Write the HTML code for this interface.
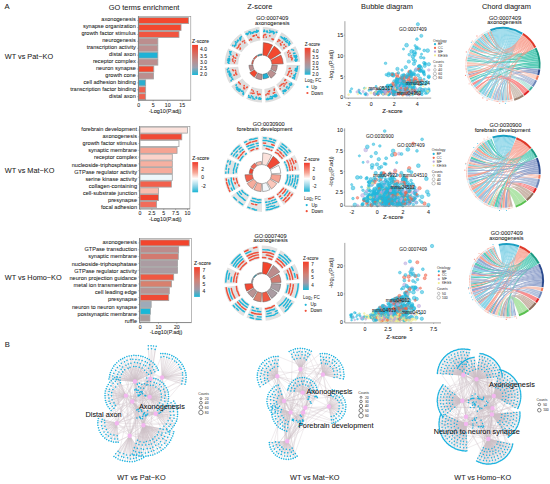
<!DOCTYPE html><html><head><meta charset="utf-8"><style>html,body{margin:0;padding:0;background:#fff;}svg{display:block;}</style></head><body>
<svg width="550" height="484" viewBox="0 0 550 484" font-family='"Liberation Sans", sans-serif'>
<rect width="550" height="484" fill="#fff"/>
<text x="4.6" y="9.1" font-size="7.6" text-anchor="start" fill="#1a1a1a" stroke="#1a1a1a" stroke-width="0.06" >A</text>
<text x="4.8" y="346.6" font-size="7.6" text-anchor="start" fill="#1a1a1a" stroke="#1a1a1a" stroke-width="0.06" >B</text>
<text x="144" y="9.6" font-size="7.4" text-anchor="middle" fill="#222" stroke="#222" stroke-width="0.06" >GO terms enrichment</text>
<text x="259.8" y="9.4" font-size="7.4" text-anchor="middle" fill="#222" stroke="#222" stroke-width="0.06" >Z-score</text>
<text x="387" y="9.4" font-size="7.4" text-anchor="middle" fill="#222" stroke="#222" stroke-width="0.06" >Bubble diagram</text>
<text x="506.4" y="9.4" font-size="7.4" text-anchor="middle" fill="#222" stroke="#222" stroke-width="0.06" >Chord diagram</text>
<text x="4.8" y="59.1" font-size="7.3" text-anchor="start" fill="#222" stroke="#222" stroke-width="0.06" >WT vs Pat−KO</text>
<text x="4.8" y="172.6" font-size="7.3" text-anchor="start" fill="#222" stroke="#222" stroke-width="0.06" >WT vs Mat−KO</text>
<text x="4.8" y="279.5" font-size="7.3" text-anchor="start" fill="#222" stroke="#222" stroke-width="0.06" >WT vs Homo−KO</text>
<text x="141.4" y="479.5" font-size="7.3" text-anchor="middle" fill="#222" stroke="#222" stroke-width="0.06" >WT vs Pat−KO</text>
<text x="314.8" y="479.5" font-size="7.3" text-anchor="middle" fill="#222" stroke="#222" stroke-width="0.06" >WT vs Mat−KO</text>
<text x="482.7" y="479.5" font-size="7.3" text-anchor="middle" fill="#222" stroke="#222" stroke-width="0.06" >WT vs Homo−KO</text>
<rect x="138.4" y="16.4" width="52.4" height="83.8" fill="none" stroke="#8c8c8c" stroke-width="0.6"/>
<rect x="138.7" y="17.6" width="49.88" height="6" fill="#f2482f" stroke="#a2a2a2" stroke-width="0.8"/>
<text x="135.8" y="20.55" font-size="5.6" text-anchor="end" fill="#222" stroke="#222" stroke-width="0.06" >axonogenesis</text>
<line x1="137.2" y1="20.6" x2="138.4" y2="20.6" stroke="#555" stroke-width="0.4"/>
<rect x="138.7" y="24.52" width="42.34" height="6" fill="#f2482f" stroke="#a2a2a2" stroke-width="0.8"/>
<text x="135.8" y="27.61" font-size="5.6" text-anchor="end" fill="#222" stroke="#222" stroke-width="0.06" >synapse organization</text>
<line x1="137.2" y1="27.52" x2="138.4" y2="27.52" stroke="#555" stroke-width="0.4"/>
<rect x="138.7" y="31.44" width="40.31" height="6" fill="#f15540" stroke="#a2a2a2" stroke-width="0.8"/>
<text x="135.8" y="34.67" font-size="5.6" text-anchor="end" fill="#222" stroke="#222" stroke-width="0.06" >growth factor stimulus</text>
<line x1="137.2" y1="34.44" x2="138.4" y2="34.44" stroke="#555" stroke-width="0.4"/>
<rect x="138.7" y="38.36" width="19.14" height="6" fill="#bc8e8e" stroke="#a2a2a2" stroke-width="0.8"/>
<text x="135.8" y="41.73" font-size="5.6" text-anchor="end" fill="#222" stroke="#222" stroke-width="0.06" >neurogenesis</text>
<line x1="137.2" y1="41.36" x2="138.4" y2="41.36" stroke="#555" stroke-width="0.4"/>
<rect x="138.7" y="45.28" width="19.14" height="6" fill="#bc9090" stroke="#a2a2a2" stroke-width="0.8"/>
<text x="135.8" y="48.79" font-size="5.6" text-anchor="end" fill="#222" stroke="#222" stroke-width="0.06" >transcription activity</text>
<line x1="137.2" y1="48.28" x2="138.4" y2="48.28" stroke="#555" stroke-width="0.4"/>
<rect x="138.7" y="52.2" width="19.14" height="6" fill="#1eb2d6" stroke="#a2a2a2" stroke-width="0.8"/>
<text x="135.8" y="55.85" font-size="5.6" text-anchor="end" fill="#222" stroke="#222" stroke-width="0.06" >distal axon</text>
<line x1="137.2" y1="55.2" x2="138.4" y2="55.2" stroke="#555" stroke-width="0.4"/>
<rect x="138.7" y="59.12" width="19.14" height="6" fill="#bc8e8e" stroke="#a2a2a2" stroke-width="0.8"/>
<text x="135.8" y="62.91" font-size="5.6" text-anchor="end" fill="#222" stroke="#222" stroke-width="0.06" >receptor complex</text>
<line x1="137.2" y1="62.12" x2="138.4" y2="62.12" stroke="#555" stroke-width="0.4"/>
<rect x="138.7" y="66.04" width="15.08" height="6" fill="#f2482f" stroke="#a2a2a2" stroke-width="0.8"/>
<text x="135.8" y="69.97" font-size="5.6" text-anchor="end" fill="#222" stroke="#222" stroke-width="0.06" >neuron synapse</text>
<line x1="137.2" y1="69.04" x2="138.4" y2="69.04" stroke="#555" stroke-width="0.4"/>
<rect x="138.7" y="72.96" width="14.79" height="6" fill="#bc8e8e" stroke="#a2a2a2" stroke-width="0.8"/>
<text x="135.8" y="77.03" font-size="5.6" text-anchor="end" fill="#222" stroke="#222" stroke-width="0.06" >growth cone</text>
<line x1="137.2" y1="75.96" x2="138.4" y2="75.96" stroke="#555" stroke-width="0.4"/>
<rect x="138.7" y="79.88" width="6.96" height="6" fill="#2aaed0" stroke="#a2a2a2" stroke-width="0.8"/>
<text x="135.8" y="84.09" font-size="5.6" text-anchor="end" fill="#222" stroke="#222" stroke-width="0.06" >cell adhesion binding</text>
<line x1="137.2" y1="82.88" x2="138.4" y2="82.88" stroke="#555" stroke-width="0.4"/>
<rect x="138.7" y="86.8" width="6.96" height="6" fill="#ee6250" stroke="#a2a2a2" stroke-width="0.8"/>
<text x="135.8" y="91.15" font-size="5.6" text-anchor="end" fill="#222" stroke="#222" stroke-width="0.06" >transcription factor binding</text>
<line x1="137.2" y1="89.8" x2="138.4" y2="89.8" stroke="#555" stroke-width="0.4"/>
<rect x="138.7" y="93.72" width="6.96" height="6" fill="#ee6250" stroke="#a2a2a2" stroke-width="0.8"/>
<text x="135.8" y="98.21" font-size="5.6" text-anchor="end" fill="#222" stroke="#222" stroke-width="0.06" >distal axon</text>
<line x1="137.2" y1="96.72" x2="138.4" y2="96.72" stroke="#555" stroke-width="0.4"/>
<line x1="138.4" y1="16.4" x2="138.4" y2="100.2" stroke="#6a6a6a" stroke-width="0.6"/>
<line x1="138.4" y1="100.2" x2="190.8" y2="100.2" stroke="#6a6a6a" stroke-width="0.6"/>
<line x1="138.7" y1="100.2" x2="138.7" y2="101.4" stroke="#555" stroke-width="0.4"/>
<text x="138.7" y="106.5" font-size="5.2" text-anchor="middle" fill="#222" stroke="#222" stroke-width="0.06" >0</text>
<line x1="153.2" y1="100.2" x2="153.2" y2="101.4" stroke="#555" stroke-width="0.4"/>
<text x="153.2" y="106.5" font-size="5.2" text-anchor="middle" fill="#222" stroke="#222" stroke-width="0.06" >5</text>
<line x1="167.7" y1="100.2" x2="167.7" y2="101.4" stroke="#555" stroke-width="0.4"/>
<text x="167.7" y="106.5" font-size="5.2" text-anchor="middle" fill="#222" stroke="#222" stroke-width="0.06" >10</text>
<line x1="182.2" y1="100.2" x2="182.2" y2="101.4" stroke="#555" stroke-width="0.4"/>
<text x="182.2" y="106.5" font-size="5.2" text-anchor="middle" fill="#222" stroke="#222" stroke-width="0.06" >15</text>
<text x="165.1" y="112.5" font-size="5.5" text-anchor="middle" fill="#222" stroke="#222" stroke-width="0.06" >-Log10(P.adj)</text>
<defs><linearGradient id="g1" x1="0" y1="0" x2="0" y2="1"><stop offset="0" stop-color="#f5402a"/><stop offset="0.5" stop-color="#c08a88"/><stop offset="0.75" stop-color="#9aa2b0"/><stop offset="1" stop-color="#1ab8d8"/></linearGradient></defs>
<rect x="192.1" y="44.9" width="5.9" height="30.1" fill="url(#g1)"/>
<text x="192.1" y="42.7" font-size="5.0" text-anchor="start" fill="#222" stroke="#222" stroke-width="0.06" >Z-score</text>
<text x="200" y="51.3" font-size="5.0" text-anchor="start" fill="#222" stroke="#222" stroke-width="0.06" >4.0</text>
<text x="200" y="57.6" font-size="5.0" text-anchor="start" fill="#222" stroke="#222" stroke-width="0.06" >3.5</text>
<text x="200" y="63.8" font-size="5.0" text-anchor="start" fill="#222" stroke="#222" stroke-width="0.06" >3.0</text>
<text x="200" y="70" font-size="5.0" text-anchor="start" fill="#222" stroke="#222" stroke-width="0.06" >2.5</text>
<text x="200" y="76.1" font-size="5.0" text-anchor="start" fill="#222" stroke="#222" stroke-width="0.06" >2.0</text>
<rect x="139.5" y="126.3" width="50.4" height="82.6" fill="none" stroke="#8c8c8c" stroke-width="0.6"/>
<rect x="140" y="127.1" width="47.5" height="6" fill="#fbe2dc" stroke="#a2a2a2" stroke-width="0.8"/>
<text x="137" y="130.95" font-size="5.6" text-anchor="end" fill="#222" stroke="#222" stroke-width="0.06" >forebrain development</text>
<line x1="138.3" y1="130.1" x2="139.5" y2="130.1" stroke="#555" stroke-width="0.4"/>
<rect x="140" y="133.85" width="41.8" height="6" fill="#f04a35" stroke="#a2a2a2" stroke-width="0.8"/>
<text x="137" y="138.07" font-size="5.6" text-anchor="end" fill="#222" stroke="#222" stroke-width="0.06" >axonogenesis</text>
<line x1="138.3" y1="136.85" x2="139.5" y2="136.85" stroke="#555" stroke-width="0.4"/>
<rect x="140" y="140.6" width="38.95" height="6" fill="#ffffff" stroke="#a2a2a2" stroke-width="0.8"/>
<text x="137" y="145.19" font-size="5.6" text-anchor="end" fill="#222" stroke="#222" stroke-width="0.06" >growth factor stimulus</text>
<line x1="138.3" y1="143.6" x2="139.5" y2="143.6" stroke="#555" stroke-width="0.4"/>
<rect x="140" y="147.35" width="37.05" height="6" fill="#f5a493" stroke="#a2a2a2" stroke-width="0.8"/>
<text x="137" y="152.31" font-size="5.6" text-anchor="end" fill="#222" stroke="#222" stroke-width="0.06" >synaptic membrane</text>
<line x1="138.3" y1="150.35" x2="139.5" y2="150.35" stroke="#555" stroke-width="0.4"/>
<rect x="140" y="154.1" width="32.3" height="6" fill="#fbd3ca" stroke="#a2a2a2" stroke-width="0.8"/>
<text x="137" y="159.43" font-size="5.6" text-anchor="end" fill="#222" stroke="#222" stroke-width="0.06" >receptor complex</text>
<line x1="138.3" y1="157.1" x2="139.5" y2="157.1" stroke="#555" stroke-width="0.4"/>
<rect x="140" y="160.85" width="32.3" height="6" fill="#f6b0a1" stroke="#a2a2a2" stroke-width="0.8"/>
<text x="137" y="166.55" font-size="5.6" text-anchor="end" fill="#222" stroke="#222" stroke-width="0.06" >nucleoside-triphosphatase</text>
<line x1="138.3" y1="163.85" x2="139.5" y2="163.85" stroke="#555" stroke-width="0.4"/>
<rect x="140" y="167.6" width="32.3" height="6" fill="#f6ac9c" stroke="#a2a2a2" stroke-width="0.8"/>
<text x="137" y="173.67" font-size="5.6" text-anchor="end" fill="#222" stroke="#222" stroke-width="0.06" >GTPase regulator activity</text>
<line x1="138.3" y1="170.6" x2="139.5" y2="170.6" stroke="#555" stroke-width="0.4"/>
<rect x="140" y="174.35" width="32.3" height="6" fill="#eef8fb" stroke="#a2a2a2" stroke-width="0.8"/>
<text x="137" y="180.79" font-size="5.6" text-anchor="end" fill="#222" stroke="#222" stroke-width="0.06" >serine kinase activity</text>
<line x1="138.3" y1="177.35" x2="139.5" y2="177.35" stroke="#555" stroke-width="0.4"/>
<rect x="140" y="181.1" width="31.35" height="6" fill="#f2604c" stroke="#a2a2a2" stroke-width="0.8"/>
<text x="137" y="187.91" font-size="5.6" text-anchor="end" fill="#222" stroke="#222" stroke-width="0.06" >collagen-containing</text>
<line x1="138.3" y1="184.1" x2="139.5" y2="184.1" stroke="#555" stroke-width="0.4"/>
<rect x="140" y="187.85" width="18.52" height="6" fill="#f8bcae" stroke="#a2a2a2" stroke-width="0.8"/>
<text x="137" y="195.03" font-size="5.6" text-anchor="end" fill="#222" stroke="#222" stroke-width="0.06" >cell-substrate junction</text>
<line x1="138.3" y1="190.85" x2="139.5" y2="190.85" stroke="#555" stroke-width="0.4"/>
<rect x="140" y="194.6" width="18.52" height="6" fill="#f0442f" stroke="#a2a2a2" stroke-width="0.8"/>
<text x="137" y="202.15" font-size="5.6" text-anchor="end" fill="#222" stroke="#222" stroke-width="0.06" >presynapse</text>
<line x1="138.3" y1="197.6" x2="139.5" y2="197.6" stroke="#555" stroke-width="0.4"/>
<rect x="140" y="201.35" width="16.62" height="6" fill="#f26c5a" stroke="#a2a2a2" stroke-width="0.8"/>
<text x="137" y="209.27" font-size="5.6" text-anchor="end" fill="#222" stroke="#222" stroke-width="0.06" >focal adhesion</text>
<line x1="138.3" y1="204.35" x2="139.5" y2="204.35" stroke="#555" stroke-width="0.4"/>
<line x1="139.5" y1="126.3" x2="139.5" y2="208.9" stroke="#6a6a6a" stroke-width="0.6"/>
<line x1="139.5" y1="208.9" x2="189.9" y2="208.9" stroke="#6a6a6a" stroke-width="0.6"/>
<line x1="140" y1="208.9" x2="140" y2="210.1" stroke="#555" stroke-width="0.4"/>
<text x="140" y="214.8" font-size="5.2" text-anchor="middle" fill="#222" stroke="#222" stroke-width="0.06" >0</text>
<line x1="151.88" y1="208.9" x2="151.88" y2="210.1" stroke="#555" stroke-width="0.4"/>
<text x="151.88" y="214.8" font-size="5.2" text-anchor="middle" fill="#222" stroke="#222" stroke-width="0.06" >2.5</text>
<line x1="163.75" y1="208.9" x2="163.75" y2="210.1" stroke="#555" stroke-width="0.4"/>
<text x="163.75" y="214.8" font-size="5.2" text-anchor="middle" fill="#222" stroke="#222" stroke-width="0.06" >5</text>
<line x1="175.62" y1="208.9" x2="175.62" y2="210.1" stroke="#555" stroke-width="0.4"/>
<text x="175.62" y="214.8" font-size="5.2" text-anchor="middle" fill="#222" stroke="#222" stroke-width="0.06" >7.5</text>
<line x1="187.5" y1="208.9" x2="187.5" y2="210.1" stroke="#555" stroke-width="0.4"/>
<text x="187.5" y="214.8" font-size="5.2" text-anchor="middle" fill="#222" stroke="#222" stroke-width="0.06" >10</text>
<text x="165.2" y="221" font-size="5.5" text-anchor="middle" fill="#222" stroke="#222" stroke-width="0.06" >-Log10(P.adj)</text>
<defs><linearGradient id="g2" x1="0" y1="0" x2="0" y2="1"><stop offset="0" stop-color="#f03a2a"/><stop offset="0.35" stop-color="#f7a898"/><stop offset="0.55" stop-color="#ffffff"/><stop offset="0.8" stop-color="#8fd3e6"/><stop offset="1" stop-color="#1ab5d5"/></linearGradient></defs>
<rect x="192.3" y="162.1" width="5.8" height="30.2" fill="url(#g2)"/>
<text x="192.3" y="159.9" font-size="5.0" text-anchor="start" fill="#222" stroke="#222" stroke-width="0.06" >Z-score</text>
<text x="201.3" y="170.8" font-size="5.0" text-anchor="start" fill="#222" stroke="#222" stroke-width="0.06" >2</text>
<text x="201.3" y="179.2" font-size="5.0" text-anchor="start" fill="#222" stroke="#222" stroke-width="0.06" >0</text>
<text x="201.3" y="187.6" font-size="5.0" text-anchor="start" fill="#222" stroke="#222" stroke-width="0.06" >-2</text>
<rect x="139.5" y="238.4" width="52.1" height="84.2" fill="none" stroke="#8c8c8c" stroke-width="0.6"/>
<rect x="140.2" y="239.9" width="49.04" height="6" fill="#f2452d" stroke="#a2a2a2" stroke-width="0.8"/>
<text x="137" y="244.15" font-size="5.6" text-anchor="end" fill="#222" stroke="#222" stroke-width="0.06" >axonogenesis</text>
<line x1="138.3" y1="242.9" x2="139.5" y2="242.9" stroke="#555" stroke-width="0.4"/>
<rect x="140.2" y="246.74" width="38.43" height="6" fill="#bc8c8c" stroke="#a2a2a2" stroke-width="0.8"/>
<text x="137" y="251.3" font-size="5.6" text-anchor="end" fill="#222" stroke="#222" stroke-width="0.06" >GTPase transduction</text>
<line x1="138.3" y1="249.74" x2="139.5" y2="249.74" stroke="#555" stroke-width="0.4"/>
<rect x="140.2" y="253.58" width="38.06" height="6" fill="#d27a70" stroke="#a2a2a2" stroke-width="0.8"/>
<text x="137" y="258.45" font-size="5.6" text-anchor="end" fill="#222" stroke="#222" stroke-width="0.06" >synaptic membrane</text>
<line x1="138.3" y1="256.58" x2="139.5" y2="256.58" stroke="#555" stroke-width="0.4"/>
<rect x="140.2" y="260.42" width="37.33" height="6" fill="#ab9ca2" stroke="#a2a2a2" stroke-width="0.8"/>
<text x="137" y="265.6" font-size="5.6" text-anchor="end" fill="#222" stroke="#222" stroke-width="0.06" >nucleoside-triphosphatase</text>
<line x1="138.3" y1="263.42" x2="139.5" y2="263.42" stroke="#555" stroke-width="0.4"/>
<rect x="140.2" y="267.26" width="37.33" height="6" fill="#ab9ca2" stroke="#a2a2a2" stroke-width="0.8"/>
<text x="137" y="272.75" font-size="5.6" text-anchor="end" fill="#222" stroke="#222" stroke-width="0.06" >GTPase regulator activity</text>
<line x1="138.3" y1="270.26" x2="139.5" y2="270.26" stroke="#555" stroke-width="0.4"/>
<rect x="140.2" y="274.1" width="33.49" height="6" fill="#f05842" stroke="#a2a2a2" stroke-width="0.8"/>
<text x="137" y="279.9" font-size="5.6" text-anchor="end" fill="#222" stroke="#222" stroke-width="0.06" >neuron projection guidance</text>
<line x1="138.3" y1="277.1" x2="139.5" y2="277.1" stroke="#555" stroke-width="0.4"/>
<rect x="140.2" y="280.94" width="31.29" height="6" fill="#d8806e" stroke="#a2a2a2" stroke-width="0.8"/>
<text x="137" y="287.05" font-size="5.6" text-anchor="end" fill="#222" stroke="#222" stroke-width="0.06" >metal ion transmembrane</text>
<line x1="138.3" y1="283.94" x2="139.5" y2="283.94" stroke="#555" stroke-width="0.4"/>
<rect x="140.2" y="287.78" width="29.1" height="6" fill="#b89494" stroke="#a2a2a2" stroke-width="0.8"/>
<text x="137" y="294.2" font-size="5.6" text-anchor="end" fill="#222" stroke="#222" stroke-width="0.06" >cell leading edge</text>
<line x1="138.3" y1="290.78" x2="139.5" y2="290.78" stroke="#555" stroke-width="0.4"/>
<rect x="140.2" y="294.62" width="28.55" height="6" fill="#f04a35" stroke="#a2a2a2" stroke-width="0.8"/>
<text x="137" y="301.35" font-size="5.6" text-anchor="end" fill="#222" stroke="#222" stroke-width="0.06" >presynapse</text>
<line x1="138.3" y1="297.62" x2="139.5" y2="297.62" stroke="#555" stroke-width="0.4"/>
<rect x="140.2" y="301.46" width="10.98" height="6" fill="#9eaab8" stroke="#a2a2a2" stroke-width="0.8"/>
<text x="137" y="308.5" font-size="5.6" text-anchor="end" fill="#222" stroke="#222" stroke-width="0.06" >neuron to neuron synapse</text>
<line x1="138.3" y1="304.46" x2="139.5" y2="304.46" stroke="#555" stroke-width="0.4"/>
<rect x="140.2" y="308.3" width="10.25" height="6" fill="#1ab8d8" stroke="#a2a2a2" stroke-width="0.8"/>
<text x="137" y="315.65" font-size="5.6" text-anchor="end" fill="#222" stroke="#222" stroke-width="0.06" >postsynaptic membrane</text>
<line x1="138.3" y1="311.3" x2="139.5" y2="311.3" stroke="#555" stroke-width="0.4"/>
<rect x="140.2" y="315.14" width="9.7" height="6" fill="#ab9c9c" stroke="#a2a2a2" stroke-width="0.8"/>
<text x="137" y="322.8" font-size="5.6" text-anchor="end" fill="#222" stroke="#222" stroke-width="0.06" >ruffle</text>
<line x1="138.3" y1="318.14" x2="139.5" y2="318.14" stroke="#555" stroke-width="0.4"/>
<line x1="139.5" y1="238.4" x2="139.5" y2="322.6" stroke="#6a6a6a" stroke-width="0.6"/>
<line x1="139.5" y1="322.6" x2="191.6" y2="322.6" stroke="#6a6a6a" stroke-width="0.6"/>
<line x1="140.2" y1="322.6" x2="140.2" y2="323.8" stroke="#555" stroke-width="0.4"/>
<text x="140.2" y="328.6" font-size="5.2" text-anchor="middle" fill="#222" stroke="#222" stroke-width="0.06" >0</text>
<line x1="158.5" y1="322.6" x2="158.5" y2="323.8" stroke="#555" stroke-width="0.4"/>
<text x="158.5" y="328.6" font-size="5.2" text-anchor="middle" fill="#222" stroke="#222" stroke-width="0.06" >10</text>
<line x1="176.8" y1="322.6" x2="176.8" y2="323.8" stroke="#555" stroke-width="0.4"/>
<text x="176.8" y="328.6" font-size="5.2" text-anchor="middle" fill="#222" stroke="#222" stroke-width="0.06" >20</text>
<text x="166.05" y="334.3" font-size="5.5" text-anchor="middle" fill="#222" stroke="#222" stroke-width="0.06" >-Log10(P.adj)</text>
<defs><linearGradient id="g3" x1="0" y1="0" x2="0" y2="1"><stop offset="0" stop-color="#f5402a"/><stop offset="0.45" stop-color="#d08278"/><stop offset="0.75" stop-color="#a09aa8"/><stop offset="1" stop-color="#1ab8d8"/></linearGradient></defs>
<rect x="194.1" y="267.1" width="5.8" height="29.8" fill="url(#g3)"/>
<text x="194.1" y="264.9" font-size="5.0" text-anchor="start" fill="#222" stroke="#222" stroke-width="0.06" >Z-score</text>
<text x="202.5" y="272.1" font-size="5.0" text-anchor="start" fill="#222" stroke="#222" stroke-width="0.06" >7</text>
<text x="202.5" y="279.1" font-size="5.0" text-anchor="start" fill="#222" stroke="#222" stroke-width="0.06" >6</text>
<text x="202.5" y="286.1" font-size="5.0" text-anchor="start" fill="#222" stroke="#222" stroke-width="0.06" >5</text>
<text x="202.5" y="293.1" font-size="5.0" text-anchor="start" fill="#222" stroke="#222" stroke-width="0.06" >4</text>
<path d="M262.8,26.9 A37.8,37.8 0 0 1 278.61,30.55 L272.82,42.75 A24.3,24.3 0 0 0 262.65,40.4 Z" fill="#dedede"/>
<path d="M281.64,32.16 A37.8,37.8 0 0 1 293.51,43.24 L282.4,50.9 A24.3,24.3 0 0 0 274.77,43.78 Z" fill="#dedede"/>
<path d="M295.33,46.14 A37.8,37.8 0 0 1 300.08,61.67 L286.62,62.75 A24.3,24.3 0 0 0 283.57,52.77 Z" fill="#dedede"/>
<path d="M300.2,65.1 A37.8,37.8 0 0 1 296.55,80.91 L284.35,75.12 A24.3,24.3 0 0 0 286.7,64.95 Z" fill="#dedede"/>
<path d="M294.94,83.94 A37.8,37.8 0 0 1 283.86,95.81 L276.2,84.7 A24.3,24.3 0 0 0 283.32,77.07 Z" fill="#dedede"/>
<path d="M280.96,97.63 A37.8,37.8 0 0 1 265.43,102.38 L264.35,88.92 A24.3,24.3 0 0 0 274.33,85.87 Z" fill="#dedede"/>
<path d="M262,102.5 A37.8,37.8 0 0 1 246.19,98.85 L251.98,86.65 A24.3,24.3 0 0 0 262.15,89 Z" fill="#dedede"/>
<path d="M243.16,97.24 A37.8,37.8 0 0 1 231.29,86.16 L242.4,78.5 A24.3,24.3 0 0 0 250.03,85.62 Z" fill="#dedede"/>
<path d="M229.47,83.26 A37.8,37.8 0 0 1 224.72,67.73 L238.18,66.65 A24.3,24.3 0 0 0 241.23,76.63 Z" fill="#dedede"/>
<path d="M224.6,64.3 A37.8,37.8 0 0 1 228.25,48.49 L240.45,54.28 A24.3,24.3 0 0 0 238.1,64.45 Z" fill="#dedede"/>
<path d="M229.86,45.46 A37.8,37.8 0 0 1 240.94,33.59 L248.6,44.7 A24.3,24.3 0 0 0 241.48,52.33 Z" fill="#dedede"/>
<path d="M243.84,31.77 A37.8,37.8 0 0 1 259.37,27.02 L260.45,40.48 A24.3,24.3 0 0 0 250.47,43.53 Z" fill="#dedede"/>
<path d="M270.79 31.78h0M269.87 30.3h0M271.18 31.73h0M270.03 32.31h0M273.83 32.21h0M267.41 32.04h0M273.56 33.61h0M264.22 30.14h0M276.29 32.19h0M271.63 31.46h0M263.81 31.52h0M264.43 30.59h0M266.67 31.68h0M269.36 32.57h0M274.27 32.9h0M271.85 31.88h0M272.11 32.01h0M267.23 31.06h0M276.69 32.32h0M272.94 31.34h0M266.56 31.34h0M264.52 31.22h0M285.26 39.19h0M287.17 42.44h0M286.29 41.73h0M284.24 39.82h0M282.93 38.41h0M289.31 41.81h0M288.65 43.74h0M284.14 39.42h0M287.63 40.41h0M289.03 45.11h0M282.81 38.32h0M284.43 37.75h0M281.03 36.77h0M285.68 41.26h0M286.13 41.15h0M284.99 39.6h0M286.31 38.74h0M289.05 43.11h0M281.7 37.6h0M289.31 42.06h0M282.17 37.72h0M289.98 43.61h0M293.68 53.4h0M293.47 50.19h0M295.77 59.73h0M296.76 56.4h0M295.79 55.65h0M291.91 49.57h0M294.92 60.1h0M296.77 60.53h0M294.28 56.73h0M295.71 57.63h0M295.84 61.12h0M294.12 55.61h0M296.75 59.7h0M296.29 57.15h0M296.93 59.88h0M295.26 57.14h0M297.12 59.26h0M295.7 58.43h0M296.18 55.39h0M294.84 53.17h0M295.6 56.03h0M294.43 56.74h0M295.96 69.16h0M294.85 76.27h0M296.94 68.61h0M295.52 68.7h0M297.36 68.79h0M295.07 70.31h0M297.48 66.53h0M292.64 77.83h0M297.23 67.48h0M293.89 77.6h0M296.78 71.03h0M295.1 74.54h0M294.88 76.81h0M296.39 70.13h0M297 69.66h0M295.3 74.69h0M295.44 70.42h0M295.81 73.27h0M296.24 71.24h0M293.9 75.47h0M294.05 75.65h0M294.37 78.63h0M285.2 91.37h0M288.51 88.39h0M290.1 85.25h0M284.72 91.24h0M285.58 90.21h0M283.06 90.88h0M283.47 93.08h0M284.68 90.64h0M283.14 91.18h0M289.35 87.07h0M287.05 86.67h0M284.93 90.47h0M291.06 83.11h0M291.51 83.96h0M290.66 85.14h0M284.37 90.22h0M289.45 83.88h0M285.3 90.02h0M286.2 90.34h0M288.25 88.67h0M291.65 84.41h0M286.58 87.71h0M268.78 99.31h0M275.37 95.97h0M274.33 96.62h0M266.99 99.54h0M272.37 98.45h0M273.04 96.03h0M274.84 95.13h0M266.38 99.1h0M276.05 94.63h0M274.54 95.2h0M275.71 96.73h0M272.37 97.31h0M267.96 98.56h0M269.71 98.34h0M267.66 98.92h0M270.41 96.57h0M271.14 98.54h0M267.79 98.47h0M275.84 96.14h0M271.63 96.76h0M276.87 95.83h0M271.04 98.8h0M248.77 95.51h0M250.67 97.64h0M260.84 98.72h0M253.12 98.22h0M254.74 99.01h0M259.73 97.89h0M259.19 97.79h0M252.72 96.81h0M259.39 98.88h0M260.11 99.19h0M256.31 97.19h0M256.61 98.11h0M256.47 97.52h0M260.6 99.1h0M256.05 97.41h0M256.44 97.9h0M253.12 98.65h0M251.44 95.88h0M260.08 98.26h0M249.75 97.32h0M248.9 97.17h0M258.66 98.78h0M236.89 89.25h0M236.39 87.55h0M243.36 94.48h0M236.75 87.63h0M240.51 90.01h0M242.88 91.22h0M243.39 92.62h0M236.1 85.37h0M238.98 89.66h0M237.66 89.9h0M236.94 89.28h0M243 93.72h0M236.61 87.4h0M236.33 84.79h0M240.01 89.23h0M239.77 89.05h0M243.48 93.42h0M239.14 91.2h0M238.18 88.81h0M241.47 91.18h0M238.29 89.38h0M237.59 87.26h0M230.8 73.99h0M230.94 75.07h0M229.55 75.35h0M230.09 73.48h0M229.13 71.13h0M228.42 68.36h0M227.88 71.97h0M232.22 79.04h0M227.9 71.28h0M230.07 76.51h0M229.75 72.22h0M229.3 73.57h0M228.64 71.55h0M231.63 77.43h0M227.39 69.58h0M231.15 80.65h0M231.84 77.04h0M229.55 73.08h0M230.63 73.87h0M232.75 79.17h0M229.16 74.17h0M229.99 76.35h0M229.63 60.82h0M227.96 62.36h0M230.44 54.37h0M228.16 59.72h0M229.72 59h0M228.25 58.62h0M230.84 54.71h0M230.64 51.79h0M229.73 51.49h0M230.43 53.31h0M229.22 59.43h0M231.13 51.76h0M227.58 60.11h0M229.18 58.8h0M229.24 58.42h0M228.8 60.96h0M230.09 53.28h0M230.33 52.81h0M228.32 61.15h0M230 52.07h0M228.9 63.19h0M229.27 56.46h0M240.68 38.71h0M240.53 37.97h0M240.1 37.86h0M241.26 36.67h0M237.41 40.97h0M239.94 38.32h0M236.92 42.34h0M240.31 39.94h0M235.41 41.83h0M235.7 44.9h0M235.85 43.61h0M232.91 45.26h0M234.74 45.62h0M239.78 38.67h0M234.65 46.36h0M238.29 40.73h0M232.87 45.6h0M235.68 45.2h0M235.83 44.51h0M237.92 40.16h0M235.44 45.02h0M235.23 45.06h0M250.56 33.67h0M257.19 31.63h0M254.13 31.57h0M249.09 31.92h0M248.16 33.62h0M246.13 33.93h0M256.66 30.24h0M247.03 33.33h0M255.27 31.96h0M252.5 33.17h0M258.21 30.94h0M256.91 30.82h0M256.17 31.69h0M257.73 31.14h0M256.73 32.15h0M253.18 32.66h0M248.25 33.6h0M249.81 32.08h0M247.54 34.56h0M252.18 32.7h0M250.51 32.14h0M247.46 33.51h0" stroke="#1fb6d8" stroke-width="1.7" stroke-linecap="round" />
<path d="M272.05 38.97h0M263.67 35.35h0M272.75 39.48h0M273.38 39.42h0M269.83 35.84h0M266.28 37.04h0M263.56 37.35h0M264.86 34.59h0M263.54 36.87h0M265.55 34.61h0M280.49 43.56h0M282.21 42.14h0M281 44.94h0M284.2 44.7h0M285.83 46.28h0M279.8 40.69h0M280.76 44.7h0M283.97 47.91h0M277.84 41.46h0M278.83 39.8h0M292.09 58.38h0M292.07 57.98h0M291.81 59.71h0M288.86 56.77h0M291.05 55.71h0M287.82 52.61h0M288.63 50.96h0M290.92 57.29h0M288.55 54.96h0M289.99 53.19h0M288.89 72.21h0M291.52 73.61h0M290.14 68.44h0M289.51 71.34h0M289.35 68.51h0M290.02 76.28h0M288.32 73.81h0M287.45 75.04h0M291.21 70.82h0M288.98 71.57h0M284.07 85.88h0M279.98 86.02h0M284.99 83.94h0M284.77 80.47h0M286.51 82.53h0M281.82 84.32h0M285.57 79.78h0M280.15 88.83h0M281.16 84.93h0M283.26 83.55h0M273.3 93.06h0M274.59 92.52h0M274.25 90.14h0M274.3 89.11h0M267.39 93.69h0M268.9 93.94h0M268.56 91.48h0M269.64 90.83h0M265.99 94.88h0M269.17 91.71h0M258.33 94.69h0M253.29 91.06h0M257.64 93.77h0M252.67 93.31h0M259.25 94.08h0M260.18 94.28h0M251.09 93.01h0M251.88 89.87h0M253.97 93.18h0M257.32 91.87h0M240.28 83.97h0M244.18 85.65h0M243.93 87.53h0M238.75 82.1h0M239.29 82.86h0M244.01 88.61h0M247.17 87.06h0M238.85 82.43h0M246.65 87.52h0M244.63 88.68h0M234.56 75.12h0M232.63 69.75h0M235.83 73.41h0M235.43 70.24h0M233.93 74.98h0M233.33 70.54h0M236.52 74.04h0M236.65 74.5h0M235.88 72.06h0M233.29 70.36h0M233.16 56.15h0M233.9 57.58h0M235.27 60.86h0M234.39 62.77h0M236.9 55.47h0M233.02 61.14h0M232.71 59.09h0M232.53 59.78h0M235.61 58.11h0M236.59 54.25h0M244.16 40.81h0M240.1 44.15h0M238.96 45.34h0M240.35 48.13h0M240.08 49.05h0M242.58 41.56h0M237.14 48.07h0M244.79 42.84h0M238.72 46.54h0M237.96 47.25h0M256.33 35.21h0M249.51 40.08h0M253.31 35.95h0M253.18 36.18h0M257.78 37.06h0M250.72 39.16h0M256.31 34.89h0M254.18 35.63h0M251.49 39.67h0M258.92 37.53h0" stroke="#f0503a" stroke-width="1.7" stroke-linecap="round" />
<path d="M263.33,42.62 A22.1,22.1 0 0 1 272.64,45.11 L266.8,56.28 A9.5,9.5 0 0 0 262.8,55.21 Z" fill="#f2482f" stroke="#555" stroke-width="0.45"/>
<path d="M274.19,46.12 A22,22 0 0 1 280.98,52.91 L270.42,59.61 A9.5,9.5 0 0 0 267.49,56.68 Z" fill="#f2482f" stroke="#555" stroke-width="0.45"/>
<path d="M280.92,55.02 A20.9,20.9 0 0 1 283.28,63.82 L271.89,64.3 A9.5,9.5 0 0 0 270.82,60.3 Z" fill="#f15540" stroke="#555" stroke-width="0.45"/>
<path d="M277.39,65.33 A15,15 0 0 1 275.69,71.65 L270.82,69.1 A9.5,9.5 0 0 0 271.89,65.1 Z" fill="#bc8e8e" stroke="#555" stroke-width="0.45"/>
<path d="M275.91,73.27 A16,16 0 0 1 270.97,78.21 L267.49,72.72 A9.5,9.5 0 0 0 270.42,69.79 Z" fill="#bc9090" stroke="#555" stroke-width="0.45"/>
<path d="M269.03,77.37 A14.3,14.3 0 0 1 263,78.99 L262.8,74.19 A9.5,9.5 0 0 0 266.8,73.12 Z" fill="#1eb2d6" stroke="#555" stroke-width="0.45"/>
<path d="M261.77,79.69 A15,15 0 0 1 255.45,77.99 L258,73.12 A9.5,9.5 0 0 0 262,74.19 Z" fill="#bc8e8e" stroke="#555" stroke-width="0.45"/>
<path d="M254.36,77.36 A15,15 0 0 1 249.74,72.74 L254.38,69.79 A9.5,9.5 0 0 0 257.31,72.72 Z" fill="#f2482f" stroke="#555" stroke-width="0.45"/>
<path d="M250.44,70.95 A13.5,13.5 0 0 1 248.91,65.27 L252.91,65.1 A9.5,9.5 0 0 0 253.98,69.1 Z" fill="#bc8e8e" stroke="#555" stroke-width="0.45"/>
<path d="M251.61,64.25 A10.8,10.8 0 0 1 252.83,59.7 L253.98,60.3 A9.5,9.5 0 0 0 252.91,64.3 Z" fill="#ee6250" stroke="#555" stroke-width="0.45"/>
<path d="M253.28,58.91 A10.8,10.8 0 0 1 256.61,55.58 L257.31,56.68 A9.5,9.5 0 0 0 254.38,59.61 Z" fill="#ee6250" stroke="#555" stroke-width="0.45"/>
<path d="M257.4,55.13 A10.8,10.8 0 0 1 261.95,53.91 L262,55.21 A9.5,9.5 0 0 0 258,56.28 Z" fill="#2a9fb8" stroke="#555" stroke-width="0.45"/>
<text x="272.3" y="19.8" font-size="5.6" text-anchor="middle" fill="#222" stroke="#222" stroke-width="0.06" >GO:0007409</text>
<text x="272.3" y="24.95" font-size="5.6" text-anchor="middle" fill="#222" stroke="#222" stroke-width="0.06" >axonogenesis</text>
<rect x="304.7" y="47.8" width="5.8" height="26.9" fill="url(#g1)"/>
<text x="304.7" y="45.8" font-size="4.55" text-anchor="start" fill="#222" stroke="#222" stroke-width="0.036" >Z-score</text>
<text x="312.2" y="53.4" font-size="4.55" text-anchor="start" fill="#222" stroke="#222" stroke-width="0.036" >4.0</text>
<text x="312.2" y="59" font-size="4.55" text-anchor="start" fill="#222" stroke="#222" stroke-width="0.036" >3.5</text>
<text x="312.2" y="64.5" font-size="4.55" text-anchor="start" fill="#222" stroke="#222" stroke-width="0.036" >3.0</text>
<text x="312.2" y="69.9" font-size="4.55" text-anchor="start" fill="#222" stroke="#222" stroke-width="0.036" >2.5</text>
<text x="312.2" y="75.6" font-size="4.55" text-anchor="start" fill="#222" stroke="#222" stroke-width="0.036" >2.0</text>
<text x="304.7" y="82.4" font-size="4.55" fill="#222">Log<tspan font-size="3.2" dy="1">2</tspan><tspan dy="-1"> FC</tspan></text>
<circle cx="307.4" cy="86.9" r="1.1" fill="#1fb6d8"/>
<text x="311.3" y="88.5" font-size="4.55" text-anchor="start" fill="#222" stroke="#222" stroke-width="0.036" >Up</text>
<circle cx="307.4" cy="93" r="1.1" fill="#f0503a"/>
<text x="311.3" y="94.6" font-size="4.55" text-anchor="start" fill="#222" stroke="#222" stroke-width="0.036" >Down</text>
<path d="M261.77,136.3 A37.8,37.8 0 0 1 277.64,139.73 L272.02,152.01 A24.3,24.3 0 0 0 261.82,149.8 Z" fill="#e4e4e4"/>
<path d="M280.69,141.3 A37.8,37.8 0 0 1 292.71,152.2 L281.71,160.02 A24.3,24.3 0 0 0 273.98,153.01 Z" fill="#e4e4e4"/>
<path d="M294.57,155.09 A37.8,37.8 0 0 1 299.53,170.54 L286.09,171.81 A24.3,24.3 0 0 0 282.9,161.88 Z" fill="#e4e4e4"/>
<path d="M299.7,173.97 A37.8,37.8 0 0 1 296.27,189.84 L283.99,184.22 A24.3,24.3 0 0 0 286.2,174.02 Z" fill="#e4e4e4"/>
<path d="M294.7,192.89 A37.8,37.8 0 0 1 283.8,204.91 L275.98,193.91 A24.3,24.3 0 0 0 282.99,186.18 Z" fill="#e4e4e4"/>
<path d="M280.91,206.77 A37.8,37.8 0 0 1 265.46,211.73 L264.19,198.29 A24.3,24.3 0 0 0 274.12,195.1 Z" fill="#e4e4e4"/>
<path d="M262.03,211.9 A37.8,37.8 0 0 1 246.16,208.47 L251.78,196.19 A24.3,24.3 0 0 0 261.98,198.4 Z" fill="#e4e4e4"/>
<path d="M243.11,206.9 A37.8,37.8 0 0 1 231.09,196 L242.09,188.18 A24.3,24.3 0 0 0 249.82,195.19 Z" fill="#e4e4e4"/>
<path d="M229.23,193.11 A37.8,37.8 0 0 1 224.27,177.66 L237.71,176.39 A24.3,24.3 0 0 0 240.9,186.32 Z" fill="#e4e4e4"/>
<path d="M224.1,174.23 A37.8,37.8 0 0 1 227.53,158.36 L239.81,163.98 A24.3,24.3 0 0 0 237.6,174.18 Z" fill="#e4e4e4"/>
<path d="M229.1,155.31 A37.8,37.8 0 0 1 240,143.29 L247.82,154.29 A24.3,24.3 0 0 0 240.81,162.02 Z" fill="#e4e4e4"/>
<path d="M242.89,141.43 A37.8,37.8 0 0 1 258.34,136.47 L259.61,149.91 A24.3,24.3 0 0 0 249.68,153.1 Z" fill="#e4e4e4"/>
<path d="M263.9 145.51A28.66 28.66 0 0 1 265.15 145.63M266.56 146.02A28.46 28.46 0 0 1 267.9 146.28M268.85 146.44A28.52 28.52 0 0 1 270.52 146.91M271.59 147.09A28.69 28.69 0 0 1 273.13 147.7M263.13 140.42A33.71 33.71 0 0 1 264.42 140.49M265.27 140.41A33.86 33.86 0 0 1 266.77 140.59M267.98 140.99A33.66 33.66 0 0 1 269.47 141.3M270.36 141.45A33.72 33.72 0 0 1 272.02 141.93M272.72 142.3A33.59 33.59 0 0 1 274.28 142.88M263.76 137.85A36.3 36.3 0 0 1 266.07 138.04M269.63 138.75A36.18 36.18 0 0 1 271.75 139.28M273.55 139.97A36.06 36.06 0 0 1 275.51 140.71M278.96 147.92A31.24 31.24 0 0 1 280.51 149M280.96 149.38A31.22 31.22 0 0 1 282.25 150.43M283.77 151.7A31.3 31.3 0 0 1 284.71 152.67M285.37 153.67A31.12 31.12 0 0 1 286.74 155.36M280.82 146.1A33.79 33.79 0 0 1 282.64 147.42M283.2 147.92A33.75 33.75 0 0 1 285.23 149.71M286.1 150.75A33.63 33.63 0 0 1 287.87 152.73M282.06 143.95A36.27 36.27 0 0 1 283.93 145.29M284.88 146.05A36.26 36.26 0 0 1 286.6 147.55M288.86 149.97A36.18 36.18 0 0 1 290.22 151.58M284.65 162A25.77 25.77 0 0 1 285.07 162.82M285.92 164.42A25.9 25.9 0 0 1 286.37 165.63M286.88 166.99A25.97 25.97 0 0 1 287.14 168M287.5 169.75A25.97 25.97 0 0 1 287.65 170.77M287.64 174.97A25.76 25.76 0 0 1 287.57 176.19M287.77 176.86A26.01 26.01 0 0 1 287.6 178.12M287.45 179.05A26.03 26.03 0 0 1 287.16 180.38M286.85 180.86A25.85 25.85 0 0 1 286.54 181.91M286.1 182.39A25.58 25.58 0 0 1 285.64 183.64M290.37 176.06A28.53 28.53 0 0 1 290.2 177.76M290.14 179.07A28.67 28.67 0 0 1 289.59 181.56M289.26 182.62A28.65 28.65 0 0 1 288.45 184.87M292.77 175.17A30.89 30.89 0 0 1 292.69 176.57M292.78 178.78A31.23 31.23 0 0 1 292.43 180.69M292.41 181.16A31.31 31.31 0 0 1 292.04 182.57M291.4 183.5A30.96 30.96 0 0 1 290.84 185.1M295.8 175.83A33.94 33.94 0 0 1 295.69 177.3M295.37 178.21A33.72 33.72 0 0 1 295.18 179.5M295.06 180.44A33.76 33.76 0 0 1 294.78 181.75M294.42 183.4A33.82 33.82 0 0 1 293.94 184.92M293.89 185.07A33.82 33.82 0 0 1 293.37 186.47M298 175.42A36.13 36.13 0 0 1 297.89 177.24M297.72 179.18A36.18 36.18 0 0 1 297.43 180.94M297.13 182.05A36.11 36.11 0 0 1 296.67 183.84M295.8 186.5A36.1 36.1 0 0 1 295.14 188.17M287.84 190.92A30.92 30.92 0 0 1 287.13 191.98M286.91 192.35A30.96 30.96 0 0 1 286.09 193.42M285.31 194.42A31 31 0 0 1 284.39 195.44M282.19 197.69A31.11 31.11 0 0 1 280.97 198.68M275.44 199.36A28.66 28.66 0 0 1 274.3 199.94M272.89 200.34A28.45 28.45 0 0 1 271.44 200.9M269.76 201.6A28.6 28.6 0 0 1 268.69 201.88M267.05 202.02A28.39 28.39 0 0 1 265.62 202.25M276.56 201.59A31.16 31.16 0 0 1 274.96 202.39M274.09 202.6A31 31 0 0 1 272.44 203.26M270.86 203.63A30.85 30.85 0 0 1 268.89 204.15M268.46 204.67A31.27 31.27 0 0 1 266.48 205.03M274.58 205.59A33.95 33.95 0 0 1 272.53 206.34M271.79 206.08A33.47 33.47 0 0 1 270 206.58M268.69 207.18A33.77 33.77 0 0 1 266.81 207.51M278.69 206.27A36.28 36.28 0 0 1 276.99 207.1M276.65 206.99A36.05 36.05 0 0 1 274.77 207.78M273.89 208.17A36.12 36.12 0 0 1 272.18 208.72M271.59 209.07A36.29 36.29 0 0 1 269.49 209.59M268.17 209.56A36.01 36.01 0 0 1 266.24 209.85M260.85 199.89A25.81 25.81 0 0 1 259.08 199.75M258.62 199.92A26.03 26.03 0 0 1 257.29 199.72M255.9 199.01A25.62 25.62 0 0 1 254.44 198.61M253.67 198.6A25.84 25.84 0 0 1 252.57 198.2M260.76 202.56A28.48 28.48 0 0 1 259.17 202.45M258.88 202.66A28.71 28.71 0 0 1 257.53 202.48M256.28 202.24A28.7 28.7 0 0 1 254.79 201.9M254.4 201.66A28.57 28.57 0 0 1 253.08 201.27M252.19 201.12A28.71 28.71 0 0 1 251.03 200.67M256.54 210.06A36.36 36.36 0 0 1 254.42 209.68M254.2 209.3A36.03 36.03 0 0 1 252.06 208.76M249.92 208A35.96 35.96 0 0 1 247.82 207.18M247.76 195.48A25.63 25.63 0 0 1 246.97 194.94M245.72 194.16A25.77 25.77 0 0 1 244.69 193.28M243.52 192.5A26.01 26.01 0 0 1 242.72 191.67M242.49 191.24A25.9 25.9 0 0 1 241.87 190.51M241.49 194.25A28.68 28.68 0 0 1 240.5 193.19M239.94 192.38A28.58 28.58 0 0 1 239.24 191.52M245.16 200.28A31.07 31.07 0 0 1 243.41 199.08M243.28 198.7A30.85 30.85 0 0 1 241.66 197.38M240.4 196.75A31.23 31.23 0 0 1 239.2 195.55M238.47 194.49A31.06 31.06 0 0 1 237.17 192.89M242.68 204.54A36 36 0 0 1 241.3 203.63M240.26 202.89A36.02 36.02 0 0 1 238.99 201.9M236.49 200.1A36.36 36.36 0 0 1 235.05 198.61M234.83 198.5A36.44 36.44 0 0 1 233.79 197.29M234.44 189.11A31.3 31.3 0 0 1 233.54 187.35M233.36 186.64A31.17 31.17 0 0 1 232.69 184.98M232.55 184.46A31.12 31.12 0 0 1 231.98 182.69M231.63 182.14A31.32 31.32 0 0 1 231.24 180.5M231.4 179.48A30.97 30.97 0 0 1 231.19 178.08M232.32 190.25A33.7 33.7 0 0 1 231.25 188.11M229.68 184.79A33.94 33.94 0 0 1 229.06 182.67M228.94 182.07A33.91 33.91 0 0 1 228.49 179.89M236.2 172.31A25.77 25.77 0 0 1 236.29 171.29M236.17 170.57A25.97 25.97 0 0 1 236.45 168.91M236.94 168.2A25.65 25.65 0 0 1 237.19 167.2M237.67 165.17A25.83 25.83 0 0 1 238.11 164.05M233.42 173.27A28.49 28.49 0 0 1 233.48 172M233.5 170.44A28.63 28.63 0 0 1 233.68 169.26M233.82 169.03A28.54 28.54 0 0 1 234.02 168M234.57 166.71A28.31 28.31 0 0 1 234.9 165.59M234.99 164.47A28.58 28.58 0 0 1 235.42 163.33M228.36 173.06A33.55 33.55 0 0 1 228.45 171.48M228.63 170.03A33.51 33.51 0 0 1 228.82 168.74M229.75 164.39A33.59 33.59 0 0 1 230.06 163.41M230.15 162.33A33.87 33.87 0 0 1 230.52 161.35M225.82 173.27A36.09 36.09 0 0 1 225.87 171.98M226.03 169.29A36.2 36.2 0 0 1 226.25 167.84M226.51 166.27A36.25 36.25 0 0 1 226.79 165.11M227.65 161.97A36.33 36.33 0 0 1 228.15 160.64M239.96 160.54A25.79 25.79 0 0 1 240.57 159.61M241.15 158.66A25.86 25.86 0 0 1 242.03 157.54M242.06 157.41A25.93 25.93 0 0 1 243.1 156.24M245.54 154.2A25.76 25.76 0 0 1 246.33 153.58M235.87 156.79A31.26 31.26 0 0 1 236.4 156.01M236.71 155.76A31.16 31.16 0 0 1 237.5 154.72M240 151.92A31.16 31.16 0 0 1 240.96 151.02M242.17 150.14A31.04 31.04 0 0 1 243.05 149.44M233.42 155.89A33.81 33.81 0 0 1 234.84 153.83M235.99 152.59A33.68 33.68 0 0 1 237.46 150.93M239.14 149.17A33.76 33.76 0 0 1 241.11 147.5M231.44 154.33A36.31 36.31 0 0 1 232.26 153.12M233.63 151.25A36.35 36.35 0 0 1 234.92 149.73M235.64 148.97A36.34 36.34 0 0 1 237.16 147.48M237.74 147.27A36.1 36.1 0 0 1 239.16 146.06M248.55 148.9A28.52 28.52 0 0 1 250.17 148.1M251.34 147.67A28.46 28.46 0 0 1 252.49 147.24M253.55 146.99A28.36 28.36 0 0 1 254.8 146.64M257 145.84A28.69 28.69 0 0 1 258.36 145.63M247 146.65A31.23 31.23 0 0 1 248.85 145.72M250.15 145.56A30.87 30.87 0 0 1 251.61 145M252.47 144.68A30.89 30.89 0 0 1 253.81 144.28M256.24 143.44A31.18 31.18 0 0 1 258.05 143.16M244.72 142.43A36.03 36.03 0 0 1 246.67 141.45M249.78 139.79A36.39 36.39 0 0 1 251.57 139.21M252.87 139.24A36.02 36.02 0 0 1 254.55 138.84M255.36 138.42A36.27 36.27 0 0 1 257.21 138.13" fill="none" stroke="#1fb6d8" stroke-width="1.45" stroke-linecap="round"/>
<path d="M266.12 148.55A25.9 25.9 0 0 1 267.1 148.73M268.14 149.25A25.62 25.62 0 0 1 269.26 149.56M270.95 150.17A25.58 25.58 0 0 1 271.8 150.52M263.45 143.1A31.04 31.04 0 0 1 265.6 143.28M271.69 144.5A31.18 31.18 0 0 1 274.1 145.41M275.48 152.39A25.61 25.61 0 0 1 276.43 153.02M277.62 153.38A26.01 26.01 0 0 1 278.56 154.12M279.35 155.35A25.61 25.61 0 0 1 280.24 156.22M281.33 157.24A25.73 25.73 0 0 1 282.07 158.13M277.25 149.88A28.68 28.68 0 0 1 278.18 150.49M279.84 151.81A28.62 28.62 0 0 1 280.92 152.72M280.89 153.17A28.26 28.26 0 0 1 281.68 153.91M282.99 155.15A28.35 28.35 0 0 1 283.81 156.11M286.99 160.51A28.54 28.54 0 0 1 287.42 161.33M288 162.31A28.64 28.64 0 0 1 288.53 163.57M288.73 164.51A28.49 28.49 0 0 1 289.13 165.72M289.47 167.01A28.46 28.46 0 0 1 289.69 167.95M289.86 169.19A28.39 28.39 0 0 1 290.04 170.31M289.9 160.22A31.25 31.25 0 0 1 290.34 161.16M290.81 162.85A31.02 31.02 0 0 1 291.26 164.09M292.09 165.99A31.26 31.26 0 0 1 292.41 167.32M292.31 168.62A30.9 30.9 0 0 1 292.55 170.16M291.69 158.56A33.61 33.61 0 0 1 292.73 160.73M293.16 161.43A33.73 33.73 0 0 1 293.98 163.68M295.03 167.14A33.85 33.85 0 0 1 295.35 168.89M295.34 160.63A36.05 36.05 0 0 1 295.96 162.29M283.47 188.28A25.81 25.81 0 0 1 282.98 189M282.34 189.51A25.6 25.6 0 0 1 281.91 190.06M281.35 190.72A25.58 25.58 0 0 1 280.7 191.45M279.97 192.25A25.61 25.61 0 0 1 279.45 192.75M278.15 194.02A25.71 25.71 0 0 1 277.59 194.46M285.8 189.39A28.37 28.37 0 0 1 285.07 190.46M284.87 191.11A28.58 28.58 0 0 1 284.06 192.15M283.45 192.6A28.4 28.4 0 0 1 282.59 193.56M280.6 195.91A28.73 28.73 0 0 1 279.55 196.77M289.84 192.6A33.5 33.5 0 0 1 288.89 193.95M288.31 194.99A33.67 33.67 0 0 1 287.36 196.13M286.09 197.62A33.73 33.73 0 0 1 284.66 199M284.38 199.53A33.95 33.95 0 0 1 283.22 200.51M292.22 194.2A36.37 36.37 0 0 1 291.02 195.9M289.47 197.82A36.37 36.37 0 0 1 288.05 199.38M287.19 200.21A36.35 36.35 0 0 1 285.34 201.88M273.57 197.12A25.81 25.81 0 0 1 272.34 197.71M271.17 198.26A25.88 25.88 0 0 1 269.96 198.69M269.62 198.52A25.61 25.61 0 0 1 268.62 198.81M256.82 204.75A31.07 31.07 0 0 1 255.18 204.43M253.23 204.18A31.3 31.3 0 0 1 251.56 203.65M239.21 186.03A25.64 25.64 0 0 1 238.65 184.9M237.49 183.1A26.01 26.01 0 0 1 237.21 182.29M237.21 181.79A25.86 25.86 0 0 1 236.86 180.59M236.55 179.5A25.92 25.92 0 0 1 236.36 178.54M235.35 183.76A28.26 28.26 0 0 1 234.92 182.49M233.81 179.88A28.68 28.68 0 0 1 233.53 178.29M229.83 191.37A36.42 36.42 0 0 1 229.22 190.17M228.76 188.79A36.25 36.25 0 0 1 228.12 187.26M227.82 186.06A36.12 36.12 0 0 1 227.41 184.81M226.95 183.77A36.26 36.26 0 0 1 226.62 182.48M226.46 180.49A36.01 36.01 0 0 1 226.23 179.01M238.2 158.43A28.41 28.41 0 0 1 239.32 156.85M240.41 155.63A28.34 28.34 0 0 1 241.86 154.06M242.57 152.89A28.7 28.7 0 0 1 244.19 151.52M250.91 150.8A25.76 25.76 0 0 1 252.29 150.19M252.6 149.85A25.97 25.97 0 0 1 253.82 149.42M256.43 148.83A25.86 25.86 0 0 1 257.7 148.59M246.47 144.41A33.46 33.46 0 0 1 248.49 143.44M249.25 142.83A33.73 33.73 0 0 1 250.67 142.29M252.27 141.9A33.61 33.61 0 0 1 254.08 141.41M255.24 140.99A33.78 33.78 0 0 1 256.76 140.72" fill="none" stroke="#f0503a" stroke-width="1.45" stroke-linecap="round"/>
<path d="M262.79,152.92 A21.2,21.2 0 0 1 271.72,155.31 L266.3,165.68 A9.5,9.5 0 0 0 262.3,164.61 Z" fill="#fbe2dc" stroke="#555" stroke-width="0.45"/>
<path d="M273.21,156.28 A21.1,21.1 0 0 1 279.72,162.79 L269.92,169.01 A9.5,9.5 0 0 0 266.99,166.08 Z" fill="#f04a35" stroke="#555" stroke-width="0.45"/>
<path d="M278.65,165.34 A18.9,18.9 0 0 1 280.78,173.31 L271.39,173.7 A9.5,9.5 0 0 0 270.32,169.7 Z" fill="#ffffff" stroke="#555" stroke-width="0.45"/>
<path d="M280.78,174.89 A18.9,18.9 0 0 1 278.65,182.86 L270.32,178.5 A9.5,9.5 0 0 0 271.39,174.5 Z" fill="#f5a493" stroke="#555" stroke-width="0.45"/>
<path d="M276.84,183.58 A17.7,17.7 0 0 1 271.38,189.04 L266.99,182.12 A9.5,9.5 0 0 0 269.92,179.19 Z" fill="#fbc8bc" stroke="#555" stroke-width="0.45"/>
<path d="M270.01,189.61 A17.5,17.5 0 0 1 262.63,191.58 L262.3,183.59 A9.5,9.5 0 0 0 266.3,182.52 Z" fill="#f2f7fa" stroke="#555" stroke-width="0.45"/>
<path d="M261.17,191.58 A17.5,17.5 0 0 1 253.79,189.61 L257.5,182.52 A9.5,9.5 0 0 0 261.5,183.59 Z" fill="#f6b0a1" stroke="#555" stroke-width="0.45"/>
<path d="M252.52,188.88 A17.5,17.5 0 0 1 247.12,183.48 L253.88,179.19 A9.5,9.5 0 0 0 256.81,182.12 Z" fill="#f6ac9c" stroke="#555" stroke-width="0.45"/>
<path d="M246.83,181.98 A17,17 0 0 1 244.91,174.81 L252.41,174.5 A9.5,9.5 0 0 0 253.48,178.5 Z" fill="#f2604c" stroke="#555" stroke-width="0.45"/>
<path d="M249.11,173.56 A12.8,12.8 0 0 1 250.56,168.17 L253.48,169.7 A9.5,9.5 0 0 0 252.41,173.7 Z" fill="#f0442f" stroke="#555" stroke-width="0.45"/>
<path d="M250.84,167.08 A13.1,13.1 0 0 1 254.88,163.04 L256.81,166.08 A9.5,9.5 0 0 0 253.88,169.01 Z" fill="#f26c5a" stroke="#555" stroke-width="0.45"/>
<path d="M256.02,162.85 A12.7,12.7 0 0 1 261.37,161.41 L261.5,164.61 A9.5,9.5 0 0 0 257.5,165.68 Z" fill="#f8bcae" stroke="#555" stroke-width="0.45"/>
<text x="268.7" y="126" font-size="5.6" text-anchor="middle" fill="#222" stroke="#222" stroke-width="0.06" >GO:0030900</text>
<text x="264.6" y="130.95" font-size="5.6" text-anchor="middle" fill="#222" stroke="#222" stroke-width="0.06" >forebrain development</text>
<rect x="304" y="162.8" width="5.8" height="28.9" fill="url(#g2)"/>
<text x="304" y="160.8" font-size="4.55" text-anchor="start" fill="#222" stroke="#222" stroke-width="0.036" >Z-score</text>
<text x="312.6" y="171.1" font-size="4.55" text-anchor="start" fill="#222" stroke="#222" stroke-width="0.036" >2</text>
<text x="312.6" y="179.6" font-size="4.55" text-anchor="start" fill="#222" stroke="#222" stroke-width="0.036" >0</text>
<text x="312.6" y="187.6" font-size="4.55" text-anchor="start" fill="#222" stroke="#222" stroke-width="0.036" >-2</text>
<text x="304" y="199.8" font-size="4.55" fill="#222">Log<tspan font-size="3.2" dy="1">2</tspan><tspan dy="-1"> FC</tspan></text>
<circle cx="306.7" cy="205.1" r="1.1" fill="#1fb6d8"/>
<text x="311.4" y="206.7" font-size="4.55" text-anchor="start" fill="#222" stroke="#222" stroke-width="0.036" >Up</text>
<circle cx="306.7" cy="211.2" r="1.1" fill="#f0503a"/>
<text x="311.4" y="212.8" font-size="4.55" text-anchor="start" fill="#222" stroke="#222" stroke-width="0.036" >Down</text>
<path d="M261.74,245.4 A37.8,37.8 0 0 1 277.62,248.78 L272.04,261.07 A24.3,24.3 0 0 0 261.83,258.9 Z" fill="#e2e2e2"/>
<path d="M280.67,250.33 A37.8,37.8 0 0 1 292.74,261.2 L281.76,269.05 A24.3,24.3 0 0 0 274,262.07 Z" fill="#e2e2e2"/>
<path d="M294.6,264.07 A37.8,37.8 0 0 1 299.62,279.51 L286.18,280.83 A24.3,24.3 0 0 0 282.96,270.9 Z" fill="#e2e2e2"/>
<path d="M299.8,282.94 A37.8,37.8 0 0 1 296.42,298.82 L284.13,293.24 A24.3,24.3 0 0 0 286.3,283.03 Z" fill="#e2e2e2"/>
<path d="M294.87,301.87 A37.8,37.8 0 0 1 284,313.94 L276.15,302.96 A24.3,24.3 0 0 0 283.13,295.2 Z" fill="#e2e2e2"/>
<path d="M281.13,315.8 A37.8,37.8 0 0 1 265.69,320.82 L264.37,307.38 A24.3,24.3 0 0 0 274.3,304.16 Z" fill="#e2e2e2"/>
<path d="M262.26,321 A37.8,37.8 0 0 1 246.38,317.62 L251.96,305.33 A24.3,24.3 0 0 0 262.17,307.5 Z" fill="#e2e2e2"/>
<path d="M243.33,316.07 A37.8,37.8 0 0 1 231.26,305.2 L242.24,297.35 A24.3,24.3 0 0 0 250,304.33 Z" fill="#e2e2e2"/>
<path d="M229.4,302.33 A37.8,37.8 0 0 1 224.38,286.89 L237.82,285.57 A24.3,24.3 0 0 0 241.04,295.5 Z" fill="#e2e2e2"/>
<path d="M224.2,283.46 A37.8,37.8 0 0 1 227.58,267.58 L239.87,273.16 A24.3,24.3 0 0 0 237.7,283.37 Z" fill="#e2e2e2"/>
<path d="M229.13,264.53 A37.8,37.8 0 0 1 240,252.46 L247.85,263.44 A24.3,24.3 0 0 0 240.87,271.2 Z" fill="#e2e2e2"/>
<path d="M242.87,250.6 A37.8,37.8 0 0 1 258.31,245.58 L259.63,259.02 A24.3,24.3 0 0 0 249.7,262.24 Z" fill="#e2e2e2"/>
<path d="M262.89 249.64A33.57 33.57 0 0 1 266.1 249.88M267.01 249.8A33.78 33.78 0 0 1 269.97 250.38M271.99 250.79A33.92 33.92 0 0 1 274.88 251.82M278.73 257.23A30.89 30.89 0 0 1 280.69 258.6M282.04 259.75A30.85 30.85 0 0 1 283.89 261.46M285.05 262.3A31.11 31.11 0 0 1 286.79 264.41M279.34 254.51A33.52 33.52 0 0 1 282.67 256.81M282.9 256.81A33.66 33.66 0 0 1 286.08 259.67M286.11 259.7A33.66 33.66 0 0 1 288.83 262.86M284.56 254.71A36.34 36.34 0 0 1 287.32 257.14M288.26 258.4A36.12 36.12 0 0 1 290.5 261.01M286.19 274.07A25.85 25.85 0 0 1 286.79 275.85M287.02 276.91A25.8 25.8 0 0 1 287.45 278.97M291.53 266.94A33.71 33.71 0 0 1 293.24 270.54M294.37 273.6A33.76 33.76 0 0 1 295.24 277.3M287.94 285.28A26.03 26.03 0 0 1 287.46 288.6M287.36 288.8A25.97 25.97 0 0 1 286.32 292.3M298.24 284.02A36.25 36.25 0 0 1 297.48 290.67M297.41 290.74A36.21 36.21 0 0 1 295.35 297.29M286.42 298.06A28.58 28.58 0 0 1 284.99 300.19M284.93 300.31A28.61 28.61 0 0 1 283.65 301.9M282.82 302.75A28.56 28.56 0 0 1 281.55 304.01M281.2 304.18A28.44 28.44 0 0 1 279.16 305.88M288.45 299.45A31.04 31.04 0 0 1 287.32 301.15M286.77 302.07A31.14 31.14 0 0 1 285.7 303.4M285.17 304.26A31.31 31.31 0 0 1 283.43 306.04M290.57 300.74A33.52 33.52 0 0 1 289.48 302.4M288.42 303.88A33.55 33.55 0 0 1 286.95 305.63M287.09 306.05A33.94 33.94 0 0 1 285.49 307.7M291.82 303.42A36.03 36.03 0 0 1 288.79 307.3M288.28 308.45A36.44 36.44 0 0 1 285.18 311.32M274.68 308.98A28.73 28.73 0 0 1 272.8 309.82M272.32 309.66A28.4 28.4 0 0 1 269.59 310.57M268.97 310.94A28.6 28.6 0 0 1 266.61 311.43M277.12 310.6A31.29 31.29 0 0 1 275.35 311.5M271.22 312.87A31.07 31.07 0 0 1 268.84 313.51M268.76 313.57A31.11 31.11 0 0 1 267.06 313.9M277.69 312.8A33.5 33.5 0 0 1 275.51 313.86M274.92 314.56A33.92 33.92 0 0 1 272.83 315.35M271.72 315.46A33.7 33.7 0 0 1 269.53 316.04M268.89 316.13A33.64 33.64 0 0 1 266.42 316.55M258.17 308.84A25.93 25.93 0 0 1 256.65 308.57M253.47 307.56A25.81 25.81 0 0 1 252.09 307.03M260.72 311.67A28.5 28.5 0 0 1 257.01 311.26M255.32 311.03A28.62 28.62 0 0 1 252.16 310.08M261.07 316.95A33.76 33.76 0 0 1 257.37 316.65M252.89 315.75A33.81 33.81 0 0 1 249.01 314.41M260.87 319.37A36.19 36.19 0 0 1 256.13 318.91M253.53 318.55A36.35 36.35 0 0 1 250.14 317.56M248.16 304.85A25.7 25.7 0 0 1 246.46 303.66M245.96 303.41A25.8 25.8 0 0 1 243.4 301.07M243.42 300.82A25.61 25.61 0 0 1 241.85 299M247.12 307.33A28.35 28.35 0 0 1 244.76 305.71M243.67 304.91A28.41 28.41 0 0 1 241.84 303.22M241 302.75A28.69 28.69 0 0 1 239.25 300.68M244.42 311.82A33.59 33.59 0 0 1 241.91 310.12M240.93 309.18A33.45 33.45 0 0 1 238.27 306.78M237.7 306.36A33.57 33.57 0 0 1 235.59 303.92M238.23 310.22A35.99 35.99 0 0 1 236.51 308.61M234.91 307.42A36.34 36.34 0 0 1 233.32 305.51M232.26 299.03A33.69 33.69 0 0 1 230.35 294.74M230.03 293.54A33.6 33.6 0 0 1 228.82 288.45M231.02 281.82A31.01 31.01 0 0 1 231.56 277.28M228.4 279.14A33.84 33.84 0 0 1 228.78 276.72M228.92 275.77A33.9 33.9 0 0 1 229.56 273.36M225.81 282.07A36.21 36.21 0 0 1 226.46 276.27M226.51 275.12A36.4 36.4 0 0 1 227.76 270.83M235.23 267.01A31.28 31.28 0 0 1 237.76 263.42M237.7 263.9A31.03 31.03 0 0 1 240.55 260.77M240.56 260.72A31.06 31.06 0 0 1 242.75 258.82M233.38 265.88A33.45 33.45 0 0 1 235.89 262.29M236.21 261.54A33.68 33.68 0 0 1 238.45 259.13M239.12 258.73A33.5 33.5 0 0 1 241.54 256.67M231.82 263.26A36.17 36.17 0 0 1 234.85 259.3M235.39 258.84A36.08 36.08 0 0 1 240.06 254.56M245.88 253.58A33.73 33.73 0 0 1 250.85 251.37" fill="none" stroke="#1fb6d8" stroke-width="1.45" stroke-linecap="round"/>
<path d="M262.54 257.56A25.64 25.64 0 0 1 265.71 257.83M268.91 258.54A25.61 25.61 0 0 1 271.75 259.52M266.16 255.03A28.48 28.48 0 0 1 269.82 255.82M270.57 256.1A28.43 28.43 0 0 1 272.94 256.96M262.82 252.19A31.02 31.02 0 0 1 265.42 252.37M265.64 252.34A31.07 31.07 0 0 1 268.21 252.75M268.51 252.67A31.21 31.21 0 0 1 271.48 253.46M271.44 253.64A31.03 31.03 0 0 1 273.48 254.37M275.83 261.19A25.99 25.99 0 0 1 277.42 262.28M277.84 262.92A25.74 25.74 0 0 1 279.14 264M279.89 264.54A25.85 25.85 0 0 1 281.03 265.7M281.35 266.07A25.84 25.84 0 0 1 282.43 267.38M277.14 258.82A28.7 28.7 0 0 1 279.58 260.51M280.32 261.17A28.65 28.65 0 0 1 282.15 262.83M282.67 263.47A28.57 28.57 0 0 1 284.74 265.91M287.34 270.35A28.41 28.41 0 0 1 287.97 271.67M287.96 272.05A28.25 28.25 0 0 1 288.64 273.78M289.12 274.47A28.49 28.49 0 0 1 289.71 276.57M289.85 277.84A28.36 28.36 0 0 1 290.11 279.49M289.53 268.61A31.16 31.16 0 0 1 290.82 271.34M290.75 271.82A30.92 30.92 0 0 1 291.91 275.37M292.07 275.67A31 31 0 0 1 292.74 279.22M296.97 274.55A36.03 36.03 0 0 1 297.69 278.28M290.43 283.89A28.44 28.44 0 0 1 290.22 286.73M289.85 288.03A28.27 28.27 0 0 1 289.36 290.3M289.45 291.02A28.54 28.54 0 0 1 288.72 293.23M293.27 284.61A31.31 31.31 0 0 1 293.14 286.43M292.96 287.39A31.24 31.24 0 0 1 292.67 289.15M292.38 290.19A31.18 31.18 0 0 1 291.84 292.24M291.38 292.97A30.96 30.96 0 0 1 290.59 295.09M274.35 305.6A25.58 25.58 0 0 1 272.2 306.65M272.13 307.08A25.94 25.94 0 0 1 270.2 307.81M269.88 307.73A25.76 25.76 0 0 1 267.71 308.32M267.24 308.49A25.83 25.83 0 0 1 265.46 308.79M261.21 314.24A31.05 31.05 0 0 1 257.78 313.96M257.32 314.14A31.29 31.29 0 0 1 254.08 313.47M253.59 313.15A31.11 31.11 0 0 1 251.4 312.45M245.78 309.69A31.06 31.06 0 0 1 241.45 306.48M240.35 305.19A30.85 30.85 0 0 1 237.64 302.13M239.3 295.69A25.91 25.91 0 0 1 238.25 293.54M238.26 293.1A25.72 25.72 0 0 1 237.58 291.27M237.27 291.19A25.99 25.99 0 0 1 236.63 288.82M236.78 288.81A25.84 25.84 0 0 1 236.36 286.39M234.93 298.1A30.9 30.9 0 0 1 233.29 294.63M233.09 294.59A31.08 31.08 0 0 1 232.13 291.77M231.85 290.85A31.11 31.11 0 0 1 231.33 288.44M230.46 300.61A36.03 36.03 0 0 1 227.54 293.71M227.68 294.31A36.07 36.07 0 0 1 226.2 287.66M236.32 282.35A25.69 25.69 0 0 1 236.45 280.55M236.52 279.06A25.81 25.81 0 0 1 236.99 276.81M237.48 274.77A25.93 25.93 0 0 1 238.06 273.24M233.63 281.65A28.41 28.41 0 0 1 233.86 279.29M233.97 278.84A28.36 28.36 0 0 1 234.53 276.13M234.84 275.32A28.28 28.28 0 0 1 235.63 272.97M240.14 269.58A25.75 25.75 0 0 1 242.72 266.13M243.03 266.03A25.59 25.59 0 0 1 246.49 262.85M238.22 267.07A28.73 28.73 0 0 1 240.45 264.19M241.1 263.56A28.68 28.68 0 0 1 243.76 261.07M249.81 260.54A25.73 25.73 0 0 1 253.71 258.84M254.21 258.41A25.99 25.99 0 0 1 258.62 257.43M248.76 258.22A28.27 28.27 0 0 1 251.32 257.03M251.52 256.67A28.52 28.52 0 0 1 255.02 255.55M254.93 255.53A28.56 28.56 0 0 1 258.47 254.86M247.12 256.17A30.85 30.85 0 0 1 252.6 253.81M253.75 253.32A31 31 0 0 1 258.07 252.45M244.7 251.62A36.01 36.01 0 0 1 248.13 249.97M253.44 247.93A36.29 36.29 0 0 1 256.86 247.27" fill="none" stroke="#f0503a" stroke-width="1.45" stroke-linecap="round"/>
<path d="M262.89,262.02 A21.2,21.2 0 0 1 271.82,264.41 L266.4,274.78 A9.5,9.5 0 0 0 262.4,273.71 Z" fill="#f2452d" stroke="#555" stroke-width="0.45"/>
<path d="M273.31,265.38 A21.1,21.1 0 0 1 279.82,271.89 L270.02,278.11 A9.5,9.5 0 0 0 267.09,275.18 Z" fill="#bc8c8c" stroke="#555" stroke-width="0.45"/>
<path d="M278.93,274.35 A19.1,19.1 0 0 1 281.08,282.4 L271.49,282.8 A9.5,9.5 0 0 0 270.42,278.8 Z" fill="#d27a70" stroke="#555" stroke-width="0.45"/>
<path d="M280.68,283.98 A18.7,18.7 0 0 1 278.57,291.86 L270.42,287.6 A9.5,9.5 0 0 0 271.49,283.6 Z" fill="#ab9ca2" stroke="#555" stroke-width="0.45"/>
<path d="M277.28,292.9 A18.1,18.1 0 0 1 271.7,298.48 L267.09,291.22 A9.5,9.5 0 0 0 270.02,288.29 Z" fill="#ab9ca2" stroke="#555" stroke-width="0.45"/>
<path d="M270.71,299.86 A18.8,18.8 0 0 1 262.79,301.98 L262.4,292.69 A9.5,9.5 0 0 0 266.4,291.62 Z" fill="#f05842" stroke="#555" stroke-width="0.45"/>
<path d="M261.22,301.78 A18.6,18.6 0 0 1 253.38,299.68 L257.6,291.62 A9.5,9.5 0 0 0 261.6,292.69 Z" fill="#d8806e" stroke="#555" stroke-width="0.45"/>
<path d="M252.84,297.64 A17.1,17.1 0 0 1 247.56,292.36 L253.98,288.29 A9.5,9.5 0 0 0 256.91,291.22 Z" fill="#b89494" stroke="#555" stroke-width="0.45"/>
<path d="M246.76,291.17 A17.2,17.2 0 0 1 244.82,283.92 L252.51,283.6 A9.5,9.5 0 0 0 253.58,287.6 Z" fill="#f04a35" stroke="#555" stroke-width="0.45"/>
<path d="M251.41,282.76 A10.6,10.6 0 0 1 252.61,278.29 L253.58,278.8 A9.5,9.5 0 0 0 252.51,282.8 Z" fill="#9eaab8" stroke="#555" stroke-width="0.45"/>
<path d="M253.05,277.52 A10.6,10.6 0 0 1 256.32,274.25 L256.91,275.18 A9.5,9.5 0 0 0 253.98,278.11 Z" fill="#3a9ab0" stroke="#555" stroke-width="0.45"/>
<path d="M257.09,273.81 A10.6,10.6 0 0 1 261.56,272.61 L261.6,273.71 A9.5,9.5 0 0 0 257.6,274.78 Z" fill="#ab9c9c" stroke="#555" stroke-width="0.45"/>
<text x="270.5" y="237.6" font-size="5.6" text-anchor="middle" fill="#222" stroke="#222" stroke-width="0.06" >GO:0007409</text>
<text x="270.5" y="242.35" font-size="5.6" text-anchor="middle" fill="#222" stroke="#222" stroke-width="0.06" >axonogenesis</text>
<rect x="303" y="261.7" width="5.8" height="28.3" fill="url(#g3)"/>
<text x="303" y="259.7" font-size="4.55" text-anchor="start" fill="#222" stroke="#222" stroke-width="0.036" >Z-score</text>
<text x="311.2" y="265.8" font-size="4.55" text-anchor="start" fill="#222" stroke="#222" stroke-width="0.036" >7</text>
<text x="311.2" y="272.5" font-size="4.55" text-anchor="start" fill="#222" stroke="#222" stroke-width="0.036" >6</text>
<text x="311.2" y="279.4" font-size="4.55" text-anchor="start" fill="#222" stroke="#222" stroke-width="0.036" >5</text>
<text x="311.2" y="286.6" font-size="4.55" text-anchor="start" fill="#222" stroke="#222" stroke-width="0.036" >4</text>
<text x="303" y="299.1" font-size="4.55" fill="#222">Log<tspan font-size="3.2" dy="1">2</tspan><tspan dy="-1"> FC</tspan></text>
<circle cx="305.7" cy="304.8" r="1.1" fill="#1fb6d8"/>
<text x="310.4" y="306.4" font-size="4.55" text-anchor="start" fill="#222" stroke="#222" stroke-width="0.036" >Up</text>
<circle cx="305.7" cy="310.8" r="1.1" fill="#f0503a"/>
<text x="310.4" y="312.4" font-size="4.55" text-anchor="start" fill="#222" stroke="#222" stroke-width="0.036" >Down</text>
<g fill-opacity="0.55" stroke-width="0.45" stroke-opacity="0.95"><circle cx="420.07" cy="89.15" r="1.9" fill="#22b8dc" stroke="#22b8dc"/><circle cx="420.85" cy="68.15" r="1.9" fill="#22b8dc" stroke="#22b8dc"/><circle cx="420.11" cy="70.61" r="1.9" fill="#22b8dc" stroke="#22b8dc"/><circle cx="399.66" cy="81.99" r="1.9" fill="#22b8dc" stroke="#22b8dc"/><circle cx="391.82" cy="91.52" r="1.9" fill="#22b8dc" stroke="#22b8dc"/><circle cx="419.57" cy="66.54" r="1.9" fill="#22b8dc" stroke="#22b8dc"/><circle cx="392.31" cy="90.57" r="1.9" fill="#22b8dc" stroke="#22b8dc"/><circle cx="410.43" cy="75.81" r="1.9" fill="#f26148" stroke="#f26148"/><circle cx="412.89" cy="56.38" r="1.9" fill="#22b8dc" stroke="#22b8dc"/><circle cx="414.21" cy="52.1" r="1.9" fill="#22b8dc" stroke="#22b8dc"/><circle cx="415.59" cy="83.01" r="1.9" fill="#22b8dc" stroke="#22b8dc"/><circle cx="397.5" cy="77.39" r="1.9" fill="#f26148" stroke="#f26148"/><circle cx="415.41" cy="78.45" r="1.9" fill="#f26148" stroke="#f26148"/><circle cx="422.89" cy="90.34" r="1.9" fill="#22b8dc" stroke="#22b8dc"/><circle cx="401.62" cy="87.66" r="1.9" fill="#22b8dc" stroke="#22b8dc"/><circle cx="378.25" cy="93.1" r="1.9" fill="#22b8dc" stroke="#22b8dc"/><circle cx="397.77" cy="92.7" r="1.9" fill="#22b8dc" stroke="#22b8dc"/><circle cx="396.12" cy="81.97" r="1.9" fill="#f26148" stroke="#f26148"/><circle cx="399.79" cy="87.9" r="1.9" fill="#22b8dc" stroke="#22b8dc"/><circle cx="411.7" cy="51.45" r="1.9" fill="#22b8dc" stroke="#22b8dc"/><circle cx="400.47" cy="79.2" r="1.9" fill="#22b8dc" stroke="#22b8dc"/><circle cx="391.68" cy="74.42" r="1.9" fill="#22b8dc" stroke="#22b8dc"/><circle cx="407.81" cy="86.46" r="1.9" fill="#22b8dc" stroke="#22b8dc"/><circle cx="391.34" cy="86.32" r="1.9" fill="#22b8dc" stroke="#22b8dc"/><circle cx="399.96" cy="79.97" r="1.9" fill="#22b8dc" stroke="#22b8dc"/><circle cx="403.77" cy="82.64" r="1.9" fill="#22b8dc" stroke="#22b8dc"/><circle cx="403.82" cy="90.23" r="1.9" fill="#22b8dc" stroke="#22b8dc"/><circle cx="387.98" cy="85.92" r="1.9" fill="#22b8dc" stroke="#22b8dc"/><circle cx="419.99" cy="83.63" r="1.9" fill="#22b8dc" stroke="#22b8dc"/><circle cx="389.21" cy="93.18" r="1.9" fill="#22b8dc" stroke="#22b8dc"/><circle cx="401.76" cy="79.56" r="1.9" fill="#22b8dc" stroke="#22b8dc"/><circle cx="392.87" cy="74.73" r="1.9" fill="#22b8dc" stroke="#22b8dc"/><circle cx="418.86" cy="69.57" r="1.9" fill="#22b8dc" stroke="#22b8dc"/><circle cx="411.98" cy="73.62" r="1.9" fill="#22b8dc" stroke="#22b8dc"/><circle cx="397" cy="74.54" r="1.9" fill="#f26148" stroke="#f26148"/><circle cx="394.57" cy="81.41" r="1.9" fill="#22b8dc" stroke="#22b8dc"/><circle cx="400.19" cy="81.1" r="1.9" fill="#22b8dc" stroke="#22b8dc"/><circle cx="425.22" cy="89.79" r="1.9" fill="#22b8dc" stroke="#22b8dc"/><circle cx="411.04" cy="75.19" r="1.9" fill="#22b8dc" stroke="#22b8dc"/><circle cx="409.86" cy="72.77" r="1.9" fill="#22b8dc" stroke="#22b8dc"/><circle cx="427.65" cy="50.55" r="1.9" fill="#22b8dc" stroke="#22b8dc"/><circle cx="415.1" cy="81.87" r="1.9" fill="#22b8dc" stroke="#22b8dc"/><circle cx="418.21" cy="93.01" r="1.9" fill="#22b8dc" stroke="#22b8dc"/><circle cx="404.66" cy="84.69" r="1.9" fill="#22b8dc" stroke="#22b8dc"/><circle cx="417.24" cy="81.17" r="1.9" fill="#f26148" stroke="#f26148"/><circle cx="406.56" cy="45.18" r="1.9" fill="#22b8dc" stroke="#22b8dc"/><circle cx="399.72" cy="80.66" r="1.9" fill="#22b8dc" stroke="#22b8dc"/><circle cx="423.35" cy="71.45" r="1.7" fill="#22b8dc" stroke="#22b8dc"/><circle cx="405.74" cy="85.57" r="1.7" fill="#22b8dc" stroke="#22b8dc"/><circle cx="405.75" cy="67.21" r="1.7" fill="#22b8dc" stroke="#22b8dc"/><circle cx="406.71" cy="92.05" r="1.7" fill="#f26148" stroke="#f26148"/><circle cx="405.38" cy="89.4" r="1.7" fill="#22b8dc" stroke="#22b8dc"/><circle cx="382.04" cy="90.81" r="1.7" fill="#22b8dc" stroke="#22b8dc"/><circle cx="390.95" cy="85.3" r="1.7" fill="#22b8dc" stroke="#22b8dc"/><circle cx="420.82" cy="84.39" r="1.7" fill="#22b8dc" stroke="#22b8dc"/><circle cx="425.45" cy="83.75" r="1.7" fill="#22b8dc" stroke="#22b8dc"/><circle cx="390.18" cy="91.39" r="1.7" fill="#b7a6dc" stroke="#b7a6dc"/><circle cx="403.76" cy="75.09" r="1.7" fill="#22b8dc" stroke="#22b8dc"/><circle cx="416.19" cy="90.19" r="1.7" fill="#22b8dc" stroke="#22b8dc"/><circle cx="411.21" cy="78.55" r="1.7" fill="#22b8dc" stroke="#22b8dc"/><circle cx="402.11" cy="75.86" r="1.7" fill="#22b8dc" stroke="#22b8dc"/><circle cx="393.33" cy="75.6" r="1.7" fill="#22b8dc" stroke="#22b8dc"/><circle cx="398.46" cy="87.64" r="1.7" fill="#22b8dc" stroke="#22b8dc"/><circle cx="428.8" cy="64.23" r="1.7" fill="#22b8dc" stroke="#22b8dc"/><circle cx="388.42" cy="75.19" r="1.7" fill="#22b8dc" stroke="#22b8dc"/><circle cx="397.43" cy="68.9" r="1.7" fill="#22b8dc" stroke="#22b8dc"/><circle cx="383.47" cy="93.56" r="1.7" fill="#22b8dc" stroke="#22b8dc"/><circle cx="424.75" cy="65.85" r="1.7" fill="#22b8dc" stroke="#22b8dc"/><circle cx="412.34" cy="83.69" r="1.7" fill="#22b8dc" stroke="#22b8dc"/><circle cx="416.52" cy="48.42" r="1.7" fill="#22b8dc" stroke="#22b8dc"/><circle cx="387.41" cy="86.34" r="1.7" fill="#22b8dc" stroke="#22b8dc"/><circle cx="420.03" cy="78.55" r="1.7" fill="#22b8dc" stroke="#22b8dc"/><circle cx="398.16" cy="91.95" r="1.7" fill="#22b8dc" stroke="#22b8dc"/><circle cx="396.71" cy="81.6" r="1.7" fill="#22b8dc" stroke="#22b8dc"/><circle cx="401.89" cy="78" r="1.7" fill="#f26148" stroke="#f26148"/><circle cx="409.12" cy="92.94" r="1.7" fill="#22b8dc" stroke="#22b8dc"/><circle cx="421.44" cy="92.21" r="1.7" fill="#22b8dc" stroke="#22b8dc"/><circle cx="382.51" cy="91.64" r="1.7" fill="#22b8dc" stroke="#22b8dc"/><circle cx="407.3" cy="85.51" r="1.7" fill="#22b8dc" stroke="#22b8dc"/><circle cx="393.75" cy="92.65" r="1.7" fill="#22b8dc" stroke="#22b8dc"/><circle cx="402.3" cy="82.42" r="1.7" fill="#22b8dc" stroke="#22b8dc"/><circle cx="407.63" cy="77.61" r="1.7" fill="#f26148" stroke="#f26148"/><circle cx="426.75" cy="82.14" r="1.7" fill="#22b8dc" stroke="#22b8dc"/><circle cx="394.81" cy="89.52" r="1.7" fill="#f26148" stroke="#f26148"/><circle cx="375.2" cy="93.31" r="1.7" fill="#22b8dc" stroke="#22b8dc"/><circle cx="428.8" cy="76.53" r="1.7" fill="#22b8dc" stroke="#22b8dc"/><circle cx="401.07" cy="85.72" r="1.7" fill="#22b8dc" stroke="#22b8dc"/><circle cx="395.57" cy="88.93" r="1.7" fill="#22b8dc" stroke="#22b8dc"/><circle cx="413.53" cy="73.09" r="1.7" fill="#22b8dc" stroke="#22b8dc"/><circle cx="395.73" cy="86.31" r="1.7" fill="#b7a6dc" stroke="#b7a6dc"/><circle cx="419.64" cy="66.23" r="1.7" fill="#22b8dc" stroke="#22b8dc"/><circle cx="410.73" cy="81.38" r="1.7" fill="#22b8dc" stroke="#22b8dc"/><circle cx="399.23" cy="92.33" r="1.7" fill="#22b8dc" stroke="#22b8dc"/><circle cx="397.1" cy="79.65" r="1.7" fill="#22b8dc" stroke="#22b8dc"/><circle cx="402.94" cy="82.22" r="1.7" fill="#22b8dc" stroke="#22b8dc"/><circle cx="374.75" cy="93.62" r="1.7" fill="#f26148" stroke="#f26148"/><circle cx="395.29" cy="89.94" r="1.7" fill="#22b8dc" stroke="#22b8dc"/><circle cx="401.26" cy="91.03" r="1.7" fill="#22b8dc" stroke="#22b8dc"/><circle cx="401.26" cy="85.2" r="1.7" fill="#22b8dc" stroke="#22b8dc"/><circle cx="413.95" cy="63.7" r="1.7" fill="#22b8dc" stroke="#22b8dc"/><circle cx="395.49" cy="90.43" r="1.7" fill="#22b8dc" stroke="#22b8dc"/><circle cx="408.81" cy="61.62" r="1.7" fill="#22b8dc" stroke="#22b8dc"/><circle cx="403.76" cy="79.58" r="1.7" fill="#22b8dc" stroke="#22b8dc"/><circle cx="414.53" cy="54.74" r="1.7" fill="#22b8dc" stroke="#22b8dc"/><circle cx="417.88" cy="24.2" r="1.6" fill="#22b8dc" stroke="#22b8dc"/><circle cx="421.32" cy="35.85" r="1.6" fill="#22b8dc" stroke="#22b8dc"/><circle cx="406.92" cy="77.43" r="1.5" fill="#22b8dc" stroke="#22b8dc"/><circle cx="406.91" cy="81.47" r="1.5" fill="#f26148" stroke="#f26148"/><circle cx="409.31" cy="71.8" r="1.5" fill="#f26148" stroke="#f26148"/><circle cx="427.03" cy="92.79" r="1.5" fill="#22b8dc" stroke="#22b8dc"/><circle cx="415.67" cy="70.02" r="1.5" fill="#22b8dc" stroke="#22b8dc"/><circle cx="407.05" cy="90.77" r="1.5" fill="#b7a6dc" stroke="#b7a6dc"/><circle cx="420.89" cy="57.36" r="1.5" fill="#22b8dc" stroke="#22b8dc"/><circle cx="421.01" cy="70.74" r="1.5" fill="#22b8dc" stroke="#22b8dc"/><circle cx="424.03" cy="62.84" r="1.5" fill="#22b8dc" stroke="#22b8dc"/><circle cx="407.83" cy="83.57" r="1.5" fill="#22b8dc" stroke="#22b8dc"/><circle cx="410.02" cy="91.97" r="1.5" fill="#22b8dc" stroke="#22b8dc"/><circle cx="411.83" cy="81" r="1.5" fill="#22b8dc" stroke="#22b8dc"/><circle cx="415.17" cy="61.02" r="1.5" fill="#22b8dc" stroke="#22b8dc"/><circle cx="410.38" cy="82.24" r="1.5" fill="#22b8dc" stroke="#22b8dc"/><circle cx="393.42" cy="92.83" r="1.5" fill="#b7a6dc" stroke="#b7a6dc"/><circle cx="400.69" cy="80.24" r="1.5" fill="#22b8dc" stroke="#22b8dc"/><circle cx="397.21" cy="83.14" r="1.5" fill="#22b8dc" stroke="#22b8dc"/><circle cx="413.36" cy="86.99" r="1.5" fill="#22b8dc" stroke="#22b8dc"/><circle cx="413.39" cy="59.55" r="1.5" fill="#22b8dc" stroke="#22b8dc"/><circle cx="402.71" cy="85.31" r="1.5" fill="#22b8dc" stroke="#22b8dc"/><circle cx="407.33" cy="77.1" r="1.5" fill="#b7a6dc" stroke="#b7a6dc"/><circle cx="408.6" cy="75.7" r="1.5" fill="#f26148" stroke="#f26148"/><circle cx="416.31" cy="68.97" r="1.5" fill="#b7a6dc" stroke="#b7a6dc"/><circle cx="414.01" cy="82.78" r="1.5" fill="#22b8dc" stroke="#22b8dc"/><circle cx="408.32" cy="93.54" r="1.5" fill="#22b8dc" stroke="#22b8dc"/><circle cx="399.4" cy="89.1" r="1.5" fill="#22b8dc" stroke="#22b8dc"/><circle cx="416.96" cy="47.5" r="1.5" fill="#22b8dc" stroke="#22b8dc"/><circle cx="389.26" cy="92.35" r="1.5" fill="#b7a6dc" stroke="#b7a6dc"/><circle cx="379.62" cy="90.77" r="1.5" fill="#22b8dc" stroke="#22b8dc"/><circle cx="395.63" cy="91.22" r="1.5" fill="#f26148" stroke="#f26148"/><circle cx="395.37" cy="93.35" r="1.5" fill="#22b8dc" stroke="#22b8dc"/><circle cx="404.27" cy="83.62" r="1.5" fill="#22b8dc" stroke="#22b8dc"/><circle cx="384.6" cy="90.92" r="1.5" fill="#22b8dc" stroke="#22b8dc"/><circle cx="423.95" cy="73.46" r="1.5" fill="#22b8dc" stroke="#22b8dc"/><circle cx="408.23" cy="85.02" r="1.5" fill="#22b8dc" stroke="#22b8dc"/><circle cx="419.12" cy="92.31" r="1.5" fill="#22b8dc" stroke="#22b8dc"/><circle cx="403.31" cy="85.76" r="1.5" fill="#22b8dc" stroke="#22b8dc"/><circle cx="410.72" cy="91.45" r="1.5" fill="#22b8dc" stroke="#22b8dc"/><circle cx="383.31" cy="90.49" r="1.5" fill="#22b8dc" stroke="#22b8dc"/><circle cx="411.45" cy="74.68" r="1.5" fill="#22b8dc" stroke="#22b8dc"/><circle cx="405.14" cy="75.92" r="1.5" fill="#f26148" stroke="#f26148"/><circle cx="428.8" cy="90.83" r="1.5" fill="#22b8dc" stroke="#22b8dc"/><circle cx="414.26" cy="86.91" r="1.5" fill="#22b8dc" stroke="#22b8dc"/><circle cx="406.99" cy="76.51" r="1.5" fill="#22b8dc" stroke="#22b8dc"/><circle cx="411.8" cy="85.13" r="1.5" fill="#22b8dc" stroke="#22b8dc"/><circle cx="407.88" cy="74.17" r="1.5" fill="#22b8dc" stroke="#22b8dc"/><circle cx="404.27" cy="81.48" r="1.5" fill="#f26148" stroke="#f26148"/><circle cx="418.14" cy="75.22" r="1.5" fill="#22b8dc" stroke="#22b8dc"/><circle cx="407.61" cy="89.44" r="1.4" fill="#b7a6dc" stroke="#b7a6dc"/><circle cx="410.36" cy="91.1" r="1.4" fill="#f26148" stroke="#f26148"/><circle cx="395.52" cy="94.29" r="1.4" fill="#22b8dc" stroke="#22b8dc"/><circle cx="390.87" cy="89.85" r="1.4" fill="#f26148" stroke="#f26148"/><circle cx="419.48" cy="94.33" r="1.4" fill="#b7a6dc" stroke="#b7a6dc"/><circle cx="395.15" cy="90.53" r="1.4" fill="#22b8dc" stroke="#22b8dc"/><circle cx="404.47" cy="92.77" r="1.4" fill="#f26148" stroke="#f26148"/><circle cx="406.56" cy="90.22" r="1.4" fill="#22b8dc" stroke="#22b8dc"/><circle cx="393.8" cy="94.68" r="1.4" fill="#22b8dc" stroke="#22b8dc"/><circle cx="409.47" cy="90.28" r="1.4" fill="#f2ec90" stroke="#f2ec90"/><circle cx="375.92" cy="92.08" r="1.4" fill="#b7a6dc" stroke="#b7a6dc"/><circle cx="403.04" cy="94.88" r="1.4" fill="#f2ec90" stroke="#f2ec90"/><circle cx="416.96" cy="39.18" r="1.4" fill="#22b8dc" stroke="#22b8dc"/><circle cx="406.31" cy="90.93" r="1.4" fill="#f26148" stroke="#f26148"/><circle cx="414.9" cy="91.89" r="1.4" fill="#f26148" stroke="#f26148"/><circle cx="382.63" cy="91.6" r="1.4" fill="#b7a6dc" stroke="#b7a6dc"/><circle cx="402.27" cy="94" r="1.4" fill="#b7a6dc" stroke="#b7a6dc"/><circle cx="381.49" cy="91.45" r="1.4" fill="#b7a6dc" stroke="#b7a6dc"/><circle cx="388.81" cy="94.09" r="1.4" fill="#22b8dc" stroke="#22b8dc"/><circle cx="395.26" cy="94.19" r="1.4" fill="#22b8dc" stroke="#22b8dc"/><circle cx="407.25" cy="87.78" r="1.4" fill="#22b8dc" stroke="#22b8dc"/><circle cx="404.36" cy="93.53" r="1.4" fill="#f26148" stroke="#f26148"/><circle cx="389.21" cy="93.79" r="1.4" fill="#b7a6dc" stroke="#b7a6dc"/><circle cx="383.03" cy="88.01" r="1.4" fill="#22b8dc" stroke="#22b8dc"/><circle cx="409.77" cy="94.39" r="1.4" fill="#f26148" stroke="#f26148"/><circle cx="424.2" cy="50.41" r="1.4" fill="#22b8dc" stroke="#22b8dc"/><circle cx="396.02" cy="88.2" r="1.4" fill="#f2ec90" stroke="#f2ec90"/><circle cx="404.75" cy="92.82" r="1.4" fill="#f26148" stroke="#f26148"/><circle cx="406.95" cy="94.85" r="1.4" fill="#b7a6dc" stroke="#b7a6dc"/><circle cx="414.55" cy="91.18" r="1.4" fill="#22b8dc" stroke="#22b8dc"/><circle cx="382.41" cy="93.39" r="1.4" fill="#22b8dc" stroke="#22b8dc"/><circle cx="409.25" cy="54.57" r="1.4" fill="#22b8dc" stroke="#22b8dc"/><circle cx="367.1" cy="94.6" r="1.4" fill="#b7a6dc" stroke="#b7a6dc"/><circle cx="398.4" cy="88.92" r="1.4" fill="#22b8dc" stroke="#22b8dc"/><circle cx="388.57" cy="91.51" r="1.4" fill="#22b8dc" stroke="#22b8dc"/><circle cx="393.09" cy="93.29" r="1.4" fill="#b7a6dc" stroke="#b7a6dc"/><circle cx="387.47" cy="90.16" r="1.4" fill="#b7a6dc" stroke="#b7a6dc"/><circle cx="398.58" cy="85.65" r="1.4" fill="#22b8dc" stroke="#22b8dc"/><circle cx="412.56" cy="94.34" r="1.4" fill="#22b8dc" stroke="#22b8dc"/><circle cx="409.73" cy="80.76" r="1.4" fill="#f26148" stroke="#f26148"/><circle cx="395.05" cy="89.44" r="1.4" fill="#22b8dc" stroke="#22b8dc"/><circle cx="387.01" cy="93.14" r="1.4" fill="#f26148" stroke="#f26148"/><circle cx="397.96" cy="92.41" r="1.4" fill="#22b8dc" stroke="#22b8dc"/><circle cx="411.76" cy="86.7" r="1.4" fill="#22b8dc" stroke="#22b8dc"/><circle cx="389.81" cy="91.93" r="1.4" fill="#22b8dc" stroke="#22b8dc"/><circle cx="406.5" cy="93.7" r="1.4" fill="#f26148" stroke="#f26148"/><circle cx="407" cy="93.89" r="1.4" fill="#22b8dc" stroke="#22b8dc"/><circle cx="428.8" cy="77.34" r="1.3" fill="#22b8dc" stroke="#22b8dc"/><circle cx="413.49" cy="80.88" r="1.3" fill="#22b8dc" stroke="#22b8dc"/><circle cx="423.44" cy="72.25" r="1.3" fill="#22b8dc" stroke="#22b8dc"/><circle cx="376.76" cy="93.66" r="1.3" fill="#22b8dc" stroke="#22b8dc"/><circle cx="392.75" cy="92.8" r="1.3" fill="#f26148" stroke="#f26148"/><circle cx="387.27" cy="89.6" r="1.3" fill="#f26148" stroke="#f26148"/><circle cx="402.05" cy="70" r="1.3" fill="#22b8dc" stroke="#22b8dc"/><circle cx="398.28" cy="90.59" r="1.3" fill="#f26148" stroke="#f26148"/><circle cx="397.37" cy="88.17" r="1.3" fill="#22b8dc" stroke="#22b8dc"/><circle cx="414.5" cy="83.72" r="1.3" fill="#22b8dc" stroke="#22b8dc"/><circle cx="413.76" cy="88.87" r="1.3" fill="#22b8dc" stroke="#22b8dc"/><circle cx="404.14" cy="78.31" r="1.3" fill="#f26148" stroke="#f26148"/><circle cx="408.22" cy="83.27" r="1.3" fill="#22b8dc" stroke="#22b8dc"/><circle cx="408.78" cy="92.01" r="1.3" fill="#22b8dc" stroke="#22b8dc"/><circle cx="425.31" cy="63.56" r="1.3" fill="#22b8dc" stroke="#22b8dc"/><circle cx="407.93" cy="90.01" r="1.3" fill="#22b8dc" stroke="#22b8dc"/><circle cx="398.35" cy="72.91" r="1.3" fill="#22b8dc" stroke="#22b8dc"/><circle cx="400.09" cy="80.9" r="1.3" fill="#b7a6dc" stroke="#b7a6dc"/><circle cx="395" cy="85.21" r="1.3" fill="#f26148" stroke="#f26148"/><circle cx="397.29" cy="79.75" r="1.3" fill="#22b8dc" stroke="#22b8dc"/><circle cx="404.41" cy="81.4" r="1.3" fill="#22b8dc" stroke="#22b8dc"/><circle cx="409.05" cy="75.01" r="1.3" fill="#22b8dc" stroke="#22b8dc"/><circle cx="379.3" cy="92.57" r="1.3" fill="#22b8dc" stroke="#22b8dc"/><circle cx="418.87" cy="68.99" r="1.3" fill="#f26148" stroke="#f26148"/><circle cx="428.8" cy="69.94" r="1.3" fill="#b7a6dc" stroke="#b7a6dc"/><circle cx="428.8" cy="89.07" r="1.3" fill="#22b8dc" stroke="#22b8dc"/><circle cx="402.22" cy="77.09" r="1.3" fill="#22b8dc" stroke="#22b8dc"/><circle cx="423.82" cy="57.98" r="1.3" fill="#22b8dc" stroke="#22b8dc"/><circle cx="385.05" cy="93.53" r="1.3" fill="#f26148" stroke="#f26148"/><circle cx="413.13" cy="85.41" r="1.3" fill="#22b8dc" stroke="#22b8dc"/><circle cx="422.31" cy="82.38" r="1.3" fill="#22b8dc" stroke="#22b8dc"/><circle cx="414.51" cy="79.65" r="1.3" fill="#f26148" stroke="#f26148"/><circle cx="388.11" cy="86.96" r="1.3" fill="#22b8dc" stroke="#22b8dc"/><circle cx="394.93" cy="91.35" r="1.3" fill="#22b8dc" stroke="#22b8dc"/><circle cx="408.27" cy="83.36" r="1.3" fill="#22b8dc" stroke="#22b8dc"/><circle cx="413.94" cy="81.27" r="1.3" fill="#f26148" stroke="#f26148"/><circle cx="409.09" cy="87.88" r="1.3" fill="#22b8dc" stroke="#22b8dc"/><circle cx="407.97" cy="91.85" r="1.3" fill="#22b8dc" stroke="#22b8dc"/><circle cx="418.67" cy="66.28" r="1.3" fill="#22b8dc" stroke="#22b8dc"/><circle cx="397" cy="82.98" r="1.3" fill="#22b8dc" stroke="#22b8dc"/><circle cx="424.99" cy="64" r="1.3" fill="#22b8dc" stroke="#22b8dc"/><circle cx="385.56" cy="63.3" r="1.3" fill="#22b8dc" stroke="#22b8dc"/><circle cx="388.71" cy="73.23" r="1.3" fill="#22b8dc" stroke="#22b8dc"/><circle cx="408.52" cy="79.43" r="1.3" fill="#f26148" stroke="#f26148"/><circle cx="420.41" cy="80.81" r="1.3" fill="#22b8dc" stroke="#22b8dc"/><circle cx="386.31" cy="74.7" r="1.3" fill="#22b8dc" stroke="#22b8dc"/><circle cx="414.03" cy="92.09" r="1.3" fill="#b7a6dc" stroke="#b7a6dc"/><circle cx="389.55" cy="92.51" r="1.3" fill="#22b8dc" stroke="#22b8dc"/><circle cx="415.07" cy="74.75" r="1.3" fill="#22b8dc" stroke="#22b8dc"/><circle cx="392.9" cy="93.47" r="1.2" fill="#b7a6dc" stroke="#b7a6dc"/><circle cx="387.79" cy="91.53" r="1.2" fill="#f26148" stroke="#f26148"/><circle cx="394.56" cy="89.43" r="1.2" fill="#b7a6dc" stroke="#b7a6dc"/><circle cx="405.18" cy="88.17" r="1.2" fill="#f26148" stroke="#f26148"/><circle cx="404.64" cy="92.77" r="1.2" fill="#f2ec90" stroke="#f2ec90"/><circle cx="425.53" cy="93.35" r="1.2" fill="#22b8dc" stroke="#22b8dc"/><circle cx="393.64" cy="92.93" r="1.2" fill="#22b8dc" stroke="#22b8dc"/><circle cx="401.01" cy="92.62" r="1.2" fill="#22b8dc" stroke="#22b8dc"/><circle cx="370.88" cy="92.84" r="1.2" fill="#f2ec90" stroke="#f2ec90"/><circle cx="390.59" cy="87.38" r="1.2" fill="#f2ec90" stroke="#f2ec90"/><circle cx="393.89" cy="92.96" r="1.2" fill="#f26148" stroke="#f26148"/><circle cx="411.58" cy="92.7" r="1.2" fill="#f2ec90" stroke="#f2ec90"/><circle cx="388.34" cy="88.97" r="1.2" fill="#22b8dc" stroke="#22b8dc"/><circle cx="400.54" cy="91.27" r="1.2" fill="#f26148" stroke="#f26148"/><circle cx="397.24" cy="88.2" r="1.2" fill="#22b8dc" stroke="#22b8dc"/><circle cx="371.87" cy="88.71" r="1.2" fill="#b7a6dc" stroke="#b7a6dc"/><circle cx="418.57" cy="94.21" r="1.2" fill="#f26148" stroke="#f26148"/><circle cx="409.89" cy="85.11" r="1.2" fill="#22b8dc" stroke="#22b8dc"/><circle cx="409.29" cy="94.83" r="1.2" fill="#22b8dc" stroke="#22b8dc"/><circle cx="421.53" cy="89.42" r="1.2" fill="#22b8dc" stroke="#22b8dc"/><circle cx="415.33" cy="93.51" r="1.2" fill="#b7a6dc" stroke="#b7a6dc"/><circle cx="400.51" cy="88.04" r="1.2" fill="#b7a6dc" stroke="#b7a6dc"/><circle cx="390.21" cy="91.27" r="1.2" fill="#b7a6dc" stroke="#b7a6dc"/><circle cx="401.62" cy="93.08" r="1.2" fill="#22b8dc" stroke="#22b8dc"/><circle cx="388.47" cy="94.82" r="1.2" fill="#22b8dc" stroke="#22b8dc"/><circle cx="396.49" cy="94.55" r="1.2" fill="#b7a6dc" stroke="#b7a6dc"/><circle cx="411.73" cy="89.72" r="1.2" fill="#22b8dc" stroke="#22b8dc"/><circle cx="397.99" cy="92.5" r="1.2" fill="#b7a6dc" stroke="#b7a6dc"/><circle cx="401.02" cy="89.18" r="1.2" fill="#b7a6dc" stroke="#b7a6dc"/><circle cx="419.14" cy="91.94" r="1.2" fill="#f2ec90" stroke="#f2ec90"/><circle cx="393.3" cy="91.46" r="1.2" fill="#b7a6dc" stroke="#b7a6dc"/><circle cx="410.97" cy="93.22" r="1.2" fill="#f26148" stroke="#f26148"/><circle cx="389.92" cy="90.98" r="1.2" fill="#b7a6dc" stroke="#b7a6dc"/><circle cx="397.8" cy="92.73" r="1.2" fill="#b7a6dc" stroke="#b7a6dc"/><circle cx="410.11" cy="94.15" r="1.2" fill="#f2ec90" stroke="#f2ec90"/><circle cx="414.92" cy="93.14" r="1.2" fill="#22b8dc" stroke="#22b8dc"/><circle cx="402.37" cy="92.43" r="1.2" fill="#22b8dc" stroke="#22b8dc"/><circle cx="399.79" cy="94.08" r="1.2" fill="#b7a6dc" stroke="#b7a6dc"/><circle cx="375.42" cy="93.57" r="1.2" fill="#22b8dc" stroke="#22b8dc"/><circle cx="404.76" cy="91.31" r="1.2" fill="#22b8dc" stroke="#22b8dc"/><circle cx="398.03" cy="89.03" r="1.2" fill="#f2ec90" stroke="#f2ec90"/><circle cx="422.04" cy="94.46" r="1.2" fill="#22b8dc" stroke="#22b8dc"/><circle cx="399.26" cy="90.8" r="1.2" fill="#b7a6dc" stroke="#b7a6dc"/><circle cx="383.87" cy="92.54" r="1.2" fill="#22b8dc" stroke="#22b8dc"/><circle cx="393.48" cy="94.51" r="1.2" fill="#f26148" stroke="#f26148"/><circle cx="394.06" cy="93.13" r="1.2" fill="#f26148" stroke="#f26148"/><circle cx="400.99" cy="93.29" r="1.2" fill="#f2ec90" stroke="#f2ec90"/><circle cx="380.29" cy="90.13" r="1.2" fill="#22b8dc" stroke="#22b8dc"/><circle cx="401.21" cy="90.24" r="1.2" fill="#22b8dc" stroke="#22b8dc"/><circle cx="395.63" cy="84.72" r="1.2" fill="#22b8dc" stroke="#22b8dc"/><circle cx="388.35" cy="92.81" r="1.2" fill="#b7a6dc" stroke="#b7a6dc"/><circle cx="398.84" cy="89.3" r="1.2" fill="#22b8dc" stroke="#22b8dc"/><circle cx="394.79" cy="91.03" r="1.2" fill="#f26148" stroke="#f26148"/><circle cx="397.15" cy="93.65" r="1.2" fill="#b7a6dc" stroke="#b7a6dc"/><circle cx="420.12" cy="70.17" r="1.1" fill="#22b8dc" stroke="#22b8dc"/><circle cx="406.27" cy="77.33" r="1.1" fill="#22b8dc" stroke="#22b8dc"/><circle cx="407.79" cy="82.41" r="1.1" fill="#22b8dc" stroke="#22b8dc"/><circle cx="406.26" cy="87.3" r="1.1" fill="#22b8dc" stroke="#22b8dc"/><circle cx="358.86" cy="90.16" r="1.1" fill="#22b8dc" stroke="#22b8dc"/><circle cx="368.98" cy="90.29" r="1.1" fill="#22b8dc" stroke="#22b8dc"/><circle cx="397.16" cy="84.83" r="1.1" fill="#22b8dc" stroke="#22b8dc"/><circle cx="419.56" cy="48.89" r="1.1" fill="#22b8dc" stroke="#22b8dc"/><circle cx="365.84" cy="93.23" r="1.1" fill="#22b8dc" stroke="#22b8dc"/><circle cx="387.22" cy="91" r="1.1" fill="#b7a6dc" stroke="#b7a6dc"/><circle cx="415.45" cy="81.4" r="1.1" fill="#22b8dc" stroke="#22b8dc"/><circle cx="393" cy="84.81" r="1.1" fill="#f26148" stroke="#f26148"/><circle cx="393.2" cy="73.93" r="1.1" fill="#22b8dc" stroke="#22b8dc"/><circle cx="415.72" cy="53.09" r="1.1" fill="#22b8dc" stroke="#22b8dc"/><circle cx="415.08" cy="45.67" r="1.1" fill="#22b8dc" stroke="#22b8dc"/><circle cx="356.9" cy="91.94" r="1.1" fill="#b7a6dc" stroke="#b7a6dc"/><circle cx="392.3" cy="74.59" r="1.1" fill="#f26148" stroke="#f26148"/><circle cx="381.47" cy="91.76" r="1.1" fill="#22b8dc" stroke="#22b8dc"/><circle cx="375.26" cy="94.29" r="1.1" fill="#22b8dc" stroke="#22b8dc"/><circle cx="410.63" cy="70.86" r="1.1" fill="#22b8dc" stroke="#22b8dc"/><circle cx="424.06" cy="79.32" r="1.1" fill="#22b8dc" stroke="#22b8dc"/><circle cx="400.38" cy="93.02" r="1.1" fill="#22b8dc" stroke="#22b8dc"/><circle cx="407.22" cy="85.54" r="1.1" fill="#22b8dc" stroke="#22b8dc"/><circle cx="363.08" cy="91.53" r="1.1" fill="#b7a6dc" stroke="#b7a6dc"/><circle cx="392.93" cy="87.51" r="1.1" fill="#22b8dc" stroke="#22b8dc"/><circle cx="413.83" cy="74.7" r="1.1" fill="#22b8dc" stroke="#22b8dc"/><circle cx="404.2" cy="93.3" r="1.1" fill="#f26148" stroke="#f26148"/><circle cx="397.38" cy="90.87" r="1.1" fill="#22b8dc" stroke="#22b8dc"/><circle cx="411.77" cy="88.35" r="1.1" fill="#22b8dc" stroke="#22b8dc"/><circle cx="398.11" cy="85.55" r="1.1" fill="#b7a6dc" stroke="#b7a6dc"/><circle cx="376.15" cy="91.76" r="1.1" fill="#22b8dc" stroke="#22b8dc"/><circle cx="424.48" cy="75.02" r="1.1" fill="#22b8dc" stroke="#22b8dc"/><circle cx="390.7" cy="85.6" r="1.1" fill="#22b8dc" stroke="#22b8dc"/><circle cx="404.1" cy="75.22" r="1.1" fill="#22b8dc" stroke="#22b8dc"/><circle cx="400.62" cy="85.14" r="1.1" fill="#22b8dc" stroke="#22b8dc"/><circle cx="374.75" cy="93.48" r="1.1" fill="#b7a6dc" stroke="#b7a6dc"/><circle cx="371.21" cy="90.14" r="1.1" fill="#b7a6dc" stroke="#b7a6dc"/><circle cx="410.29" cy="71.91" r="1.1" fill="#22b8dc" stroke="#22b8dc"/><circle cx="400.01" cy="86.35" r="1.1" fill="#22b8dc" stroke="#22b8dc"/><circle cx="376.68" cy="93.06" r="1.1" fill="#22b8dc" stroke="#22b8dc"/><circle cx="392.74" cy="83.17" r="1.1" fill="#f26148" stroke="#f26148"/><circle cx="350.51" cy="91.93" r="1.1" fill="#22b8dc" stroke="#22b8dc"/><circle cx="351.63" cy="88.77" r="1.1" fill="#22b8dc" stroke="#22b8dc"/><circle cx="423.53" cy="72.07" r="1.1" fill="#22b8dc" stroke="#22b8dc"/><circle cx="393.97" cy="91.24" r="1.1" fill="#22b8dc" stroke="#22b8dc"/><circle cx="421.55" cy="54.18" r="1.1" fill="#22b8dc" stroke="#22b8dc"/><circle cx="396.51" cy="78.67" r="1.1" fill="#22b8dc" stroke="#22b8dc"/><circle cx="403.5" cy="49.03" r="1.1" fill="#22b8dc" stroke="#22b8dc"/><circle cx="412.82" cy="93.42" r="1.1" fill="#22b8dc" stroke="#22b8dc"/><circle cx="403.24" cy="90.59" r="1.1" fill="#22b8dc" stroke="#22b8dc"/><circle cx="395.76" cy="81.1" r="1.1" fill="#22b8dc" stroke="#22b8dc"/><circle cx="421.8" cy="80.48" r="1.1" fill="#f26148" stroke="#f26148"/><circle cx="395.34" cy="89.29" r="1" fill="#b7a6dc" stroke="#b7a6dc"/><circle cx="398.36" cy="93.62" r="1" fill="#f26148" stroke="#f26148"/><circle cx="407.36" cy="86.44" r="1" fill="#b7a6dc" stroke="#b7a6dc"/><circle cx="394.88" cy="91.98" r="1" fill="#22b8dc" stroke="#22b8dc"/><circle cx="399.85" cy="92.55" r="1" fill="#22b8dc" stroke="#22b8dc"/><circle cx="418.92" cy="84.43" r="1" fill="#f26148" stroke="#f26148"/><circle cx="400.04" cy="92.41" r="1" fill="#f26148" stroke="#f26148"/><circle cx="378.9" cy="93.37" r="1" fill="#b7a6dc" stroke="#b7a6dc"/><circle cx="397.85" cy="91.03" r="1" fill="#b7a6dc" stroke="#b7a6dc"/><circle cx="408.64" cy="89.92" r="1" fill="#f26148" stroke="#f26148"/><circle cx="386.55" cy="94.46" r="1" fill="#f2ec90" stroke="#f2ec90"/><circle cx="402.57" cy="94.89" r="1" fill="#f26148" stroke="#f26148"/><circle cx="416.34" cy="88.58" r="1" fill="#b7a6dc" stroke="#b7a6dc"/><circle cx="364.4" cy="88.23" r="1" fill="#22b8dc" stroke="#22b8dc"/><circle cx="377.84" cy="92.08" r="1" fill="#22b8dc" stroke="#22b8dc"/><circle cx="399.16" cy="88.59" r="1" fill="#b7a6dc" stroke="#b7a6dc"/><circle cx="397.17" cy="90.68" r="1" fill="#f2ec90" stroke="#f2ec90"/><circle cx="388.56" cy="91.46" r="1" fill="#f26148" stroke="#f26148"/><circle cx="396.37" cy="90.33" r="1" fill="#22b8dc" stroke="#22b8dc"/><circle cx="409.95" cy="93.12" r="1" fill="#22b8dc" stroke="#22b8dc"/><circle cx="414.11" cy="93.97" r="1" fill="#f2ec90" stroke="#f2ec90"/><circle cx="401.03" cy="87.28" r="1" fill="#b7a6dc" stroke="#b7a6dc"/><circle cx="384.2" cy="90.46" r="1" fill="#b7a6dc" stroke="#b7a6dc"/><circle cx="406.35" cy="94.41" r="1" fill="#b7a6dc" stroke="#b7a6dc"/><circle cx="378.08" cy="94.89" r="1" fill="#f26148" stroke="#f26148"/><circle cx="427.65" cy="91.23" r="1" fill="#f2ec90" stroke="#f2ec90"/><circle cx="408.49" cy="91.94" r="1" fill="#f26148" stroke="#f26148"/><circle cx="397.07" cy="90.29" r="1" fill="#22b8dc" stroke="#22b8dc"/><circle cx="393.28" cy="93.38" r="1" fill="#22b8dc" stroke="#22b8dc"/><circle cx="375.75" cy="91.83" r="1" fill="#f2ec90" stroke="#f2ec90"/><circle cx="401.06" cy="88.37" r="1" fill="#f26148" stroke="#f26148"/><circle cx="393.74" cy="94.64" r="1" fill="#22b8dc" stroke="#22b8dc"/><circle cx="376.07" cy="86.37" r="1" fill="#22b8dc" stroke="#22b8dc"/><circle cx="408.08" cy="91.63" r="1" fill="#b7a6dc" stroke="#b7a6dc"/><circle cx="383.15" cy="94.3" r="1" fill="#b7a6dc" stroke="#b7a6dc"/><circle cx="389.57" cy="94.17" r="1" fill="#22b8dc" stroke="#22b8dc"/><circle cx="395.3" cy="92.21" r="1" fill="#22b8dc" stroke="#22b8dc"/><circle cx="384.64" cy="91.7" r="1" fill="#b7a6dc" stroke="#b7a6dc"/><circle cx="376.71" cy="89.64" r="1" fill="#b7a6dc" stroke="#b7a6dc"/><circle cx="418.41" cy="94.25" r="1" fill="#b7a6dc" stroke="#b7a6dc"/><circle cx="408.42" cy="94.18" r="1" fill="#b7a6dc" stroke="#b7a6dc"/><circle cx="405.38" cy="90.11" r="1" fill="#f26148" stroke="#f26148"/><circle cx="408.66" cy="91.68" r="1" fill="#22b8dc" stroke="#22b8dc"/><circle cx="414.62" cy="90.42" r="1" fill="#f26148" stroke="#f26148"/><circle cx="407.84" cy="90.16" r="1" fill="#22b8dc" stroke="#22b8dc"/><circle cx="397.86" cy="90.75" r="1" fill="#f2ec90" stroke="#f2ec90"/><circle cx="402.22" cy="92.54" r="1" fill="#f2ec90" stroke="#f2ec90"/><circle cx="385.17" cy="92.48" r="1" fill="#b7a6dc" stroke="#b7a6dc"/><circle cx="411.65" cy="91.41" r="1" fill="#b7a6dc" stroke="#b7a6dc"/><circle cx="371.06" cy="89.61" r="0.9" fill="#22b8dc" stroke="#22b8dc"/><circle cx="348.55" cy="94.64" r="0.9" fill="#f2ec90" stroke="#f2ec90"/><circle cx="366.15" cy="93.51" r="0.9" fill="#b7a6dc" stroke="#b7a6dc"/><circle cx="365.91" cy="94.45" r="0.9" fill="#22b8dc" stroke="#22b8dc"/><circle cx="378.05" cy="88.92" r="0.9" fill="#22b8dc" stroke="#22b8dc"/><circle cx="374.49" cy="94.47" r="0.9" fill="#b7a6dc" stroke="#b7a6dc"/><circle cx="359.48" cy="90.31" r="0.9" fill="#b7a6dc" stroke="#b7a6dc"/><circle cx="359.24" cy="92.81" r="0.9" fill="#22b8dc" stroke="#22b8dc"/><circle cx="357.92" cy="94.04" r="0.9" fill="#f2ec90" stroke="#f2ec90"/><circle cx="392.8" cy="88.19" r="0.8" fill="#b7a6dc" stroke="#b7a6dc"/><circle cx="365.37" cy="94.88" r="0.8" fill="#22b8dc" stroke="#22b8dc"/><circle cx="408.73" cy="91.07" r="0.8" fill="#b7a6dc" stroke="#b7a6dc"/><circle cx="382.83" cy="94.01" r="0.8" fill="#f2ec90" stroke="#f2ec90"/><circle cx="392.52" cy="90.3" r="0.8" fill="#22b8dc" stroke="#22b8dc"/><circle cx="396.22" cy="89.78" r="0.8" fill="#f26148" stroke="#f26148"/><circle cx="414.74" cy="92.49" r="0.8" fill="#f26148" stroke="#f26148"/><circle cx="385.83" cy="91.92" r="0.8" fill="#b7a6dc" stroke="#b7a6dc"/><circle cx="410.89" cy="88.58" r="0.8" fill="#22b8dc" stroke="#22b8dc"/><circle cx="392.58" cy="94.5" r="0.8" fill="#22b8dc" stroke="#22b8dc"/><circle cx="406.76" cy="92.92" r="0.8" fill="#f26148" stroke="#f26148"/><circle cx="377.69" cy="94.04" r="0.8" fill="#22b8dc" stroke="#22b8dc"/><circle cx="412.23" cy="89.59" r="0.8" fill="#f26148" stroke="#f26148"/><circle cx="395.4" cy="88.71" r="0.8" fill="#f2ec90" stroke="#f2ec90"/><circle cx="401.49" cy="93.9" r="0.8" fill="#22b8dc" stroke="#22b8dc"/><circle cx="394.16" cy="92.49" r="0.8" fill="#22b8dc" stroke="#22b8dc"/><circle cx="364.4" cy="89.02" r="0.8" fill="#f2ec90" stroke="#f2ec90"/><circle cx="397.91" cy="92.55" r="0.8" fill="#22b8dc" stroke="#22b8dc"/><circle cx="390.06" cy="89.47" r="0.8" fill="#b7a6dc" stroke="#b7a6dc"/><circle cx="402.53" cy="89.41" r="0.8" fill="#b7a6dc" stroke="#b7a6dc"/><circle cx="388.66" cy="89.52" r="0.8" fill="#b7a6dc" stroke="#b7a6dc"/><circle cx="407.15" cy="88.09" r="0.8" fill="#f26148" stroke="#f26148"/><circle cx="399.67" cy="89.92" r="0.8" fill="#22b8dc" stroke="#22b8dc"/><circle cx="422.01" cy="89.46" r="0.8" fill="#b7a6dc" stroke="#b7a6dc"/><circle cx="409.5" cy="94.65" r="0.8" fill="#b7a6dc" stroke="#b7a6dc"/><circle cx="412.48" cy="91.97" r="0.8" fill="#b7a6dc" stroke="#b7a6dc"/><circle cx="401.52" cy="93.54" r="0.8" fill="#22b8dc" stroke="#22b8dc"/><circle cx="387.77" cy="93.34" r="0.8" fill="#f2ec90" stroke="#f2ec90"/><circle cx="398.15" cy="94.42" r="0.8" fill="#f26148" stroke="#f26148"/><circle cx="399.52" cy="94.4" r="0.8" fill="#f26148" stroke="#f26148"/><circle cx="396.1" cy="86.32" r="0.8" fill="#22b8dc" stroke="#22b8dc"/><circle cx="418.64" cy="91.24" r="0.8" fill="#22b8dc" stroke="#22b8dc"/><circle cx="391.43" cy="89.27" r="0.8" fill="#f2ec90" stroke="#f2ec90"/><circle cx="402.72" cy="91.21" r="0.8" fill="#b7a6dc" stroke="#b7a6dc"/><circle cx="402.88" cy="92.51" r="0.8" fill="#22b8dc" stroke="#22b8dc"/><circle cx="392.5" cy="91.63" r="0.8" fill="#22b8dc" stroke="#22b8dc"/><circle cx="383.78" cy="89.24" r="0.8" fill="#22b8dc" stroke="#22b8dc"/><circle cx="405.23" cy="93.67" r="0.8" fill="#b7a6dc" stroke="#b7a6dc"/><circle cx="366.02" cy="88.02" r="0.8" fill="#f2ec90" stroke="#f2ec90"/><circle cx="412.51" cy="85.37" r="0.8" fill="#f2ec90" stroke="#f2ec90"/><circle cx="407.59" cy="92.05" r="0.8" fill="#f26148" stroke="#f26148"/><circle cx="392.18" cy="90.11" r="0.8" fill="#22b8dc" stroke="#22b8dc"/><circle cx="409.86" cy="88.94" r="0.8" fill="#f2ec90" stroke="#f2ec90"/><circle cx="397.39" cy="88.49" r="0.8" fill="#22b8dc" stroke="#22b8dc"/><circle cx="403.69" cy="92.1" r="0.8" fill="#b7a6dc" stroke="#b7a6dc"/><circle cx="393.43" cy="90.86" r="0.8" fill="#22b8dc" stroke="#22b8dc"/><circle cx="401.65" cy="85.78" r="0.8" fill="#b7a6dc" stroke="#b7a6dc"/><circle cx="385.55" cy="93.93" r="0.8" fill="#b7a6dc" stroke="#b7a6dc"/><circle cx="388.02" cy="90.31" r="0.8" fill="#22b8dc" stroke="#22b8dc"/><circle cx="398.19" cy="90.5" r="0.8" fill="#b7a6dc" stroke="#b7a6dc"/><circle cx="413.07" cy="93.32" r="0.8" fill="#22b8dc" stroke="#22b8dc"/><circle cx="423.35" cy="86.12" r="0.8" fill="#f2ec90" stroke="#f2ec90"/><circle cx="379.94" cy="89" r="0.8" fill="#f26148" stroke="#f26148"/><circle cx="359.08" cy="91.77" r="0.7" fill="#22b8dc" stroke="#22b8dc"/><circle cx="374.38" cy="93.39" r="0.7" fill="#b7a6dc" stroke="#b7a6dc"/><circle cx="361" cy="93.79" r="0.7" fill="#22b8dc" stroke="#22b8dc"/><circle cx="376.91" cy="89.1" r="0.7" fill="#f26148" stroke="#f26148"/><circle cx="350.23" cy="90.52" r="0.7" fill="#22b8dc" stroke="#22b8dc"/><circle cx="360.05" cy="92.91" r="0.7" fill="#22b8dc" stroke="#22b8dc"/><circle cx="364.41" cy="94.03" r="0.7" fill="#22b8dc" stroke="#22b8dc"/></g>
<line x1="344.9" y1="21.2" x2="344.9" y2="98.1" stroke="#8a8a8a" stroke-width="0.8"/>
<line x1="344.9" y1="98.1" x2="431.2" y2="98.1" stroke="#8a8a8a" stroke-width="0.8"/>
<line x1="343.9" y1="35.1" x2="344.9" y2="35.1" stroke="#555" stroke-width="0.4"/>
<text x="343.1" y="37" font-size="5.3" text-anchor="end" fill="#222" stroke="#222" stroke-width="0.06" >15</text>
<line x1="343.9" y1="55.9" x2="344.9" y2="55.9" stroke="#555" stroke-width="0.4"/>
<text x="343.1" y="57.8" font-size="5.3" text-anchor="end" fill="#222" stroke="#222" stroke-width="0.06" >10</text>
<line x1="343.9" y1="76.6" x2="344.9" y2="76.6" stroke="#555" stroke-width="0.4"/>
<text x="343.1" y="78.5" font-size="5.3" text-anchor="end" fill="#222" stroke="#222" stroke-width="0.06" >5</text>
<line x1="343.9" y1="97" x2="344.9" y2="97" stroke="#555" stroke-width="0.4"/>
<text x="343.1" y="98.9" font-size="5.3" text-anchor="end" fill="#222" stroke="#222" stroke-width="0.06" >0</text>
<line x1="348.3" y1="98.1" x2="348.3" y2="99.1" stroke="#555" stroke-width="0.4"/>
<text x="348.3" y="105.8" font-size="5.3" text-anchor="middle" fill="#222" stroke="#222" stroke-width="0.06" >-2</text>
<line x1="371.3" y1="98.1" x2="371.3" y2="99.1" stroke="#555" stroke-width="0.4"/>
<text x="371.3" y="105.8" font-size="5.3" text-anchor="middle" fill="#222" stroke="#222" stroke-width="0.06" >0</text>
<line x1="394.3" y1="98.1" x2="394.3" y2="99.1" stroke="#555" stroke-width="0.4"/>
<text x="394.3" y="105.8" font-size="5.3" text-anchor="middle" fill="#222" stroke="#222" stroke-width="0.06" >2</text>
<line x1="417.3" y1="98.1" x2="417.3" y2="99.1" stroke="#555" stroke-width="0.4"/>
<text x="417.3" y="105.8" font-size="5.3" text-anchor="middle" fill="#222" stroke="#222" stroke-width="0.06" >4</text>
<text x="392.5" y="112.7" font-size="6.0" text-anchor="middle" fill="#222" stroke="#222" stroke-width="0.06" >Z-score</text>
<text x="0" y="0" font-size="5.8" text-anchor="middle" fill="#222" transform="translate(332.6,65) rotate(-90)">-log<tspan font-size="4" dy="1">10</tspan><tspan dy="-1">(P.adj)</tspan></text>
<text x="399" y="30.65" font-size="4.85" text-anchor="start" fill="#222" stroke="#222" stroke-width="0.036" >GO:0007409</text>
<text x="405.7" y="84.65" font-size="4.85" text-anchor="start" fill="#222" stroke="#222" stroke-width="0.036" >mmu05224</text>
<text x="368.6" y="90.15" font-size="4.85" text-anchor="start" fill="#222" stroke="#222" stroke-width="0.036" >mmu05017</text>
<text x="397" y="94.95" font-size="4.85" text-anchor="start" fill="#222" stroke="#222" stroke-width="0.036" >mmu04360</text>
<text x="433.1" y="41.6" font-size="3.4" text-anchor="start" fill="#444" stroke="#444" stroke-width="0.036" >Ontology</text>
<circle cx="435" cy="44.2" r="1.1" fill="#22b8dc"/>
<text x="438.1" y="45.4" font-size="3.3" text-anchor="start" fill="#444" stroke="#444" stroke-width="0.036" >BP</text>
<circle cx="435" cy="47.9" r="1.1" fill="#f26148"/>
<text x="438.1" y="49.1" font-size="3.3" text-anchor="start" fill="#444" stroke="#444" stroke-width="0.036" >CC</text>
<circle cx="435" cy="51.6" r="1.1" fill="#b7a6dc"/>
<text x="438.1" y="52.8" font-size="3.3" text-anchor="start" fill="#444" stroke="#444" stroke-width="0.036" >MF</text>
<circle cx="435" cy="55.3" r="1.1" fill="#f2ec90"/>
<text x="438.1" y="56.5" font-size="3.3" text-anchor="start" fill="#444" stroke="#444" stroke-width="0.036" >KEGG</text>
<text x="433.1" y="63" font-size="3.4" text-anchor="start" fill="#444" stroke="#444" stroke-width="0.036" >Counts</text>
<circle cx="434.9" cy="66" r="0.9" fill="none" stroke="#555" stroke-width="0.35"/>
<text x="438.3" y="67.2" font-size="3.3" text-anchor="start" fill="#444" stroke="#444" stroke-width="0.036" >20</text>
<circle cx="434.9" cy="69.85" r="1.3" fill="none" stroke="#555" stroke-width="0.35"/>
<text x="438.3" y="71.05" font-size="3.3" text-anchor="start" fill="#444" stroke="#444" stroke-width="0.036" >40</text>
<circle cx="434.9" cy="73.7" r="1.6" fill="none" stroke="#555" stroke-width="0.35"/>
<text x="438.3" y="74.9" font-size="3.3" text-anchor="start" fill="#444" stroke="#444" stroke-width="0.036" >60</text>
<circle cx="434.9" cy="77.55" r="1.9" fill="none" stroke="#555" stroke-width="0.35"/>
<text x="438.3" y="78.75" font-size="3.3" text-anchor="start" fill="#444" stroke="#444" stroke-width="0.036" >80</text>
<g fill-opacity="0.55" stroke-width="0.45" stroke-opacity="0.95"><circle cx="369.31" cy="203.29" r="1.9" fill="#22b8dc" stroke="#22b8dc"/><circle cx="373.15" cy="181.18" r="1.9" fill="#22b8dc" stroke="#22b8dc"/><circle cx="394.24" cy="179.52" r="1.9" fill="#22b8dc" stroke="#22b8dc"/><circle cx="413.47" cy="200.05" r="1.9" fill="#22b8dc" stroke="#22b8dc"/><circle cx="393.13" cy="150.94" r="1.9" fill="#22b8dc" stroke="#22b8dc"/><circle cx="388.05" cy="189.92" r="1.9" fill="#22b8dc" stroke="#22b8dc"/><circle cx="394.91" cy="154.17" r="1.9" fill="#f26148" stroke="#f26148"/><circle cx="369.35" cy="181.84" r="1.9" fill="#22b8dc" stroke="#22b8dc"/><circle cx="378.21" cy="200.06" r="1.9" fill="#22b8dc" stroke="#22b8dc"/><circle cx="382.17" cy="195.57" r="1.9" fill="#b7a6dc" stroke="#b7a6dc"/><circle cx="386.28" cy="190.04" r="1.9" fill="#22b8dc" stroke="#22b8dc"/><circle cx="377.63" cy="197.89" r="1.9" fill="#22b8dc" stroke="#22b8dc"/><circle cx="374.86" cy="203.08" r="1.9" fill="#b7a6dc" stroke="#b7a6dc"/><circle cx="407.89" cy="189.77" r="1.9" fill="#22b8dc" stroke="#22b8dc"/><circle cx="404.29" cy="177.9" r="1.9" fill="#22b8dc" stroke="#22b8dc"/><circle cx="409.37" cy="191.31" r="1.9" fill="#f26148" stroke="#f26148"/><circle cx="374.77" cy="188.87" r="1.9" fill="#22b8dc" stroke="#22b8dc"/><circle cx="381.38" cy="194.67" r="1.9" fill="#f26148" stroke="#f26148"/><circle cx="374.3" cy="182.03" r="1.9" fill="#f26148" stroke="#f26148"/><circle cx="398.64" cy="188.41" r="1.9" fill="#22b8dc" stroke="#22b8dc"/><circle cx="379.75" cy="199.03" r="1.9" fill="#22b8dc" stroke="#22b8dc"/><circle cx="386.86" cy="199.74" r="1.9" fill="#22b8dc" stroke="#22b8dc"/><circle cx="389" cy="204.76" r="1.9" fill="#b7a6dc" stroke="#b7a6dc"/><circle cx="407.82" cy="149.4" r="1.9" fill="#22b8dc" stroke="#22b8dc"/><circle cx="381.8" cy="190.61" r="1.9" fill="#22b8dc" stroke="#22b8dc"/><circle cx="388.79" cy="198.37" r="1.9" fill="#22b8dc" stroke="#22b8dc"/><circle cx="397.48" cy="184.26" r="1.9" fill="#22b8dc" stroke="#22b8dc"/><circle cx="365.7" cy="149.92" r="1.9" fill="#b7a6dc" stroke="#b7a6dc"/><circle cx="393.45" cy="191.5" r="1.9" fill="#f2ec90" stroke="#f2ec90"/><circle cx="371.38" cy="184.64" r="1.9" fill="#22b8dc" stroke="#22b8dc"/><circle cx="372.13" cy="199.56" r="1.9" fill="#22b8dc" stroke="#22b8dc"/><circle cx="388.96" cy="190.63" r="1.9" fill="#22b8dc" stroke="#22b8dc"/><circle cx="389.37" cy="183.32" r="1.9" fill="#22b8dc" stroke="#22b8dc"/><circle cx="377.17" cy="191.11" r="1.9" fill="#22b8dc" stroke="#22b8dc"/><circle cx="380.06" cy="200.63" r="1.9" fill="#22b8dc" stroke="#22b8dc"/><circle cx="404.65" cy="197.97" r="1.9" fill="#f26148" stroke="#f26148"/><circle cx="386.52" cy="203.13" r="1.9" fill="#22b8dc" stroke="#22b8dc"/><circle cx="397.32" cy="181.83" r="1.9" fill="#f26148" stroke="#f26148"/><circle cx="384.17" cy="182.68" r="1.9" fill="#22b8dc" stroke="#22b8dc"/><circle cx="402.89" cy="197.78" r="1.9" fill="#22b8dc" stroke="#22b8dc"/><circle cx="400.77" cy="189.49" r="1.9" fill="#f26148" stroke="#f26148"/><circle cx="401.22" cy="204.03" r="1.9" fill="#22b8dc" stroke="#22b8dc"/><circle cx="406.88" cy="195.62" r="1.9" fill="#b7a6dc" stroke="#b7a6dc"/><circle cx="391.5" cy="179.83" r="1.9" fill="#22b8dc" stroke="#22b8dc"/><circle cx="379.41" cy="201.6" r="1.9" fill="#22b8dc" stroke="#22b8dc"/><circle cx="408.82" cy="198.27" r="1.9" fill="#22b8dc" stroke="#22b8dc"/><circle cx="397.62" cy="197.33" r="1.9" fill="#22b8dc" stroke="#22b8dc"/><circle cx="393.09" cy="198.66" r="1.9" fill="#22b8dc" stroke="#22b8dc"/><circle cx="384.11" cy="191.2" r="1.9" fill="#22b8dc" stroke="#22b8dc"/><circle cx="385.62" cy="199.46" r="1.9" fill="#f26148" stroke="#f26148"/><circle cx="386.17" cy="197.47" r="1.9" fill="#22b8dc" stroke="#22b8dc"/><circle cx="367.32" cy="146.82" r="1.9" fill="#22b8dc" stroke="#22b8dc"/><circle cx="405.57" cy="182.37" r="1.9" fill="#22b8dc" stroke="#22b8dc"/><circle cx="408.57" cy="190.83" r="1.9" fill="#22b8dc" stroke="#22b8dc"/><circle cx="377.52" cy="193.57" r="1.9" fill="#b7a6dc" stroke="#b7a6dc"/><circle cx="397.25" cy="204.95" r="1.9" fill="#22b8dc" stroke="#22b8dc"/><circle cx="402.82" cy="181.75" r="1.9" fill="#f26148" stroke="#f26148"/><circle cx="378.02" cy="204.79" r="1.9" fill="#b7a6dc" stroke="#b7a6dc"/><circle cx="365.7" cy="193.31" r="1.9" fill="#22b8dc" stroke="#22b8dc"/><circle cx="397.04" cy="193.19" r="1.9" fill="#f26148" stroke="#f26148"/><circle cx="383.53" cy="173.39" r="1.9" fill="#f26148" stroke="#f26148"/><circle cx="357.39" cy="177.42" r="1.9" fill="#22b8dc" stroke="#22b8dc"/><circle cx="390.62" cy="196.8" r="1.9" fill="#f26148" stroke="#f26148"/><circle cx="382.63" cy="201.24" r="1.9" fill="#22b8dc" stroke="#22b8dc"/><circle cx="387.91" cy="198.9" r="1.9" fill="#22b8dc" stroke="#22b8dc"/><circle cx="385.44" cy="181.47" r="1.9" fill="#b7a6dc" stroke="#b7a6dc"/><circle cx="374.21" cy="190.08" r="1.9" fill="#22b8dc" stroke="#22b8dc"/><circle cx="403.2" cy="202.94" r="1.9" fill="#22b8dc" stroke="#22b8dc"/><circle cx="378.1" cy="189.05" r="1.9" fill="#22b8dc" stroke="#22b8dc"/><circle cx="402.13" cy="191.4" r="1.9" fill="#22b8dc" stroke="#22b8dc"/><circle cx="384.48" cy="203.5" r="1.9" fill="#22b8dc" stroke="#22b8dc"/><circle cx="381.25" cy="194.88" r="1.9" fill="#22b8dc" stroke="#22b8dc"/><circle cx="396.04" cy="203.5" r="1.9" fill="#b7a6dc" stroke="#b7a6dc"/><circle cx="418.34" cy="165.7" r="1.9" fill="#22b8dc" stroke="#22b8dc"/><circle cx="373.74" cy="201.57" r="1.9" fill="#22b8dc" stroke="#22b8dc"/><circle cx="394.47" cy="197.58" r="1.9" fill="#22b8dc" stroke="#22b8dc"/><circle cx="415.72" cy="196.61" r="1.9" fill="#b7a6dc" stroke="#b7a6dc"/><circle cx="385.13" cy="204.81" r="1.9" fill="#b7a6dc" stroke="#b7a6dc"/><circle cx="412.88" cy="197.85" r="1.9" fill="#22b8dc" stroke="#22b8dc"/><circle cx="381.98" cy="184.87" r="1.9" fill="#22b8dc" stroke="#22b8dc"/><circle cx="374.47" cy="201.25" r="1.9" fill="#22b8dc" stroke="#22b8dc"/><circle cx="394.7" cy="202.42" r="1.9" fill="#22b8dc" stroke="#22b8dc"/><circle cx="407.51" cy="182.6" r="1.9" fill="#22b8dc" stroke="#22b8dc"/><circle cx="403.07" cy="179.18" r="1.9" fill="#22b8dc" stroke="#22b8dc"/><circle cx="391.32" cy="187.51" r="1.9" fill="#b7a6dc" stroke="#b7a6dc"/><circle cx="379.97" cy="197.67" r="1.9" fill="#f26148" stroke="#f26148"/><circle cx="410.3" cy="187.61" r="1.9" fill="#f26148" stroke="#f26148"/><circle cx="362.6" cy="195.41" r="1.9" fill="#b7a6dc" stroke="#b7a6dc"/><circle cx="379.17" cy="185.75" r="1.9" fill="#f26148" stroke="#f26148"/><circle cx="377.45" cy="204.88" r="1.9" fill="#22b8dc" stroke="#22b8dc"/><circle cx="421.99" cy="196.83" r="1.9" fill="#22b8dc" stroke="#22b8dc"/><circle cx="387.16" cy="182.68" r="1.9" fill="#22b8dc" stroke="#22b8dc"/><circle cx="399.4" cy="197.3" r="1.9" fill="#22b8dc" stroke="#22b8dc"/><circle cx="408.59" cy="185.79" r="1.9" fill="#22b8dc" stroke="#22b8dc"/><circle cx="379.56" cy="187.03" r="1.9" fill="#22b8dc" stroke="#22b8dc"/><circle cx="375.14" cy="197.43" r="1.9" fill="#f26148" stroke="#f26148"/><circle cx="390.87" cy="191.99" r="1.9" fill="#22b8dc" stroke="#22b8dc"/><circle cx="392.63" cy="201" r="1.9" fill="#22b8dc" stroke="#22b8dc"/><circle cx="414.97" cy="192.88" r="1.9" fill="#22b8dc" stroke="#22b8dc"/><circle cx="380.37" cy="185.31" r="1.9" fill="#22b8dc" stroke="#22b8dc"/><circle cx="352.98" cy="187.99" r="1.9" fill="#22b8dc" stroke="#22b8dc"/><circle cx="388.85" cy="190.4" r="1.9" fill="#22b8dc" stroke="#22b8dc"/><circle cx="403.99" cy="197.37" r="1.9" fill="#22b8dc" stroke="#22b8dc"/><circle cx="354.81" cy="204.88" r="1.9" fill="#22b8dc" stroke="#22b8dc"/><circle cx="398.13" cy="195.31" r="1.9" fill="#22b8dc" stroke="#22b8dc"/><circle cx="414.98" cy="193.08" r="1.9" fill="#22b8dc" stroke="#22b8dc"/><circle cx="427.22" cy="191.79" r="1.9" fill="#22b8dc" stroke="#22b8dc"/><circle cx="372.25" cy="165.28" r="1.9" fill="#22b8dc" stroke="#22b8dc"/><circle cx="394.55" cy="199.54" r="1.9" fill="#f26148" stroke="#f26148"/><circle cx="404.05" cy="197.37" r="1.9" fill="#22b8dc" stroke="#22b8dc"/><circle cx="401.68" cy="195.29" r="1.9" fill="#22b8dc" stroke="#22b8dc"/><circle cx="401.76" cy="202.05" r="1.9" fill="#f26148" stroke="#f26148"/><circle cx="397.83" cy="189.21" r="1.9" fill="#f26148" stroke="#f26148"/><circle cx="390.34" cy="199.53" r="1.9" fill="#22b8dc" stroke="#22b8dc"/><circle cx="402.67" cy="199.66" r="1.9" fill="#f26148" stroke="#f26148"/><circle cx="426.36" cy="178.7" r="1.9" fill="#22b8dc" stroke="#22b8dc"/><circle cx="401.84" cy="201.44" r="1.9" fill="#22b8dc" stroke="#22b8dc"/><circle cx="389.45" cy="195.13" r="1.9" fill="#22b8dc" stroke="#22b8dc"/><circle cx="378.4" cy="197.46" r="1.9" fill="#22b8dc" stroke="#22b8dc"/><circle cx="382.28" cy="201.41" r="1.9" fill="#22b8dc" stroke="#22b8dc"/><circle cx="378.67" cy="202.76" r="1.9" fill="#b7a6dc" stroke="#b7a6dc"/><circle cx="395.03" cy="185.6" r="1.9" fill="#f26148" stroke="#f26148"/><circle cx="410.93" cy="188.68" r="1.9" fill="#22b8dc" stroke="#22b8dc"/><circle cx="384.34" cy="204.22" r="1.9" fill="#22b8dc" stroke="#22b8dc"/><circle cx="405.71" cy="198.1" r="1.9" fill="#22b8dc" stroke="#22b8dc"/><circle cx="386.04" cy="204.64" r="1.9" fill="#22b8dc" stroke="#22b8dc"/><circle cx="412.63" cy="184.58" r="1.9" fill="#22b8dc" stroke="#22b8dc"/><circle cx="400.25" cy="197.68" r="1.9" fill="#22b8dc" stroke="#22b8dc"/><circle cx="397.19" cy="188.61" r="1.9" fill="#22b8dc" stroke="#22b8dc"/><circle cx="404.06" cy="193.83" r="1.7" fill="#b7a6dc" stroke="#b7a6dc"/><circle cx="395.34" cy="193.36" r="1.7" fill="#22b8dc" stroke="#22b8dc"/><circle cx="382.43" cy="186.58" r="1.7" fill="#22b8dc" stroke="#22b8dc"/><circle cx="390.03" cy="196.54" r="1.7" fill="#22b8dc" stroke="#22b8dc"/><circle cx="377.02" cy="164.41" r="1.7" fill="#22b8dc" stroke="#22b8dc"/><circle cx="378.42" cy="192.91" r="1.7" fill="#22b8dc" stroke="#22b8dc"/><circle cx="424.45" cy="203.51" r="1.7" fill="#f26148" stroke="#f26148"/><circle cx="391.85" cy="202.32" r="1.7" fill="#f26148" stroke="#f26148"/><circle cx="402.15" cy="202.86" r="1.7" fill="#22b8dc" stroke="#22b8dc"/><circle cx="376.47" cy="193.86" r="1.7" fill="#22b8dc" stroke="#22b8dc"/><circle cx="408.86" cy="203.64" r="1.7" fill="#22b8dc" stroke="#22b8dc"/><circle cx="382.12" cy="195.64" r="1.7" fill="#22b8dc" stroke="#22b8dc"/><circle cx="395.9" cy="190.16" r="1.7" fill="#22b8dc" stroke="#22b8dc"/><circle cx="385.82" cy="199.57" r="1.7" fill="#22b8dc" stroke="#22b8dc"/><circle cx="396.86" cy="196.32" r="1.7" fill="#b7a6dc" stroke="#b7a6dc"/><circle cx="368.12" cy="196.71" r="1.7" fill="#22b8dc" stroke="#22b8dc"/><circle cx="382.4" cy="194.81" r="1.7" fill="#f2ec90" stroke="#f2ec90"/><circle cx="412.86" cy="199.47" r="1.7" fill="#f26148" stroke="#f26148"/><circle cx="386.42" cy="200.6" r="1.7" fill="#22b8dc" stroke="#22b8dc"/><circle cx="391.97" cy="193.73" r="1.7" fill="#22b8dc" stroke="#22b8dc"/><circle cx="389.13" cy="204.66" r="1.7" fill="#b7a6dc" stroke="#b7a6dc"/><circle cx="399.85" cy="202.56" r="1.7" fill="#22b8dc" stroke="#22b8dc"/><circle cx="387.5" cy="191.7" r="1.7" fill="#22b8dc" stroke="#22b8dc"/><circle cx="378.58" cy="198.46" r="1.7" fill="#22b8dc" stroke="#22b8dc"/><circle cx="410.21" cy="202.03" r="1.7" fill="#22b8dc" stroke="#22b8dc"/><circle cx="375.71" cy="173.02" r="1.7" fill="#22b8dc" stroke="#22b8dc"/><circle cx="393.81" cy="189.11" r="1.7" fill="#22b8dc" stroke="#22b8dc"/><circle cx="394.66" cy="200.18" r="1.7" fill="#22b8dc" stroke="#22b8dc"/><circle cx="396.34" cy="203.06" r="1.7" fill="#22b8dc" stroke="#22b8dc"/><circle cx="373.79" cy="192.87" r="1.7" fill="#22b8dc" stroke="#22b8dc"/><circle cx="400.36" cy="175.44" r="1.7" fill="#f26148" stroke="#f26148"/><circle cx="382.02" cy="202.64" r="1.7" fill="#b7a6dc" stroke="#b7a6dc"/><circle cx="384.79" cy="202.93" r="1.7" fill="#22b8dc" stroke="#22b8dc"/><circle cx="393.35" cy="196.68" r="1.7" fill="#22b8dc" stroke="#22b8dc"/><circle cx="400.82" cy="202.79" r="1.7" fill="#22b8dc" stroke="#22b8dc"/><circle cx="371.46" cy="205.11" r="1.7" fill="#f26148" stroke="#f26148"/><circle cx="385.19" cy="189.84" r="1.7" fill="#f26148" stroke="#f26148"/><circle cx="402.85" cy="190.17" r="1.7" fill="#b7a6dc" stroke="#b7a6dc"/><circle cx="385.96" cy="200.91" r="1.7" fill="#22b8dc" stroke="#22b8dc"/><circle cx="389.27" cy="192.1" r="1.7" fill="#22b8dc" stroke="#22b8dc"/><circle cx="390.45" cy="197.82" r="1.7" fill="#f2ec90" stroke="#f2ec90"/><circle cx="369.28" cy="196.77" r="1.7" fill="#22b8dc" stroke="#22b8dc"/><circle cx="385.05" cy="192.86" r="1.7" fill="#b7a6dc" stroke="#b7a6dc"/><circle cx="406.37" cy="193.04" r="1.7" fill="#22b8dc" stroke="#22b8dc"/><circle cx="395.4" cy="188.49" r="1.7" fill="#22b8dc" stroke="#22b8dc"/><circle cx="375.86" cy="153.06" r="1.7" fill="#22b8dc" stroke="#22b8dc"/><circle cx="404.65" cy="185.05" r="1.7" fill="#22b8dc" stroke="#22b8dc"/><circle cx="382.61" cy="195.92" r="1.7" fill="#22b8dc" stroke="#22b8dc"/><circle cx="392.21" cy="196.87" r="1.7" fill="#22b8dc" stroke="#22b8dc"/><circle cx="395.93" cy="199.97" r="1.7" fill="#22b8dc" stroke="#22b8dc"/><circle cx="394.13" cy="192.01" r="1.7" fill="#22b8dc" stroke="#22b8dc"/><circle cx="428.5" cy="205.01" r="1.7" fill="#22b8dc" stroke="#22b8dc"/><circle cx="390.31" cy="199.77" r="1.7" fill="#22b8dc" stroke="#22b8dc"/><circle cx="370.07" cy="194.95" r="1.7" fill="#22b8dc" stroke="#22b8dc"/><circle cx="379.1" cy="168.02" r="1.7" fill="#22b8dc" stroke="#22b8dc"/><circle cx="389.74" cy="192.21" r="1.7" fill="#22b8dc" stroke="#22b8dc"/><circle cx="376.07" cy="179.63" r="1.7" fill="#f26148" stroke="#f26148"/><circle cx="407.49" cy="199.33" r="1.7" fill="#22b8dc" stroke="#22b8dc"/><circle cx="370.77" cy="179.25" r="1.7" fill="#22b8dc" stroke="#22b8dc"/><circle cx="400.83" cy="193.72" r="1.7" fill="#f26148" stroke="#f26148"/><circle cx="374.8" cy="202.63" r="1.7" fill="#22b8dc" stroke="#22b8dc"/><circle cx="372.09" cy="191.9" r="1.7" fill="#22b8dc" stroke="#22b8dc"/><circle cx="385.29" cy="198.86" r="1.7" fill="#22b8dc" stroke="#22b8dc"/><circle cx="377.29" cy="187.52" r="1.7" fill="#22b8dc" stroke="#22b8dc"/><circle cx="378.9" cy="203.94" r="1.7" fill="#f2ec90" stroke="#f2ec90"/><circle cx="410.41" cy="202.07" r="1.7" fill="#b7a6dc" stroke="#b7a6dc"/><circle cx="379.72" cy="199.9" r="1.7" fill="#f26148" stroke="#f26148"/><circle cx="396.54" cy="197.26" r="1.7" fill="#f26148" stroke="#f26148"/><circle cx="392.8" cy="177.74" r="1.7" fill="#22b8dc" stroke="#22b8dc"/><circle cx="385.68" cy="187.29" r="1.7" fill="#22b8dc" stroke="#22b8dc"/><circle cx="380.42" cy="189.33" r="1.7" fill="#f2ec90" stroke="#f2ec90"/><circle cx="369.24" cy="198.05" r="1.7" fill="#22b8dc" stroke="#22b8dc"/><circle cx="401.21" cy="200.99" r="1.7" fill="#f26148" stroke="#f26148"/><circle cx="384.52" cy="191.38" r="1.7" fill="#22b8dc" stroke="#22b8dc"/><circle cx="385.93" cy="191.85" r="1.7" fill="#22b8dc" stroke="#22b8dc"/><circle cx="375.27" cy="199.79" r="1.7" fill="#22b8dc" stroke="#22b8dc"/><circle cx="387.65" cy="195.56" r="1.7" fill="#f26148" stroke="#f26148"/><circle cx="399.38" cy="191.97" r="1.7" fill="#22b8dc" stroke="#22b8dc"/><circle cx="379.52" cy="203.32" r="1.7" fill="#22b8dc" stroke="#22b8dc"/><circle cx="389.59" cy="191.74" r="1.7" fill="#22b8dc" stroke="#22b8dc"/><circle cx="397.41" cy="190.53" r="1.7" fill="#22b8dc" stroke="#22b8dc"/><circle cx="378.9" cy="200.68" r="1.7" fill="#22b8dc" stroke="#22b8dc"/><circle cx="413.09" cy="199.87" r="1.7" fill="#22b8dc" stroke="#22b8dc"/><circle cx="409.18" cy="168.16" r="1.7" fill="#f26148" stroke="#f26148"/><circle cx="403.32" cy="175.74" r="1.7" fill="#22b8dc" stroke="#22b8dc"/><circle cx="428.5" cy="194.82" r="1.7" fill="#22b8dc" stroke="#22b8dc"/><circle cx="394.15" cy="202.86" r="1.7" fill="#b7a6dc" stroke="#b7a6dc"/><circle cx="364.57" cy="199.44" r="1.7" fill="#22b8dc" stroke="#22b8dc"/><circle cx="393.48" cy="204.29" r="1.7" fill="#22b8dc" stroke="#22b8dc"/><circle cx="396.47" cy="196.7" r="1.7" fill="#f26148" stroke="#f26148"/><circle cx="376.25" cy="194.57" r="1.7" fill="#22b8dc" stroke="#22b8dc"/><circle cx="392.03" cy="155.06" r="1.7" fill="#22b8dc" stroke="#22b8dc"/><circle cx="392.05" cy="202.52" r="1.7" fill="#f26148" stroke="#f26148"/><circle cx="392.04" cy="176.72" r="1.7" fill="#22b8dc" stroke="#22b8dc"/><circle cx="385.42" cy="202.04" r="1.7" fill="#22b8dc" stroke="#22b8dc"/><circle cx="389.53" cy="187.9" r="1.7" fill="#22b8dc" stroke="#22b8dc"/><circle cx="375.13" cy="193.38" r="1.7" fill="#22b8dc" stroke="#22b8dc"/><circle cx="404.17" cy="197.18" r="1.7" fill="#f26148" stroke="#f26148"/><circle cx="404.33" cy="202.23" r="1.7" fill="#22b8dc" stroke="#22b8dc"/><circle cx="364.65" cy="200.28" r="1.7" fill="#22b8dc" stroke="#22b8dc"/><circle cx="387.18" cy="199.04" r="1.7" fill="#22b8dc" stroke="#22b8dc"/><circle cx="368.51" cy="189.67" r="1.7" fill="#22b8dc" stroke="#22b8dc"/><circle cx="382.46" cy="191.77" r="1.7" fill="#22b8dc" stroke="#22b8dc"/><circle cx="378.08" cy="184.69" r="1.7" fill="#22b8dc" stroke="#22b8dc"/><circle cx="402.05" cy="189.03" r="1.7" fill="#22b8dc" stroke="#22b8dc"/><circle cx="378.22" cy="196.41" r="1.7" fill="#22b8dc" stroke="#22b8dc"/><circle cx="419.52" cy="188.16" r="1.7" fill="#f26148" stroke="#f26148"/><circle cx="403.15" cy="179.27" r="1.7" fill="#22b8dc" stroke="#22b8dc"/><circle cx="378.77" cy="159.18" r="1.7" fill="#22b8dc" stroke="#22b8dc"/><circle cx="399.43" cy="202.25" r="1.7" fill="#22b8dc" stroke="#22b8dc"/><circle cx="393.97" cy="196.13" r="1.7" fill="#22b8dc" stroke="#22b8dc"/><circle cx="394.38" cy="198.4" r="1.7" fill="#f26148" stroke="#f26148"/><circle cx="381.25" cy="203.76" r="1.7" fill="#b7a6dc" stroke="#b7a6dc"/><circle cx="388.33" cy="190.61" r="1.7" fill="#22b8dc" stroke="#22b8dc"/><circle cx="385.01" cy="197.28" r="1.7" fill="#22b8dc" stroke="#22b8dc"/><circle cx="379.09" cy="199.95" r="1.7" fill="#22b8dc" stroke="#22b8dc"/><circle cx="395.49" cy="184.79" r="1.7" fill="#22b8dc" stroke="#22b8dc"/><circle cx="398.67" cy="187.27" r="1.7" fill="#22b8dc" stroke="#22b8dc"/><circle cx="378.73" cy="200.32" r="1.7" fill="#22b8dc" stroke="#22b8dc"/><circle cx="401.53" cy="192.64" r="1.7" fill="#22b8dc" stroke="#22b8dc"/><circle cx="408.74" cy="170.64" r="1.7" fill="#22b8dc" stroke="#22b8dc"/><circle cx="395.23" cy="170.96" r="1.7" fill="#f26148" stroke="#f26148"/><circle cx="366.16" cy="200.4" r="1.7" fill="#22b8dc" stroke="#22b8dc"/><circle cx="407.27" cy="195.27" r="1.7" fill="#22b8dc" stroke="#22b8dc"/><circle cx="399.88" cy="193.49" r="1.5" fill="#22b8dc" stroke="#22b8dc"/><circle cx="390.26" cy="194.31" r="1.5" fill="#22b8dc" stroke="#22b8dc"/><circle cx="406.42" cy="177.7" r="1.5" fill="#f26148" stroke="#f26148"/><circle cx="389.24" cy="199.72" r="1.5" fill="#f26148" stroke="#f26148"/><circle cx="401.36" cy="172.79" r="1.5" fill="#22b8dc" stroke="#22b8dc"/><circle cx="393.01" cy="197.2" r="1.5" fill="#f26148" stroke="#f26148"/><circle cx="390.39" cy="189.63" r="1.5" fill="#22b8dc" stroke="#22b8dc"/><circle cx="387.16" cy="201.06" r="1.5" fill="#22b8dc" stroke="#22b8dc"/><circle cx="414.59" cy="187.27" r="1.5" fill="#22b8dc" stroke="#22b8dc"/><circle cx="398.96" cy="153.71" r="1.5" fill="#b7a6dc" stroke="#b7a6dc"/><circle cx="391.65" cy="188.9" r="1.5" fill="#22b8dc" stroke="#22b8dc"/><circle cx="366.52" cy="191.21" r="1.5" fill="#b7a6dc" stroke="#b7a6dc"/><circle cx="394.18" cy="197.55" r="1.5" fill="#22b8dc" stroke="#22b8dc"/><circle cx="378.82" cy="201.29" r="1.5" fill="#22b8dc" stroke="#22b8dc"/><circle cx="404.11" cy="182.7" r="1.5" fill="#f26148" stroke="#f26148"/><circle cx="380.1" cy="193.74" r="1.5" fill="#f26148" stroke="#f26148"/><circle cx="387.9" cy="200.39" r="1.5" fill="#22b8dc" stroke="#22b8dc"/><circle cx="367.06" cy="201.99" r="1.5" fill="#f26148" stroke="#f26148"/><circle cx="369.21" cy="195.7" r="1.5" fill="#22b8dc" stroke="#22b8dc"/><circle cx="397.24" cy="193.04" r="1.5" fill="#22b8dc" stroke="#22b8dc"/><circle cx="391.19" cy="189.73" r="1.5" fill="#22b8dc" stroke="#22b8dc"/><circle cx="389.44" cy="203.89" r="1.5" fill="#b7a6dc" stroke="#b7a6dc"/><circle cx="377.67" cy="204.36" r="1.5" fill="#b7a6dc" stroke="#b7a6dc"/><circle cx="366.39" cy="178.49" r="1.5" fill="#22b8dc" stroke="#22b8dc"/><circle cx="392.35" cy="203.36" r="1.5" fill="#22b8dc" stroke="#22b8dc"/><circle cx="390.23" cy="203.65" r="1.5" fill="#f26148" stroke="#f26148"/><circle cx="383.29" cy="205.12" r="1.5" fill="#b7a6dc" stroke="#b7a6dc"/><circle cx="368.61" cy="187.76" r="1.5" fill="#22b8dc" stroke="#22b8dc"/><circle cx="398.49" cy="189.29" r="1.5" fill="#f26148" stroke="#f26148"/><circle cx="387.2" cy="187.25" r="1.5" fill="#22b8dc" stroke="#22b8dc"/><circle cx="389.39" cy="192.71" r="1.5" fill="#f26148" stroke="#f26148"/><circle cx="405.44" cy="203.62" r="1.5" fill="#22b8dc" stroke="#22b8dc"/><circle cx="403.41" cy="199.58" r="1.5" fill="#22b8dc" stroke="#22b8dc"/><circle cx="401.49" cy="199.81" r="1.5" fill="#f2ec90" stroke="#f2ec90"/><circle cx="386.43" cy="197.85" r="1.5" fill="#22b8dc" stroke="#22b8dc"/><circle cx="376.44" cy="197.92" r="1.5" fill="#22b8dc" stroke="#22b8dc"/><circle cx="374.14" cy="191.03" r="1.5" fill="#22b8dc" stroke="#22b8dc"/><circle cx="411.46" cy="172.14" r="1.5" fill="#22b8dc" stroke="#22b8dc"/><circle cx="402.7" cy="205.38" r="1.5" fill="#22b8dc" stroke="#22b8dc"/><circle cx="376.32" cy="196.63" r="1.5" fill="#22b8dc" stroke="#22b8dc"/><circle cx="380.25" cy="201.68" r="1.5" fill="#22b8dc" stroke="#22b8dc"/><circle cx="367.73" cy="198.87" r="1.5" fill="#22b8dc" stroke="#22b8dc"/><circle cx="391.28" cy="197.87" r="1.5" fill="#f26148" stroke="#f26148"/><circle cx="403.98" cy="202.75" r="1.5" fill="#22b8dc" stroke="#22b8dc"/><circle cx="392.57" cy="195.11" r="1.5" fill="#22b8dc" stroke="#22b8dc"/><circle cx="362.23" cy="204.63" r="1.5" fill="#22b8dc" stroke="#22b8dc"/><circle cx="391.1" cy="199.51" r="1.5" fill="#22b8dc" stroke="#22b8dc"/><circle cx="390.25" cy="183.58" r="1.5" fill="#22b8dc" stroke="#22b8dc"/><circle cx="396.28" cy="190.07" r="1.5" fill="#b7a6dc" stroke="#b7a6dc"/><circle cx="406.09" cy="179.42" r="1.5" fill="#22b8dc" stroke="#22b8dc"/><circle cx="388.23" cy="187.23" r="1.5" fill="#22b8dc" stroke="#22b8dc"/><circle cx="388.34" cy="191.89" r="1.5" fill="#22b8dc" stroke="#22b8dc"/><circle cx="383.94" cy="203.11" r="1.5" fill="#22b8dc" stroke="#22b8dc"/><circle cx="392.06" cy="200.5" r="1.5" fill="#f26148" stroke="#f26148"/><circle cx="407.53" cy="199.62" r="1.5" fill="#22b8dc" stroke="#22b8dc"/><circle cx="371.99" cy="195.58" r="1.5" fill="#22b8dc" stroke="#22b8dc"/><circle cx="382.01" cy="186.25" r="1.5" fill="#22b8dc" stroke="#22b8dc"/><circle cx="364.05" cy="200.34" r="1.5" fill="#f26148" stroke="#f26148"/><circle cx="414.79" cy="192" r="1.5" fill="#22b8dc" stroke="#22b8dc"/><circle cx="400.21" cy="203.96" r="1.5" fill="#22b8dc" stroke="#22b8dc"/><circle cx="404.48" cy="202.27" r="1.5" fill="#f2ec90" stroke="#f2ec90"/><circle cx="369.31" cy="182.6" r="1.5" fill="#22b8dc" stroke="#22b8dc"/><circle cx="380.23" cy="190.82" r="1.5" fill="#b7a6dc" stroke="#b7a6dc"/><circle cx="371.93" cy="167.85" r="1.5" fill="#22b8dc" stroke="#22b8dc"/><circle cx="372.39" cy="182.02" r="1.5" fill="#22b8dc" stroke="#22b8dc"/><circle cx="384.45" cy="191.53" r="1.5" fill="#b7a6dc" stroke="#b7a6dc"/><circle cx="386.35" cy="202.27" r="1.5" fill="#22b8dc" stroke="#22b8dc"/><circle cx="405.57" cy="201.01" r="1.5" fill="#b7a6dc" stroke="#b7a6dc"/><circle cx="390.93" cy="200.16" r="1.5" fill="#f26148" stroke="#f26148"/><circle cx="368.79" cy="196.73" r="1.5" fill="#22b8dc" stroke="#22b8dc"/><circle cx="409.76" cy="196.81" r="1.5" fill="#f26148" stroke="#f26148"/><circle cx="381.74" cy="203.63" r="1.5" fill="#22b8dc" stroke="#22b8dc"/><circle cx="401.25" cy="203.44" r="1.5" fill="#22b8dc" stroke="#22b8dc"/><circle cx="396.6" cy="203.12" r="1.5" fill="#22b8dc" stroke="#22b8dc"/><circle cx="416.42" cy="202.62" r="1.5" fill="#22b8dc" stroke="#22b8dc"/><circle cx="395.74" cy="202.71" r="1.5" fill="#22b8dc" stroke="#22b8dc"/><circle cx="381.14" cy="198.05" r="1.5" fill="#f26148" stroke="#f26148"/><circle cx="373.42" cy="200.25" r="1.5" fill="#22b8dc" stroke="#22b8dc"/><circle cx="381.3" cy="166.75" r="1.5" fill="#22b8dc" stroke="#22b8dc"/><circle cx="376.76" cy="204.04" r="1.5" fill="#22b8dc" stroke="#22b8dc"/><circle cx="417.07" cy="190.45" r="1.5" fill="#b7a6dc" stroke="#b7a6dc"/><circle cx="380.62" cy="197.82" r="1.5" fill="#22b8dc" stroke="#22b8dc"/><circle cx="398.11" cy="196.11" r="1.5" fill="#22b8dc" stroke="#22b8dc"/><circle cx="403.52" cy="192.18" r="1.5" fill="#b7a6dc" stroke="#b7a6dc"/><circle cx="399.23" cy="204.09" r="1.5" fill="#22b8dc" stroke="#22b8dc"/><circle cx="399.92" cy="195.02" r="1.5" fill="#22b8dc" stroke="#22b8dc"/><circle cx="380.85" cy="181.18" r="1.5" fill="#22b8dc" stroke="#22b8dc"/><circle cx="404.24" cy="194.99" r="1.5" fill="#22b8dc" stroke="#22b8dc"/><circle cx="377.81" cy="195.25" r="1.5" fill="#22b8dc" stroke="#22b8dc"/><circle cx="393.52" cy="181.74" r="1.5" fill="#f26148" stroke="#f26148"/><circle cx="389.23" cy="198.41" r="1.5" fill="#f26148" stroke="#f26148"/><circle cx="392.84" cy="203.03" r="1.5" fill="#f26148" stroke="#f26148"/><circle cx="378.86" cy="196.49" r="1.5" fill="#22b8dc" stroke="#22b8dc"/><circle cx="395.4" cy="193.2" r="1.5" fill="#22b8dc" stroke="#22b8dc"/><circle cx="390.67" cy="178.37" r="1.5" fill="#22b8dc" stroke="#22b8dc"/><circle cx="367.09" cy="199.6" r="1.5" fill="#f2ec90" stroke="#f2ec90"/><circle cx="373.29" cy="201.76" r="1.5" fill="#22b8dc" stroke="#22b8dc"/><circle cx="401.46" cy="153.98" r="1.5" fill="#22b8dc" stroke="#22b8dc"/><circle cx="362.91" cy="203.75" r="1.5" fill="#22b8dc" stroke="#22b8dc"/><circle cx="415.27" cy="190.53" r="1.5" fill="#b7a6dc" stroke="#b7a6dc"/><circle cx="360.73" cy="177.32" r="1.5" fill="#22b8dc" stroke="#22b8dc"/><circle cx="374.96" cy="201.02" r="1.5" fill="#22b8dc" stroke="#22b8dc"/><circle cx="405.85" cy="202.17" r="1.5" fill="#22b8dc" stroke="#22b8dc"/><circle cx="391.66" cy="198.64" r="1.5" fill="#22b8dc" stroke="#22b8dc"/><circle cx="404.35" cy="202.06" r="1.5" fill="#b7a6dc" stroke="#b7a6dc"/><circle cx="374.01" cy="192.4" r="1.5" fill="#22b8dc" stroke="#22b8dc"/><circle cx="373.75" cy="194.88" r="1.5" fill="#22b8dc" stroke="#22b8dc"/><circle cx="376.69" cy="201.81" r="1.5" fill="#22b8dc" stroke="#22b8dc"/><circle cx="389.28" cy="196.55" r="1.5" fill="#22b8dc" stroke="#22b8dc"/><circle cx="396.73" cy="204.38" r="1.5" fill="#22b8dc" stroke="#22b8dc"/><circle cx="367.49" cy="201.16" r="1.5" fill="#22b8dc" stroke="#22b8dc"/><circle cx="398.82" cy="195.83" r="1.5" fill="#f2ec90" stroke="#f2ec90"/><circle cx="382.2" cy="198.17" r="1.5" fill="#22b8dc" stroke="#22b8dc"/><circle cx="380.76" cy="191.88" r="1.5" fill="#b7a6dc" stroke="#b7a6dc"/><circle cx="403.5" cy="201.02" r="1.5" fill="#22b8dc" stroke="#22b8dc"/><circle cx="393.28" cy="192.18" r="1.5" fill="#22b8dc" stroke="#22b8dc"/><circle cx="395.36" cy="198.34" r="1.5" fill="#22b8dc" stroke="#22b8dc"/><circle cx="409.67" cy="203.03" r="1.5" fill="#22b8dc" stroke="#22b8dc"/><circle cx="391.24" cy="188.92" r="1.5" fill="#f26148" stroke="#f26148"/><circle cx="386.13" cy="158.19" r="1.5" fill="#22b8dc" stroke="#22b8dc"/><circle cx="381.79" cy="201.96" r="1.5" fill="#f26148" stroke="#f26148"/><circle cx="416.98" cy="150.9" r="1.4" fill="#22b8dc" stroke="#22b8dc"/><circle cx="384.72" cy="131.03" r="1.4" fill="#22b8dc" stroke="#22b8dc"/><circle cx="413.14" cy="143.45" r="1.4" fill="#f26148" stroke="#f26148"/><circle cx="422.1" cy="139.31" r="1.4" fill="#22b8dc" stroke="#22b8dc"/><circle cx="357.47" cy="197.85" r="1.3" fill="#f26148" stroke="#f26148"/><circle cx="395.41" cy="188.83" r="1.3" fill="#22b8dc" stroke="#22b8dc"/><circle cx="388.72" cy="205.21" r="1.3" fill="#22b8dc" stroke="#22b8dc"/><circle cx="389.76" cy="193.6" r="1.3" fill="#f26148" stroke="#f26148"/><circle cx="362.97" cy="190.25" r="1.3" fill="#22b8dc" stroke="#22b8dc"/><circle cx="371.48" cy="197.54" r="1.3" fill="#22b8dc" stroke="#22b8dc"/><circle cx="409.34" cy="201.78" r="1.3" fill="#f26148" stroke="#f26148"/><circle cx="380.92" cy="187.73" r="1.3" fill="#22b8dc" stroke="#22b8dc"/><circle cx="379.8" cy="177.1" r="1.3" fill="#22b8dc" stroke="#22b8dc"/><circle cx="405.86" cy="192.98" r="1.3" fill="#f26148" stroke="#f26148"/><circle cx="397.67" cy="204.19" r="1.3" fill="#22b8dc" stroke="#22b8dc"/><circle cx="364.82" cy="198.54" r="1.3" fill="#22b8dc" stroke="#22b8dc"/><circle cx="382.74" cy="188.46" r="1.3" fill="#22b8dc" stroke="#22b8dc"/><circle cx="405.57" cy="179.72" r="1.3" fill="#22b8dc" stroke="#22b8dc"/><circle cx="394.45" cy="196.44" r="1.3" fill="#22b8dc" stroke="#22b8dc"/><circle cx="397.9" cy="194.43" r="1.3" fill="#22b8dc" stroke="#22b8dc"/><circle cx="392.76" cy="202.13" r="1.3" fill="#22b8dc" stroke="#22b8dc"/><circle cx="382.46" cy="199.04" r="1.3" fill="#f26148" stroke="#f26148"/><circle cx="393.41" cy="195.27" r="1.3" fill="#22b8dc" stroke="#22b8dc"/><circle cx="385.93" cy="192.57" r="1.3" fill="#22b8dc" stroke="#22b8dc"/><circle cx="402.46" cy="203.41" r="1.3" fill="#f26148" stroke="#f26148"/><circle cx="418.05" cy="195.82" r="1.3" fill="#22b8dc" stroke="#22b8dc"/><circle cx="384.61" cy="205.03" r="1.3" fill="#22b8dc" stroke="#22b8dc"/><circle cx="405.42" cy="204.21" r="1.3" fill="#22b8dc" stroke="#22b8dc"/><circle cx="383.51" cy="196.03" r="1.3" fill="#22b8dc" stroke="#22b8dc"/><circle cx="398.08" cy="201.49" r="1.3" fill="#22b8dc" stroke="#22b8dc"/><circle cx="371.23" cy="156.46" r="1.3" fill="#22b8dc" stroke="#22b8dc"/><circle cx="376.36" cy="197.19" r="1.3" fill="#22b8dc" stroke="#22b8dc"/><circle cx="370.72" cy="198.34" r="1.3" fill="#22b8dc" stroke="#22b8dc"/><circle cx="393.63" cy="183.82" r="1.3" fill="#22b8dc" stroke="#22b8dc"/><circle cx="384.49" cy="199.09" r="1.3" fill="#22b8dc" stroke="#22b8dc"/><circle cx="394.84" cy="203.66" r="1.3" fill="#b7a6dc" stroke="#b7a6dc"/><circle cx="369.02" cy="194.59" r="1.3" fill="#22b8dc" stroke="#22b8dc"/><circle cx="380.35" cy="186.46" r="1.3" fill="#22b8dc" stroke="#22b8dc"/><circle cx="391.76" cy="195.44" r="1.3" fill="#22b8dc" stroke="#22b8dc"/><circle cx="369.51" cy="198.13" r="1.3" fill="#22b8dc" stroke="#22b8dc"/><circle cx="385.06" cy="194.3" r="1.3" fill="#22b8dc" stroke="#22b8dc"/><circle cx="381.45" cy="172.91" r="1.3" fill="#22b8dc" stroke="#22b8dc"/><circle cx="394.74" cy="204.69" r="1.3" fill="#22b8dc" stroke="#22b8dc"/><circle cx="382.59" cy="176.33" r="1.3" fill="#22b8dc" stroke="#22b8dc"/><circle cx="396.38" cy="201.73" r="1.3" fill="#22b8dc" stroke="#22b8dc"/><circle cx="393.97" cy="200.06" r="1.3" fill="#22b8dc" stroke="#22b8dc"/><circle cx="404.8" cy="196.87" r="1.3" fill="#22b8dc" stroke="#22b8dc"/><circle cx="372.44" cy="184.56" r="1.3" fill="#b7a6dc" stroke="#b7a6dc"/><circle cx="373.94" cy="193.83" r="1.3" fill="#22b8dc" stroke="#22b8dc"/><circle cx="384.22" cy="185.01" r="1.3" fill="#b7a6dc" stroke="#b7a6dc"/><circle cx="393.2" cy="173.83" r="1.3" fill="#b7a6dc" stroke="#b7a6dc"/><circle cx="371.41" cy="205.21" r="1.3" fill="#f26148" stroke="#f26148"/><circle cx="411.14" cy="199.1" r="1.3" fill="#f26148" stroke="#f26148"/><circle cx="367.75" cy="161.84" r="1.3" fill="#b7a6dc" stroke="#b7a6dc"/><circle cx="375.2" cy="202.37" r="1.3" fill="#f26148" stroke="#f26148"/><circle cx="385.63" cy="180.27" r="1.3" fill="#22b8dc" stroke="#22b8dc"/><circle cx="377.69" cy="203.49" r="1.3" fill="#f2ec90" stroke="#f2ec90"/><circle cx="407.21" cy="190.13" r="1.3" fill="#b7a6dc" stroke="#b7a6dc"/><circle cx="386.33" cy="203.84" r="1.3" fill="#22b8dc" stroke="#22b8dc"/><circle cx="389.64" cy="203.55" r="1.3" fill="#22b8dc" stroke="#22b8dc"/><circle cx="388.26" cy="201.35" r="1.3" fill="#f26148" stroke="#f26148"/><circle cx="400.49" cy="193.59" r="1.3" fill="#22b8dc" stroke="#22b8dc"/><circle cx="394.11" cy="198.11" r="1.3" fill="#22b8dc" stroke="#22b8dc"/><circle cx="390.53" cy="190.61" r="1.3" fill="#b7a6dc" stroke="#b7a6dc"/><circle cx="381" cy="194.26" r="1.3" fill="#b7a6dc" stroke="#b7a6dc"/><circle cx="367.29" cy="200.99" r="1.3" fill="#22b8dc" stroke="#22b8dc"/><circle cx="388.88" cy="203.29" r="1.3" fill="#f26148" stroke="#f26148"/><circle cx="385.57" cy="193.02" r="1.3" fill="#22b8dc" stroke="#22b8dc"/><circle cx="396" cy="200.6" r="1.3" fill="#22b8dc" stroke="#22b8dc"/><circle cx="415.96" cy="202.29" r="1.3" fill="#b7a6dc" stroke="#b7a6dc"/><circle cx="409.12" cy="184.48" r="1.3" fill="#22b8dc" stroke="#22b8dc"/><circle cx="366.73" cy="203.79" r="1.3" fill="#f26148" stroke="#f26148"/><circle cx="405.83" cy="192.36" r="1.3" fill="#f26148" stroke="#f26148"/><circle cx="398.88" cy="197.52" r="1.3" fill="#22b8dc" stroke="#22b8dc"/><circle cx="397.11" cy="197.84" r="1.3" fill="#22b8dc" stroke="#22b8dc"/><circle cx="401.18" cy="204.44" r="1.3" fill="#22b8dc" stroke="#22b8dc"/><circle cx="384.37" cy="194.67" r="1.3" fill="#22b8dc" stroke="#22b8dc"/><circle cx="368.44" cy="187.56" r="1.3" fill="#f2ec90" stroke="#f2ec90"/><circle cx="380.03" cy="194.6" r="1.3" fill="#f2ec90" stroke="#f2ec90"/><circle cx="387.08" cy="202.83" r="1.3" fill="#22b8dc" stroke="#22b8dc"/><circle cx="381.65" cy="204.28" r="1.3" fill="#22b8dc" stroke="#22b8dc"/><circle cx="409.46" cy="191.37" r="1.3" fill="#22b8dc" stroke="#22b8dc"/><circle cx="401.33" cy="198.19" r="1.3" fill="#22b8dc" stroke="#22b8dc"/><circle cx="421.84" cy="202.17" r="1.3" fill="#22b8dc" stroke="#22b8dc"/><circle cx="387.39" cy="201.57" r="1.3" fill="#22b8dc" stroke="#22b8dc"/><circle cx="391.7" cy="182.33" r="1.3" fill="#22b8dc" stroke="#22b8dc"/><circle cx="394.03" cy="195.04" r="1.3" fill="#f26148" stroke="#f26148"/><circle cx="372.25" cy="199.06" r="1.3" fill="#22b8dc" stroke="#22b8dc"/><circle cx="372.52" cy="204.61" r="1.3" fill="#22b8dc" stroke="#22b8dc"/><circle cx="404.77" cy="197.57" r="1.3" fill="#22b8dc" stroke="#22b8dc"/><circle cx="387.85" cy="194.74" r="1.3" fill="#22b8dc" stroke="#22b8dc"/><circle cx="391.07" cy="199.01" r="1.3" fill="#22b8dc" stroke="#22b8dc"/><circle cx="379.94" cy="189.4" r="1.3" fill="#22b8dc" stroke="#22b8dc"/><circle cx="407.52" cy="203.28" r="1.3" fill="#22b8dc" stroke="#22b8dc"/><circle cx="379.44" cy="203.38" r="1.3" fill="#b7a6dc" stroke="#b7a6dc"/><circle cx="414.27" cy="188.88" r="1.3" fill="#22b8dc" stroke="#22b8dc"/><circle cx="403.28" cy="202.09" r="1.3" fill="#22b8dc" stroke="#22b8dc"/><circle cx="387.15" cy="191.1" r="1.3" fill="#22b8dc" stroke="#22b8dc"/><circle cx="378.91" cy="198.26" r="1.3" fill="#b7a6dc" stroke="#b7a6dc"/><circle cx="394.09" cy="199.42" r="1.3" fill="#22b8dc" stroke="#22b8dc"/><circle cx="390.18" cy="173.16" r="1.3" fill="#f26148" stroke="#f26148"/><circle cx="398.59" cy="197.12" r="1.3" fill="#b7a6dc" stroke="#b7a6dc"/><circle cx="378.23" cy="198.82" r="1.3" fill="#22b8dc" stroke="#22b8dc"/><circle cx="366.64" cy="201.08" r="1.3" fill="#22b8dc" stroke="#22b8dc"/><circle cx="388.32" cy="186.58" r="1.3" fill="#b7a6dc" stroke="#b7a6dc"/><circle cx="396.81" cy="183.83" r="1.3" fill="#22b8dc" stroke="#22b8dc"/><circle cx="385.83" cy="164.1" r="1.3" fill="#22b8dc" stroke="#22b8dc"/><circle cx="401.35" cy="183.65" r="1.3" fill="#f2ec90" stroke="#f2ec90"/><circle cx="373.46" cy="144.28" r="1.3" fill="#22b8dc" stroke="#22b8dc"/><circle cx="384.35" cy="163.65" r="1.3" fill="#22b8dc" stroke="#22b8dc"/><circle cx="402.94" cy="198.68" r="1.3" fill="#22b8dc" stroke="#22b8dc"/><circle cx="388.19" cy="186.55" r="1.3" fill="#f2ec90" stroke="#f2ec90"/><circle cx="370.41" cy="190.78" r="1.3" fill="#22b8dc" stroke="#22b8dc"/><circle cx="404.99" cy="185.52" r="1.3" fill="#f26148" stroke="#f26148"/><circle cx="397.46" cy="202.52" r="1.3" fill="#f26148" stroke="#f26148"/><circle cx="385.65" cy="202.21" r="1.3" fill="#22b8dc" stroke="#22b8dc"/><circle cx="352.98" cy="198.54" r="1.3" fill="#22b8dc" stroke="#22b8dc"/><circle cx="379.17" cy="177.03" r="1.3" fill="#22b8dc" stroke="#22b8dc"/><circle cx="367.07" cy="197.21" r="1.3" fill="#22b8dc" stroke="#22b8dc"/><circle cx="413.31" cy="204.6" r="1.3" fill="#22b8dc" stroke="#22b8dc"/><circle cx="375.44" cy="179.1" r="1.3" fill="#22b8dc" stroke="#22b8dc"/><circle cx="378.29" cy="185.31" r="1.3" fill="#22b8dc" stroke="#22b8dc"/><circle cx="379.96" cy="184.19" r="1.3" fill="#22b8dc" stroke="#22b8dc"/><circle cx="366.96" cy="177.81" r="1.3" fill="#22b8dc" stroke="#22b8dc"/><circle cx="412.35" cy="192.77" r="1.3" fill="#b7a6dc" stroke="#b7a6dc"/><circle cx="370.43" cy="197.25" r="1.3" fill="#f2ec90" stroke="#f2ec90"/><circle cx="411.12" cy="180.49" r="1.3" fill="#22b8dc" stroke="#22b8dc"/><circle cx="383.49" cy="197.45" r="1.3" fill="#22b8dc" stroke="#22b8dc"/><circle cx="375.24" cy="197.77" r="1.3" fill="#22b8dc" stroke="#22b8dc"/><circle cx="374.05" cy="177.72" r="1.3" fill="#22b8dc" stroke="#22b8dc"/><circle cx="389.97" cy="185.74" r="1.3" fill="#22b8dc" stroke="#22b8dc"/><circle cx="387.06" cy="190.46" r="1.3" fill="#22b8dc" stroke="#22b8dc"/><circle cx="387.26" cy="181.19" r="1.3" fill="#22b8dc" stroke="#22b8dc"/><circle cx="384.06" cy="198.42" r="1.3" fill="#22b8dc" stroke="#22b8dc"/><circle cx="379.86" cy="145.93" r="1.3" fill="#22b8dc" stroke="#22b8dc"/><circle cx="404.9" cy="203.61" r="1.1" fill="#f26148" stroke="#f26148"/><circle cx="371.59" cy="195.23" r="1.1" fill="#22b8dc" stroke="#22b8dc"/><circle cx="402.68" cy="183.73" r="1.1" fill="#22b8dc" stroke="#22b8dc"/><circle cx="363.12" cy="162.37" r="1.1" fill="#22b8dc" stroke="#22b8dc"/><circle cx="377.28" cy="196.05" r="1.1" fill="#b7a6dc" stroke="#b7a6dc"/><circle cx="411.69" cy="183.47" r="1.1" fill="#22b8dc" stroke="#22b8dc"/><circle cx="389.94" cy="192.96" r="1.1" fill="#22b8dc" stroke="#22b8dc"/><circle cx="416.1" cy="195.6" r="1.1" fill="#22b8dc" stroke="#22b8dc"/><circle cx="390.81" cy="195.81" r="1.1" fill="#22b8dc" stroke="#22b8dc"/><circle cx="367.67" cy="205.33" r="1.1" fill="#22b8dc" stroke="#22b8dc"/><circle cx="376.79" cy="198.36" r="1.1" fill="#b7a6dc" stroke="#b7a6dc"/><circle cx="388" cy="184.85" r="1.1" fill="#22b8dc" stroke="#22b8dc"/><circle cx="362.54" cy="204.48" r="1.1" fill="#22b8dc" stroke="#22b8dc"/><circle cx="384.26" cy="184.33" r="1.1" fill="#22b8dc" stroke="#22b8dc"/><circle cx="384.46" cy="198.69" r="1.1" fill="#22b8dc" stroke="#22b8dc"/><circle cx="372.44" cy="183.2" r="1.1" fill="#f2ec90" stroke="#f2ec90"/><circle cx="390.58" cy="180.13" r="1.1" fill="#22b8dc" stroke="#22b8dc"/><circle cx="395.31" cy="191.01" r="1.1" fill="#22b8dc" stroke="#22b8dc"/><circle cx="416.96" cy="194.31" r="1.1" fill="#f26148" stroke="#f26148"/><circle cx="379.3" cy="188.66" r="1.1" fill="#f26148" stroke="#f26148"/><circle cx="397.84" cy="203.25" r="1.1" fill="#22b8dc" stroke="#22b8dc"/><circle cx="394.83" cy="169.86" r="1.1" fill="#b7a6dc" stroke="#b7a6dc"/><circle cx="357.61" cy="205.37" r="1.1" fill="#b7a6dc" stroke="#b7a6dc"/><circle cx="381.15" cy="195.25" r="1.1" fill="#22b8dc" stroke="#22b8dc"/><circle cx="392.23" cy="192.9" r="1.1" fill="#22b8dc" stroke="#22b8dc"/><circle cx="368.94" cy="186.1" r="1.1" fill="#22b8dc" stroke="#22b8dc"/><circle cx="408.12" cy="196.54" r="1.1" fill="#22b8dc" stroke="#22b8dc"/><circle cx="372.06" cy="194.74" r="1.1" fill="#22b8dc" stroke="#22b8dc"/><circle cx="388.47" cy="188.35" r="1.1" fill="#22b8dc" stroke="#22b8dc"/><circle cx="390.85" cy="202.45" r="1.1" fill="#f26148" stroke="#f26148"/><circle cx="393.66" cy="190.18" r="1.1" fill="#22b8dc" stroke="#22b8dc"/><circle cx="387.75" cy="201.63" r="1.1" fill="#22b8dc" stroke="#22b8dc"/><circle cx="392.35" cy="195.41" r="1.1" fill="#f26148" stroke="#f26148"/><circle cx="405.49" cy="198.67" r="1.1" fill="#f2ec90" stroke="#f2ec90"/><circle cx="376.76" cy="203.38" r="1.1" fill="#22b8dc" stroke="#22b8dc"/><circle cx="390.9" cy="196.09" r="1.1" fill="#b7a6dc" stroke="#b7a6dc"/><circle cx="377.32" cy="193.42" r="1.1" fill="#22b8dc" stroke="#22b8dc"/><circle cx="367.71" cy="198.3" r="1.1" fill="#22b8dc" stroke="#22b8dc"/><circle cx="393.9" cy="197.35" r="1.1" fill="#b7a6dc" stroke="#b7a6dc"/><circle cx="387.87" cy="197.25" r="1.1" fill="#22b8dc" stroke="#22b8dc"/><circle cx="393.32" cy="203.3" r="1.1" fill="#22b8dc" stroke="#22b8dc"/><circle cx="406.16" cy="188.04" r="1.1" fill="#22b8dc" stroke="#22b8dc"/><circle cx="389.2" cy="201" r="1.1" fill="#22b8dc" stroke="#22b8dc"/><circle cx="359.38" cy="155.87" r="1.1" fill="#22b8dc" stroke="#22b8dc"/><circle cx="410.75" cy="195.15" r="1.1" fill="#22b8dc" stroke="#22b8dc"/><circle cx="409.3" cy="200.35" r="1.1" fill="#22b8dc" stroke="#22b8dc"/><circle cx="397.18" cy="200.66" r="1.1" fill="#b7a6dc" stroke="#b7a6dc"/><circle cx="412.57" cy="186.39" r="1.1" fill="#f26148" stroke="#f26148"/><circle cx="392.46" cy="204.18" r="1.1" fill="#22b8dc" stroke="#22b8dc"/><circle cx="401.31" cy="198.51" r="1.1" fill="#b7a6dc" stroke="#b7a6dc"/><circle cx="380.65" cy="201.53" r="1.1" fill="#f2ec90" stroke="#f2ec90"/><circle cx="388.93" cy="186.37" r="1.1" fill="#22b8dc" stroke="#22b8dc"/><circle cx="401.85" cy="198.78" r="1.1" fill="#b7a6dc" stroke="#b7a6dc"/><circle cx="383.3" cy="173.53" r="1.1" fill="#f26148" stroke="#f26148"/><circle cx="393.01" cy="196.35" r="1.1" fill="#f26148" stroke="#f26148"/><circle cx="388.65" cy="187.62" r="1.1" fill="#22b8dc" stroke="#22b8dc"/><circle cx="380.8" cy="174.98" r="1.1" fill="#22b8dc" stroke="#22b8dc"/><circle cx="390.28" cy="190.78" r="1.1" fill="#b7a6dc" stroke="#b7a6dc"/><circle cx="394.92" cy="198.81" r="1.1" fill="#22b8dc" stroke="#22b8dc"/><circle cx="380.01" cy="202.21" r="1.1" fill="#22b8dc" stroke="#22b8dc"/><circle cx="405.11" cy="195.47" r="1.1" fill="#f26148" stroke="#f26148"/><circle cx="398.85" cy="189.19" r="1.1" fill="#22b8dc" stroke="#22b8dc"/><circle cx="397.91" cy="194.69" r="1.1" fill="#f2ec90" stroke="#f2ec90"/><circle cx="386.63" cy="203.91" r="1.1" fill="#22b8dc" stroke="#22b8dc"/><circle cx="393.43" cy="192.15" r="1.1" fill="#22b8dc" stroke="#22b8dc"/><circle cx="399.25" cy="204.73" r="1.1" fill="#22b8dc" stroke="#22b8dc"/><circle cx="397.45" cy="203.43" r="1.1" fill="#22b8dc" stroke="#22b8dc"/><circle cx="392.87" cy="188.15" r="1.1" fill="#22b8dc" stroke="#22b8dc"/><circle cx="389.91" cy="193.76" r="1.1" fill="#22b8dc" stroke="#22b8dc"/><circle cx="380.69" cy="179.51" r="1.1" fill="#f26148" stroke="#f26148"/><circle cx="386.49" cy="188.25" r="1.1" fill="#22b8dc" stroke="#22b8dc"/><circle cx="361.59" cy="187.08" r="1.1" fill="#22b8dc" stroke="#22b8dc"/><circle cx="400.89" cy="182.48" r="1.1" fill="#b7a6dc" stroke="#b7a6dc"/><circle cx="363.56" cy="199" r="1.1" fill="#22b8dc" stroke="#22b8dc"/><circle cx="403.43" cy="201.63" r="1.1" fill="#22b8dc" stroke="#22b8dc"/><circle cx="400.34" cy="199.28" r="1.1" fill="#b7a6dc" stroke="#b7a6dc"/><circle cx="369.2" cy="191.27" r="1.1" fill="#22b8dc" stroke="#22b8dc"/><circle cx="381.58" cy="201.1" r="1.1" fill="#22b8dc" stroke="#22b8dc"/><circle cx="351.7" cy="184.64" r="1.1" fill="#22b8dc" stroke="#22b8dc"/><circle cx="391.25" cy="187.25" r="1.1" fill="#22b8dc" stroke="#22b8dc"/><circle cx="396.65" cy="162.64" r="1.1" fill="#22b8dc" stroke="#22b8dc"/><circle cx="368.31" cy="200.03" r="1.1" fill="#22b8dc" stroke="#22b8dc"/><circle cx="378.9" cy="197.79" r="1.1" fill="#22b8dc" stroke="#22b8dc"/><circle cx="374.94" cy="194.05" r="1.1" fill="#22b8dc" stroke="#22b8dc"/><circle cx="394.46" cy="193.34" r="1.1" fill="#22b8dc" stroke="#22b8dc"/><circle cx="383.94" cy="200.03" r="1.1" fill="#22b8dc" stroke="#22b8dc"/><circle cx="419.92" cy="200.36" r="1.1" fill="#22b8dc" stroke="#22b8dc"/><circle cx="384.46" cy="193.53" r="1.1" fill="#22b8dc" stroke="#22b8dc"/><circle cx="406.08" cy="199.89" r="1.1" fill="#22b8dc" stroke="#22b8dc"/><circle cx="392.95" cy="188.76" r="1.1" fill="#22b8dc" stroke="#22b8dc"/><circle cx="387.67" cy="198.53" r="1.1" fill="#22b8dc" stroke="#22b8dc"/><circle cx="368.22" cy="182.16" r="1.1" fill="#22b8dc" stroke="#22b8dc"/><circle cx="379.41" cy="193.93" r="1.1" fill="#22b8dc" stroke="#22b8dc"/><circle cx="415.14" cy="198.68" r="1.1" fill="#b7a6dc" stroke="#b7a6dc"/><circle cx="377.22" cy="199.01" r="1.1" fill="#22b8dc" stroke="#22b8dc"/><circle cx="391.43" cy="203.35" r="1.1" fill="#22b8dc" stroke="#22b8dc"/><circle cx="380.19" cy="197.67" r="1.1" fill="#22b8dc" stroke="#22b8dc"/><circle cx="384.24" cy="175.11" r="1.1" fill="#22b8dc" stroke="#22b8dc"/><circle cx="380.05" cy="195.9" r="1.1" fill="#22b8dc" stroke="#22b8dc"/><circle cx="378.43" cy="190.98" r="1.1" fill="#22b8dc" stroke="#22b8dc"/><circle cx="404.37" cy="186.64" r="1.1" fill="#22b8dc" stroke="#22b8dc"/><circle cx="382.05" cy="178.08" r="1.1" fill="#22b8dc" stroke="#22b8dc"/><circle cx="397.49" cy="194.32" r="1.1" fill="#f26148" stroke="#f26148"/><circle cx="388.66" cy="178.82" r="1.1" fill="#22b8dc" stroke="#22b8dc"/><circle cx="408.54" cy="204.2" r="1.1" fill="#b7a6dc" stroke="#b7a6dc"/><circle cx="405.52" cy="186.98" r="1.1" fill="#b7a6dc" stroke="#b7a6dc"/><circle cx="397.58" cy="175.18" r="1.1" fill="#22b8dc" stroke="#22b8dc"/><circle cx="398.27" cy="197.69" r="1.1" fill="#22b8dc" stroke="#22b8dc"/><circle cx="415.41" cy="198.48" r="1.1" fill="#22b8dc" stroke="#22b8dc"/><circle cx="374.28" cy="203.92" r="1.1" fill="#22b8dc" stroke="#22b8dc"/><circle cx="390.74" cy="202.09" r="1.1" fill="#22b8dc" stroke="#22b8dc"/><circle cx="395.18" cy="194.16" r="1.1" fill="#22b8dc" stroke="#22b8dc"/><circle cx="380.05" cy="189.97" r="1.1" fill="#22b8dc" stroke="#22b8dc"/><circle cx="385.37" cy="178.5" r="1.1" fill="#22b8dc" stroke="#22b8dc"/><circle cx="381.03" cy="173.27" r="1.1" fill="#22b8dc" stroke="#22b8dc"/><circle cx="368.48" cy="185.14" r="1.1" fill="#22b8dc" stroke="#22b8dc"/><circle cx="400.57" cy="184.36" r="1.1" fill="#22b8dc" stroke="#22b8dc"/><circle cx="378.71" cy="180.52" r="1.1" fill="#22b8dc" stroke="#22b8dc"/><circle cx="385.25" cy="200.5" r="1.1" fill="#22b8dc" stroke="#22b8dc"/><circle cx="405.24" cy="199.67" r="1.1" fill="#f26148" stroke="#f26148"/><circle cx="388.75" cy="201.2" r="1.1" fill="#22b8dc" stroke="#22b8dc"/><circle cx="383.92" cy="201.78" r="1.1" fill="#22b8dc" stroke="#22b8dc"/><circle cx="381.2" cy="200.34" r="1.1" fill="#22b8dc" stroke="#22b8dc"/><circle cx="380.41" cy="202.06" r="1.1" fill="#22b8dc" stroke="#22b8dc"/><circle cx="414.75" cy="198.59" r="1.1" fill="#22b8dc" stroke="#22b8dc"/><circle cx="388.87" cy="196.81" r="1.1" fill="#22b8dc" stroke="#22b8dc"/><circle cx="400.22" cy="204.22" r="1.1" fill="#22b8dc" stroke="#22b8dc"/><circle cx="393.54" cy="191.47" r="1.1" fill="#22b8dc" stroke="#22b8dc"/><circle cx="393.37" cy="196.54" r="1.1" fill="#22b8dc" stroke="#22b8dc"/><circle cx="399.38" cy="199.97" r="1.1" fill="#22b8dc" stroke="#22b8dc"/><circle cx="385.99" cy="191.72" r="1.1" fill="#22b8dc" stroke="#22b8dc"/><circle cx="390.16" cy="200.24" r="1.1" fill="#22b8dc" stroke="#22b8dc"/><circle cx="389.77" cy="173.19" r="1.1" fill="#22b8dc" stroke="#22b8dc"/><circle cx="381.91" cy="199.54" r="1.1" fill="#22b8dc" stroke="#22b8dc"/><circle cx="392.85" cy="181.17" r="1.1" fill="#22b8dc" stroke="#22b8dc"/><circle cx="380.06" cy="201.05" r="1.1" fill="#f2ec90" stroke="#f2ec90"/><circle cx="399.42" cy="201.1" r="1.1" fill="#22b8dc" stroke="#22b8dc"/><circle cx="404.1" cy="178.21" r="1.1" fill="#22b8dc" stroke="#22b8dc"/><circle cx="402.06" cy="194.33" r="1.1" fill="#22b8dc" stroke="#22b8dc"/><circle cx="391.55" cy="203.8" r="1.1" fill="#22b8dc" stroke="#22b8dc"/><circle cx="400.78" cy="200.8" r="1.1" fill="#b7a6dc" stroke="#b7a6dc"/><circle cx="378.54" cy="191.75" r="1.1" fill="#22b8dc" stroke="#22b8dc"/></g>
<line x1="344.7" y1="128.3" x2="344.7" y2="206.2" stroke="#8a8a8a" stroke-width="0.8"/>
<line x1="344.7" y1="206.2" x2="429.1" y2="206.2" stroke="#8a8a8a" stroke-width="0.8"/>
<line x1="343.7" y1="130.2" x2="344.7" y2="130.2" stroke="#555" stroke-width="0.4"/>
<text x="342.9" y="132.1" font-size="5.3" text-anchor="end" fill="#222" stroke="#222" stroke-width="0.06" >10</text>
<line x1="343.7" y1="150.9" x2="344.7" y2="150.9" stroke="#555" stroke-width="0.4"/>
<text x="342.9" y="152.8" font-size="5.3" text-anchor="end" fill="#222" stroke="#222" stroke-width="0.06" >7.5</text>
<line x1="343.7" y1="171.6" x2="344.7" y2="171.6" stroke="#555" stroke-width="0.4"/>
<text x="342.9" y="173.5" font-size="5.3" text-anchor="end" fill="#222" stroke="#222" stroke-width="0.06" >5</text>
<line x1="343.7" y1="192.1" x2="344.7" y2="192.1" stroke="#555" stroke-width="0.4"/>
<text x="342.9" y="194" font-size="5.3" text-anchor="end" fill="#222" stroke="#222" stroke-width="0.06" >2.5</text>
<line x1="343.7" y1="205.3" x2="344.7" y2="205.3" stroke="#555" stroke-width="0.4"/>
<text x="342.9" y="207.2" font-size="5.3" text-anchor="end" fill="#222" stroke="#222" stroke-width="0.06" >0</text>
<line x1="351.9" y1="206.2" x2="351.9" y2="207.2" stroke="#555" stroke-width="0.4"/>
<text x="351.9" y="213.6" font-size="5.3" text-anchor="middle" fill="#222" stroke="#222" stroke-width="0.06" >-2</text>
<line x1="377.3" y1="206.2" x2="377.3" y2="207.2" stroke="#555" stroke-width="0.4"/>
<text x="377.3" y="213.6" font-size="5.3" text-anchor="middle" fill="#222" stroke="#222" stroke-width="0.06" >0</text>
<line x1="403" y1="206.2" x2="403" y2="207.2" stroke="#555" stroke-width="0.4"/>
<text x="403" y="213.6" font-size="5.3" text-anchor="middle" fill="#222" stroke="#222" stroke-width="0.06" >2</text>
<line x1="428.6" y1="206.2" x2="428.6" y2="207.2" stroke="#555" stroke-width="0.4"/>
<text x="428.6" y="213.6" font-size="5.3" text-anchor="middle" fill="#222" stroke="#222" stroke-width="0.06" >4</text>
<text x="393.1" y="219" font-size="6.0" text-anchor="middle" fill="#222" stroke="#222" stroke-width="0.06" >Z-score</text>
<text x="0" y="0" font-size="5.8" text-anchor="middle" fill="#222" transform="translate(333.2,171.5) rotate(-90)">-log<tspan font-size="4" dy="1">10</tspan><tspan dy="-1">(P.adj)</tspan></text>
<text x="365.9" y="137.75" font-size="4.85" text-anchor="start" fill="#222" stroke="#222" stroke-width="0.036" >GO:0030900</text>
<text x="396.9" y="146.95" font-size="4.85" text-anchor="start" fill="#222" stroke="#222" stroke-width="0.036" >GO:0007409</text>
<text x="373.3" y="176.75" font-size="4.85" text-anchor="start" fill="#222" stroke="#222" stroke-width="0.036" >mmu04932</text>
<text x="403" y="176.75" font-size="4.85" text-anchor="start" fill="#222" stroke="#222" stroke-width="0.036" >mmu04510</text>
<text x="390.7" y="189.15" font-size="4.85" text-anchor="start" fill="#222" stroke="#222" stroke-width="0.036" >mmu04512</text>
<text x="431.8" y="150.9" font-size="3.4" text-anchor="start" fill="#444" stroke="#444" stroke-width="0.036" >Ontology</text>
<circle cx="433.7" cy="153.9" r="1.1" fill="#22b8dc"/>
<text x="436.8" y="155.1" font-size="3.3" text-anchor="start" fill="#444" stroke="#444" stroke-width="0.036" >BP</text>
<circle cx="433.7" cy="157.8" r="1.1" fill="#f26148"/>
<text x="436.8" y="159" font-size="3.3" text-anchor="start" fill="#444" stroke="#444" stroke-width="0.036" >CC</text>
<circle cx="433.7" cy="161.7" r="1.1" fill="#b7a6dc"/>
<text x="436.8" y="162.9" font-size="3.3" text-anchor="start" fill="#444" stroke="#444" stroke-width="0.036" >MF</text>
<circle cx="433.7" cy="165.6" r="1.1" fill="#f2ec90"/>
<text x="436.8" y="166.8" font-size="3.3" text-anchor="start" fill="#444" stroke="#444" stroke-width="0.036" >KEGG</text>
<text x="431.8" y="172.8" font-size="3.4" text-anchor="start" fill="#444" stroke="#444" stroke-width="0.036" >Counts</text>
<circle cx="433.6" cy="175.3" r="1.1" fill="none" stroke="#555" stroke-width="0.35"/>
<text x="437" y="176.5" font-size="3.3" text-anchor="start" fill="#444" stroke="#444" stroke-width="0.036" >30</text>
<circle cx="433.6" cy="179.3" r="1.4" fill="none" stroke="#555" stroke-width="0.35"/>
<text x="437" y="180.5" font-size="3.3" text-anchor="start" fill="#444" stroke="#444" stroke-width="0.036" >40</text>
<circle cx="433.6" cy="183.3" r="1.7" fill="none" stroke="#555" stroke-width="0.35"/>
<text x="437" y="184.5" font-size="3.3" text-anchor="start" fill="#444" stroke="#444" stroke-width="0.036" >60</text>
<g fill-opacity="0.55" stroke-width="0.45" stroke-opacity="0.95"><circle cx="390.84" cy="314.92" r="1.9" fill="#22b8dc" stroke="#22b8dc"/><circle cx="406.49" cy="294.68" r="1.9" fill="#22b8dc" stroke="#22b8dc"/><circle cx="383.97" cy="306.72" r="1.9" fill="#f26148" stroke="#f26148"/><circle cx="392.69" cy="317.3" r="1.9" fill="#f2ec90" stroke="#f2ec90"/><circle cx="398.49" cy="319.01" r="1.9" fill="#b7a6dc" stroke="#b7a6dc"/><circle cx="398.21" cy="318.64" r="1.9" fill="#b7a6dc" stroke="#b7a6dc"/><circle cx="393.44" cy="311.67" r="1.9" fill="#22b8dc" stroke="#22b8dc"/><circle cx="389.93" cy="318.29" r="1.9" fill="#22b8dc" stroke="#22b8dc"/><circle cx="381.34" cy="311.5" r="1.9" fill="#22b8dc" stroke="#22b8dc"/><circle cx="388.41" cy="317.69" r="1.9" fill="#22b8dc" stroke="#22b8dc"/><circle cx="382.57" cy="318.53" r="1.9" fill="#f2ec90" stroke="#f2ec90"/><circle cx="398.5" cy="314.95" r="1.9" fill="#22b8dc" stroke="#22b8dc"/><circle cx="397.38" cy="319.76" r="1.9" fill="#f2ec90" stroke="#f2ec90"/><circle cx="411.08" cy="274.42" r="1.9" fill="#22b8dc" stroke="#22b8dc"/><circle cx="393.57" cy="317.07" r="1.9" fill="#f2ec90" stroke="#f2ec90"/><circle cx="394.97" cy="299.18" r="1.9" fill="#22b8dc" stroke="#22b8dc"/><circle cx="381.28" cy="320.31" r="1.9" fill="#f2ec90" stroke="#f2ec90"/><circle cx="406.94" cy="305.44" r="1.9" fill="#f26148" stroke="#f26148"/><circle cx="380.92" cy="319.79" r="1.9" fill="#b7a6dc" stroke="#b7a6dc"/><circle cx="389.7" cy="317.75" r="1.9" fill="#f2ec90" stroke="#f2ec90"/><circle cx="368.81" cy="317.18" r="1.9" fill="#f2ec90" stroke="#f2ec90"/><circle cx="393.29" cy="318.56" r="1.9" fill="#f2ec90" stroke="#f2ec90"/><circle cx="406.92" cy="295.01" r="1.9" fill="#22b8dc" stroke="#22b8dc"/><circle cx="385.6" cy="311.77" r="1.9" fill="#f26148" stroke="#f26148"/><circle cx="404.63" cy="314.33" r="1.9" fill="#f2ec90" stroke="#f2ec90"/><circle cx="413.92" cy="308.23" r="1.9" fill="#22b8dc" stroke="#22b8dc"/><circle cx="403.69" cy="320.04" r="1.9" fill="#f2ec90" stroke="#f2ec90"/><circle cx="389.58" cy="318.64" r="1.9" fill="#f26148" stroke="#f26148"/><circle cx="391.76" cy="313.06" r="1.9" fill="#22b8dc" stroke="#22b8dc"/><circle cx="367.1" cy="316.46" r="1.9" fill="#f2ec90" stroke="#f2ec90"/><circle cx="397.63" cy="302.85" r="1.9" fill="#f26148" stroke="#f26148"/><circle cx="394.94" cy="315.74" r="1.9" fill="#f26148" stroke="#f26148"/><circle cx="388.26" cy="314.06" r="1.9" fill="#22b8dc" stroke="#22b8dc"/><circle cx="375.38" cy="318.12" r="1.9" fill="#22b8dc" stroke="#22b8dc"/><circle cx="398.71" cy="318.12" r="1.9" fill="#f2ec90" stroke="#f2ec90"/><circle cx="393.4" cy="317.47" r="1.9" fill="#b7a6dc" stroke="#b7a6dc"/><circle cx="399.28" cy="314" r="1.9" fill="#b7a6dc" stroke="#b7a6dc"/><circle cx="386.67" cy="320.31" r="1.9" fill="#22b8dc" stroke="#22b8dc"/><circle cx="406.3" cy="293.48" r="1.9" fill="#f26148" stroke="#f26148"/><circle cx="396.34" cy="320.34" r="1.9" fill="#f2ec90" stroke="#f2ec90"/><circle cx="404.54" cy="285" r="1.9" fill="#b7a6dc" stroke="#b7a6dc"/><circle cx="402.65" cy="310.09" r="1.9" fill="#f2ec90" stroke="#f2ec90"/><circle cx="394.89" cy="318.24" r="1.9" fill="#b7a6dc" stroke="#b7a6dc"/><circle cx="373.49" cy="316.7" r="1.9" fill="#f2ec90" stroke="#f2ec90"/><circle cx="405.06" cy="300.78" r="1.9" fill="#22b8dc" stroke="#22b8dc"/><circle cx="383.31" cy="318.06" r="1.9" fill="#22b8dc" stroke="#22b8dc"/><circle cx="408.79" cy="319.32" r="1.9" fill="#22b8dc" stroke="#22b8dc"/><circle cx="375.31" cy="319.84" r="1.9" fill="#f2ec90" stroke="#f2ec90"/><circle cx="392.39" cy="300.45" r="1.9" fill="#22b8dc" stroke="#22b8dc"/><circle cx="398.2" cy="301" r="1.9" fill="#22b8dc" stroke="#22b8dc"/><circle cx="390.71" cy="303.63" r="1.9" fill="#22b8dc" stroke="#22b8dc"/><circle cx="379.18" cy="313.74" r="1.9" fill="#f2ec90" stroke="#f2ec90"/><circle cx="409.88" cy="318.17" r="1.9" fill="#f2ec90" stroke="#f2ec90"/><circle cx="387.22" cy="319.72" r="1.9" fill="#f2ec90" stroke="#f2ec90"/><circle cx="398.1" cy="307.96" r="1.9" fill="#22b8dc" stroke="#22b8dc"/><circle cx="400.51" cy="309.2" r="1.9" fill="#f26148" stroke="#f26148"/><circle cx="395.71" cy="318.8" r="1.9" fill="#b7a6dc" stroke="#b7a6dc"/><circle cx="400.61" cy="297.67" r="1.9" fill="#b7a6dc" stroke="#b7a6dc"/><circle cx="391.76" cy="311.99" r="1.9" fill="#22b8dc" stroke="#22b8dc"/><circle cx="408.86" cy="291.4" r="1.9" fill="#22b8dc" stroke="#22b8dc"/><circle cx="381.25" cy="318.22" r="1.9" fill="#f2ec90" stroke="#f2ec90"/><circle cx="389.57" cy="310.02" r="1.9" fill="#22b8dc" stroke="#22b8dc"/><circle cx="411.57" cy="306.4" r="1.9" fill="#22b8dc" stroke="#22b8dc"/><circle cx="396.91" cy="299.1" r="1.9" fill="#22b8dc" stroke="#22b8dc"/><circle cx="402.33" cy="315.38" r="1.9" fill="#f2ec90" stroke="#f2ec90"/><circle cx="390.97" cy="319.89" r="1.9" fill="#f2ec90" stroke="#f2ec90"/><circle cx="411.88" cy="304.32" r="1.9" fill="#22b8dc" stroke="#22b8dc"/><circle cx="391.62" cy="316.27" r="1.9" fill="#22b8dc" stroke="#22b8dc"/><circle cx="386.37" cy="317.23" r="1.9" fill="#22b8dc" stroke="#22b8dc"/><circle cx="409.04" cy="300.27" r="1.9" fill="#22b8dc" stroke="#22b8dc"/><circle cx="389.36" cy="309.92" r="1.9" fill="#f26148" stroke="#f26148"/><circle cx="406.67" cy="313.96" r="1.9" fill="#22b8dc" stroke="#22b8dc"/><circle cx="406.51" cy="294.69" r="1.9" fill="#22b8dc" stroke="#22b8dc"/><circle cx="390.92" cy="312.21" r="1.9" fill="#f2ec90" stroke="#f2ec90"/><circle cx="404.42" cy="319.09" r="1.9" fill="#b7a6dc" stroke="#b7a6dc"/><circle cx="406.5" cy="298.43" r="1.9" fill="#f26148" stroke="#f26148"/><circle cx="394.54" cy="301.38" r="1.9" fill="#f26148" stroke="#f26148"/><circle cx="417.34" cy="289.08" r="1.9" fill="#b7a6dc" stroke="#b7a6dc"/><circle cx="405.77" cy="318.87" r="1.9" fill="#f2ec90" stroke="#f2ec90"/><circle cx="397.41" cy="315.62" r="1.9" fill="#f2ec90" stroke="#f2ec90"/><circle cx="389.54" cy="312.38" r="1.9" fill="#22b8dc" stroke="#22b8dc"/><circle cx="397.79" cy="319.01" r="1.9" fill="#22b8dc" stroke="#22b8dc"/><circle cx="387.78" cy="317.74" r="1.9" fill="#f2ec90" stroke="#f2ec90"/><circle cx="407.15" cy="313.32" r="1.9" fill="#22b8dc" stroke="#22b8dc"/><circle cx="382.06" cy="311.49" r="1.9" fill="#22b8dc" stroke="#22b8dc"/><circle cx="381.84" cy="310.32" r="1.9" fill="#f26148" stroke="#f26148"/><circle cx="413.41" cy="292.17" r="1.9" fill="#22b8dc" stroke="#22b8dc"/><circle cx="413.64" cy="287.66" r="1.9" fill="#22b8dc" stroke="#22b8dc"/><circle cx="414.2" cy="298.03" r="1.9" fill="#22b8dc" stroke="#22b8dc"/><circle cx="393.22" cy="300.37" r="1.9" fill="#22b8dc" stroke="#22b8dc"/><circle cx="395.38" cy="304.02" r="1.9" fill="#22b8dc" stroke="#22b8dc"/><circle cx="380.45" cy="319.48" r="1.9" fill="#f2ec90" stroke="#f2ec90"/><circle cx="405.25" cy="293.12" r="1.9" fill="#22b8dc" stroke="#22b8dc"/><circle cx="403.34" cy="309.16" r="1.9" fill="#22b8dc" stroke="#22b8dc"/><circle cx="375.67" cy="315.99" r="1.9" fill="#22b8dc" stroke="#22b8dc"/><circle cx="379.05" cy="309.76" r="1.9" fill="#22b8dc" stroke="#22b8dc"/><circle cx="400.61" cy="302.01" r="1.9" fill="#22b8dc" stroke="#22b8dc"/><circle cx="415.5" cy="314.22" r="1.9" fill="#f2ec90" stroke="#f2ec90"/><circle cx="393.46" cy="315.57" r="1.9" fill="#b7a6dc" stroke="#b7a6dc"/><circle cx="401.14" cy="317.34" r="1.9" fill="#22b8dc" stroke="#22b8dc"/><circle cx="383.14" cy="306.22" r="1.9" fill="#22b8dc" stroke="#22b8dc"/><circle cx="386.2" cy="319.53" r="1.9" fill="#f2ec90" stroke="#f2ec90"/><circle cx="404.72" cy="299.08" r="1.9" fill="#22b8dc" stroke="#22b8dc"/><circle cx="388.59" cy="318.74" r="1.9" fill="#f2ec90" stroke="#f2ec90"/><circle cx="399.34" cy="320.27" r="1.9" fill="#f2ec90" stroke="#f2ec90"/><circle cx="385.56" cy="318.98" r="1.9" fill="#b7a6dc" stroke="#b7a6dc"/><circle cx="412.83" cy="273.56" r="1.7" fill="#22b8dc" stroke="#22b8dc"/><circle cx="395.39" cy="319.07" r="1.7" fill="#22b8dc" stroke="#22b8dc"/><circle cx="391.05" cy="314" r="1.7" fill="#22b8dc" stroke="#22b8dc"/><circle cx="405.14" cy="311.64" r="1.7" fill="#22b8dc" stroke="#22b8dc"/><circle cx="405.59" cy="312.38" r="1.7" fill="#f26148" stroke="#f26148"/><circle cx="379.9" cy="311.59" r="1.7" fill="#22b8dc" stroke="#22b8dc"/><circle cx="404.23" cy="305.96" r="1.7" fill="#22b8dc" stroke="#22b8dc"/><circle cx="407.85" cy="304.26" r="1.7" fill="#22b8dc" stroke="#22b8dc"/><circle cx="409.62" cy="318.8" r="1.7" fill="#b7a6dc" stroke="#b7a6dc"/><circle cx="377.93" cy="316.37" r="1.7" fill="#f2ec90" stroke="#f2ec90"/><circle cx="387.51" cy="315.9" r="1.7" fill="#f2ec90" stroke="#f2ec90"/><circle cx="403.06" cy="309.39" r="1.7" fill="#22b8dc" stroke="#22b8dc"/><circle cx="394.85" cy="315.05" r="1.7" fill="#22b8dc" stroke="#22b8dc"/><circle cx="415.21" cy="287.68" r="1.7" fill="#22b8dc" stroke="#22b8dc"/><circle cx="391.77" cy="318.55" r="1.7" fill="#22b8dc" stroke="#22b8dc"/><circle cx="413.73" cy="308.68" r="1.7" fill="#22b8dc" stroke="#22b8dc"/><circle cx="388.46" cy="303.63" r="1.7" fill="#22b8dc" stroke="#22b8dc"/><circle cx="390.25" cy="312.66" r="1.7" fill="#22b8dc" stroke="#22b8dc"/><circle cx="395.78" cy="298.79" r="1.7" fill="#f26148" stroke="#f26148"/><circle cx="399.17" cy="298.8" r="1.7" fill="#22b8dc" stroke="#22b8dc"/><circle cx="415.55" cy="275.95" r="1.7" fill="#f26148" stroke="#f26148"/><circle cx="409.59" cy="288.22" r="1.7" fill="#22b8dc" stroke="#22b8dc"/><circle cx="407.21" cy="318.87" r="1.7" fill="#22b8dc" stroke="#22b8dc"/><circle cx="406.01" cy="320.25" r="1.7" fill="#f2ec90" stroke="#f2ec90"/><circle cx="412.08" cy="268.47" r="1.7" fill="#b7a6dc" stroke="#b7a6dc"/><circle cx="384.84" cy="317.57" r="1.7" fill="#22b8dc" stroke="#22b8dc"/><circle cx="382.28" cy="309.52" r="1.7" fill="#f26148" stroke="#f26148"/><circle cx="410.77" cy="307.71" r="1.7" fill="#f26148" stroke="#f26148"/><circle cx="388.91" cy="319.15" r="1.7" fill="#22b8dc" stroke="#22b8dc"/><circle cx="400.27" cy="305.15" r="1.7" fill="#22b8dc" stroke="#22b8dc"/><circle cx="412.11" cy="305.49" r="1.7" fill="#22b8dc" stroke="#22b8dc"/><circle cx="416.44" cy="317.73" r="1.7" fill="#22b8dc" stroke="#22b8dc"/><circle cx="396.29" cy="304.51" r="1.7" fill="#22b8dc" stroke="#22b8dc"/><circle cx="405.69" cy="315.12" r="1.7" fill="#22b8dc" stroke="#22b8dc"/><circle cx="404.51" cy="316.81" r="1.7" fill="#b7a6dc" stroke="#b7a6dc"/><circle cx="397.9" cy="311" r="1.7" fill="#b7a6dc" stroke="#b7a6dc"/><circle cx="374.16" cy="320.14" r="1.7" fill="#22b8dc" stroke="#22b8dc"/><circle cx="381.76" cy="320.33" r="1.7" fill="#b7a6dc" stroke="#b7a6dc"/><circle cx="397.9" cy="317.36" r="1.7" fill="#b7a6dc" stroke="#b7a6dc"/><circle cx="364.86" cy="317.23" r="1.7" fill="#f2ec90" stroke="#f2ec90"/><circle cx="416.72" cy="298.97" r="1.7" fill="#22b8dc" stroke="#22b8dc"/><circle cx="386.62" cy="319.3" r="1.7" fill="#b7a6dc" stroke="#b7a6dc"/><circle cx="377.53" cy="318.54" r="1.7" fill="#b7a6dc" stroke="#b7a6dc"/><circle cx="402.25" cy="297.23" r="1.7" fill="#22b8dc" stroke="#22b8dc"/><circle cx="400.73" cy="318.75" r="1.7" fill="#f2ec90" stroke="#f2ec90"/><circle cx="400.78" cy="318.26" r="1.7" fill="#f2ec90" stroke="#f2ec90"/><circle cx="401.88" cy="308.99" r="1.7" fill="#f26148" stroke="#f26148"/><circle cx="421.97" cy="292.09" r="1.7" fill="#22b8dc" stroke="#22b8dc"/><circle cx="407.11" cy="294.25" r="1.7" fill="#22b8dc" stroke="#22b8dc"/><circle cx="411.53" cy="312.78" r="1.7" fill="#b7a6dc" stroke="#b7a6dc"/><circle cx="384.48" cy="318.26" r="1.7" fill="#f2ec90" stroke="#f2ec90"/><circle cx="406.53" cy="308.49" r="1.7" fill="#22b8dc" stroke="#22b8dc"/><circle cx="381.95" cy="313.88" r="1.7" fill="#f26148" stroke="#f26148"/><circle cx="399.61" cy="319.71" r="1.7" fill="#f2ec90" stroke="#f2ec90"/><circle cx="399.34" cy="317.19" r="1.7" fill="#22b8dc" stroke="#22b8dc"/><circle cx="397.95" cy="297.77" r="1.7" fill="#22b8dc" stroke="#22b8dc"/><circle cx="405.86" cy="316.78" r="1.7" fill="#f2ec90" stroke="#f2ec90"/><circle cx="408.61" cy="276.69" r="1.7" fill="#f26148" stroke="#f26148"/><circle cx="385.66" cy="320.08" r="1.7" fill="#f2ec90" stroke="#f2ec90"/><circle cx="409.6" cy="288.88" r="1.7" fill="#f26148" stroke="#f26148"/><circle cx="379.49" cy="318.08" r="1.7" fill="#b7a6dc" stroke="#b7a6dc"/><circle cx="383.42" cy="314.17" r="1.7" fill="#f2ec90" stroke="#f2ec90"/><circle cx="388.79" cy="318.95" r="1.7" fill="#22b8dc" stroke="#22b8dc"/><circle cx="377.08" cy="310.43" r="1.7" fill="#22b8dc" stroke="#22b8dc"/><circle cx="404.26" cy="277.24" r="1.7" fill="#f26148" stroke="#f26148"/><circle cx="394.83" cy="312.26" r="1.7" fill="#22b8dc" stroke="#22b8dc"/><circle cx="381.17" cy="320.33" r="1.7" fill="#f26148" stroke="#f26148"/><circle cx="380.4" cy="320.45" r="1.7" fill="#f2ec90" stroke="#f2ec90"/><circle cx="381.15" cy="314.7" r="1.7" fill="#f2ec90" stroke="#f2ec90"/><circle cx="389.29" cy="314.7" r="1.7" fill="#b7a6dc" stroke="#b7a6dc"/><circle cx="393.65" cy="309.32" r="1.7" fill="#22b8dc" stroke="#22b8dc"/><circle cx="421.8" cy="318.7" r="1.7" fill="#22b8dc" stroke="#22b8dc"/><circle cx="411.79" cy="269.59" r="1.7" fill="#22b8dc" stroke="#22b8dc"/><circle cx="373.64" cy="313.75" r="1.7" fill="#f2ec90" stroke="#f2ec90"/><circle cx="407.75" cy="317.84" r="1.7" fill="#22b8dc" stroke="#22b8dc"/><circle cx="394.32" cy="319.82" r="1.7" fill="#b7a6dc" stroke="#b7a6dc"/><circle cx="385.97" cy="318.01" r="1.7" fill="#f2ec90" stroke="#f2ec90"/><circle cx="399.51" cy="296.05" r="1.7" fill="#f26148" stroke="#f26148"/><circle cx="409.95" cy="307.52" r="1.7" fill="#22b8dc" stroke="#22b8dc"/><circle cx="397.31" cy="302.43" r="1.7" fill="#f26148" stroke="#f26148"/><circle cx="403.15" cy="288" r="1.7" fill="#22b8dc" stroke="#22b8dc"/><circle cx="395.06" cy="315.61" r="1.7" fill="#f2ec90" stroke="#f2ec90"/><circle cx="396.62" cy="318.04" r="1.7" fill="#f2ec90" stroke="#f2ec90"/><circle cx="384.12" cy="316.68" r="1.7" fill="#b7a6dc" stroke="#b7a6dc"/><circle cx="385.84" cy="307.65" r="1.7" fill="#22b8dc" stroke="#22b8dc"/><circle cx="402.98" cy="316.4" r="1.7" fill="#22b8dc" stroke="#22b8dc"/><circle cx="390.46" cy="316.96" r="1.7" fill="#22b8dc" stroke="#22b8dc"/><circle cx="395.51" cy="319.78" r="1.7" fill="#f2ec90" stroke="#f2ec90"/><circle cx="391.19" cy="319.29" r="1.7" fill="#22b8dc" stroke="#22b8dc"/><circle cx="386.79" cy="309.71" r="1.7" fill="#22b8dc" stroke="#22b8dc"/><circle cx="410.73" cy="320.38" r="1.7" fill="#f2ec90" stroke="#f2ec90"/><circle cx="418.89" cy="305.99" r="1.7" fill="#b7a6dc" stroke="#b7a6dc"/><circle cx="395.68" cy="301.27" r="1.7" fill="#22b8dc" stroke="#22b8dc"/><circle cx="409.17" cy="318.25" r="1.7" fill="#b7a6dc" stroke="#b7a6dc"/><circle cx="374.79" cy="315.52" r="1.7" fill="#f2ec90" stroke="#f2ec90"/><circle cx="387.4" cy="313.12" r="1.7" fill="#22b8dc" stroke="#22b8dc"/><circle cx="398.95" cy="311.82" r="1.7" fill="#b7a6dc" stroke="#b7a6dc"/><circle cx="397.15" cy="313.31" r="1.7" fill="#22b8dc" stroke="#22b8dc"/><circle cx="387.69" cy="318.99" r="1.7" fill="#22b8dc" stroke="#22b8dc"/><circle cx="376.11" cy="315.38" r="1.7" fill="#22b8dc" stroke="#22b8dc"/><circle cx="432.06" cy="246" r="1.7" fill="#22b8dc" stroke="#22b8dc"/><circle cx="406.55" cy="285.95" r="1.7" fill="#22b8dc" stroke="#22b8dc"/><circle cx="378.07" cy="315.95" r="1.7" fill="#f2ec90" stroke="#f2ec90"/><circle cx="390.68" cy="318.09" r="1.7" fill="#22b8dc" stroke="#22b8dc"/><circle cx="390.93" cy="319.13" r="1.7" fill="#f2ec90" stroke="#f2ec90"/><circle cx="404.27" cy="309.93" r="1.7" fill="#22b8dc" stroke="#22b8dc"/><circle cx="385.62" cy="310.45" r="1.7" fill="#22b8dc" stroke="#22b8dc"/><circle cx="417.34" cy="262.24" r="1.6" fill="#f26148" stroke="#f26148"/><circle cx="409.98" cy="261.4" r="1.6" fill="#22b8dc" stroke="#22b8dc"/><circle cx="401.76" cy="298.12" r="1.5" fill="#22b8dc" stroke="#22b8dc"/><circle cx="390.81" cy="319.01" r="1.5" fill="#22b8dc" stroke="#22b8dc"/><circle cx="389.55" cy="318.78" r="1.5" fill="#f2ec90" stroke="#f2ec90"/><circle cx="397.41" cy="299.7" r="1.5" fill="#f26148" stroke="#f26148"/><circle cx="401" cy="310.41" r="1.5" fill="#b7a6dc" stroke="#b7a6dc"/><circle cx="402.97" cy="316.4" r="1.5" fill="#22b8dc" stroke="#22b8dc"/><circle cx="398.6" cy="315.47" r="1.5" fill="#b7a6dc" stroke="#b7a6dc"/><circle cx="395.52" cy="309.86" r="1.5" fill="#b7a6dc" stroke="#b7a6dc"/><circle cx="393.16" cy="320.17" r="1.5" fill="#f2ec90" stroke="#f2ec90"/><circle cx="375.51" cy="311.63" r="1.5" fill="#22b8dc" stroke="#22b8dc"/><circle cx="362.35" cy="318.71" r="1.5" fill="#22b8dc" stroke="#22b8dc"/><circle cx="398.76" cy="317.71" r="1.5" fill="#f2ec90" stroke="#f2ec90"/><circle cx="383.68" cy="320.01" r="1.5" fill="#f2ec90" stroke="#f2ec90"/><circle cx="405.45" cy="274.93" r="1.5" fill="#22b8dc" stroke="#22b8dc"/><circle cx="404.45" cy="319.22" r="1.5" fill="#f2ec90" stroke="#f2ec90"/><circle cx="394.95" cy="308.51" r="1.5" fill="#22b8dc" stroke="#22b8dc"/><circle cx="402.8" cy="317.73" r="1.5" fill="#b7a6dc" stroke="#b7a6dc"/><circle cx="391.55" cy="318.22" r="1.5" fill="#f2ec90" stroke="#f2ec90"/><circle cx="393.23" cy="313.83" r="1.5" fill="#22b8dc" stroke="#22b8dc"/><circle cx="404.09" cy="299.49" r="1.5" fill="#22b8dc" stroke="#22b8dc"/><circle cx="400.29" cy="318.87" r="1.5" fill="#22b8dc" stroke="#22b8dc"/><circle cx="387.14" cy="311.09" r="1.5" fill="#22b8dc" stroke="#22b8dc"/><circle cx="394.42" cy="302.14" r="1.5" fill="#b7a6dc" stroke="#b7a6dc"/><circle cx="382.95" cy="316.56" r="1.5" fill="#f26148" stroke="#f26148"/><circle cx="389.89" cy="320.41" r="1.5" fill="#b7a6dc" stroke="#b7a6dc"/><circle cx="402.93" cy="318.44" r="1.5" fill="#22b8dc" stroke="#22b8dc"/><circle cx="404.13" cy="320.39" r="1.5" fill="#22b8dc" stroke="#22b8dc"/><circle cx="395.05" cy="304.39" r="1.5" fill="#22b8dc" stroke="#22b8dc"/><circle cx="401.57" cy="306.46" r="1.5" fill="#22b8dc" stroke="#22b8dc"/><circle cx="400.74" cy="307.42" r="1.5" fill="#22b8dc" stroke="#22b8dc"/><circle cx="404.35" cy="280.42" r="1.5" fill="#22b8dc" stroke="#22b8dc"/><circle cx="395.18" cy="305.57" r="1.5" fill="#22b8dc" stroke="#22b8dc"/><circle cx="399.15" cy="307.57" r="1.5" fill="#22b8dc" stroke="#22b8dc"/><circle cx="388.62" cy="318.69" r="1.5" fill="#f2ec90" stroke="#f2ec90"/><circle cx="394.15" cy="319.23" r="1.5" fill="#b7a6dc" stroke="#b7a6dc"/><circle cx="392.35" cy="313.27" r="1.5" fill="#b7a6dc" stroke="#b7a6dc"/><circle cx="396.4" cy="298.47" r="1.5" fill="#22b8dc" stroke="#22b8dc"/><circle cx="395.77" cy="303.57" r="1.5" fill="#f26148" stroke="#f26148"/><circle cx="392.98" cy="316.08" r="1.5" fill="#f26148" stroke="#f26148"/><circle cx="374.08" cy="311.84" r="1.5" fill="#22b8dc" stroke="#22b8dc"/><circle cx="406" cy="309.05" r="1.5" fill="#f26148" stroke="#f26148"/><circle cx="396.64" cy="316.37" r="1.5" fill="#b7a6dc" stroke="#b7a6dc"/><circle cx="401.68" cy="318.11" r="1.5" fill="#b7a6dc" stroke="#b7a6dc"/><circle cx="397.5" cy="309.93" r="1.5" fill="#22b8dc" stroke="#22b8dc"/><circle cx="379.77" cy="307.56" r="1.5" fill="#22b8dc" stroke="#22b8dc"/><circle cx="393.21" cy="315.53" r="1.5" fill="#b7a6dc" stroke="#b7a6dc"/><circle cx="376.99" cy="318.11" r="1.5" fill="#f26148" stroke="#f26148"/><circle cx="372.26" cy="317.81" r="1.5" fill="#f26148" stroke="#f26148"/><circle cx="418.52" cy="275.17" r="1.5" fill="#22b8dc" stroke="#22b8dc"/><circle cx="396.42" cy="304.09" r="1.5" fill="#22b8dc" stroke="#22b8dc"/><circle cx="392.05" cy="318.3" r="1.5" fill="#22b8dc" stroke="#22b8dc"/><circle cx="401.27" cy="301.44" r="1.5" fill="#f26148" stroke="#f26148"/><circle cx="379.66" cy="314.22" r="1.5" fill="#22b8dc" stroke="#22b8dc"/><circle cx="403.3" cy="300.39" r="1.5" fill="#f26148" stroke="#f26148"/><circle cx="384.08" cy="320.04" r="1.5" fill="#f2ec90" stroke="#f2ec90"/><circle cx="396.41" cy="314.9" r="1.5" fill="#22b8dc" stroke="#22b8dc"/><circle cx="424.7" cy="278.2" r="1.5" fill="#f26148" stroke="#f26148"/><circle cx="380.88" cy="314.57" r="1.5" fill="#f26148" stroke="#f26148"/><circle cx="403.19" cy="317.51" r="1.5" fill="#22b8dc" stroke="#22b8dc"/><circle cx="397.98" cy="318.62" r="1.5" fill="#b7a6dc" stroke="#b7a6dc"/><circle cx="380.91" cy="316.72" r="1.5" fill="#b7a6dc" stroke="#b7a6dc"/><circle cx="398.99" cy="318.25" r="1.5" fill="#b7a6dc" stroke="#b7a6dc"/><circle cx="378.62" cy="312.53" r="1.5" fill="#f26148" stroke="#f26148"/><circle cx="408.94" cy="312.79" r="1.5" fill="#22b8dc" stroke="#22b8dc"/><circle cx="397.79" cy="309.75" r="1.5" fill="#22b8dc" stroke="#22b8dc"/><circle cx="413.04" cy="280.91" r="1.5" fill="#22b8dc" stroke="#22b8dc"/><circle cx="391.81" cy="317.49" r="1.5" fill="#f26148" stroke="#f26148"/><circle cx="375.61" cy="319.24" r="1.5" fill="#f2ec90" stroke="#f2ec90"/><circle cx="376.46" cy="312.17" r="1.5" fill="#22b8dc" stroke="#22b8dc"/><circle cx="391.29" cy="316.83" r="1.5" fill="#f2ec90" stroke="#f2ec90"/><circle cx="387.16" cy="314.95" r="1.5" fill="#22b8dc" stroke="#22b8dc"/><circle cx="390" cy="312.12" r="1.5" fill="#f2ec90" stroke="#f2ec90"/><circle cx="415.54" cy="287.42" r="1.5" fill="#22b8dc" stroke="#22b8dc"/><circle cx="404.94" cy="308.3" r="1.5" fill="#f26148" stroke="#f26148"/><circle cx="391.96" cy="318.66" r="1.5" fill="#22b8dc" stroke="#22b8dc"/><circle cx="399.27" cy="320.17" r="1.5" fill="#f2ec90" stroke="#f2ec90"/><circle cx="400.45" cy="311.65" r="1.5" fill="#22b8dc" stroke="#22b8dc"/><circle cx="386.42" cy="309.03" r="1.5" fill="#22b8dc" stroke="#22b8dc"/><circle cx="386.65" cy="318.63" r="1.5" fill="#b7a6dc" stroke="#b7a6dc"/><circle cx="379.98" cy="318.57" r="1.5" fill="#b7a6dc" stroke="#b7a6dc"/><circle cx="386.33" cy="317.36" r="1.5" fill="#b7a6dc" stroke="#b7a6dc"/><circle cx="385.41" cy="317.27" r="1.5" fill="#f2ec90" stroke="#f2ec90"/><circle cx="400.73" cy="316.64" r="1.5" fill="#22b8dc" stroke="#22b8dc"/><circle cx="396.95" cy="312.12" r="1.5" fill="#22b8dc" stroke="#22b8dc"/><circle cx="399.9" cy="310.94" r="1.5" fill="#f2ec90" stroke="#f2ec90"/><circle cx="382.46" cy="305.97" r="1.5" fill="#22b8dc" stroke="#22b8dc"/><circle cx="399.42" cy="308.1" r="1.5" fill="#22b8dc" stroke="#22b8dc"/><circle cx="393.51" cy="315.6" r="1.5" fill="#22b8dc" stroke="#22b8dc"/><circle cx="391.54" cy="319.89" r="1.5" fill="#b7a6dc" stroke="#b7a6dc"/><circle cx="399.21" cy="310.74" r="1.5" fill="#22b8dc" stroke="#22b8dc"/><circle cx="387.2" cy="309.27" r="1.5" fill="#22b8dc" stroke="#22b8dc"/><circle cx="405.38" cy="263.36" r="1.5" fill="#b7a6dc" stroke="#b7a6dc"/><circle cx="384.57" cy="311.78" r="1.5" fill="#22b8dc" stroke="#22b8dc"/><circle cx="409.02" cy="302.48" r="1.5" fill="#22b8dc" stroke="#22b8dc"/><circle cx="404.49" cy="315.17" r="1.5" fill="#22b8dc" stroke="#22b8dc"/><circle cx="411.63" cy="310.53" r="1.5" fill="#22b8dc" stroke="#22b8dc"/><circle cx="385.96" cy="307.22" r="1.5" fill="#b7a6dc" stroke="#b7a6dc"/><circle cx="402.05" cy="317.23" r="1.5" fill="#b7a6dc" stroke="#b7a6dc"/><circle cx="372.65" cy="314.22" r="1.5" fill="#22b8dc" stroke="#22b8dc"/><circle cx="391.56" cy="312.62" r="1.5" fill="#22b8dc" stroke="#22b8dc"/><circle cx="391.04" cy="308.96" r="1.5" fill="#22b8dc" stroke="#22b8dc"/><circle cx="385.4" cy="319.72" r="1.5" fill="#b7a6dc" stroke="#b7a6dc"/><circle cx="394.38" cy="315.55" r="1.5" fill="#22b8dc" stroke="#22b8dc"/><circle cx="384.13" cy="315.81" r="1.5" fill="#f2ec90" stroke="#f2ec90"/><circle cx="406.26" cy="292.17" r="1.5" fill="#f26148" stroke="#f26148"/><circle cx="385.93" cy="317.66" r="1.5" fill="#f2ec90" stroke="#f2ec90"/><circle cx="392.85" cy="304.77" r="1.5" fill="#b7a6dc" stroke="#b7a6dc"/><circle cx="401.77" cy="315.13" r="1.5" fill="#f26148" stroke="#f26148"/><circle cx="379.77" cy="316.23" r="1.5" fill="#f2ec90" stroke="#f2ec90"/><circle cx="388.33" cy="313.04" r="1.5" fill="#b7a6dc" stroke="#b7a6dc"/><circle cx="384.4" cy="309.84" r="1.5" fill="#22b8dc" stroke="#22b8dc"/><circle cx="382.72" cy="313.51" r="1.5" fill="#f26148" stroke="#f26148"/><circle cx="403.6" cy="317.11" r="1.5" fill="#b7a6dc" stroke="#b7a6dc"/><circle cx="385.59" cy="308.15" r="1.5" fill="#22b8dc" stroke="#22b8dc"/><circle cx="393.03" cy="317.83" r="1.5" fill="#22b8dc" stroke="#22b8dc"/><circle cx="395.92" cy="318.65" r="1.5" fill="#f2ec90" stroke="#f2ec90"/><circle cx="399.54" cy="317.39" r="1.5" fill="#f2ec90" stroke="#f2ec90"/><circle cx="392.89" cy="318.15" r="1.5" fill="#f2ec90" stroke="#f2ec90"/><circle cx="398.31" cy="308.09" r="1.5" fill="#22b8dc" stroke="#22b8dc"/><circle cx="361.38" cy="318.08" r="1.5" fill="#b7a6dc" stroke="#b7a6dc"/><circle cx="383.77" cy="317.47" r="1.5" fill="#f2ec90" stroke="#f2ec90"/><circle cx="394.78" cy="308.95" r="1.5" fill="#f26148" stroke="#f26148"/><circle cx="422.86" cy="269.24" r="1.4" fill="#22b8dc" stroke="#22b8dc"/><circle cx="399.86" cy="272.6" r="1.4" fill="#22b8dc" stroke="#22b8dc"/><circle cx="405.5" cy="319.26" r="1.3" fill="#f2ec90" stroke="#f2ec90"/><circle cx="391.44" cy="305.38" r="1.3" fill="#22b8dc" stroke="#22b8dc"/><circle cx="395.36" cy="300.05" r="1.3" fill="#22b8dc" stroke="#22b8dc"/><circle cx="401.73" cy="305.89" r="1.3" fill="#22b8dc" stroke="#22b8dc"/><circle cx="382.49" cy="317.51" r="1.3" fill="#b7a6dc" stroke="#b7a6dc"/><circle cx="402.87" cy="317.34" r="1.3" fill="#f2ec90" stroke="#f2ec90"/><circle cx="385.78" cy="313.18" r="1.3" fill="#22b8dc" stroke="#22b8dc"/><circle cx="397.07" cy="307.25" r="1.3" fill="#22b8dc" stroke="#22b8dc"/><circle cx="391.08" cy="317.91" r="1.3" fill="#b7a6dc" stroke="#b7a6dc"/><circle cx="395.74" cy="317.75" r="1.3" fill="#22b8dc" stroke="#22b8dc"/><circle cx="393.36" cy="318.06" r="1.3" fill="#f2ec90" stroke="#f2ec90"/><circle cx="391.77" cy="315.58" r="1.3" fill="#f2ec90" stroke="#f2ec90"/><circle cx="398.94" cy="318.66" r="1.3" fill="#f2ec90" stroke="#f2ec90"/><circle cx="387.93" cy="319.99" r="1.3" fill="#f2ec90" stroke="#f2ec90"/><circle cx="404.08" cy="310.72" r="1.3" fill="#22b8dc" stroke="#22b8dc"/><circle cx="408.19" cy="309.69" r="1.3" fill="#22b8dc" stroke="#22b8dc"/><circle cx="399.45" cy="318.2" r="1.3" fill="#f2ec90" stroke="#f2ec90"/><circle cx="405.44" cy="318.1" r="1.3" fill="#f2ec90" stroke="#f2ec90"/><circle cx="390.74" cy="318.89" r="1.3" fill="#b7a6dc" stroke="#b7a6dc"/><circle cx="397.02" cy="307.9" r="1.3" fill="#f26148" stroke="#f26148"/><circle cx="391.88" cy="315.57" r="1.3" fill="#b7a6dc" stroke="#b7a6dc"/><circle cx="400.4" cy="314.14" r="1.3" fill="#22b8dc" stroke="#22b8dc"/><circle cx="405.38" cy="293.63" r="1.3" fill="#22b8dc" stroke="#22b8dc"/><circle cx="402.99" cy="309.75" r="1.3" fill="#f26148" stroke="#f26148"/><circle cx="403.53" cy="296.39" r="1.3" fill="#22b8dc" stroke="#22b8dc"/><circle cx="425.62" cy="275.15" r="1.3" fill="#f26148" stroke="#f26148"/><circle cx="387.78" cy="319.52" r="1.3" fill="#f26148" stroke="#f26148"/><circle cx="399.54" cy="315.93" r="1.3" fill="#f2ec90" stroke="#f2ec90"/><circle cx="384.11" cy="312.44" r="1.3" fill="#22b8dc" stroke="#22b8dc"/><circle cx="385.64" cy="320.09" r="1.3" fill="#f2ec90" stroke="#f2ec90"/><circle cx="387.89" cy="311.58" r="1.3" fill="#22b8dc" stroke="#22b8dc"/><circle cx="371.29" cy="316.67" r="1.3" fill="#f26148" stroke="#f26148"/><circle cx="413.22" cy="318.76" r="1.3" fill="#f2ec90" stroke="#f2ec90"/><circle cx="393.63" cy="311.49" r="1.3" fill="#22b8dc" stroke="#22b8dc"/><circle cx="407.1" cy="311.51" r="1.3" fill="#22b8dc" stroke="#22b8dc"/><circle cx="388.32" cy="317.87" r="1.3" fill="#b7a6dc" stroke="#b7a6dc"/><circle cx="398.12" cy="313.68" r="1.3" fill="#f2ec90" stroke="#f2ec90"/><circle cx="376.35" cy="319.15" r="1.3" fill="#f26148" stroke="#f26148"/><circle cx="407.86" cy="287.02" r="1.3" fill="#22b8dc" stroke="#22b8dc"/><circle cx="408.76" cy="312.02" r="1.3" fill="#f2ec90" stroke="#f2ec90"/><circle cx="389.55" cy="306.91" r="1.3" fill="#22b8dc" stroke="#22b8dc"/><circle cx="396.67" cy="316.83" r="1.3" fill="#f2ec90" stroke="#f2ec90"/><circle cx="398.79" cy="314.74" r="1.3" fill="#f2ec90" stroke="#f2ec90"/><circle cx="405.87" cy="319.62" r="1.3" fill="#f26148" stroke="#f26148"/><circle cx="393.83" cy="308.27" r="1.3" fill="#f26148" stroke="#f26148"/><circle cx="381.8" cy="313.18" r="1.3" fill="#22b8dc" stroke="#22b8dc"/><circle cx="390.31" cy="318.47" r="1.3" fill="#f2ec90" stroke="#f2ec90"/><circle cx="395.17" cy="318.88" r="1.3" fill="#f2ec90" stroke="#f2ec90"/><circle cx="392.98" cy="316.35" r="1.3" fill="#f2ec90" stroke="#f2ec90"/><circle cx="399.53" cy="314.73" r="1.3" fill="#f2ec90" stroke="#f2ec90"/><circle cx="365.59" cy="316.95" r="1.3" fill="#f2ec90" stroke="#f2ec90"/><circle cx="395.43" cy="312.3" r="1.3" fill="#22b8dc" stroke="#22b8dc"/><circle cx="382.66" cy="315.89" r="1.3" fill="#22b8dc" stroke="#22b8dc"/><circle cx="410.02" cy="271.9" r="1.3" fill="#22b8dc" stroke="#22b8dc"/><circle cx="404.21" cy="318.92" r="1.3" fill="#22b8dc" stroke="#22b8dc"/><circle cx="408.62" cy="294.11" r="1.3" fill="#f2ec90" stroke="#f2ec90"/><circle cx="394.92" cy="315.64" r="1.3" fill="#f2ec90" stroke="#f2ec90"/><circle cx="392.63" cy="316.6" r="1.3" fill="#22b8dc" stroke="#22b8dc"/><circle cx="405.89" cy="305.72" r="1.3" fill="#22b8dc" stroke="#22b8dc"/><circle cx="382.36" cy="318.47" r="1.3" fill="#f2ec90" stroke="#f2ec90"/><circle cx="411.01" cy="316.22" r="1.3" fill="#22b8dc" stroke="#22b8dc"/><circle cx="401.45" cy="306.83" r="1.3" fill="#f26148" stroke="#f26148"/><circle cx="388.34" cy="307.68" r="1.3" fill="#22b8dc" stroke="#22b8dc"/><circle cx="391.67" cy="317.92" r="1.3" fill="#f2ec90" stroke="#f2ec90"/><circle cx="403.21" cy="310.67" r="1.3" fill="#22b8dc" stroke="#22b8dc"/><circle cx="378.23" cy="319.9" r="1.3" fill="#b7a6dc" stroke="#b7a6dc"/><circle cx="417.55" cy="279.6" r="1.3" fill="#22b8dc" stroke="#22b8dc"/><circle cx="396.12" cy="318.92" r="1.3" fill="#f2ec90" stroke="#f2ec90"/><circle cx="385.71" cy="312.37" r="1.3" fill="#22b8dc" stroke="#22b8dc"/><circle cx="384.07" cy="318.38" r="1.3" fill="#b7a6dc" stroke="#b7a6dc"/><circle cx="382.89" cy="308.1" r="1.3" fill="#22b8dc" stroke="#22b8dc"/><circle cx="384.15" cy="318.12" r="1.3" fill="#f26148" stroke="#f26148"/><circle cx="380.7" cy="312.2" r="1.3" fill="#22b8dc" stroke="#22b8dc"/><circle cx="401.88" cy="315.61" r="1.3" fill="#22b8dc" stroke="#22b8dc"/><circle cx="382.58" cy="318.15" r="1.3" fill="#f2ec90" stroke="#f2ec90"/><circle cx="381.51" cy="316.33" r="1.3" fill="#f2ec90" stroke="#f2ec90"/><circle cx="399.23" cy="316.68" r="1.3" fill="#f2ec90" stroke="#f2ec90"/><circle cx="397.39" cy="304.46" r="1.3" fill="#b7a6dc" stroke="#b7a6dc"/><circle cx="393.43" cy="320.43" r="1.3" fill="#b7a6dc" stroke="#b7a6dc"/><circle cx="403.29" cy="301.07" r="1.3" fill="#22b8dc" stroke="#22b8dc"/><circle cx="381.2" cy="312.47" r="1.3" fill="#22b8dc" stroke="#22b8dc"/><circle cx="392.08" cy="320.05" r="1.3" fill="#f2ec90" stroke="#f2ec90"/><circle cx="389.19" cy="309.24" r="1.3" fill="#f26148" stroke="#f26148"/><circle cx="399.32" cy="310.16" r="1.3" fill="#f26148" stroke="#f26148"/><circle cx="395.77" cy="317.01" r="1.3" fill="#b7a6dc" stroke="#b7a6dc"/><circle cx="393.42" cy="315.28" r="1.3" fill="#22b8dc" stroke="#22b8dc"/><circle cx="399.9" cy="319.91" r="1.3" fill="#f2ec90" stroke="#f2ec90"/><circle cx="399.71" cy="319.26" r="1.3" fill="#22b8dc" stroke="#22b8dc"/><circle cx="394.23" cy="320.45" r="1.3" fill="#f2ec90" stroke="#f2ec90"/><circle cx="414.82" cy="275.8" r="1.3" fill="#22b8dc" stroke="#22b8dc"/><circle cx="380.77" cy="315.62" r="1.3" fill="#22b8dc" stroke="#22b8dc"/><circle cx="388.8" cy="304.51" r="1.3" fill="#22b8dc" stroke="#22b8dc"/><circle cx="395.49" cy="316.72" r="1.3" fill="#f2ec90" stroke="#f2ec90"/><circle cx="390.05" cy="319.8" r="1.3" fill="#f2ec90" stroke="#f2ec90"/><circle cx="400.52" cy="319.28" r="1.3" fill="#f2ec90" stroke="#f2ec90"/><circle cx="407.78" cy="293.92" r="1.3" fill="#b7a6dc" stroke="#b7a6dc"/><circle cx="401.91" cy="301.64" r="1.3" fill="#22b8dc" stroke="#22b8dc"/><circle cx="399.52" cy="307.31" r="1.3" fill="#22b8dc" stroke="#22b8dc"/><circle cx="404.53" cy="304.96" r="1.3" fill="#22b8dc" stroke="#22b8dc"/><circle cx="386.22" cy="309.16" r="1.3" fill="#22b8dc" stroke="#22b8dc"/><circle cx="374.29" cy="313.44" r="1.1" fill="#22b8dc" stroke="#22b8dc"/><circle cx="395.79" cy="318.96" r="1.1" fill="#f2ec90" stroke="#f2ec90"/><circle cx="398.69" cy="318.53" r="1.1" fill="#f2ec90" stroke="#f2ec90"/><circle cx="378.99" cy="319.78" r="1.1" fill="#f2ec90" stroke="#f2ec90"/><circle cx="405.77" cy="315.63" r="1.1" fill="#22b8dc" stroke="#22b8dc"/><circle cx="396.06" cy="301.4" r="1.1" fill="#f26148" stroke="#f26148"/><circle cx="380.23" cy="318.34" r="1.1" fill="#22b8dc" stroke="#22b8dc"/><circle cx="408.98" cy="280.61" r="1.1" fill="#f26148" stroke="#f26148"/><circle cx="394.91" cy="313.54" r="1.1" fill="#22b8dc" stroke="#22b8dc"/><circle cx="400.84" cy="318.59" r="1.1" fill="#f2ec90" stroke="#f2ec90"/><circle cx="396.62" cy="320.04" r="1.1" fill="#f2ec90" stroke="#f2ec90"/><circle cx="396.13" cy="315.7" r="1.1" fill="#22b8dc" stroke="#22b8dc"/><circle cx="393.8" cy="302.07" r="1.1" fill="#22b8dc" stroke="#22b8dc"/><circle cx="392.33" cy="318.92" r="1.1" fill="#f2ec90" stroke="#f2ec90"/><circle cx="392.2" cy="320.16" r="1.1" fill="#f2ec90" stroke="#f2ec90"/><circle cx="354.56" cy="312.71" r="1.1" fill="#22b8dc" stroke="#22b8dc"/><circle cx="402.68" cy="307.18" r="1.1" fill="#22b8dc" stroke="#22b8dc"/><circle cx="386.32" cy="316.54" r="1.1" fill="#f2ec90" stroke="#f2ec90"/><circle cx="411.3" cy="306" r="1.1" fill="#22b8dc" stroke="#22b8dc"/><circle cx="389.92" cy="306.94" r="1.1" fill="#22b8dc" stroke="#22b8dc"/><circle cx="391.01" cy="301.56" r="1.1" fill="#f26148" stroke="#f26148"/><circle cx="391.07" cy="314.27" r="1.1" fill="#b7a6dc" stroke="#b7a6dc"/><circle cx="413.98" cy="289.53" r="1.1" fill="#22b8dc" stroke="#22b8dc"/><circle cx="378.97" cy="317.52" r="1.1" fill="#f2ec90" stroke="#f2ec90"/><circle cx="401.44" cy="289.04" r="1.1" fill="#22b8dc" stroke="#22b8dc"/><circle cx="392.86" cy="302.4" r="1.1" fill="#b7a6dc" stroke="#b7a6dc"/><circle cx="390.77" cy="311.74" r="1.1" fill="#b7a6dc" stroke="#b7a6dc"/><circle cx="386.14" cy="316.73" r="1.1" fill="#22b8dc" stroke="#22b8dc"/><circle cx="403.5" cy="316.27" r="1.1" fill="#b7a6dc" stroke="#b7a6dc"/><circle cx="397.99" cy="313.7" r="1.1" fill="#f2ec90" stroke="#f2ec90"/><circle cx="378.56" cy="317.39" r="1.1" fill="#f2ec90" stroke="#f2ec90"/><circle cx="393.77" cy="300.8" r="1.1" fill="#22b8dc" stroke="#22b8dc"/><circle cx="400.21" cy="314.33" r="1.1" fill="#f26148" stroke="#f26148"/><circle cx="383.9" cy="316.92" r="1.1" fill="#b7a6dc" stroke="#b7a6dc"/><circle cx="401.06" cy="315.31" r="1.1" fill="#f2ec90" stroke="#f2ec90"/><circle cx="400.91" cy="297.62" r="1.1" fill="#22b8dc" stroke="#22b8dc"/><circle cx="404.49" cy="318.62" r="1.1" fill="#f2ec90" stroke="#f2ec90"/><circle cx="397.96" cy="318.71" r="1.1" fill="#22b8dc" stroke="#22b8dc"/><circle cx="396.14" cy="316.76" r="1.1" fill="#f2ec90" stroke="#f2ec90"/><circle cx="393.19" cy="313.7" r="1.1" fill="#b7a6dc" stroke="#b7a6dc"/><circle cx="388.12" cy="319.78" r="1.1" fill="#f2ec90" stroke="#f2ec90"/><circle cx="397.32" cy="312.43" r="1.1" fill="#f26148" stroke="#f26148"/><circle cx="400.41" cy="320.42" r="1.1" fill="#b7a6dc" stroke="#b7a6dc"/><circle cx="397.57" cy="304.26" r="1.1" fill="#b7a6dc" stroke="#b7a6dc"/><circle cx="415.32" cy="282.35" r="1.1" fill="#22b8dc" stroke="#22b8dc"/><circle cx="391.29" cy="316.24" r="1.1" fill="#f2ec90" stroke="#f2ec90"/><circle cx="388.37" cy="317.93" r="1.1" fill="#22b8dc" stroke="#22b8dc"/><circle cx="389.85" cy="318.78" r="1.1" fill="#22b8dc" stroke="#22b8dc"/><circle cx="394.93" cy="317" r="1.1" fill="#b7a6dc" stroke="#b7a6dc"/><circle cx="372.88" cy="318.3" r="1.1" fill="#22b8dc" stroke="#22b8dc"/><circle cx="394.12" cy="319.04" r="1.1" fill="#b7a6dc" stroke="#b7a6dc"/><circle cx="385.71" cy="314.74" r="1.1" fill="#f2ec90" stroke="#f2ec90"/><circle cx="375.06" cy="319.45" r="1.1" fill="#b7a6dc" stroke="#b7a6dc"/><circle cx="395.01" cy="317.1" r="1.1" fill="#f2ec90" stroke="#f2ec90"/><circle cx="412.62" cy="316.76" r="1.1" fill="#22b8dc" stroke="#22b8dc"/><circle cx="380.16" cy="312.11" r="1.1" fill="#b7a6dc" stroke="#b7a6dc"/><circle cx="402.35" cy="318.88" r="1.1" fill="#f2ec90" stroke="#f2ec90"/><circle cx="374.42" cy="319.31" r="1.1" fill="#f2ec90" stroke="#f2ec90"/><circle cx="382.71" cy="320.42" r="1.1" fill="#f26148" stroke="#f26148"/><circle cx="408.23" cy="312.21" r="1.1" fill="#22b8dc" stroke="#22b8dc"/><circle cx="399.51" cy="316.27" r="1.1" fill="#f26148" stroke="#f26148"/><circle cx="372.57" cy="315.93" r="1.1" fill="#b7a6dc" stroke="#b7a6dc"/><circle cx="397.76" cy="301.45" r="1.1" fill="#22b8dc" stroke="#22b8dc"/><circle cx="408" cy="297.41" r="1.1" fill="#22b8dc" stroke="#22b8dc"/><circle cx="395.3" cy="317.99" r="1.1" fill="#f2ec90" stroke="#f2ec90"/><circle cx="392.89" cy="308.95" r="1.1" fill="#f26148" stroke="#f26148"/><circle cx="370.65" cy="316.79" r="1.1" fill="#22b8dc" stroke="#22b8dc"/><circle cx="414.37" cy="314.01" r="1.1" fill="#b7a6dc" stroke="#b7a6dc"/><circle cx="399.89" cy="300.61" r="1.1" fill="#f26148" stroke="#f26148"/><circle cx="401.73" cy="316.89" r="1.1" fill="#f2ec90" stroke="#f2ec90"/><circle cx="406.41" cy="308.54" r="1.1" fill="#f26148" stroke="#f26148"/><circle cx="378.32" cy="317.65" r="1.1" fill="#f2ec90" stroke="#f2ec90"/><circle cx="379.59" cy="316.82" r="1.1" fill="#b7a6dc" stroke="#b7a6dc"/><circle cx="409.35" cy="302.22" r="1.1" fill="#22b8dc" stroke="#22b8dc"/><circle cx="375.04" cy="319.98" r="1.1" fill="#b7a6dc" stroke="#b7a6dc"/><circle cx="372.85" cy="313.01" r="1.1" fill="#f2ec90" stroke="#f2ec90"/><circle cx="387.13" cy="310.61" r="1.1" fill="#22b8dc" stroke="#22b8dc"/><circle cx="408.4" cy="319.89" r="1.1" fill="#f2ec90" stroke="#f2ec90"/><circle cx="388.22" cy="314.53" r="1.1" fill="#22b8dc" stroke="#22b8dc"/><circle cx="371.57" cy="317.06" r="1.1" fill="#22b8dc" stroke="#22b8dc"/><circle cx="403.8" cy="304.38" r="1.1" fill="#22b8dc" stroke="#22b8dc"/><circle cx="371.86" cy="317.3" r="1.1" fill="#f2ec90" stroke="#f2ec90"/><circle cx="391.09" cy="310.92" r="1.1" fill="#b7a6dc" stroke="#b7a6dc"/><circle cx="379.18" cy="310.01" r="1.1" fill="#22b8dc" stroke="#22b8dc"/><circle cx="351.2" cy="315.22" r="1.1" fill="#22b8dc" stroke="#22b8dc"/><circle cx="374.38" cy="318.64" r="1.1" fill="#22b8dc" stroke="#22b8dc"/><circle cx="380.42" cy="311.97" r="1.1" fill="#22b8dc" stroke="#22b8dc"/><circle cx="395.08" cy="317.79" r="1.1" fill="#b7a6dc" stroke="#b7a6dc"/><circle cx="402.83" cy="315.1" r="1.1" fill="#22b8dc" stroke="#22b8dc"/><circle cx="390.16" cy="318.55" r="1.1" fill="#f2ec90" stroke="#f2ec90"/><circle cx="352.07" cy="317.12" r="1.1" fill="#f2ec90" stroke="#f2ec90"/><circle cx="363.16" cy="317.05" r="1.1" fill="#b7a6dc" stroke="#b7a6dc"/><circle cx="380.77" cy="318.34" r="1.1" fill="#f2ec90" stroke="#f2ec90"/><circle cx="420.39" cy="288.14" r="1.1" fill="#f26148" stroke="#f26148"/><circle cx="405.44" cy="319.9" r="1.1" fill="#f2ec90" stroke="#f2ec90"/><circle cx="383.86" cy="319.41" r="1.1" fill="#b7a6dc" stroke="#b7a6dc"/><circle cx="387.35" cy="320.2" r="1.1" fill="#f26148" stroke="#f26148"/><circle cx="350.63" cy="314.76" r="1.1" fill="#22b8dc" stroke="#22b8dc"/><circle cx="380.05" cy="307.62" r="1.1" fill="#f26148" stroke="#f26148"/><circle cx="379.26" cy="308.79" r="1.1" fill="#22b8dc" stroke="#22b8dc"/><circle cx="365.71" cy="319.12" r="1.1" fill="#b7a6dc" stroke="#b7a6dc"/><circle cx="392.28" cy="318.15" r="1.1" fill="#f2ec90" stroke="#f2ec90"/><circle cx="357.35" cy="315.26" r="1.1" fill="#22b8dc" stroke="#22b8dc"/><circle cx="380.48" cy="319.51" r="1.1" fill="#b7a6dc" stroke="#b7a6dc"/><circle cx="398.41" cy="307.53" r="1.1" fill="#22b8dc" stroke="#22b8dc"/><circle cx="415.21" cy="300.37" r="1.1" fill="#f26148" stroke="#f26148"/><circle cx="372.73" cy="315.47" r="1.1" fill="#22b8dc" stroke="#22b8dc"/><circle cx="402.62" cy="304.23" r="1.1" fill="#22b8dc" stroke="#22b8dc"/><circle cx="396.08" cy="319.41" r="1.1" fill="#f2ec90" stroke="#f2ec90"/><circle cx="402.84" cy="315.34" r="1.1" fill="#22b8dc" stroke="#22b8dc"/><circle cx="397.55" cy="316.9" r="1.1" fill="#f2ec90" stroke="#f2ec90"/><circle cx="393.68" cy="303.73" r="1.1" fill="#f26148" stroke="#f26148"/><circle cx="399.44" cy="319.13" r="1.1" fill="#f26148" stroke="#f26148"/><circle cx="390.26" cy="313.3" r="1.1" fill="#b7a6dc" stroke="#b7a6dc"/><circle cx="390.86" cy="319.01" r="1.1" fill="#b7a6dc" stroke="#b7a6dc"/><circle cx="396.34" cy="308.26" r="1.1" fill="#22b8dc" stroke="#22b8dc"/><circle cx="393.91" cy="314.14" r="1.1" fill="#22b8dc" stroke="#22b8dc"/><circle cx="401.01" cy="317.46" r="1.1" fill="#22b8dc" stroke="#22b8dc"/><circle cx="395.42" cy="318.91" r="1.1" fill="#b7a6dc" stroke="#b7a6dc"/><circle cx="408.35" cy="303.44" r="1.1" fill="#22b8dc" stroke="#22b8dc"/><circle cx="376.5" cy="320.31" r="1.1" fill="#22b8dc" stroke="#22b8dc"/><circle cx="359.99" cy="315.83" r="1.1" fill="#22b8dc" stroke="#22b8dc"/><circle cx="384.96" cy="314.74" r="1.1" fill="#22b8dc" stroke="#22b8dc"/><circle cx="412.71" cy="319.38" r="1.1" fill="#f2ec90" stroke="#f2ec90"/><circle cx="412.01" cy="286.89" r="1.1" fill="#22b8dc" stroke="#22b8dc"/><circle cx="405.6" cy="295.94" r="1.1" fill="#22b8dc" stroke="#22b8dc"/><circle cx="406.42" cy="317.8" r="1.1" fill="#22b8dc" stroke="#22b8dc"/><circle cx="415.5" cy="319.78" r="1.1" fill="#f2ec90" stroke="#f2ec90"/><circle cx="393.44" cy="320.44" r="1.1" fill="#b7a6dc" stroke="#b7a6dc"/><circle cx="398.81" cy="307.84" r="1.1" fill="#f26148" stroke="#f26148"/><circle cx="398" cy="311.53" r="1.1" fill="#22b8dc" stroke="#22b8dc"/><circle cx="375.35" cy="319.98" r="1.1" fill="#22b8dc" stroke="#22b8dc"/><circle cx="409.54" cy="317.48" r="1.1" fill="#22b8dc" stroke="#22b8dc"/><circle cx="420.6" cy="313.67" r="1.1" fill="#22b8dc" stroke="#22b8dc"/><circle cx="364.28" cy="316.58" r="0.9" fill="#22b8dc" stroke="#22b8dc"/><circle cx="359.55" cy="313.87" r="0.9" fill="#22b8dc" stroke="#22b8dc"/><circle cx="351.88" cy="318.07" r="0.9" fill="#22b8dc" stroke="#22b8dc"/><circle cx="351.58" cy="320.16" r="0.9" fill="#22b8dc" stroke="#22b8dc"/><circle cx="364.29" cy="313.49" r="0.9" fill="#f2ec90" stroke="#f2ec90"/><circle cx="354.7" cy="319.85" r="0.9" fill="#b7a6dc" stroke="#b7a6dc"/><circle cx="357.46" cy="319.08" r="0.9" fill="#22b8dc" stroke="#22b8dc"/><circle cx="351.88" cy="314.24" r="0.9" fill="#22b8dc" stroke="#22b8dc"/><circle cx="350.82" cy="315.69" r="0.9" fill="#22b8dc" stroke="#22b8dc"/><circle cx="350.68" cy="317.06" r="0.9" fill="#22b8dc" stroke="#22b8dc"/><circle cx="370.3" cy="314.67" r="0.9" fill="#22b8dc" stroke="#22b8dc"/><circle cx="353.68" cy="317.67" r="0.7" fill="#22b8dc" stroke="#22b8dc"/><circle cx="366.86" cy="316.87" r="0.7" fill="#22b8dc" stroke="#22b8dc"/><circle cx="370.8" cy="317.99" r="0.7" fill="#22b8dc" stroke="#22b8dc"/><circle cx="375.46" cy="320.1" r="0.7" fill="#22b8dc" stroke="#22b8dc"/><circle cx="356.23" cy="316.89" r="0.7" fill="#22b8dc" stroke="#22b8dc"/><circle cx="353.17" cy="316.38" r="0.7" fill="#22b8dc" stroke="#22b8dc"/><circle cx="355.62" cy="312.93" r="0.7" fill="#22b8dc" stroke="#22b8dc"/><circle cx="353" cy="316.78" r="0.7" fill="#b7a6dc" stroke="#b7a6dc"/><circle cx="351.61" cy="316.87" r="0.7" fill="#22b8dc" stroke="#22b8dc"/><circle cx="359.22" cy="313.35" r="0.7" fill="#f2ec90" stroke="#f2ec90"/></g>
<line x1="344.8" y1="242.9" x2="344.8" y2="322.9" stroke="#8a8a8a" stroke-width="0.8"/>
<line x1="344.8" y1="322.9" x2="441" y2="322.9" stroke="#8a8a8a" stroke-width="0.8"/>
<line x1="343.8" y1="265.9" x2="344.8" y2="265.9" stroke="#555" stroke-width="0.4"/>
<text x="343" y="267.8" font-size="5.3" text-anchor="end" fill="#222" stroke="#222" stroke-width="0.06" >20</text>
<line x1="343.8" y1="293.9" x2="344.8" y2="293.9" stroke="#555" stroke-width="0.4"/>
<text x="343" y="295.8" font-size="5.3" text-anchor="end" fill="#222" stroke="#222" stroke-width="0.06" >10</text>
<line x1="343.8" y1="321.6" x2="344.8" y2="321.6" stroke="#555" stroke-width="0.4"/>
<text x="343" y="323.5" font-size="5.3" text-anchor="end" fill="#222" stroke="#222" stroke-width="0.06" >0</text>
<line x1="364.9" y1="322.9" x2="364.9" y2="323.9" stroke="#555" stroke-width="0.4"/>
<text x="364.9" y="330.9" font-size="5.3" text-anchor="middle" fill="#222" stroke="#222" stroke-width="0.06" >0</text>
<line x1="388" y1="322.9" x2="388" y2="323.9" stroke="#555" stroke-width="0.4"/>
<text x="388" y="330.9" font-size="5.3" text-anchor="middle" fill="#222" stroke="#222" stroke-width="0.06" >2.5</text>
<line x1="411" y1="322.9" x2="411" y2="323.9" stroke="#555" stroke-width="0.4"/>
<text x="411" y="330.9" font-size="5.3" text-anchor="middle" fill="#222" stroke="#222" stroke-width="0.06" >5</text>
<line x1="433.6" y1="322.9" x2="433.6" y2="323.9" stroke="#555" stroke-width="0.4"/>
<text x="433.6" y="330.9" font-size="5.3" text-anchor="middle" fill="#222" stroke="#222" stroke-width="0.06" >7.5</text>
<text x="396.5" y="338.6" font-size="6.0" text-anchor="middle" fill="#222" stroke="#222" stroke-width="0.06" >Z-score</text>
<text x="0" y="0" font-size="5.8" text-anchor="middle" fill="#222" transform="translate(332.8,272.7) rotate(-90)">-log<tspan font-size="4" dy="1">10</tspan><tspan dy="-1">(P.adj)</tspan></text>
<text x="399.3" y="250.75" font-size="4.85" text-anchor="start" fill="#222" stroke="#222" stroke-width="0.036" >GO:0007409</text>
<text x="385.7" y="301.65" font-size="4.85" text-anchor="start" fill="#222" stroke="#222" stroke-width="0.036" >mmu04012</text>
<text x="372" y="312.25" font-size="4.85" text-anchor="start" fill="#222" stroke="#222" stroke-width="0.036" >mmu04919</text>
<text x="401.8" y="313.55" font-size="4.85" text-anchor="start" fill="#222" stroke="#222" stroke-width="0.036" >mmu04510</text>
<text x="436.9" y="268.6" font-size="3.4" text-anchor="start" fill="#444" stroke="#444" stroke-width="0.036" >Ontology</text>
<circle cx="438.8" cy="271.3" r="1.1" fill="#22b8dc"/>
<text x="441.9" y="272.5" font-size="3.3" text-anchor="start" fill="#444" stroke="#444" stroke-width="0.036" >BP</text>
<circle cx="438.8" cy="275.23" r="1.1" fill="#f26148"/>
<text x="441.9" y="276.43" font-size="3.3" text-anchor="start" fill="#444" stroke="#444" stroke-width="0.036" >CC</text>
<circle cx="438.8" cy="279.16" r="1.1" fill="#b7a6dc"/>
<text x="441.9" y="280.36" font-size="3.3" text-anchor="start" fill="#444" stroke="#444" stroke-width="0.036" >MF</text>
<circle cx="438.8" cy="283.09" r="1.1" fill="#f2ec90"/>
<text x="441.9" y="284.29" font-size="3.3" text-anchor="start" fill="#444" stroke="#444" stroke-width="0.036" >KEGG</text>
<text x="436.9" y="290.29" font-size="3.4" text-anchor="start" fill="#444" stroke="#444" stroke-width="0.036" >Counts</text>
<circle cx="438.7" cy="293.39" r="1.2" fill="none" stroke="#555" stroke-width="0.35"/>
<text x="442.1" y="294.59" font-size="3.3" text-anchor="start" fill="#444" stroke="#444" stroke-width="0.036" >50</text>
<circle cx="438.7" cy="297.39" r="1.7" fill="none" stroke="#555" stroke-width="0.35"/>
<text x="442.1" y="298.59" font-size="3.3" text-anchor="start" fill="#444" stroke="#444" stroke-width="0.036" >100</text>
<path d="M537.04 75.27A35.8 35.8 0 0 1 536.82 75.96Q502.8 64.8 468.76 53.71A35.8 35.8 0 0 1 469.65 51.29Q502.8 64.8 537.04 75.27Z" fill="#f9c2b2" fill-opacity="0.9"/>
<path d="M519.39 96.53A35.8 35.8 0 0 1 517.59 97.4Q502.8 64.8 500.36 100.52A35.8 35.8 0 0 1 499.07 100.41Q502.8 64.8 519.39 96.53Z" fill="#cdbeb2" fill-opacity="0.9"/>
<path d="M499.27 29.17A35.8 35.8 0 0 1 500.39 29.08Q502.8 64.8 472.67 45.46A35.8 35.8 0 0 1 473.15 44.74Q502.8 64.8 499.27 29.17Z" fill="#80d0e6" fill-opacity="0.9"/>
<path d="M531.39 86.34A35.8 35.8 0 0 1 530.49 87.49Q502.8 64.8 467.12 61.82A35.8 35.8 0 0 1 467.21 60.96Q502.8 64.8 531.39 86.34Z" fill="#aee2d8" fill-opacity="0.9"/>
<path d="M502.63 29A35.8 35.8 0 0 1 503.75 29.01Q502.8 64.8 467.78 57.39A35.8 35.8 0 0 1 467.96 56.55Q502.8 64.8 502.63 29Z" fill="#80d0e6" fill-opacity="0.9"/>
<path d="M520.81 33.86A35.8 35.8 0 0 1 521.77 34.44Q502.8 64.8 509.05 100.05A35.8 35.8 0 0 1 508.2 100.19Q502.8 64.8 520.81 33.86Z" fill="#80d0e6" fill-opacity="0.9"/>
<path d="M532.04 44.14A35.8 35.8 0 0 1 532.67 45.07Q502.8 64.8 477 89.62A35.8 35.8 0 0 1 476.13 88.68Q502.8 64.8 532.04 44.14Z" fill="#f79a8a" fill-opacity="0.9"/>
<path d="M534.7 48.55A35.8 35.8 0 0 1 535.5 50.24Q502.8 64.8 489.45 31.58A35.8 35.8 0 0 1 490.25 31.27Q502.8 64.8 534.7 48.55Z" fill="#48c6b0" fill-opacity="0.9"/>
<path d="M495.95 29.66A35.8 35.8 0 0 1 497.05 29.46Q502.8 64.8 477.31 39.66A35.8 35.8 0 0 1 479.18 37.89Q502.8 64.8 495.95 29.66Z" fill="#80d0e6" fill-opacity="0.9"/>
<path d="M529.19 40.61A35.8 35.8 0 0 1 529.95 41.46Q502.8 64.8 468.01 56.37A35.8 35.8 0 0 1 468.22 55.53Q502.8 64.8 529.19 40.61Z" fill="#f79a8a" fill-opacity="0.9"/>
<path d="M525.06 36.76A35.8 35.8 0 0 1 525.93 37.48Q502.8 64.8 480.31 36.94A35.8 35.8 0 0 1 481.33 36.15Q502.8 64.8 525.06 36.76Z" fill="#f79a8a" fill-opacity="0.9"/>
<path d="M533.99 82.37A35.8 35.8 0 0 1 533.29 83.56Q502.8 64.8 467.61 58.23A35.8 35.8 0 0 1 467.78 57.39Q502.8 64.8 533.99 82.37Z" fill="#a9b9d8" fill-opacity="0.9"/>
<path d="M513.66 30.69A35.8 35.8 0 0 1 514.72 31.04Q502.8 64.8 488.25 97.51A35.8 35.8 0 0 1 487.47 97.15Q502.8 64.8 513.66 30.69Z" fill="#80d0e6" fill-opacity="0.9"/>
<path d="M538.55 66.67A35.8 35.8 0 0 1 538.4 68.54Q502.8 64.8 487.47 97.15A35.8 35.8 0 0 1 486.7 96.78Q502.8 64.8 538.55 66.67Z" fill="#48c6b0" fill-opacity="0.9"/>
<path d="M515.77 31.43A35.8 35.8 0 0 1 516.81 31.85Q502.8 64.8 493.46 99.36A35.8 35.8 0 0 1 492.22 99Q502.8 64.8 515.77 31.43Z" fill="#80d0e6" fill-opacity="0.9"/>
<path d="M538.33 69.16A35.8 35.8 0 0 1 538.06 71.02Q502.8 64.8 468.63 75.48A35.8 35.8 0 0 1 468.27 74.24Q502.8 64.8 538.33 69.16Z" fill="#8d9fca" fill-opacity="0.9"/>
<path d="M515.75 98.18A35.8 35.8 0 0 1 513.86 98.85Q502.8 64.8 509.89 99.89A35.8 35.8 0 0 1 509.05 100.05Q502.8 64.8 515.75 98.18Z" fill="#cdbeb2" fill-opacity="0.9"/>
<path d="M490.56 31.16A35.8 35.8 0 0 1 491.61 30.79Q502.8 64.8 488.65 31.91A35.8 35.8 0 0 1 489.45 31.58Q502.8 64.8 490.56 31.16Z" fill="#80d0e6" fill-opacity="0.9"/>
<path d="M535.25 79.93A35.8 35.8 0 0 1 534.64 81.16Q502.8 64.8 470.23 49.93A35.8 35.8 0 0 1 470.79 48.77Q502.8 64.8 535.25 79.93Z" fill="#a9b9d8" fill-opacity="0.9"/>
<path d="M494.85 29.89A35.8 35.8 0 0 1 495.95 29.66Q502.8 64.8 479.32 37.77A35.8 35.8 0 0 1 480.31 36.94Q502.8 64.8 494.85 29.89Z" fill="#80d0e6" fill-opacity="0.9"/>
<path d="M514.72 31.04A35.8 35.8 0 0 1 515.77 31.43Q502.8 64.8 490.82 98.54A35.8 35.8 0 0 1 488.42 97.59Q502.8 64.8 514.72 31.04Z" fill="#80d0e6" fill-opacity="0.9"/>
<path d="M536.85 53.74A35.8 35.8 0 0 1 537.38 55.53Q502.8 64.8 472.22 46.19A35.8 35.8 0 0 1 472.67 45.46Q502.8 64.8 536.85 53.74Z" fill="#48c6b0" fill-opacity="0.9"/>
<path d="M522.82 94.48A35.8 35.8 0 0 1 521.13 95.55Q502.8 64.8 467.91 72.81A35.8 35.8 0 0 1 467.64 71.55Q502.8 64.8 522.82 94.48Z" fill="#cdbeb2" fill-opacity="0.9"/>
<path d="M498.16 29.3A35.8 35.8 0 0 1 499.27 29.17Q502.8 64.8 474.52 42.85A35.8 35.8 0 0 1 475.33 41.85Q502.8 64.8 498.16 29.3Z" fill="#80d0e6" fill-opacity="0.9"/>
<path d="M538.06 71.02A35.8 35.8 0 0 1 537.68 72.85Q502.8 64.8 498.89 100.39A35.8 35.8 0 0 1 498.03 100.28Q502.8 64.8 538.06 71.02Z" fill="#8d9fca" fill-opacity="0.9"/>
<path d="M529.54 88.6A35.8 35.8 0 0 1 528.55 89.67Q502.8 64.8 470.68 80.61A35.8 35.8 0 0 1 470.13 79.44Q502.8 64.8 529.54 88.6Z" fill="#aee2d8" fill-opacity="0.9"/>
<path d="M538.4 61.06A35.8 35.8 0 0 1 538.55 62.93Q502.8 64.8 470.13 79.44A35.8 35.8 0 0 1 469.62 78.25Q502.8 64.8 538.4 61.06Z" fill="#48c6b0" fill-opacity="0.9"/>
<path d="M501.51 29.02A35.8 35.8 0 0 1 502.63 29Q502.8 64.8 468.45 54.71A35.8 35.8 0 0 1 468.7 53.89Q502.8 64.8 501.51 29.02Z" fill="#80d0e6" fill-opacity="0.9"/>
<path d="M537.68 72.85A35.8 35.8 0 0 1 537.21 74.67Q502.8 64.8 503.12 100.6A35.8 35.8 0 0 1 501.83 100.59Q502.8 64.8 537.68 72.85Z" fill="#8d9fca" fill-opacity="0.9"/>
<path d="M491.61 30.79A35.8 35.8 0 0 1 492.68 30.46Q502.8 64.8 486.16 33.1A35.8 35.8 0 0 1 487.31 32.52Q502.8 64.8 491.61 30.79Z" fill="#80d0e6" fill-opacity="0.9"/>
<path d="M538.55 62.93A35.8 35.8 0 0 1 538.6 64.8Q502.8 64.8 471.36 81.92A35.8 35.8 0 0 1 470.76 80.77Q502.8 64.8 538.55 62.93Z" fill="#48c6b0" fill-opacity="0.9"/>
<path d="M500.39 29.08A35.8 35.8 0 0 1 501.51 29.02Q502.8 64.8 471.48 47.46A35.8 35.8 0 0 1 472.12 46.35Q502.8 64.8 500.39 29.08Z" fill="#80d0e6" fill-opacity="0.9"/>
<path d="M519.83 33.31A35.8 35.8 0 0 1 520.81 33.86Q502.8 64.8 507.16 100.33A35.8 35.8 0 0 1 505.88 100.47Q502.8 64.8 519.83 33.31Z" fill="#80d0e6" fill-opacity="0.9"/>
<path d="M521.13 95.55A35.8 35.8 0 0 1 519.39 96.53Q502.8 64.8 479 91.54A35.8 35.8 0 0 1 478.05 90.67Q502.8 64.8 521.13 95.55Z" fill="#cdbeb2" fill-opacity="0.9"/>
<path d="M528.11 90.11A35.8 35.8 0 0 1 525.81 92.22Q502.8 64.8 473.49 85.36A35.8 35.8 0 0 1 472.09 83.2Q502.8 64.8 528.11 90.11Z" fill="#f88484" fill-opacity="0.9"/>
<path d="M533.29 83.56A35.8 35.8 0 0 1 532.55 84.72Q502.8 64.8 484.65 95.66A35.8 35.8 0 0 1 483.55 94.99Q502.8 64.8 533.29 83.56Z" fill="#a9b9d8" fill-opacity="0.9"/>
<path d="M532.67 45.07A35.8 35.8 0 0 1 533.28 46.03Q502.8 64.8 497.18 100.16A35.8 35.8 0 0 1 496.34 100.01Q502.8 64.8 532.67 45.07Z" fill="#f79a8a" fill-opacity="0.9"/>
<path d="M537.38 55.53A35.8 35.8 0 0 1 537.82 57.36Q502.8 64.8 469.72 51.11A35.8 35.8 0 0 1 470.23 49.93Q502.8 64.8 537.38 55.53Z" fill="#48c6b0" fill-opacity="0.9"/>
<path d="M497.05 29.46A35.8 35.8 0 0 1 498.16 29.3Q502.8 64.8 476.01 41.05A35.8 35.8 0 0 1 476.59 40.42Q502.8 64.8 497.05 29.46Z" fill="#80d0e6" fill-opacity="0.9"/>
<path d="M509.31 29.6A35.8 35.8 0 0 1 510.41 29.82Q502.8 64.8 475.17 87.56A35.8 35.8 0 0 1 473.6 85.51Q502.8 64.8 509.31 29.6Z" fill="#80d0e6" fill-opacity="0.9"/>
<path d="M512.58 30.36A35.8 35.8 0 0 1 513.66 30.69Q502.8 64.8 485.77 96.29A35.8 35.8 0 0 1 484.65 95.66Q502.8 64.8 512.58 30.36Z" fill="#80d0e6" fill-opacity="0.9"/>
<path d="M535.79 78.69A35.8 35.8 0 0 1 535.5 79.36Q502.8 64.8 492.22 99A35.8 35.8 0 0 1 491 98.6Q502.8 64.8 535.79 78.69Z" fill="#f9c2b2" fill-opacity="0.9"/>
<path d="M535.5 50.24A35.8 35.8 0 0 1 536.22 51.97Q502.8 64.8 483.76 34.48A35.8 35.8 0 0 1 484.87 33.82Q502.8 64.8 535.5 50.24Z" fill="#48c6b0" fill-opacity="0.9"/>
<path d="M533.86 47A35.8 35.8 0 0 1 534.41 47.99Q502.8 64.8 512.58 99.24A35.8 35.8 0 0 1 510.08 99.85Q502.8 64.8 533.86 47Z" fill="#f79a8a" fill-opacity="0.9"/>
<path d="M507.1 29.26A35.8 35.8 0 0 1 508.21 29.41Q502.8 64.8 467.64 71.55A35.8 35.8 0 0 1 467.42 70.28Q502.8 64.8 507.1 29.26Z" fill="#80d0e6" fill-opacity="0.9"/>
<path d="M517.59 97.4A35.8 35.8 0 0 1 515.75 98.18Q502.8 64.8 505.88 100.47A35.8 35.8 0 0 1 504.6 100.55Q502.8 64.8 517.59 97.4Z" fill="#cdbeb2" fill-opacity="0.9"/>
<path d="M493.76 30.16A35.8 35.8 0 0 1 494.85 29.89Q502.8 64.8 481.48 36.04A35.8 35.8 0 0 1 482.53 35.29Q502.8 64.8 493.76 30.16Z" fill="#80d0e6" fill-opacity="0.9"/>
<path d="M518.84 32.8A35.8 35.8 0 0 1 519.83 33.31Q502.8 64.8 504.41 100.56A35.8 35.8 0 0 1 503.12 100.6Q502.8 64.8 518.84 32.8Z" fill="#80d0e6" fill-opacity="0.9"/>
<path d="M505.98 29.14A35.8 35.8 0 0 1 507.1 29.26Q502.8 64.8 467.23 68.81A35.8 35.8 0 0 1 467.1 67.53Q502.8 64.8 505.98 29.14Z" fill="#80d0e6" fill-opacity="0.9"/>
<path d="M527.61 38.99A35.8 35.8 0 0 1 528.42 39.79Q502.8 64.8 473.15 44.74A35.8 35.8 0 0 1 473.64 44.04Q502.8 64.8 527.61 38.99Z" fill="#f79a8a" fill-opacity="0.9"/>
<path d="M504.87 29.06A35.8 35.8 0 0 1 505.98 29.14Q502.8 64.8 467.09 67.34A35.8 35.8 0 0 1 467.04 66.49Q502.8 64.8 504.87 29.06Z" fill="#80d0e6" fill-opacity="0.9"/>
<path d="M536.33 77.34A35.8 35.8 0 0 1 536.07 78.02Q502.8 64.8 478.05 90.67A35.8 35.8 0 0 1 477.13 89.76Q502.8 64.8 536.33 77.34Z" fill="#f9c2b2" fill-opacity="0.9"/>
<path d="M517.83 32.31A35.8 35.8 0 0 1 518.84 32.8Q502.8 64.8 501.64 100.58A35.8 35.8 0 0 1 500.36 100.52Q502.8 64.8 517.83 32.31Z" fill="#80d0e6" fill-opacity="0.9"/>
<path d="M534.64 81.16A35.8 35.8 0 0 1 533.99 82.37Q502.8 64.8 468.22 55.53A35.8 35.8 0 0 1 468.45 54.71Q502.8 64.8 534.64 81.16Z" fill="#a9b9d8" fill-opacity="0.9"/>
<path d="M537.82 57.36A35.8 35.8 0 0 1 538.16 59.2Q502.8 64.8 467.46 59.08A35.8 35.8 0 0 1 467.61 58.23Q502.8 64.8 537.82 57.36Z" fill="#48c6b0" fill-opacity="0.9"/>
<path d="M536.58 76.65A35.8 35.8 0 0 1 536.33 77.34Q502.8 64.8 467.01 65.63A35.8 35.8 0 0 1 467 64.77Q502.8 64.8 536.58 76.65Z" fill="#f9c2b2" fill-opacity="0.9"/>
<path d="M508.21 29.41A35.8 35.8 0 0 1 509.31 29.6Q502.8 64.8 471.99 83.04A35.8 35.8 0 0 1 471.36 81.92Q502.8 64.8 508.21 29.41Z" fill="#80d0e6" fill-opacity="0.9"/>
<path d="M538.6 64.8A35.8 35.8 0 0 1 538.55 66.67Q502.8 64.8 480.12 92.5A35.8 35.8 0 0 1 479.14 91.66Q502.8 64.8 538.6 64.8Z" fill="#48c6b0" fill-opacity="0.9"/>
<path d="M525.93 37.48A35.8 35.8 0 0 1 526.78 38.22Q502.8 64.8 476.59 40.42A35.8 35.8 0 0 1 477.18 39.8Q502.8 64.8 525.93 37.48Z" fill="#f79a8a" fill-opacity="0.9"/>
<path d="M530.49 87.49A35.8 35.8 0 0 1 529.54 88.6Q502.8 64.8 467.39 70.09A35.8 35.8 0 0 1 467.23 68.81Q502.8 64.8 530.49 87.49Z" fill="#aee2d8" fill-opacity="0.9"/>
<path d="M533.28 46.03A35.8 35.8 0 0 1 533.86 47Q502.8 64.8 508.2 100.19A35.8 35.8 0 0 1 507.35 100.31Q502.8 64.8 533.28 46.03Z" fill="#f79a8a" fill-opacity="0.9"/>
<path d="M511.5 30.07A35.8 35.8 0 0 1 512.58 30.36Q502.8 64.8 483.39 94.88A35.8 35.8 0 0 1 481.28 93.41Q502.8 64.8 511.5 30.07Z" fill="#80d0e6" fill-opacity="0.9"/>
<path d="M536.82 75.96A35.8 35.8 0 0 1 536.58 76.65Q502.8 64.8 467 64.58A35.8 35.8 0 0 1 467.11 62.01Q502.8 64.8 536.82 75.96Z" fill="#f9c2b2" fill-opacity="0.9"/>
<path d="M536.07 78.02A35.8 35.8 0 0 1 535.79 78.69Q502.8 64.8 486.7 96.78A35.8 35.8 0 0 1 485.94 96.38Q502.8 64.8 536.07 78.02Z" fill="#f9c2b2" fill-opacity="0.9"/>
<path d="M536.22 51.97A35.8 35.8 0 0 1 536.85 53.74Q502.8 64.8 475.45 41.7A35.8 35.8 0 0 1 476.01 41.05Q502.8 64.8 536.22 51.97Z" fill="#48c6b0" fill-opacity="0.9"/>
<path d="M492.68 30.46A35.8 35.8 0 0 1 493.76 30.16Q502.8 64.8 484.87 33.82A35.8 35.8 0 0 1 485.99 33.19Q502.8 64.8 492.68 30.46Z" fill="#80d0e6" fill-opacity="0.9"/>
<path d="M516.81 31.85A35.8 35.8 0 0 1 517.83 32.31Q502.8 64.8 498.03 100.28A35.8 35.8 0 0 1 497.18 100.16Q502.8 64.8 516.81 31.85Z" fill="#80d0e6" fill-opacity="0.9"/>
<path d="M503.75 29.01A35.8 35.8 0 0 1 504.87 29.06Q502.8 64.8 467.31 60.11A35.8 35.8 0 0 1 467.43 59.26Q502.8 64.8 503.75 29.01Z" fill="#80d0e6" fill-opacity="0.9"/>
<path d="M531.37 43.22A35.8 35.8 0 0 1 532.04 44.14Q502.8 64.8 469.55 78.08A35.8 35.8 0 0 1 468.69 75.65Q502.8 64.8 531.37 43.22Z" fill="#f79a8a" fill-opacity="0.9"/>
<path d="M532.55 84.72A35.8 35.8 0 0 1 531.76 85.84Q502.8 64.8 496.15 99.98A35.8 35.8 0 0 1 493.64 99.41Q502.8 64.8 532.55 84.72Z" fill="#a9b9d8" fill-opacity="0.9"/>
<path d="M510.41 29.82A35.8 35.8 0 0 1 511.5 30.07Q502.8 64.8 481.13 93.3A35.8 35.8 0 0 1 480.12 92.5Q502.8 64.8 510.41 29.82Z" fill="#80d0e6" fill-opacity="0.9"/>
<path d="M523.24 35.41A35.8 35.8 0 0 1 524.16 36.07Q502.8 64.8 487.31 32.52A35.8 35.8 0 0 1 488.48 31.99Q502.8 64.8 523.24 35.41Z" fill="#f79a8a" fill-opacity="0.9"/>
<path d="M522.3 34.78A35.8 35.8 0 0 1 523.24 35.41Q502.8 64.8 490.25 31.27A35.8 35.8 0 0 1 491.06 30.98Q502.8 64.8 522.3 34.78Z" fill="#f79a8a" fill-opacity="0.9"/>
<path d="M538.16 59.2A35.8 35.8 0 0 1 538.4 61.06Q502.8 64.8 467.21 60.96A35.8 35.8 0 0 1 467.31 60.11Q502.8 64.8 538.16 59.2Z" fill="#48c6b0" fill-opacity="0.9"/>
<path d="M530.67 42.33A35.8 35.8 0 0 1 531.37 43.22Q502.8 64.8 468.27 74.24A35.8 35.8 0 0 1 467.95 72.99Q502.8 64.8 530.67 42.33Z" fill="#f79a8a" fill-opacity="0.9"/>
<path d="M525.81 92.22A35.8 35.8 0 0 1 523.33 94.13Q502.8 64.8 476.13 88.68A35.8 35.8 0 0 1 475.29 87.7Q502.8 64.8 525.81 92.22Z" fill="#f88484" fill-opacity="0.9"/>
<path d="M524.16 36.07A35.8 35.8 0 0 1 525.06 36.76Q502.8 64.8 482.53 35.29A35.8 35.8 0 0 1 483.6 34.58Q502.8 64.8 524.16 36.07Z" fill="#f79a8a" fill-opacity="0.9"/>
<path d="M529.95 41.46A35.8 35.8 0 0 1 530.67 42.33Q502.8 64.8 467.04 66.49A35.8 35.8 0 0 1 467.01 65.63Q502.8 64.8 529.95 41.46Z" fill="#f79a8a" fill-opacity="0.9"/>
<path d="M528.42 39.79A35.8 35.8 0 0 1 529.19 40.61Q502.8 64.8 470.87 48.6A35.8 35.8 0 0 1 471.48 47.46Q502.8 64.8 528.42 39.79Z" fill="#f79a8a" fill-opacity="0.9"/>
<path d="M526.78 38.22A35.8 35.8 0 0 1 527.61 38.99Q502.8 64.8 473.75 43.88A35.8 35.8 0 0 1 474.52 42.85Q502.8 64.8 526.78 38.22Z" fill="#f79a8a" fill-opacity="0.9"/>
<path d="M489.87,29.28 A37.8,37.8 0 0 1 522.83,32.74 L521.77,34.44 A35.8,35.8 0 0 0 490.56,31.16 Z" fill="#1a9fc2"/>
<path d="M523.39,33.1 A37.8,37.8 0 0 1 536.18,47.05 L534.41,47.99 A35.8,35.8 0 0 0 522.3,34.78 Z" fill="#e03a2a"/>
<path d="M536.48,47.64 A37.8,37.8 0 0 1 540.39,68.75 L538.4,68.54 A35.8,35.8 0 0 0 534.7,48.55 Z" fill="#1a9a82"/>
<path d="M540.32,69.41 A37.8,37.8 0 0 1 539.14,75.22 L537.21,74.67 A35.8,35.8 0 0 0 538.33,69.16 Z" fill="#2b4a8e"/>
<path d="M538.95,75.85 A37.8,37.8 0 0 1 537.33,80.17 L535.5,79.36 A35.8,35.8 0 0 0 537.04,75.27 Z" fill="#f07a5a"/>
<path d="M537.06,80.77 A37.8,37.8 0 0 1 533.38,87.02 L531.76,85.84 A35.8,35.8 0 0 0 535.25,79.93 Z" fill="#6e86b8"/>
<path d="M532.99,87.55 A37.8,37.8 0 0 1 529.99,91.06 L528.55,89.67 A35.8,35.8 0 0 0 531.39,86.34 Z" fill="#3fb0a0"/>
<path d="M529.53,91.53 A37.8,37.8 0 0 1 524.48,95.76 L523.33,94.13 A35.8,35.8 0 0 0 528.11,90.11 Z" fill="#e02222"/>
<path d="M523.94,96.14 A37.8,37.8 0 0 1 514.48,100.75 L513.86,98.85 A35.8,35.8 0 0 0 522.82,94.48 Z" fill="#9a8070"/>
<path d="M512.98,100.89 A37.5,37.5 0 0 1 510.48,101.5 L510.24,100.33 A36.3,36.3 0 0 0 512.65,99.74 Z" fill="#fbe0da"/>
<path d="M510.16,101.57 A37.5,37.5 0 0 1 507.63,101.99 L507.48,100.8 A36.3,36.3 0 0 0 509.93,100.39 Z" fill="#f9d0c8"/>
<path d="M507.31,102.03 A37.5,37.5 0 0 1 504.75,102.25 L504.68,101.05 A36.3,36.3 0 0 0 507.16,100.84 Z" fill="#d6eef6"/>
<path d="M504.42,102.27 A37.5,37.5 0 0 1 501.85,102.29 L501.88,101.09 A36.3,36.3 0 0 0 504.37,101.07 Z" fill="#f7c0b6"/>
<path d="M501.52,102.28 A37.5,37.5 0 0 1 498.96,102.1 L499.08,100.91 A36.3,36.3 0 0 0 501.56,101.08 Z" fill="#d6eef6"/>
<path d="M498.64,102.07 A37.5,37.5 0 0 1 496.09,101.7 L496.31,100.52 A36.3,36.3 0 0 0 498.77,100.88 Z" fill="#f7c0b6"/>
<path d="M495.77,101.64 A37.5,37.5 0 0 1 493.27,101.07 L493.57,99.91 A36.3,36.3 0 0 0 496,100.46 Z" fill="#f9d0c8"/>
<path d="M492.95,100.98 A37.5,37.5 0 0 1 490.5,100.22 L490.89,99.09 A36.3,36.3 0 0 0 493.27,99.83 Z" fill="#d6eef6"/>
<path d="M490.19,100.12 A37.5,37.5 0 0 1 487.8,99.17 L488.28,98.07 A36.3,36.3 0 0 0 490.59,98.99 Z" fill="#f9d0c8"/>
<path d="M487.5,99.04 A37.5,37.5 0 0 1 485.19,97.91 L485.76,96.85 A36.3,36.3 0 0 0 487.99,97.94 Z" fill="#d6eef6"/>
<path d="M484.91,97.76 A37.5,37.5 0 0 1 482.69,96.45 L483.34,95.44 A36.3,36.3 0 0 0 485.48,96.7 Z" fill="#d6eef6"/>
<path d="M482.42,96.28 A37.5,37.5 0 0 1 480.31,94.81 L481.03,93.85 A36.3,36.3 0 0 0 483.07,95.27 Z" fill="#d6eef6"/>
<path d="M480.05,94.61 A37.5,37.5 0 0 1 478.06,92.98 L478.85,92.08 A36.3,36.3 0 0 0 480.78,93.66 Z" fill="#f7c0b6"/>
<path d="M477.82,92.77 A37.5,37.5 0 0 1 475.96,90.99 L476.82,90.15 A36.3,36.3 0 0 0 478.62,91.87 Z" fill="#f9d0c8"/>
<path d="M475.73,90.76 A37.5,37.5 0 0 1 474.02,88.84 L474.94,88.07 A36.3,36.3 0 0 0 476.6,89.92 Z" fill="#fbe0da"/>
<path d="M473.81,88.59 A37.5,37.5 0 0 1 472.25,86.55 L473.23,85.85 A36.3,36.3 0 0 0 474.74,87.83 Z" fill="#d6eef6"/>
<path d="M472.06,86.28 A37.5,37.5 0 0 1 470.66,84.13 L471.69,83.51 A36.3,36.3 0 0 0 473.05,85.59 Z" fill="#f7c0b6"/>
<path d="M470.5,83.85 A37.5,37.5 0 0 1 469.27,81.59 L470.34,81.05 A36.3,36.3 0 0 0 471.53,83.24 Z" fill="#f9d0c8"/>
<path d="M469.12,81.3 A37.5,37.5 0 0 1 468.07,78.95 L469.18,78.5 A36.3,36.3 0 0 0 470.2,80.77 Z" fill="#fbe0da"/>
<path d="M467.95,78.65 A37.5,37.5 0 0 1 467.09,76.23 L468.23,75.87 A36.3,36.3 0 0 0 469.07,78.21 Z" fill="#f9d0c8"/>
<path d="M466.99,75.92 A37.5,37.5 0 0 1 466.31,73.44 L467.48,73.17 A36.3,36.3 0 0 0 468.13,75.56 Z" fill="#d6eef6"/>
<path d="M466.24,73.12 A37.5,37.5 0 0 1 465.75,70.6 L466.94,70.42 A36.3,36.3 0 0 0 467.41,72.86 Z" fill="#f9d0c8"/>
<path d="M465.7,70.28 A37.5,37.5 0 0 1 465.41,67.73 L466.61,67.63 A36.3,36.3 0 0 0 466.89,70.1 Z" fill="#f7c0b6"/>
<path d="M465.39,67.4 A37.5,37.5 0 0 1 465.3,64.83 L466.5,64.83 A36.3,36.3 0 0 0 466.59,67.32 Z" fill="#f9d0c8"/>
<path d="M465.3,64.51 A37.5,37.5 0 0 1 465.41,61.94 L466.61,62.03 A36.3,36.3 0 0 0 466.5,64.51 Z" fill="#fbe0da"/>
<path d="M465.44,61.61 A37.5,37.5 0 0 1 465.74,59.06 L466.93,59.25 A36.3,36.3 0 0 0 466.63,61.72 Z" fill="#f7c0b6"/>
<path d="M465.79,58.74 A37.5,37.5 0 0 1 466.29,56.22 L467.46,56.5 A36.3,36.3 0 0 0 466.98,58.93 Z" fill="#f7c0b6"/>
<path d="M466.37,55.9 A37.5,37.5 0 0 1 467.07,53.43 L468.21,53.79 A36.3,36.3 0 0 0 467.54,56.19 Z" fill="#d6eef6"/>
<path d="M467.17,53.12 A37.5,37.5 0 0 1 468.05,50.71 L469.16,51.16 A36.3,36.3 0 0 0 468.31,53.49 Z" fill="#d6eef6"/>
<path d="M468.17,50.4 A37.5,37.5 0 0 1 469.24,48.07 L470.31,48.6 A36.3,36.3 0 0 0 469.28,50.86 Z" fill="#f7c0b6"/>
<path d="M469.39,47.78 A37.5,37.5 0 0 1 470.63,45.53 L471.66,46.14 A36.3,36.3 0 0 0 470.46,48.32 Z" fill="#fbe0da"/>
<path d="M470.8,45.25 A37.5,37.5 0 0 1 472.21,43.1 L473.19,43.8 A36.3,36.3 0 0 0 471.82,45.87 Z" fill="#fbe0da"/>
<path d="M472.4,42.84 A37.5,37.5 0 0 1 473.98,40.81 L474.9,41.58 A36.3,36.3 0 0 0 473.38,43.54 Z" fill="#fbe0da"/>
<path d="M474.19,40.56 A37.5,37.5 0 0 1 475.92,38.66 L476.78,39.49 A36.3,36.3 0 0 0 475.1,41.33 Z" fill="#d6eef6"/>
<path d="M476.15,38.42 A37.5,37.5 0 0 1 478.01,36.66 L478.81,37.56 A36.3,36.3 0 0 0 477,39.27 Z" fill="#fbe0da"/>
<path d="M478.26,36.44 A37.5,37.5 0 0 1 480.26,34.83 L480.98,35.79 A36.3,36.3 0 0 0 479.04,37.35 Z" fill="#fbe0da"/>
<path d="M480.52,34.64 A37.5,37.5 0 0 1 482.64,33.18 L483.28,34.19 A36.3,36.3 0 0 0 481.23,35.6 Z" fill="#f9d0c8"/>
<path d="M482.91,33.01 A37.5,37.5 0 0 1 485.14,31.72 L485.7,32.78 A36.3,36.3 0 0 0 483.55,34.02 Z" fill="#d6eef6"/>
<path d="M485.43,31.57 A37.5,37.5 0 0 1 487.74,30.46 L488.22,31.56 A36.3,36.3 0 0 0 485.98,32.63 Z" fill="#d6eef6"/>
<path d="M488.04,30.33 A37.5,37.5 0 0 1 490.44,29.4 L490.83,30.53 A36.3,36.3 0 0 0 488.51,31.43 Z" fill="#fbe0da"/>
<rect x="504.89" y="102.97" width="0.9" height="0.9" fill="#40c0e8"/>
<rect x="486.6" y="99.7" width="0.9" height="0.9" fill="#f06050"/>
<rect x="471.81" y="40.58" width="0.9" height="0.9" fill="#f6a090"/>
<rect x="499.25" y="102.93" width="0.9" height="0.9" fill="#f6a090"/>
<rect x="465.84" y="51.51" width="0.9" height="0.9" fill="#f06050"/>
<rect x="482.37" y="97.49" width="0.9" height="0.9" fill="#f06050"/>
<rect x="468.67" y="83.42" width="0.9" height="0.9" fill="#f6a090"/>
<rect x="465.12" y="74.91" width="0.9" height="0.9" fill="#f06050"/>
<rect x="470.87" y="41.83" width="0.9" height="0.9" fill="#40c0e8"/>
<rect x="476.48" y="35.57" width="0.9" height="0.9" fill="#f06050"/>
<text x="505" y="19.9" font-size="5.6" text-anchor="middle" fill="#222" stroke="#222" stroke-width="0.06" >GO:0007409</text>
<text x="504.5" y="24.35" font-size="5.6" text-anchor="middle" fill="#222" stroke="#222" stroke-width="0.06" >axonogenesis</text>
<path d="M536.61 160.3A35.5 35.5 0 0 1 537.24 162.22Q503.2 172.3 469.45 161.3A35.5 35.5 0 0 1 470.33 158.9Q503.2 172.3 536.61 160.3Z" fill="#8d9fca" fill-opacity="0.9"/>
<path d="M526.14 145.21A35.5 35.5 0 0 1 526.95 145.92Q503.2 172.3 478.66 197.95A35.5 35.5 0 0 1 477.75 197.05Q503.2 172.3 526.14 145.21Z" fill="#f79a8a" fill-opacity="0.9"/>
<path d="M505.4 136.87A35.5 35.5 0 0 1 506.67 136.97Q503.2 172.3 468.96 181.66A35.5 35.5 0 0 1 468.64 180.42Q503.2 172.3 505.4 136.87Z" fill="#80d0e6" fill-opacity="0.9"/>
<path d="M532.4 152.11A35.5 35.5 0 0 1 532.86 152.79Q503.2 172.3 477.92 147.37A35.5 35.5 0 0 1 478.84 146.48Q503.2 172.3 532.4 152.11Z" fill="#48c6b0" fill-opacity="0.9"/>
<path d="M532.86 152.79A35.5 35.5 0 0 1 533.31 153.49Q503.2 172.3 470.4 158.73A35.5 35.5 0 0 1 471.46 156.4Q503.2 172.3 532.86 152.79Z" fill="#48c6b0" fill-opacity="0.9"/>
<path d="M519.87 140.96A35.5 35.5 0 0 1 520.82 141.48Q503.2 172.3 468.7 163.94A35.5 35.5 0 0 1 469.02 162.7Q503.2 172.3 519.87 140.96Z" fill="#f79a8a" fill-opacity="0.9"/>
<path d="M535.11 187.86A35.5 35.5 0 0 1 534.35 189.33Q503.2 172.3 481.71 200.56A35.5 35.5 0 0 1 481.04 200.03Q503.2 172.3 535.11 187.86Z" fill="#f88484" fill-opacity="0.9"/>
<path d="M535.29 157.11A35.5 35.5 0 0 1 535.63 157.86Q503.2 172.3 502.05 207.78A35.5 35.5 0 0 1 500.78 207.72Q503.2 172.3 535.29 157.11Z" fill="#48c6b0" fill-opacity="0.9"/>
<path d="M538.45 168.13A35.5 35.5 0 0 1 538.63 170.13Q503.2 172.3 480.38 199.49A35.5 35.5 0 0 1 479.74 198.94Q503.2 172.3 538.45 168.13Z" fill="#8d9fca" fill-opacity="0.9"/>
<path d="M530.39 149.48A35.5 35.5 0 0 1 530.92 150.12Q503.2 172.3 490.36 139.21A35.5 35.5 0 0 1 491.55 138.76Q503.2 172.3 530.39 149.48Z" fill="#48c6b0" fill-opacity="0.9"/>
<path d="M538.61 174.78A35.5 35.5 0 0 1 538.51 176.01Q503.2 172.3 471.54 156.24A35.5 35.5 0 0 1 472.14 155.11Q503.2 172.3 538.61 174.78Z" fill="#f9c2b2" fill-opacity="0.9"/>
<path d="M533.52 190.76A35.5 35.5 0 0 1 532.63 192.15Q503.2 172.3 500.78 207.72A35.5 35.5 0 0 1 499.5 207.61Q503.2 172.3 533.52 190.76Z" fill="#f88484" fill-opacity="0.9"/>
<path d="M524.44 143.86A35.5 35.5 0 0 1 525.3 144.52Q503.2 172.3 472.65 190.38A35.5 35.5 0 0 1 471.43 188.14Q503.2 172.3 524.44 143.86Z" fill="#f79a8a" fill-opacity="0.9"/>
<path d="M518.9 140.46A35.5 35.5 0 0 1 519.87 140.96Q503.2 172.3 474.39 151.56A35.5 35.5 0 0 1 475.15 150.54Q503.2 172.3 518.9 140.46Z" fill="#f79a8a" fill-opacity="0.9"/>
<path d="M520.68 203.2A35.5 35.5 0 0 1 515.34 205.66Q503.2 172.3 492.71 206.21A35.5 35.5 0 0 1 491.5 205.82Q503.2 172.3 520.68 203.2Z" fill="#aae2a2" fill-opacity="0.9"/>
<path d="M501.58 136.84A35.5 35.5 0 0 1 502.86 136.8Q503.2 172.3 467.82 169.34A35.5 35.5 0 0 1 467.95 168.07Q503.2 172.3 501.58 136.84Z" fill="#80d0e6" fill-opacity="0.9"/>
<path d="M531.92 151.43A35.5 35.5 0 0 1 532.4 152.11Q503.2 172.3 479.92 145.5A35.5 35.5 0 0 1 480.9 144.68Q503.2 172.3 531.92 151.43Z" fill="#48c6b0" fill-opacity="0.9"/>
<path d="M537.75 164.16A35.5 35.5 0 0 1 538.16 166.14Q503.2 172.3 468.6 180.24A35.5 35.5 0 0 1 468.34 178.99Q503.2 172.3 537.75 164.16Z" fill="#8d9fca" fill-opacity="0.9"/>
<path d="M534.92 156.37A35.5 35.5 0 0 1 535.29 157.11Q503.2 172.3 498.05 207.42A35.5 35.5 0 0 1 496.79 207.22Q503.2 172.3 534.92 156.37Z" fill="#48c6b0" fill-opacity="0.9"/>
<path d="M497.78 137.22A35.5 35.5 0 0 1 499.04 137.04Q503.2 172.3 473.56 152.76A35.5 35.5 0 0 1 474.28 151.71Q503.2 172.3 497.78 137.22Z" fill="#80d0e6" fill-opacity="0.9"/>
<path d="M538.16 166.14A35.5 35.5 0 0 1 538.45 168.13Q503.2 172.3 479.6 198.82A35.5 35.5 0 0 1 478.66 197.95Q503.2 172.3 538.16 166.14Z" fill="#8d9fca" fill-opacity="0.9"/>
<path d="M537.38 181.89A35.5 35.5 0 0 1 536.49 184.64Q503.2 172.3 469.32 182.89A35.5 35.5 0 0 1 468.96 181.66Q503.2 172.3 537.38 181.89Z" fill="#a9b9d8" fill-opacity="0.9"/>
<path d="M512.92 138.16A35.5 35.5 0 0 1 514.14 138.53Q503.2 172.3 482.9 201.42A35.5 35.5 0 0 1 481.86 200.67Q503.2 172.3 512.92 138.16Z" fill="#80d0e6" fill-opacity="0.9"/>
<path d="M492.82 138.35A35.5 35.5 0 0 1 494.05 138Q503.2 172.3 489.17 139.69A35.5 35.5 0 0 1 490.36 139.21Q503.2 172.3 492.82 138.35Z" fill="#80d0e6" fill-opacity="0.9"/>
<path d="M536.49 184.64A35.5 35.5 0 0 1 535.37 187.3Q503.2 172.3 486.32 203.53A35.5 35.5 0 0 1 484.11 202.23Q503.2 172.3 536.49 184.64Z" fill="#a9b9d8" fill-opacity="0.9"/>
<path d="M534.35 189.33A35.5 35.5 0 0 1 533.52 190.76Q503.2 172.3 493.94 206.57A35.5 35.5 0 0 1 492.71 206.21Q503.2 172.3 534.35 189.33Z" fill="#f88484" fill-opacity="0.9"/>
<path d="M527.75 146.66A35.5 35.5 0 0 1 528.52 147.42Q503.2 172.3 491.32 205.75A35.5 35.5 0 0 1 490.52 205.46Q503.2 172.3 527.75 146.66Z" fill="#f79a8a" fill-opacity="0.9"/>
<path d="M511.69 137.83A35.5 35.5 0 0 1 512.92 138.16Q503.2 172.3 481.04 200.03A35.5 35.5 0 0 1 480.38 199.49Q503.2 172.3 511.69 137.83Z" fill="#80d0e6" fill-opacity="0.9"/>
<path d="M538.05 179.07A35.5 35.5 0 0 1 537.38 181.89Q503.2 172.3 467.79 174.82A35.5 35.5 0 0 1 467.7 172.27Q503.2 172.3 538.05 179.07Z" fill="#a9b9d8" fill-opacity="0.9"/>
<path d="M515.92 139.16A35.5 35.5 0 0 1 516.93 139.56Q503.2 172.3 483.1 143.04A35.5 35.5 0 0 1 484.17 142.33Q503.2 172.3 515.92 139.16Z" fill="#f79a8a" fill-opacity="0.9"/>
<path d="M523.56 143.22A35.5 35.5 0 0 1 524.44 143.86Q503.2 172.3 470.8 186.82A35.5 35.5 0 0 1 470.3 185.64Q503.2 172.3 523.56 143.22Z" fill="#f79a8a" fill-opacity="0.9"/>
<path d="M504.13 136.81A35.5 35.5 0 0 1 505.4 136.87Q503.2 172.3 468.34 178.99A35.5 35.5 0 0 1 468.12 177.73Q503.2 172.3 504.13 136.81Z" fill="#80d0e6" fill-opacity="0.9"/>
<path d="M534.15 154.91A35.5 35.5 0 0 1 534.54 155.63Q503.2 172.3 488.78 204.74A35.5 35.5 0 0 1 487.62 204.2Q503.2 172.3 534.15 154.91Z" fill="#48c6b0" fill-opacity="0.9"/>
<path d="M538.51 176.01A35.5 35.5 0 0 1 538.35 177.24Q503.2 172.3 469.02 162.7A35.5 35.5 0 0 1 469.39 161.48Q503.2 172.3 538.51 176.01Z" fill="#f9c2b2" fill-opacity="0.9"/>
<path d="M517.92 140A35.5 35.5 0 0 1 518.9 140.46Q503.2 172.3 476.08 149.4A35.5 35.5 0 0 1 477.79 147.51Q503.2 172.3 517.92 140Z" fill="#f79a8a" fill-opacity="0.9"/>
<path d="M532.28 192.66A35.5 35.5 0 0 1 530.39 195.12Q503.2 172.3 471.35 187.97A35.5 35.5 0 0 1 470.8 186.82Q503.2 172.3 532.28 192.66Z" fill="#c6afa2" fill-opacity="0.9"/>
<path d="M538.63 170.13A35.5 35.5 0 0 1 538.7 172.15Q503.2 172.3 499.32 207.59A35.5 35.5 0 0 1 498.05 207.42Q503.2 172.3 538.63 170.13Z" fill="#8d9fca" fill-opacity="0.9"/>
<path d="M522.66 142.61A35.5 35.5 0 0 1 523.56 143.22Q503.2 172.3 468.09 177.55A35.5 35.5 0 0 1 467.8 175.01Q503.2 172.3 522.66 142.61Z" fill="#f79a8a" fill-opacity="0.9"/>
<path d="M538.35 177.24A35.5 35.5 0 0 1 538.16 178.46Q503.2 172.3 487.62 204.2A35.5 35.5 0 0 1 486.48 203.62Q503.2 172.3 538.35 177.24Z" fill="#f9c2b2" fill-opacity="0.9"/>
<path d="M516.93 139.56A35.5 35.5 0 0 1 517.92 140Q503.2 172.3 480.9 144.68A35.5 35.5 0 0 1 481.91 143.89Q503.2 172.3 516.93 139.56Z" fill="#f79a8a" fill-opacity="0.9"/>
<path d="M507.94 137.12A35.5 35.5 0 0 1 509.19 137.31Q503.2 172.3 474.14 192.69A35.5 35.5 0 0 1 472.75 190.54Q503.2 172.3 507.94 137.12Z" fill="#80d0e6" fill-opacity="0.9"/>
<path d="M509.19 137.31A35.5 35.5 0 0 1 510.45 137.55Q503.2 172.3 475.8 194.87A35.5 35.5 0 0 1 475 193.87Q503.2 172.3 509.19 137.31Z" fill="#80d0e6" fill-opacity="0.9"/>
<path d="M514.14 138.53A35.5 35.5 0 0 1 515.34 138.94Q503.2 172.3 489.73 205.14A35.5 35.5 0 0 1 488.95 204.81Q503.2 172.3 514.14 138.53Z" fill="#80d0e6" fill-opacity="0.9"/>
<path d="M525.3 144.52A35.5 35.5 0 0 1 526.14 145.21Q503.2 172.3 475 193.87A35.5 35.5 0 0 1 474.25 192.84Q503.2 172.3 525.3 144.52Z" fill="#f79a8a" fill-opacity="0.9"/>
<path d="M502.86 136.8A35.5 35.5 0 0 1 504.13 136.81Q503.2 172.3 467.7 172.08A35.5 35.5 0 0 1 467.73 170.81Q503.2 172.3 502.86 136.8Z" fill="#80d0e6" fill-opacity="0.9"/>
<path d="M529.27 148.2A35.5 35.5 0 0 1 529.99 149.01Q503.2 172.3 510.23 207.1A35.5 35.5 0 0 1 508.98 207.33Q503.2 172.3 529.27 148.2Z" fill="#f79a8a" fill-opacity="0.9"/>
<path d="M533.74 154.19A35.5 35.5 0 0 1 534.15 154.91Q503.2 172.3 469.78 184.27A35.5 35.5 0 0 1 469.37 183.06Q503.2 172.3 533.74 154.19Z" fill="#48c6b0" fill-opacity="0.9"/>
<path d="M538.7 172.15A35.5 35.5 0 0 1 538.65 174.16Q503.2 172.3 507.53 207.54A35.5 35.5 0 0 1 504.98 207.76Q503.2 172.3 538.7 172.15Z" fill="#8d9fca" fill-opacity="0.9"/>
<path d="M496.53 137.43A35.5 35.5 0 0 1 497.78 137.22Q503.2 172.3 475.15 150.54A35.5 35.5 0 0 1 475.96 149.54Q503.2 172.3 496.53 137.43Z" fill="#80d0e6" fill-opacity="0.9"/>
<path d="M526.95 145.92A35.5 35.5 0 0 1 527.75 146.66Q503.2 172.3 483.96 202.13A35.5 35.5 0 0 1 482.9 201.42Q503.2 172.3 526.95 145.92Z" fill="#f79a8a" fill-opacity="0.9"/>
<path d="M531.43 150.77A35.5 35.5 0 0 1 531.92 151.43Q503.2 172.3 482.06 143.78A35.5 35.5 0 0 1 483.1 143.04Q503.2 172.3 531.43 150.77Z" fill="#48c6b0" fill-opacity="0.9"/>
<path d="M521.75 142.03A35.5 35.5 0 0 1 522.66 142.61Q503.2 172.3 467.95 168.07A35.5 35.5 0 0 1 468.13 166.81Q503.2 172.3 521.75 142.03Z" fill="#f79a8a" fill-opacity="0.9"/>
<path d="M510.45 137.55A35.5 35.5 0 0 1 511.69 137.83Q503.2 172.3 477.62 196.92A35.5 35.5 0 0 1 475.92 195.01Q503.2 172.3 510.45 137.55Z" fill="#80d0e6" fill-opacity="0.9"/>
<path d="M533.31 153.49A35.5 35.5 0 0 1 533.74 154.19Q503.2 172.3 468.3 165.78A35.5 35.5 0 0 1 468.47 164.95Q503.2 172.3 533.31 153.49Z" fill="#48c6b0" fill-opacity="0.9"/>
<path d="M528.3 197.4A35.5 35.5 0 0 1 526.02 199.49Q503.2 172.3 512.9 206.45A35.5 35.5 0 0 1 510.41 207.06Q503.2 172.3 528.3 197.4Z" fill="#c6afa2" fill-opacity="0.9"/>
<path d="M534.54 155.63A35.5 35.5 0 0 1 534.92 156.37Q503.2 172.3 496.61 207.18A35.5 35.5 0 0 1 494.12 206.62Q503.2 172.3 534.54 155.63Z" fill="#48c6b0" fill-opacity="0.9"/>
<path d="M499.04 137.04A35.5 35.5 0 0 1 500.31 136.92Q503.2 172.3 472.14 155.11A35.5 35.5 0 0 1 472.78 154Q503.2 172.3 499.04 137.04Z" fill="#80d0e6" fill-opacity="0.9"/>
<path d="M500.31 136.92A35.5 35.5 0 0 1 501.58 136.84Q503.2 172.3 468.47 164.95A35.5 35.5 0 0 1 468.66 164.12Q503.2 172.3 500.31 136.92Z" fill="#80d0e6" fill-opacity="0.9"/>
<path d="M506.67 136.97A35.5 35.5 0 0 1 507.94 137.12Q503.2 172.3 470.23 185.47A35.5 35.5 0 0 1 469.78 184.27Q503.2 172.3 506.67 136.97Z" fill="#80d0e6" fill-opacity="0.9"/>
<path d="M537.24 162.22A35.5 35.5 0 0 1 537.75 164.16Q503.2 172.3 467.73 170.81A35.5 35.5 0 0 1 467.81 169.53Q503.2 172.3 537.24 162.22Z" fill="#8d9fca" fill-opacity="0.9"/>
<path d="M530.39 195.12A35.5 35.5 0 0 1 528.3 197.4Q503.2 172.3 508.98 207.33A35.5 35.5 0 0 1 507.71 207.51Q503.2 172.3 530.39 195.12Z" fill="#c6afa2" fill-opacity="0.9"/>
<path d="M528.52 147.42A35.5 35.5 0 0 1 529.27 148.2Q503.2 172.3 504.79 207.76A35.5 35.5 0 0 1 502.24 207.79Q503.2 172.3 528.52 147.42Z" fill="#f79a8a" fill-opacity="0.9"/>
<path d="M530.92 150.12A35.5 35.5 0 0 1 531.43 150.77Q503.2 172.3 486.7 140.87A35.5 35.5 0 0 1 489 139.76Q503.2 172.3 530.92 150.12Z" fill="#48c6b0" fill-opacity="0.9"/>
<path d="M495.28 137.69A35.5 35.5 0 0 1 496.53 137.43Q503.2 172.3 478.84 146.48A35.5 35.5 0 0 1 479.78 145.62Q503.2 172.3 495.28 137.69Z" fill="#80d0e6" fill-opacity="0.9"/>
<path d="M525.54 199.89A35.5 35.5 0 0 1 520.68 203.2Q503.2 172.3 490.52 205.46A35.5 35.5 0 0 1 489.73 205.14Q503.2 172.3 525.54 199.89Z" fill="#aae2a2" fill-opacity="0.9"/>
<path d="M535.88 158.43A35.5 35.5 0 0 1 536.61 160.3Q503.2 172.3 472.87 153.84A35.5 35.5 0 0 1 473.56 152.76Q503.2 172.3 535.88 158.43Z" fill="#8d9fca" fill-opacity="0.9"/>
<path d="M494.05 138A35.5 35.5 0 0 1 495.28 137.69Q503.2 172.3 484.32 142.24A35.5 35.5 0 0 1 486.53 140.96Q503.2 172.3 494.05 138Z" fill="#80d0e6" fill-opacity="0.9"/>
<path d="M520.82 141.48A35.5 35.5 0 0 1 521.75 142.03Q503.2 172.3 468.16 166.62A35.5 35.5 0 0 1 468.3 165.78Q503.2 172.3 520.82 141.48Z" fill="#f79a8a" fill-opacity="0.9"/>
<path d="M492.24,136.44 A37.5,37.5 0 0 1 516.03,137.06 L515.34,138.94 A35.5,35.5 0 0 0 492.82,138.35 Z" fill="#1a9fc2"/>
<path d="M516.64,137.29 A37.5,37.5 0 0 1 531.5,147.7 L529.99,149.01 A35.5,35.5 0 0 0 515.92,139.16 Z" fill="#e03a2a"/>
<path d="M531.93,148.2 A37.5,37.5 0 0 1 537.46,157.05 L535.63,157.86 A35.5,35.5 0 0 0 530.39,149.48 Z" fill="#1a9a82"/>
<path d="M537.72,157.65 A37.5,37.5 0 0 1 540.65,174.26 L538.65,174.16 A35.5,35.5 0 0 0 535.88,158.43 Z" fill="#2b4a8e"/>
<path d="M540.61,174.92 A37.5,37.5 0 0 1 540.13,178.81 L538.16,178.46 A35.5,35.5 0 0 0 538.61,174.78 Z" fill="#f07a5a"/>
<path d="M540.01,179.46 A37.5,37.5 0 0 1 537.19,188.15 L535.37,187.3 A35.5,35.5 0 0 0 538.05,179.07 Z" fill="#6e86b8"/>
<path d="M536.9,188.74 A37.5,37.5 0 0 1 534.29,193.27 L532.63,192.15 A35.5,35.5 0 0 0 535.11,187.86 Z" fill="#e02222"/>
<path d="M533.92,193.81 A37.5,37.5 0 0 1 527.3,201.03 L526.02,199.49 A35.5,35.5 0 0 0 532.28,192.66 Z" fill="#8a6a58"/>
<path d="M526.8,201.44 A37.5,37.5 0 0 1 516.03,207.54 L515.34,205.66 A35.5,35.5 0 0 0 525.54,199.89 Z" fill="#5ac050"/>
<path d="M513.3,208.1 A37.2,37.2 0 0 1 510.82,208.71 L510.58,207.54 A36,36 0 0 0 512.97,206.95 Z" fill="#fbe0da"/>
<path d="M510.51,208.78 A37.2,37.2 0 0 1 507.99,209.19 L507.84,208 A36,36 0 0 0 510.27,207.6 Z" fill="#f7c0b6"/>
<path d="M507.67,209.23 A37.2,37.2 0 0 1 505.13,209.45 L505.07,208.25 A36,36 0 0 0 507.52,208.04 Z" fill="#fbe0da"/>
<path d="M504.81,209.47 A37.2,37.2 0 0 1 502.26,209.49 L502.29,208.29 A36,36 0 0 0 504.75,208.27 Z" fill="#d6eef6"/>
<path d="M501.93,209.48 A37.2,37.2 0 0 1 499.39,209.3 L499.52,208.11 A36,36 0 0 0 501.98,208.28 Z" fill="#f9d0c8"/>
<path d="M499.07,209.27 A37.2,37.2 0 0 1 496.55,208.9 L496.76,207.72 A36,36 0 0 0 499.2,208.08 Z" fill="#d6eef6"/>
<path d="M496.23,208.84 A37.2,37.2 0 0 1 493.74,208.28 L494.05,207.12 A36,36 0 0 0 496.45,207.66 Z" fill="#fbe0da"/>
<path d="M493.43,208.19 A37.2,37.2 0 0 1 491,207.44 L491.39,206.31 A36,36 0 0 0 493.75,207.04 Z" fill="#d6eef6"/>
<path d="M490.69,207.33 A37.2,37.2 0 0 1 488.32,206.4 L488.8,205.3 A36,36 0 0 0 491.09,206.2 Z" fill="#f9d0c8"/>
<path d="M488.02,206.26 A37.2,37.2 0 0 1 485.74,205.15 L486.3,204.09 A36,36 0 0 0 488.51,205.17 Z" fill="#f9d0c8"/>
<path d="M485.45,204.99 A37.2,37.2 0 0 1 483.25,203.7 L483.9,202.69 A36,36 0 0 0 486.02,203.94 Z" fill="#f9d0c8"/>
<path d="M482.98,203.53 A37.2,37.2 0 0 1 480.89,202.07 L481.61,201.11 A36,36 0 0 0 483.63,202.52 Z" fill="#d6eef6"/>
<path d="M480.63,201.87 A37.2,37.2 0 0 1 478.66,200.26 L479.45,199.36 A36,36 0 0 0 481.36,200.92 Z" fill="#d6eef6"/>
<path d="M478.42,200.04 A37.2,37.2 0 0 1 476.58,198.28 L477.44,197.44 A36,36 0 0 0 479.22,199.15 Z" fill="#fbe0da"/>
<path d="M476.35,198.05 A37.2,37.2 0 0 1 474.65,196.15 L475.57,195.38 A36,36 0 0 0 477.22,197.22 Z" fill="#f7c0b6"/>
<path d="M474.44,195.9 A37.2,37.2 0 0 1 472.9,193.88 L473.87,193.18 A36,36 0 0 0 475.37,195.14 Z" fill="#fbe0da"/>
<path d="M472.71,193.61 A37.2,37.2 0 0 1 471.32,191.47 L472.35,190.85 A36,36 0 0 0 473.69,192.92 Z" fill="#fbe0da"/>
<path d="M471.16,191.19 A37.2,37.2 0 0 1 469.94,188.96 L471.01,188.42 A36,36 0 0 0 472.19,190.58 Z" fill="#f9d0c8"/>
<path d="M469.79,188.67 A37.2,37.2 0 0 1 468.75,186.34 L469.86,185.89 A36,36 0 0 0 470.87,188.14 Z" fill="#f9d0c8"/>
<path d="M468.63,186.04 A37.2,37.2 0 0 1 467.77,183.64 L468.91,183.28 A36,36 0 0 0 469.75,185.6 Z" fill="#fbe0da"/>
<path d="M467.67,183.33 A37.2,37.2 0 0 1 467,180.87 L468.17,180.6 A36,36 0 0 0 468.82,182.98 Z" fill="#d6eef6"/>
<path d="M466.93,180.56 A37.2,37.2 0 0 1 466.45,178.06 L467.63,177.87 A36,36 0 0 0 468.1,180.29 Z" fill="#f9d0c8"/>
<path d="M466.4,177.73 A37.2,37.2 0 0 1 466.11,175.2 L467.31,175.11 A36,36 0 0 0 467.59,177.56 Z" fill="#f7c0b6"/>
<path d="M466.09,174.88 A37.2,37.2 0 0 1 466,172.33 L467.2,172.33 A36,36 0 0 0 467.29,174.8 Z" fill="#f9d0c8"/>
<path d="M466,172.01 A37.2,37.2 0 0 1 466.11,169.46 L467.3,169.55 A36,36 0 0 0 467.2,172.02 Z" fill="#f9d0c8"/>
<path d="M466.13,169.14 A37.2,37.2 0 0 1 466.44,166.61 L467.62,166.79 A36,36 0 0 0 467.33,169.24 Z" fill="#f9d0c8"/>
<path d="M466.49,166.29 A37.2,37.2 0 0 1 466.99,163.79 L468.15,164.06 A36,36 0 0 0 467.67,166.48 Z" fill="#fbe0da"/>
<path d="M467.06,163.47 A37.2,37.2 0 0 1 467.75,161.02 L468.89,161.38 A36,36 0 0 0 468.23,163.76 Z" fill="#f9d0c8"/>
<path d="M467.85,160.71 A37.2,37.2 0 0 1 468.73,158.32 L469.84,158.77 A36,36 0 0 0 468.99,161.09 Z" fill="#f9d0c8"/>
<path d="M468.85,158.02 A37.2,37.2 0 0 1 469.91,155.7 L470.98,156.24 A36,36 0 0 0 469.96,158.48 Z" fill="#f9d0c8"/>
<path d="M470.05,155.41 A37.2,37.2 0 0 1 471.29,153.18 L472.32,153.8 A36,36 0 0 0 471.12,155.96 Z" fill="#f9d0c8"/>
<path d="M471.46,152.9 A37.2,37.2 0 0 1 472.86,150.78 L473.84,151.47 A36,36 0 0 0 472.48,153.53 Z" fill="#f9d0c8"/>
<path d="M473.05,150.51 A37.2,37.2 0 0 1 474.61,148.5 L475.53,149.27 A36,36 0 0 0 474.02,151.22 Z" fill="#fbe0da"/>
<path d="M474.82,148.25 A37.2,37.2 0 0 1 476.53,146.37 L477.39,147.2 A36,36 0 0 0 475.73,149.03 Z" fill="#fbe0da"/>
<path d="M476.76,146.13 A37.2,37.2 0 0 1 478.61,144.39 L479.4,145.29 A36,36 0 0 0 477.61,146.98 Z" fill="#f9d0c8"/>
<path d="M478.86,144.17 A37.2,37.2 0 0 1 480.84,142.57 L481.56,143.53 A36,36 0 0 0 479.64,145.08 Z" fill="#f7c0b6"/>
<path d="M481.1,142.38 A37.2,37.2 0 0 1 483.2,140.93 L483.84,141.95 A36,36 0 0 0 481.81,143.34 Z" fill="#f9d0c8"/>
<path d="M483.47,140.76 A37.2,37.2 0 0 1 485.68,139.48 L486.24,140.54 A36,36 0 0 0 484.11,141.78 Z" fill="#d6eef6"/>
<path d="M485.97,139.33 A37.2,37.2 0 0 1 488.26,138.23 L488.74,139.33 A36,36 0 0 0 486.52,140.4 Z" fill="#fbe0da"/>
<path d="M488.56,138.1 A37.2,37.2 0 0 1 490.94,137.18 L491.33,138.31 A36,36 0 0 0 489.03,139.2 Z" fill="#d6eef6"/>
<rect x="465.27" y="163.47" width="0.9" height="0.9" fill="#40c0e8"/>
<rect x="499.02" y="210.07" width="0.9" height="0.9" fill="#f06050"/>
<rect x="477.22" y="143.16" width="0.9" height="0.9" fill="#40c0e8"/>
<rect x="506.11" y="210.1" width="0.9" height="0.9" fill="#40c0e8"/>
<rect x="464.41" y="169.69" width="0.9" height="0.9" fill="#f06050"/>
<rect x="487.32" y="136.69" width="0.9" height="0.9" fill="#f6a090"/>
<rect x="465.4" y="162.91" width="0.9" height="0.9" fill="#f6a090"/>
<rect x="499.05" y="210.07" width="0.9" height="0.9" fill="#40c0e8"/>
<rect x="483.59" y="138.57" width="0.9" height="0.9" fill="#f6a090"/>
<rect x="473.35" y="147.14" width="0.9" height="0.9" fill="#40c0e8"/>
<text x="505.6" y="126.6" font-size="5.6" text-anchor="middle" fill="#222" stroke="#222" stroke-width="0.06" >GO:0030900</text>
<text x="502.5" y="131.55" font-size="5.6" text-anchor="middle" fill="#222" stroke="#222" stroke-width="0.06" >forebrain development</text>
<path d="M533.97 258.11A35.7 35.7 0 0 1 534.71 259.04Q506.4 280.8 470.93 284.8A35.7 35.7 0 0 1 470.8 283.52Q506.4 280.8 533.97 258.11Z" fill="#48c6b0" fill-opacity="0.9"/>
<path d="M537.62 298.11A35.7 35.7 0 0 1 535.28 301.78Q506.4 280.8 472.65 292.44A35.7 35.7 0 0 1 472.38 291.62Q506.4 280.8 537.62 298.11Z" fill="#f88484" fill-opacity="0.9"/>
<path d="M536.09 260.98A35.7 35.7 0 0 1 536.74 261.98Q506.4 280.8 490.73 312.88A35.7 35.7 0 0 1 489.58 312.29Q506.4 280.8 536.09 260.98Z" fill="#48c6b0" fill-opacity="0.9"/>
<path d="M503.91 245.19A35.7 35.7 0 0 1 505.15 245.12Q506.4 280.8 480.98 255.73A35.7 35.7 0 0 1 481.9 254.83Q506.4 280.8 503.91 245.19Z" fill="#80d0e6" fill-opacity="0.9"/>
<path d="M540.94 271.76A35.7 35.7 0 0 1 541.24 273.01Q506.4 280.8 470.79 283.34A35.7 35.7 0 0 1 470.74 282.48Q506.4 280.8 540.94 271.76Z" fill="#8d9fca" fill-opacity="0.9"/>
<path d="M523.79 249.62A35.7 35.7 0 0 1 524.52 250.04Q506.4 280.8 470.71 281.63A35.7 35.7 0 0 1 470.7 280.77Q506.4 280.8 523.79 249.62Z" fill="#f79a8a" fill-opacity="0.9"/>
<path d="M525.24 250.48A35.7 35.7 0 0 1 525.96 250.93Q506.4 280.8 471.6 288.79A35.7 35.7 0 0 1 471.34 287.53Q506.4 280.8 525.24 250.48Z" fill="#f79a8a" fill-opacity="0.9"/>
<path d="M527.35 251.89A35.7 35.7 0 0 1 528.03 252.4Q506.4 280.8 487.05 310.8A35.7 35.7 0 0 1 484.94 309.33Q506.4 280.8 527.35 251.89Z" fill="#f79a8a" fill-opacity="0.9"/>
<path d="M519.98 247.78A35.7 35.7 0 0 1 520.76 248.11Q506.4 280.8 490.57 248.8A35.7 35.7 0 0 1 491.34 248.43Q506.4 280.8 519.98 247.78Z" fill="#f79a8a" fill-opacity="0.9"/>
<path d="M541.71 275.52A35.7 35.7 0 0 1 541.87 276.79Q506.4 280.8 474 295.79A35.7 35.7 0 0 1 473.65 295.01Q506.4 280.8 541.71 275.52Z" fill="#8d9fca" fill-opacity="0.9"/>
<path d="M540.59 270.53A35.7 35.7 0 0 1 540.94 271.76Q506.4 280.8 471.39 273.83A35.7 35.7 0 0 1 471.66 272.57Q506.4 280.8 540.59 270.53Z" fill="#8d9fca" fill-opacity="0.9"/>
<path d="M533.75 303.75A35.7 35.7 0 0 1 532.51 305.15Q506.4 280.8 502.5 316.29A35.7 35.7 0 0 1 499.96 315.91Q506.4 280.8 533.75 303.75Z" fill="#c6afa2" fill-opacity="0.9"/>
<path d="M532.51 305.15A35.7 35.7 0 0 1 531.2 306.48Q506.4 280.8 505.25 316.48A35.7 35.7 0 0 1 503.96 316.42Q506.4 280.8 532.51 305.15Z" fill="#c6afa2" fill-opacity="0.9"/>
<path d="M531.2 306.48A35.7 35.7 0 0 1 529.82 307.74Q506.4 280.8 506.72 316.5A35.7 35.7 0 0 1 505.43 316.49Q506.4 280.8 531.2 306.48Z" fill="#c6afa2" fill-opacity="0.9"/>
<path d="M515.04 246.16A35.7 35.7 0 0 1 516.24 246.48Q506.4 280.8 484.79 309.22A35.7 35.7 0 0 1 482.8 307.59Q506.4 280.8 515.04 246.16Z" fill="#80d0e6" fill-opacity="0.9"/>
<path d="M502.67 245.3A35.7 35.7 0 0 1 503.91 245.19Q506.4 280.8 486.19 251.37A35.7 35.7 0 0 1 487.26 250.67Q506.4 280.8 502.67 245.3Z" fill="#80d0e6" fill-opacity="0.9"/>
<path d="M501.43 245.45A35.7 35.7 0 0 1 502.67 245.3Q506.4 280.8 488.52 249.9A35.7 35.7 0 0 1 489.64 249.28Q506.4 280.8 501.43 245.45Z" fill="#80d0e6" fill-opacity="0.9"/>
<path d="M535.41 260A35.7 35.7 0 0 1 536.09 260.98Q506.4 280.8 477.17 301.3A35.7 35.7 0 0 1 476.69 300.59Q506.4 280.8 535.41 260Z" fill="#48c6b0" fill-opacity="0.9"/>
<path d="M531.56 255.48A35.7 35.7 0 0 1 532.39 256.33Q506.4 280.8 474.56 264.65A35.7 35.7 0 0 1 475.81 262.4Q506.4 280.8 531.56 255.48Z" fill="#48c6b0" fill-opacity="0.9"/>
<path d="M528.03 252.4A35.7 35.7 0 0 1 528.69 252.92Q506.4 280.8 488.3 311.57A35.7 35.7 0 0 1 487.21 310.9Q506.4 280.8 528.03 252.4Z" fill="#f79a8a" fill-opacity="0.9"/>
<path d="M540.2 269.31A35.7 35.7 0 0 1 540.59 270.53Q506.4 280.8 471.7 272.39A35.7 35.7 0 0 1 472.03 271.15Q506.4 280.8 540.2 269.31Z" fill="#8d9fca" fill-opacity="0.9"/>
<path d="M542.08 281.91A35.7 35.7 0 0 1 542.02 283.19Q506.4 280.8 503.96 316.42A35.7 35.7 0 0 1 502.68 316.31Q506.4 280.8 542.08 281.91Z" fill="#8d9fca" fill-opacity="0.9"/>
<path d="M538.21 264.59A35.7 35.7 0 0 1 538.77 265.74Q506.4 280.8 481.9 254.83A35.7 35.7 0 0 1 482.85 253.97Q506.4 280.8 538.21 264.59Z" fill="#8d9fca" fill-opacity="0.9"/>
<path d="M507.65 245.12A35.7 35.7 0 0 1 508.89 245.19Q506.4 280.8 470.95 276.55A35.7 35.7 0 0 1 471.13 275.28Q506.4 280.8 507.65 245.12Z" fill="#80d0e6" fill-opacity="0.9"/>
<path d="M542 278.07A35.7 35.7 0 0 1 542.07 279.35Q506.4 280.8 478.84 303.5A35.7 35.7 0 0 1 478.04 302.49Q506.4 280.8 542 278.07Z" fill="#8d9fca" fill-opacity="0.9"/>
<path d="M534.71 259.04A35.7 35.7 0 0 1 535.41 260Q506.4 280.8 471.34 287.53A35.7 35.7 0 0 1 471.12 286.26Q506.4 280.8 534.71 259.04Z" fill="#48c6b0" fill-opacity="0.9"/>
<path d="M536.74 261.98A35.7 35.7 0 0 1 537.35 263Q506.4 280.8 508 316.46A35.7 35.7 0 0 1 506.72 316.5Q506.4 280.8 536.74 261.98Z" fill="#48c6b0" fill-opacity="0.9"/>
<path d="M520.76 248.11A35.7 35.7 0 0 1 521.53 248.46Q506.4 280.8 487.42 250.57A35.7 35.7 0 0 1 488.52 249.9Q506.4 280.8 520.76 248.11Z" fill="#f79a8a" fill-opacity="0.9"/>
<path d="M540 292.86A35.7 35.7 0 0 1 539.38 294.46Q506.4 280.8 472.94 293.24A35.7 35.7 0 0 1 472.65 292.44Q506.4 280.8 540 292.86Z" fill="#a9b9d8" fill-opacity="0.9"/>
<path d="M542.1 280.63A35.7 35.7 0 0 1 542.08 281.91Q506.4 280.8 494.45 314.44A35.7 35.7 0 0 1 492.06 313.5Q506.4 280.8 542.1 280.63Z" fill="#8d9fca" fill-opacity="0.9"/>
<path d="M516.24 246.48A35.7 35.7 0 0 1 517.43 246.85Q506.4 280.8 499.77 315.88A35.7 35.7 0 0 1 498.51 315.62Q506.4 280.8 516.24 246.48Z" fill="#80d0e6" fill-opacity="0.9"/>
<path d="M530.71 254.65A35.7 35.7 0 0 1 531.56 255.48Q506.4 280.8 482.99 253.85A35.7 35.7 0 0 1 484.99 252.23Q506.4 280.8 530.71 254.65Z" fill="#48c6b0" fill-opacity="0.9"/>
<path d="M529.82 307.74A35.7 35.7 0 0 1 528.38 308.93Q506.4 280.8 511.78 316.09A35.7 35.7 0 0 1 510.94 316.21Q506.4 280.8 529.82 307.74Z" fill="#c6afa2" fill-opacity="0.9"/>
<path d="M521.53 248.46A35.7 35.7 0 0 1 522.29 248.83Q506.4 280.8 485.14 252.12A35.7 35.7 0 0 1 486.19 251.37Q506.4 280.8 521.53 248.46Z" fill="#f79a8a" fill-opacity="0.9"/>
<path d="M539.77 268.1A35.7 35.7 0 0 1 540.2 269.31Q506.4 280.8 473.41 267.15A35.7 35.7 0 0 1 474.48 264.82Q506.4 280.8 539.77 268.1Z" fill="#8d9fca" fill-opacity="0.9"/>
<path d="M541.76 285.73A35.7 35.7 0 0 1 541.56 287Q506.4 280.8 516.15 315.14A35.7 35.7 0 0 1 514.91 315.47Q506.4 280.8 541.76 285.73Z" fill="#8d9fca" fill-opacity="0.9"/>
<path d="M524.52 250.04A35.7 35.7 0 0 1 525.24 250.48Q506.4 280.8 471.09 286.08A35.7 35.7 0 0 1 470.93 284.8Q506.4 280.8 524.52 250.04Z" fill="#f79a8a" fill-opacity="0.9"/>
<path d="M542.02 283.19A35.7 35.7 0 0 1 541.91 284.46Q506.4 280.8 509.9 316.33A35.7 35.7 0 0 1 509.05 316.4Q506.4 280.8 542.02 283.19Z" fill="#8d9fca" fill-opacity="0.9"/>
<path d="M523.04 249.22A35.7 35.7 0 0 1 523.79 249.62Q506.4 280.8 471.16 275.09A35.7 35.7 0 0 1 471.39 273.83Q506.4 280.8 523.04 249.22Z" fill="#f79a8a" fill-opacity="0.9"/>
<path d="M510.13 245.3A35.7 35.7 0 0 1 511.37 245.45Q506.4 280.8 473.65 295.01A35.7 35.7 0 0 1 473.32 294.22Q506.4 280.8 510.13 245.3Z" fill="#80d0e6" fill-opacity="0.9"/>
<path d="M505.15 245.12A35.7 35.7 0 0 1 506.4 245.1Q506.4 280.8 476.59 261.15A35.7 35.7 0 0 1 477.32 260.09Q506.4 280.8 505.15 245.12Z" fill="#80d0e6" fill-opacity="0.9"/>
<path d="M523.43 312.17A35.7 35.7 0 0 1 518.61 314.35Q506.4 280.8 510.75 316.23A35.7 35.7 0 0 1 509.9 316.33Q506.4 280.8 523.43 312.17Z" fill="#aae2a2" fill-opacity="0.9"/>
<path d="M500.2 245.64A35.7 35.7 0 0 1 501.43 245.45Q506.4 280.8 491.34 248.43A35.7 35.7 0 0 1 492.12 248.08Q506.4 280.8 500.2 245.64Z" fill="#80d0e6" fill-opacity="0.9"/>
<path d="M498.98 245.88A35.7 35.7 0 0 1 500.2 245.64Q506.4 280.8 493.48 247.52A35.7 35.7 0 0 1 494.69 247.08Q506.4 280.8 498.98 245.88Z" fill="#80d0e6" fill-opacity="0.9"/>
<path d="M517.43 246.85A35.7 35.7 0 0 1 518.61 247.25Q506.4 280.8 513.47 315.79A35.7 35.7 0 0 1 512.63 315.95Q506.4 280.8 517.43 246.85Z" fill="#80d0e6" fill-opacity="0.9"/>
<path d="M537.35 263A35.7 35.7 0 0 1 537.92 264.04Q506.4 280.8 509.05 316.4A35.7 35.7 0 0 1 508.19 316.46Q506.4 280.8 537.35 263Z" fill="#48c6b0" fill-opacity="0.9"/>
<path d="M522.29 248.83A35.7 35.7 0 0 1 523.04 249.22Q506.4 280.8 479.12 257.77A35.7 35.7 0 0 1 480.85 255.87Q506.4 280.8 522.29 248.83Z" fill="#f79a8a" fill-opacity="0.9"/>
<path d="M541.24 273.01A35.7 35.7 0 0 1 541.5 274.26Q506.4 280.8 472.32 291.45A35.7 35.7 0 0 1 471.65 288.97Q506.4 280.8 541.24 273.01Z" fill="#8d9fca" fill-opacity="0.9"/>
<path d="M528.69 252.92A35.7 35.7 0 0 1 529.35 253.45Q506.4 280.8 491.89 313.42A35.7 35.7 0 0 1 490.73 312.88Q506.4 280.8 528.69 252.92Z" fill="#f79a8a" fill-opacity="0.9"/>
<path d="M534.91 302.28A35.7 35.7 0 0 1 533.75 303.75Q506.4 280.8 478.04 302.49A35.7 35.7 0 0 1 477.28 301.45Q506.4 280.8 534.91 302.28Z" fill="#c6afa2" fill-opacity="0.9"/>
<path d="M529.82 253.86A35.7 35.7 0 0 1 530.71 254.65Q506.4 280.8 489.81 249.19A35.7 35.7 0 0 1 490.57 248.8Q506.4 280.8 529.82 253.86Z" fill="#48c6b0" fill-opacity="0.9"/>
<path d="M541.87 276.79A35.7 35.7 0 0 1 542 278.07Q506.4 280.8 476.22 299.88A35.7 35.7 0 0 1 475.78 299.15Q506.4 280.8 541.87 276.79Z" fill="#8d9fca" fill-opacity="0.9"/>
<path d="M540.54 291.24A35.7 35.7 0 0 1 540 292.86Q506.4 280.8 470.7 280.58A35.7 35.7 0 0 1 470.81 278.01Q506.4 280.8 540.54 291.24Z" fill="#a9b9d8" fill-opacity="0.9"/>
<path d="M541.44 287.61A35.7 35.7 0 0 1 540.72 290.64Q506.4 280.8 497.08 315.26A35.7 35.7 0 0 1 494.63 314.5Q506.4 280.8 541.44 287.61Z" fill="#f9c2b2" fill-opacity="0.9"/>
<path d="M539.38 294.46A35.7 35.7 0 0 1 538.69 296.03Q506.4 280.8 476.69 300.59A35.7 35.7 0 0 1 476.22 299.88Q506.4 280.8 539.38 294.46Z" fill="#a9b9d8" fill-opacity="0.9"/>
<path d="M526.66 251.4A35.7 35.7 0 0 1 527.35 251.89Q506.4 280.8 479.8 304.61A35.7 35.7 0 0 1 478.96 303.64Q506.4 280.8 526.66 251.4Z" fill="#f79a8a" fill-opacity="0.9"/>
<path d="M512.6 245.64A35.7 35.7 0 0 1 513.82 245.88Q506.4 280.8 480.68 305.55A35.7 35.7 0 0 1 479.8 304.61Q506.4 280.8 512.6 245.64Z" fill="#80d0e6" fill-opacity="0.9"/>
<path d="M506.4 245.1A35.7 35.7 0 0 1 507.65 245.12Q506.4 280.8 472.46 269.74A35.7 35.7 0 0 1 473.34 267.33Q506.4 280.8 506.4 245.1Z" fill="#80d0e6" fill-opacity="0.9"/>
<path d="M519.19 247.47A35.7 35.7 0 0 1 519.98 247.78Q506.4 280.8 492.29 248.01A35.7 35.7 0 0 1 493.48 247.52Q506.4 280.8 519.19 247.47Z" fill="#f79a8a" fill-opacity="0.9"/>
<path d="M508.89 245.19A35.7 35.7 0 0 1 510.13 245.3Q506.4 280.8 470.74 282.48A35.7 35.7 0 0 1 470.71 281.63Q506.4 280.8 508.89 245.19Z" fill="#80d0e6" fill-opacity="0.9"/>
<path d="M542.07 279.35A35.7 35.7 0 0 1 542.1 280.63Q506.4 280.8 489.42 312.2A35.7 35.7 0 0 1 488.3 311.57Q506.4 280.8 542.07 279.35Z" fill="#8d9fca" fill-opacity="0.9"/>
<path d="M527.88 309.31A35.7 35.7 0 0 1 523.43 312.17Q506.4 280.8 498.51 315.62A35.7 35.7 0 0 1 497.27 315.31Q506.4 280.8 527.88 309.31Z" fill="#aae2a2" fill-opacity="0.9"/>
<path d="M532.39 256.33A35.7 35.7 0 0 1 533.19 257.21Q506.4 280.8 472.03 271.15A35.7 35.7 0 0 1 472.4 269.92Q506.4 280.8 532.39 256.33Z" fill="#48c6b0" fill-opacity="0.9"/>
<path d="M511.37 245.45A35.7 35.7 0 0 1 512.6 245.64Q506.4 280.8 475.68 298.99A35.7 35.7 0 0 1 474.45 296.73Q506.4 280.8 511.37 245.45Z" fill="#80d0e6" fill-opacity="0.9"/>
<path d="M525.96 250.93A35.7 35.7 0 0 1 526.66 251.4Q506.4 280.8 474.37 296.56A35.7 35.7 0 0 1 474 295.79Q506.4 280.8 525.96 250.93Z" fill="#f79a8a" fill-opacity="0.9"/>
<path d="M533.19 257.21A35.7 35.7 0 0 1 533.97 258.11Q506.4 280.8 470.82 277.83A35.7 35.7 0 0 1 470.95 276.55Q506.4 280.8 533.19 257.21Z" fill="#48c6b0" fill-opacity="0.9"/>
<path d="M541.91 284.46A35.7 35.7 0 0 1 541.76 285.73Q506.4 280.8 512.63 315.95A35.7 35.7 0 0 1 511.78 316.09Q506.4 280.8 541.91 284.46Z" fill="#8d9fca" fill-opacity="0.9"/>
<path d="M538.69 296.03A35.7 35.7 0 0 1 537.92 297.56Q506.4 280.8 514.91 315.47A35.7 35.7 0 0 1 513.65 315.76Q506.4 280.8 538.69 296.03Z" fill="#a9b9d8" fill-opacity="0.9"/>
<path d="M541.5 274.26A35.7 35.7 0 0 1 541.71 275.52Q506.4 280.8 473.25 294.04A35.7 35.7 0 0 1 472.94 293.24Q506.4 280.8 541.5 274.26Z" fill="#8d9fca" fill-opacity="0.9"/>
<path d="M539.29 266.91A35.7 35.7 0 0 1 539.77 268.1Q506.4 280.8 475.9 262.24A35.7 35.7 0 0 1 476.59 261.15Q506.4 280.8 539.29 266.91Z" fill="#8d9fca" fill-opacity="0.9"/>
<path d="M513.82 245.88A35.7 35.7 0 0 1 515.04 246.16Q506.4 280.8 482.66 307.47A35.7 35.7 0 0 1 480.81 305.69Q506.4 280.8 513.82 245.88Z" fill="#80d0e6" fill-opacity="0.9"/>
<path d="M538.77 265.74A35.7 35.7 0 0 1 539.29 266.91Q506.4 280.8 477.43 259.94A35.7 35.7 0 0 1 479 257.91Q506.4 280.8 538.77 265.74Z" fill="#8d9fca" fill-opacity="0.9"/>
<path d="M498.56,243.92 A37.7,37.7 0 0 1 519.29,245.37 L518.61,247.25 A35.7,35.7 0 0 0 498.98,245.88 Z" fill="#1a9fc2"/>
<path d="M519.91,245.6 A37.7,37.7 0 0 1 530.63,251.92 L529.35,253.45 A35.7,35.7 0 0 0 519.19,247.47 Z" fill="#e03a2a"/>
<path d="M531.13,252.35 A37.7,37.7 0 0 1 539.69,263.1 L537.92,264.04 A35.7,35.7 0 0 0 529.82,253.86 Z" fill="#1a9a82"/>
<path d="M539.99,263.68 A37.7,37.7 0 0 1 543.53,287.35 L541.56,287 A35.7,35.7 0 0 0 538.21,264.59 Z" fill="#2b4a8e"/>
<path d="M543.41,287.99 A37.7,37.7 0 0 1 542.64,291.19 L540.72,290.64 A35.7,35.7 0 0 0 541.44,287.61 Z" fill="#f07a5a"/>
<path d="M542.45,291.82 A37.7,37.7 0 0 1 539.69,298.5 L537.92,297.56 A35.7,35.7 0 0 0 540.54,291.24 Z" fill="#6e86b8"/>
<path d="M539.37,299.08 A37.7,37.7 0 0 1 536.9,302.96 L535.28,301.78 A35.7,35.7 0 0 0 537.62,298.11 Z" fill="#e02222"/>
<path d="M536.51,303.49 A37.7,37.7 0 0 1 529.61,310.51 L528.38,308.93 A35.7,35.7 0 0 0 534.91,302.28 Z" fill="#8a6a58"/>
<path d="M529.09,310.91 A37.7,37.7 0 0 1 519.29,316.23 L518.61,314.35 A35.7,35.7 0 0 0 527.88,309.31 Z" fill="#5ac050"/>
<path d="M516.55,316.8 A37.4,37.4 0 0 1 514.06,317.41 L513.82,316.23 A36.2,36.2 0 0 0 516.23,315.64 Z" fill="#f9d0c8"/>
<path d="M513.74,317.47 A37.4,37.4 0 0 1 511.22,317.89 L511.06,316.7 A36.2,36.2 0 0 0 513.51,316.3 Z" fill="#d6eef6"/>
<path d="M510.89,317.93 A37.4,37.4 0 0 1 508.34,318.15 L508.28,316.95 A36.2,36.2 0 0 0 510.75,316.74 Z" fill="#f7c0b6"/>
<path d="M508.02,318.17 A37.4,37.4 0 0 1 505.45,318.19 L505.48,316.99 A36.2,36.2 0 0 0 507.96,316.97 Z" fill="#f7c0b6"/>
<path d="M505.13,318.18 A37.4,37.4 0 0 1 502.57,318 L502.69,316.81 A36.2,36.2 0 0 0 505.17,316.98 Z" fill="#d6eef6"/>
<path d="M502.25,317.97 A37.4,37.4 0 0 1 499.71,317.6 L499.93,316.42 A36.2,36.2 0 0 0 502.38,316.78 Z" fill="#fbe0da"/>
<path d="M499.39,317.54 A37.4,37.4 0 0 1 496.89,316.97 L497.2,315.81 A36.2,36.2 0 0 0 499.62,316.36 Z" fill="#fbe0da"/>
<path d="M496.58,316.89 A37.4,37.4 0 0 1 494.13,316.13 L494.52,315 A36.2,36.2 0 0 0 496.89,315.73 Z" fill="#d6eef6"/>
<path d="M493.82,316.02 A37.4,37.4 0 0 1 491.44,315.08 L491.92,313.98 A36.2,36.2 0 0 0 494.23,314.89 Z" fill="#fbe0da"/>
<path d="M491.14,314.95 A37.4,37.4 0 0 1 488.84,313.82 L489.41,312.76 A36.2,36.2 0 0 0 491.63,313.85 Z" fill="#d6eef6"/>
<path d="M488.55,313.67 A37.4,37.4 0 0 1 486.35,312.37 L486.99,311.36 A36.2,36.2 0 0 0 489.13,312.61 Z" fill="#f7c0b6"/>
<path d="M486.07,312.19 A37.4,37.4 0 0 1 483.97,310.73 L484.69,309.77 A36.2,36.2 0 0 0 486.72,311.19 Z" fill="#f9d0c8"/>
<path d="M483.71,310.53 A37.4,37.4 0 0 1 481.73,308.91 L482.52,308.01 A36.2,36.2 0 0 0 484.44,309.58 Z" fill="#d6eef6"/>
<path d="M481.48,308.69 A37.4,37.4 0 0 1 479.63,306.92 L480.49,306.08 A36.2,36.2 0 0 0 482.28,307.8 Z" fill="#d6eef6"/>
<path d="M479.41,306.69 A37.4,37.4 0 0 1 477.7,304.78 L478.62,304.01 A36.2,36.2 0 0 0 480.27,305.86 Z" fill="#d6eef6"/>
<path d="M477.49,304.53 A37.4,37.4 0 0 1 475.93,302.49 L476.91,301.8 A36.2,36.2 0 0 0 478.42,303.77 Z" fill="#d6eef6"/>
<path d="M475.75,302.23 A37.4,37.4 0 0 1 474.35,300.08 L475.38,299.46 A36.2,36.2 0 0 0 476.73,301.54 Z" fill="#f9d0c8"/>
<path d="M474.18,299.8 A37.4,37.4 0 0 1 472.96,297.55 L474.03,297.01 A36.2,36.2 0 0 0 475.22,299.19 Z" fill="#fbe0da"/>
<path d="M472.81,297.25 A37.4,37.4 0 0 1 471.77,294.92 L472.88,294.46 A36.2,36.2 0 0 0 473.89,296.73 Z" fill="#d6eef6"/>
<path d="M471.64,294.61 A37.4,37.4 0 0 1 470.78,292.2 L471.92,291.84 A36.2,36.2 0 0 0 472.76,294.17 Z" fill="#f7c0b6"/>
<path d="M470.68,291.89 A37.4,37.4 0 0 1 470.01,289.42 L471.17,289.14 A36.2,36.2 0 0 0 471.83,291.53 Z" fill="#fbe0da"/>
<path d="M469.93,289.1 A37.4,37.4 0 0 1 469.45,286.59 L470.64,286.4 A36.2,36.2 0 0 0 471.1,288.84 Z" fill="#f7c0b6"/>
<path d="M469.4,286.26 A37.4,37.4 0 0 1 469.11,283.72 L470.31,283.62 A36.2,36.2 0 0 0 470.59,286.09 Z" fill="#f9d0c8"/>
<path d="M469.09,283.39 A37.4,37.4 0 0 1 469,280.83 L470.2,280.83 A36.2,36.2 0 0 0 470.29,283.31 Z" fill="#f9d0c8"/>
<path d="M469,280.51 A37.4,37.4 0 0 1 469.11,277.95 L470.31,278.04 A36.2,36.2 0 0 0 470.2,280.52 Z" fill="#f7c0b6"/>
<path d="M469.14,277.62 A37.4,37.4 0 0 1 469.44,275.08 L470.63,275.26 A36.2,36.2 0 0 0 470.33,277.72 Z" fill="#f7c0b6"/>
<path d="M469.49,274.76 A37.4,37.4 0 0 1 469.99,272.24 L471.16,272.52 A36.2,36.2 0 0 0 470.68,274.95 Z" fill="#d6eef6"/>
<path d="M470.07,271.93 A37.4,37.4 0 0 1 470.76,269.46 L471.9,269.82 A36.2,36.2 0 0 0 471.23,272.21 Z" fill="#fbe0da"/>
<path d="M470.86,269.15 A37.4,37.4 0 0 1 471.74,266.74 L472.85,267.2 A36.2,36.2 0 0 0 472,269.52 Z" fill="#d6eef6"/>
<path d="M471.87,266.44 A37.4,37.4 0 0 1 472.93,264.11 L474,264.65 A36.2,36.2 0 0 0 472.97,266.9 Z" fill="#f7c0b6"/>
<path d="M473.08,263.82 A37.4,37.4 0 0 1 474.32,261.58 L475.35,262.2 A36.2,36.2 0 0 0 474.15,264.37 Z" fill="#d6eef6"/>
<path d="M474.49,261.3 A37.4,37.4 0 0 1 475.9,259.16 L476.87,259.86 A36.2,36.2 0 0 0 475.51,261.93 Z" fill="#f7c0b6"/>
<path d="M476.09,258.9 A37.4,37.4 0 0 1 477.66,256.87 L478.58,257.64 A36.2,36.2 0 0 0 477.06,259.6 Z" fill="#f7c0b6"/>
<path d="M477.87,256.62 A37.4,37.4 0 0 1 479.59,254.73 L480.45,255.56 A36.2,36.2 0 0 0 478.78,257.4 Z" fill="#f9d0c8"/>
<path d="M479.82,254.49 A37.4,37.4 0 0 1 481.68,252.74 L482.47,253.64 A36.2,36.2 0 0 0 480.67,255.34 Z" fill="#f7c0b6"/>
<path d="M481.93,252.52 A37.4,37.4 0 0 1 483.92,250.91 L484.64,251.87 A36.2,36.2 0 0 0 482.71,253.43 Z" fill="#f9d0c8"/>
<path d="M484.18,250.72 A37.4,37.4 0 0 1 486.29,249.27 L486.94,250.28 A36.2,36.2 0 0 0 484.89,251.68 Z" fill="#d6eef6"/>
<path d="M486.57,249.09 A37.4,37.4 0 0 1 488.78,247.81 L489.35,248.87 A36.2,36.2 0 0 0 487.2,250.11 Z" fill="#f7c0b6"/>
<path d="M489.07,247.66 A37.4,37.4 0 0 1 491.38,246.55 L491.86,247.65 A36.2,36.2 0 0 0 489.63,248.72 Z" fill="#f9d0c8"/>
<path d="M491.68,246.42 A37.4,37.4 0 0 1 494.07,245.49 L494.47,246.62 A36.2,36.2 0 0 0 492.15,247.52 Z" fill="#f9d0c8"/>
<rect x="505.8" y="318.95" width="0.9" height="0.9" fill="#f06050"/>
<rect x="492.56" y="244.15" width="0.9" height="0.9" fill="#40c0e8"/>
<rect x="468.2" y="288.39" width="0.9" height="0.9" fill="#f06050"/>
<rect x="516.19" y="317.57" width="0.9" height="0.9" fill="#f6a090"/>
<rect x="473.92" y="258.81" width="0.9" height="0.9" fill="#f06050"/>
<rect x="469.37" y="292.68" width="0.9" height="0.9" fill="#40c0e8"/>
<rect x="478.58" y="253.13" width="0.9" height="0.9" fill="#f6a090"/>
<rect x="467.98" y="287.32" width="0.9" height="0.9" fill="#40c0e8"/>
<rect x="472.32" y="299.3" width="0.9" height="0.9" fill="#40c0e8"/>
<rect x="470.93" y="296.59" width="0.9" height="0.9" fill="#40c0e8"/>
<text x="506.8" y="235.4" font-size="5.6" text-anchor="middle" fill="#222" stroke="#222" stroke-width="0.06" >GO:0007409</text>
<text x="506.4" y="239.75" font-size="5.6" text-anchor="middle" fill="#222" stroke="#222" stroke-width="0.06" >axonogenesis</text>
<path d="M134.9 381.4L108.92 379.03M134.9 381.4L109.41 376.97M134.9 381.4L109.85 374.67M134.9 381.4L110.47 372.49M134.9 381.4L111.43 370.34M134.9 381.4L112.56 368.28M134.9 381.4L113.77 366.11M134.9 381.4L115.14 364.44M134.9 381.4L116.76 362.72M134.9 381.4L118.66 360.99M134.9 381.4L120.6 359.6M134.9 381.4L122.64 358.63M134.9 381.4L124.56 357.58M134.9 381.4L126.91 356.57M134.9 381.4L129.15 355.94M134.9 381.4L131.53 355.69M134.9 381.4L133.89 355.29M134.9 381.4L136.04 355.46M134.9 381.4L138.46 355.54M134.9 381.4L140.85 356.17M134.9 381.4L142.94 356.59M134.9 381.4L145.24 357.49M134.9 381.4L147.35 358.55M134.9 381.4L149.28 359.62M134.9 381.4L151.09 361.13M134.9 381.4L153.03 362.68M134.9 381.4L154.65 364.41M134.9 381.4L156.14 366.29M134.9 381.4L157.25 368.1M134.9 381.4L158.27 370.15M134.9 381.4L113.02 379.14M134.9 381.4L112.81 376.02M134.9 381.4L113.79 373.32M134.9 381.4L115.68 370.41M134.9 381.4L117.36 367.52M134.9 381.4L119.66 365.77M134.9 381.4L121.41 363.26M134.9 381.4L124.51 361.86M134.9 381.4L127 360.36M134.9 381.4L130.51 359.31M134.9 381.4L132.81 359.26M134.9 381.4L135.96 359.43M134.9 381.4L139.06 359.85M134.9 381.4L142.1 360.61M134.9 381.4L145.31 361.67M134.9 381.4L147.41 362.68M134.9 381.4L149.64 364.63M134.9 381.4L152.39 366.76M134.9 381.4L153.74 369.78M134.9 381.4L154.86 371.76M134.9 381.4L116.35 379.38M134.9 381.4L117.09 377.24M134.9 381.4L117.74 374.27M134.9 381.4L118.93 371.95M134.9 381.4L121.15 369.33M134.9 381.4L122.5 366.96M134.9 381.4L125.94 365.26M134.9 381.4L128.28 363.96M134.9 381.4L130.9 363.19M134.9 381.4L134.56 362.18M134.9 381.4L137.36 362.86M134.9 381.4L140.2 363.59M134.9 381.4L143.63 364.94M134.9 381.4L145.65 365.77M134.9 381.4L148.54 368.21M134.9 381.4L150.51 370.81M134.9 381.4L151.54 373.17M134.9 381.4L120.06 380.27M134.9 381.4L119.99 377.36M134.9 381.4L121.44 374.25M134.9 381.4L122.68 371.92M134.9 381.4L124.71 369.75M134.9 381.4L128.1 368.36M134.9 381.4L130.03 367.18M134.9 381.4L133.69 366.47M134.9 381.4L136.06 366.55M134.9 381.4L139.22 367.22M134.9 381.4L142.15 368M134.9 381.4L144.5 370.26M134.9 381.4L146.65 372.48M134.9 381.4L148.56 374.35M150.4 378.8L148.32 345.72M150.4 378.8L151.09 345.74M150.4 378.8L153.53 346.04M150.4 378.8L156.2 346.27M150.4 378.8L148.33 348.96M150.4 378.8L151.59 348.81M150.4 378.8L155.11 349.38M162.1 377.5L160.75 353.53M162.1 377.5L162.87 353.6M162.1 377.5L165.19 353.67M162.1 377.5L167.42 353.96M162.1 377.5L169.54 354.56M162.1 377.5L171.83 355.67M162.1 377.5L173.84 356.61M162.1 377.5L175.71 357.84M162.1 377.5L177.45 359.12M162.1 377.5L179.22 360.83M162.1 377.5L180.69 362.34M162.1 377.5L182.02 364.41M162.1 377.5L183.26 366.41M162.1 377.5L184.24 368.47M162.1 377.5L184.98 370.66M162.1 377.5L185.77 372.89M162.1 377.5L186.03 375.17M162.1 377.5L186.22 377.49M162.1 377.5L185.94 379.76M162.1 377.5L185.77 381.89M162.1 377.5L185.05 384.29M162.1 377.5L161.04 357.12M162.1 377.5L163.81 356.52M162.1 377.5L166.83 357.23M162.1 377.5L169.14 358.2M162.1 377.5L172.37 358.94M162.1 377.5L174.69 360.96M162.1 377.5L176.58 362.24M162.1 377.5L178.63 364.44M162.1 377.5L179.82 367.37M162.1 377.5L181.1 369.17M162.1 377.5L182.58 372.77M162.1 377.5L182.56 374.99M162.1 377.5L182.94 378.18M162.1 377.5L182.15 380.91M162.1 377.5L181.74 383.97M125.9 395.6L111.18 410.43M125.9 395.6L109.58 408.62M125.9 395.6L108.07 406.77M125.9 395.6L106.96 404.66M125.9 395.6L106.07 402.45M125.9 395.6L105.45 400.44M125.9 395.6L105.14 398M125.9 395.6L105.04 395.66M125.9 395.6L105.07 393.21M125.9 395.6L105.31 391.01M125.9 395.6L106.21 388.71M125.9 395.6L107.07 386.52M125.9 395.6L108.3 384.5M125.9 395.6L109.62 382.28M125.9 395.6L111.27 380.69M125.9 395.6L112.89 379.08M125.9 395.6L114.78 377.6M125.9 395.6L116.97 376.65M125.9 395.6L113.95 408.38M125.9 395.6L112.3 406.19M125.9 395.6L110.2 403.53M125.9 395.6L109.04 401.19M125.9 395.6L108.95 398.15M125.9 395.6L108.44 394.72M125.9 395.6L109.03 391.47M125.9 395.6L109.47 389.27M125.9 395.6L110.98 385.86M125.9 395.6L113.08 383.27M125.9 395.6L115.38 381.3M125.9 395.6L118.27 379.6M125.9 395.6L115.42 405.42M125.9 395.6L113.98 402.88M125.9 395.6L112.08 399.81M125.9 395.6L111.55 395.86M125.9 395.6L111.72 392.66M125.9 395.6L112.88 389.56M125.9 395.6L115.54 386.96M125.9 395.6L117.69 383.96M125.9 395.6L120.47 382.78M149.7 396.9L146.81 378.05M149.7 396.9L149.34 377.98M149.7 396.9L151.42 377.97M149.7 396.9L153.8 378.27M149.7 396.9L155.92 378.85M149.7 396.9L158.13 379.85M149.7 396.9L160.09 381.01M149.7 396.9L161.93 382.37M149.7 396.9L163.72 383.89M149.7 396.9L164.98 385.76M149.7 396.9L166.28 387.72M149.7 396.9L167.43 389.94M149.7 396.9L168.15 392.12M149.7 396.9L168.43 394.21M149.7 396.9L168.58 396.49M149.7 396.9L168.53 398.78M149.7 396.9L168.17 401.26M149.7 396.9L167.58 403.46M149.7 396.9L166.67 405.54M149.7 396.9L165.55 407.48M149.7 396.9L164.23 409.32M149.7 396.9L162.5 410.86M149.7 396.9L160.58 412.37M149.7 396.9L159.17 413.24M149.7 396.9L147.22 381.47M149.7 396.9L150.53 381.35M149.7 396.9L154.16 382.42M149.7 396.9L156.6 383.29M149.7 396.9L159.7 384.53M149.7 396.9L161.42 386.81M149.7 396.9L163.61 389.23M149.7 396.9L164.89 391.95M149.7 396.9L165.3 395.41M149.7 396.9L164.66 398.2M149.7 396.9L164.87 401.3M149.7 396.9L162.9 404.22M149.7 396.9L161.66 406.78M149.7 396.9L159.34 409.41M149.7 396.9L157.62 410.27M149.7 396.9L147.89 384.82M149.7 396.9L150.55 385.19M149.7 396.9L153.14 385.18M149.7 396.9L155.83 387.03M149.7 396.9L158.89 389M149.7 396.9L160.45 390.86M149.7 396.9L161.25 394.14M149.7 396.9L161.53 396.95M149.7 396.9L161.11 399.93M149.7 396.9L159.61 403.07M149.7 396.9L157.7 405.33M149.7 396.9L155.67 407.56M155.6 413.7L173.74 401.13M155.6 413.7L175.02 403.31M155.6 413.7L175.98 405.47M155.6 413.7L176.7 407.46M155.6 413.7L177.25 409.62M155.6 413.7L177.57 411.91M155.6 413.7L177.64 414.36M155.6 413.7L177.46 416.52M155.6 413.7L177.05 419.01M155.6 413.7L176.47 421.17M155.6 413.7L175.33 423.29M155.6 413.7L174.24 425.38M155.6 413.7L172.89 426.98M155.6 413.7L171.5 428.75M155.6 413.7L169.99 430.59M155.6 413.7L168.15 431.83M155.6 413.7L171.07 402.71M155.6 413.7L172.7 405.61M155.6 413.7L173.14 408.62M155.6 413.7L173.51 411.38M155.6 413.7L174.02 415.17M155.6 413.7L174.03 418.27M155.6 413.7L172.3 421.06M155.6 413.7L170.41 424.53M155.6 413.7L169.05 426.37M155.6 413.7L166.67 428.9M155.6 413.7L167.97 405.66M155.6 413.7L170.01 408.52M155.6 413.7L170.13 411.46M155.6 413.7L170.7 415.32M155.6 413.7L169.92 418.15M155.6 413.7L168.13 420.81M155.6 413.7L166.33 424.11M155.6 413.7L163.92 426.24M116.8 423.3L118.22 442.25M116.8 423.3L115.95 442.14M116.8 423.3L113.48 442.08M116.8 423.3L111.22 441.37M116.8 423.3L108.85 440.63M116.8 423.3L106.62 439.46M116.8 423.3L104.78 438.09M116.8 423.3L102.91 436.18M116.8 423.3L101.4 434.47M116.8 423.3L100.22 432.44M116.8 423.3L99.09 430.26M116.8 423.3L98.45 427.87M116.8 423.3L97.85 425.3M116.8 423.3L97.83 422.87M116.8 423.3L97.95 420.74M116.8 423.3L98.37 418.44M116.8 423.3L117.59 438.97M116.8 423.3L114.84 438.95M116.8 423.3L111.08 438.37M116.8 423.3L108.45 436.11M116.8 423.3L106.02 434.55M116.8 423.3L104.01 432.01M116.8 423.3L102.46 428.59M116.8 423.3L101.61 425.74M116.8 423.3L101.56 421.87M116.8 423.3L102.22 419.34M116.8 423.3L117.2 435.77M116.8 423.3L113.97 434.93M116.8 423.3L110.76 434.23M116.8 423.3L107.9 432.3M116.8 423.3L106.35 429.49M116.8 423.3L104.95 426.3M116.8 423.3L104.75 422.68M116.8 423.3L104.52 420.2M129.7 435.7L143.68 457.6M129.7 435.7L141.56 458.73M129.7 435.7L139.36 459.72M129.7 435.7L136.9 460.52M129.7 435.7L134.77 461.35M129.7 435.7L132.26 461.71M129.7 435.7L129.69 461.75M129.7 435.7L127.33 461.48M129.7 435.7L124.95 461.14M129.7 435.7L122.48 460.59M129.7 435.7L120.15 460.03M129.7 435.7L118 458.93M129.7 435.7L115.77 457.61M129.7 435.7L113.93 456.52M129.7 435.7L142.26 454.97M129.7 435.7L139.06 456.28M129.7 435.7L136.29 457.91M129.7 435.7L133.61 458.53M129.7 435.7L130.49 458.95M129.7 435.7L127.5 457.87M129.7 435.7L123.78 457.36M129.7 435.7L121.64 456.59M129.7 435.7L118.43 455.62M129.7 435.7L115.7 453.68M129.7 435.7L139.5 452.82M129.7 435.7L136.72 454.18M129.7 435.7L133.36 455.11M129.7 435.7L130.28 455.22M129.7 435.7L126.46 454.99M129.7 435.7L123.59 453.75M129.7 435.7L119.93 452.71M129.7 435.7L118.1 451.36M143.4 425.3L173.84 431.77M143.4 425.3L173.35 433.68M143.4 425.3L172.65 435.98M143.4 425.3L171.57 438.02M143.4 425.3L170.66 440.13M143.4 425.3L169.45 442.34M143.4 425.3L167.89 444.24M143.4 425.3L166.56 445.86M143.4 425.3L164.94 447.8M143.4 425.3L163.06 449.24M143.4 425.3L161.21 450.58M143.4 425.3L159.16 451.98M143.4 425.3L157.34 452.95M143.4 425.3L154.91 454.04M143.4 425.3L152.77 454.94M143.4 425.3L150.51 455.32M143.4 425.3L148.21 455.89M143.4 425.3L145.91 456.17M143.4 425.3L143.52 456.44M143.4 425.3L141.09 456.14M143.4 425.3L138.99 455.88M143.4 425.3L136.49 455.51M143.4 425.3L134.35 455.03M143.4 425.3L132.17 454.07M143.4 425.3L169.72 431.98M143.4 425.3L169.49 434.33M143.4 425.3L167.74 437.36M143.4 425.3L166.23 440.68M143.4 425.3L164.66 443.21M143.4 425.3L161.7 445.05M143.4 425.3L160.14 447.55M143.4 425.3L157.32 448.73M143.4 425.3L153.86 450.47M143.4 425.3L151.32 451.19M143.4 425.3L148.48 452.37M143.4 425.3L145.37 453.06M143.4 425.3L141.66 452.43M143.4 425.3L138.93 452.27M143.4 425.3L135.59 451.75M143.4 425.3L133.61 450.72M143.4 425.3L167.04 429.82M143.4 425.3L165.77 432.98M143.4 425.3L164.67 436.51M143.4 425.3L162.84 438.63M143.4 425.3L160.54 441.81M143.4 425.3L158.69 444.05M143.4 425.3L155.78 445.27M143.4 425.3L152.88 447.13M143.4 425.3L150.27 448.46M143.4 425.3L147.18 448.65M143.4 425.3L143.52 449.38M143.4 425.3L141.17 448.78M143.4 425.3L137.39 448.4M143.4 425.3L134.42 447.64M143.4 425.3L163.14 429.38M143.4 425.3L162.01 432.96M143.4 425.3L161.32 435.14M143.4 425.3L158.93 438.28M143.4 425.3L156.7 440.32M143.4 425.3L154.36 442.08M143.4 425.3L151.36 444.04M143.4 425.3L148.88 444.43M143.4 425.3L145.66 445M143.4 425.3L142.24 445.01M143.4 425.3L138.96 444.73M143.4 425.3L136.17 443.56M143.4 425.3L160.09 428.8M143.4 425.3L158.6 431.98M143.4 425.3L157.41 434.84M143.4 425.3L154.97 436.83M143.4 425.3L152.84 439.15M143.4 425.3L150.18 440.49M143.4 425.3L146.45 441.55M143.4 425.3L143.93 442.18M143.4 425.3L140.04 441.79M143.4 425.3L137.5 440.25M132.3 401.5L141.88 384.49M149.7 396.9L141.88 384.49M149.7 396.9L140.48 391.7M150.4 378.8L140.48 391.7M134.9 381.4L139.36 392.47M150.4 378.8L139.36 392.47M150.4 378.8L138.05 395.05M149.7 396.9L138.05 395.05M149.7 396.9L140.44 394.45M150.4 378.8L140.44 394.45M134.9 381.4L137.28 384.14M132.3 401.5L137.28 384.14M132.3 401.5L141.92 392.62M150.4 378.8L141.92 392.62M134.9 381.4L136.13 388.93M149.7 396.9L136.13 388.93M134.9 381.4L134.82 389.88M132.3 401.5L134.82 389.88M132.3 401.5L138.63 386.8M134.9 381.4L138.63 386.8M134.9 381.4L138.28 395.88M150.4 378.8L138.28 395.88M132.3 401.5L144.99 395.5M134.9 381.4L144.99 395.5M150.4 378.8L142.04 391.64M132.3 401.5L142.04 391.64M149.7 396.9L140.69 388.05M150.4 378.8L140.69 388.05M150.4 378.8L144.43 383.76M132.3 401.5L144.43 383.76M149.7 396.9L136.85 390.25M134.9 381.4L136.85 390.25M134.9 381.4L142.54 393.73M149.7 396.9L142.54 393.73M149.7 396.9L136.91 392.43M150.4 378.8L136.91 392.43M134.9 381.4L139.42 383.3M149.7 396.9L139.42 383.3M149.7 396.9L145.7 395.87M150.4 378.8L145.7 395.87M149.7 396.9L138.26 390.26M150.4 378.8L138.26 390.26M134.9 381.4L146.44 384.95M150.4 378.8L146.44 384.95M132.3 401.5L143.69 388.27M150.4 378.8L143.69 388.27M150.4 378.8L139.22 395.4M132.3 401.5L139.22 395.4M134.9 381.4L138.88 386.9M150.4 378.8L138.88 386.9M143.4 425.3L147.57 410.7M155.6 413.7L147.57 410.7M155.6 413.7L142.42 418.69M143.4 425.3L142.42 418.69M143.4 425.3L136.92 417.99M155.6 413.7L136.92 417.99M155.6 413.7L147.72 414.03M132.3 401.5L147.72 414.03M132.3 401.5L139.69 417.16M155.6 413.7L139.69 417.16M132.3 401.5L136.8 410.07M143.4 425.3L136.8 410.07M155.6 413.7L138.17 409.42M132.3 401.5L138.17 409.42M155.6 413.7L142.63 416.48M132.3 401.5L142.63 416.48M155.6 413.7L143.34 414.81M132.3 401.5L143.34 414.81M132.3 401.5L141.73 411.24M155.6 413.7L141.73 411.24M132.3 401.5L141.25 409.91M155.6 413.7L141.25 409.91M143.4 425.3L144.6 412.88M155.6 413.7L144.6 412.88M143.4 425.3L143.82 413.47M132.3 401.5L143.82 413.47M155.6 413.7L139.56 417.05M143.4 425.3L139.56 417.05M132.3 401.5L140.47 418.25M143.4 425.3L140.47 418.25M132.3 401.5L145.68 415.98M143.4 425.3L145.68 415.98M143.4 425.3L146.69 415.03M132.3 401.5L146.69 415.03M132.3 401.5L145.56 415.1M143.4 425.3L145.56 415.1M132.3 401.5L138.76 411.48M143.4 425.3L138.76 411.48M132.3 401.5L140.64 418.33M143.4 425.3L140.64 418.33M134.9 381.4L150.4 378.8M150.4 378.8L162.1 377.5M134.9 381.4L125.9 395.6M125.9 395.6L132.3 401.5M132.3 401.5L149.7 396.9M149.7 396.9L155.6 413.7M155.6 413.7L143.4 425.3M143.4 425.3L129.7 435.7M116.8 423.3L129.7 435.7M132.3 401.5L116.8 423.3M150.4 378.8L149.7 396.9M134.9 381.4L149.7 396.9M162.1 377.5L149.7 396.9M132.3 401.5L129.7 435.7M125.9 395.6L116.8 423.3M149.7 396.9L155.11 349.38M125.9 395.6L161.21 450.58M129.7 435.7L159.17 413.24M125.9 395.6L149.64 364.63M125.9 395.6L117.09 377.24M150.4 378.8L134.56 362.18M129.7 435.7L170.66 440.13M150.4 378.8L133.69 366.47M155.6 413.7L166.56 445.86M116.8 423.3L120.06 380.27M125.9 395.6L112.08 399.81M116.8 423.3L106.21 388.71M134.9 381.4L172.3 421.06M125.9 395.6L160.58 412.37M143.4 425.3L142.54 393.73M132.3 401.5L141.56 458.73M143.4 425.3L175.33 423.29M150.4 378.8L123.59 453.75M116.8 423.3L161.25 394.14M149.7 396.9L162.9 404.22M116.8 423.3L134.56 362.18M155.6 413.7L106.21 388.71M132.3 401.5L167.89 444.24M143.4 425.3L155.92 378.85M162.1 377.5L127.33 461.48M162.1 377.5L119.66 365.77M132.3 401.5L158.93 438.28M129.7 435.7L115.95 442.14M150.4 378.8L152.77 454.94M134.9 381.4L118.27 379.6M129.7 435.7L109.85 374.67M155.6 413.7L105.45 400.44M116.8 423.3L163.06 449.24M134.9 381.4L119.99 377.36M116.8 423.3L112.88 389.56M143.4 425.3L158.89 389M132.3 401.5L122.68 371.92M132.3 401.5L113.79 373.32M149.7 396.9L139.69 417.16M132.3 401.5L102.46 428.59M143.4 425.3L139.36 392.47M155.6 413.7L138.76 411.48M132.3 401.5L168.15 431.83M143.4 425.3L147.35 358.55M129.7 435.7L102.22 419.34M132.3 401.5L182.15 380.91M125.9 395.6L111.22 441.37M132.3 401.5L168.58 396.49M150.4 378.8L172.7 405.61M143.4 425.3L140.2 363.59M149.7 396.9L114.84 438.95M129.7 435.7L109.41 376.97M150.4 378.8L101.61 425.74M155.6 413.7L186.22 377.49M116.8 423.3L157.62 410.27M162.1 377.5L182.58 372.77M143.4 425.3L102.46 428.59M116.8 423.3L153.86 450.47M143.4 425.3L109.04 401.19M134.9 381.4L138.96 444.73M129.7 435.7L151.09 361.13M132.3 401.5L97.83 422.87M134.9 381.4L135.59 451.75M125.9 395.6L138.17 409.42M162.1 377.5L165.3 395.41M132.3 401.5L137.28 384.14M149.7 396.9L182.02 364.41M129.7 435.7L115.95 442.14M155.6 413.7L109.85 374.67M125.9 395.6L164.87 401.3M116.8 423.3L181.74 383.97M116.8 423.3L142.1 360.61M132.3 401.5L98.37 418.44M132.3 401.5L124.71 369.75M129.7 435.7L156.14 366.29M150.4 378.8L112.89 379.08M134.9 381.4L158.13 379.85M149.7 396.9L111.22 441.37M155.6 413.7L140.48 391.7M162.1 377.5L182.56 374.99M162.1 377.5L142.15 368M149.7 396.9L138.99 455.88M129.7 435.7L147.22 381.47M116.8 423.3L175.33 423.29M125.9 395.6L102.22 419.34M143.4 425.3L104.78 438.09M162.1 377.5L104.78 438.09M116.8 423.3L164.23 409.32M129.7 435.7L161.04 357.12M150.4 378.8L106.35 429.49M149.7 396.9L115.42 405.42M155.6 413.7L122.5 366.96M150.4 378.8L166.67 428.9M129.7 435.7L140.64 418.33M129.7 435.7L131.53 355.69M116.8 423.3L186.03 375.17M116.8 423.3L158.89 389M129.7 435.7L174.24 425.38M134.9 381.4L118.43 455.62M134.9 381.4L136.49 455.51M162.1 377.5L173.35 433.68M162.1 377.5L115.54 386.96M155.6 413.7L160.45 390.86M125.9 395.6L130.49 458.95M132.3 401.5L164.66 398.2M132.3 401.5L159.7 384.53M134.9 381.4L138.96 444.73M149.7 396.9L105.04 395.66M125.9 395.6L159.17 413.24M143.4 425.3L139.69 417.16M132.3 401.5L148.48 452.37M149.7 396.9L120.6 359.6M125.9 395.6L154.36 442.08M143.4 425.3L142.54 393.73M149.7 396.9L136.04 355.46M143.4 425.3L151.36 444.04M125.9 395.6L154.91 454.04M125.9 395.6L116.35 379.38M129.7 435.7L141.73 411.24M134.9 381.4L168.15 392.12M125.9 395.6L143.63 364.94M143.4 425.3L173.51 411.38M125.9 395.6L133.61 458.53M162.1 377.5L168.13 420.81M143.4 425.3L115.54 386.96M129.7 435.7L154.16 382.42M162.1 377.5L142.26 454.97M143.4 425.3L167.43 389.94M132.3 401.5L156.6 383.29M125.9 395.6L161.53 396.95" stroke="#cdbfc6" stroke-width="0.33" fill="none" stroke-opacity="0.9"/>
<path d="M108.92 379.03h0M109.41 376.97h0M109.85 374.67h0M110.47 372.49h0M111.43 370.34h0M112.56 368.28h0M113.77 366.11h0M115.14 364.44h0M116.76 362.72h0M118.66 360.99h0M120.6 359.6h0M122.64 358.63h0M124.56 357.58h0M126.91 356.57h0M129.15 355.94h0M131.53 355.69h0M133.89 355.29h0M136.04 355.46h0M138.46 355.54h0M140.85 356.17h0M142.94 356.59h0M145.24 357.49h0M147.35 358.55h0M149.28 359.62h0M151.09 361.13h0M153.03 362.68h0M154.65 364.41h0M156.14 366.29h0M157.25 368.1h0M158.27 370.15h0M113.02 379.14h0M112.81 376.02h0M113.79 373.32h0M115.68 370.41h0M117.36 367.52h0M119.66 365.77h0M121.41 363.26h0M124.51 361.86h0M127 360.36h0M130.51 359.31h0M132.81 359.26h0M135.96 359.43h0M139.06 359.85h0M142.1 360.61h0M145.31 361.67h0M147.41 362.68h0M149.64 364.63h0M152.39 366.76h0M153.74 369.78h0M154.86 371.76h0M116.35 379.38h0M117.09 377.24h0M117.74 374.27h0M118.93 371.95h0M121.15 369.33h0M122.5 366.96h0M125.94 365.26h0M128.28 363.96h0M130.9 363.19h0M134.56 362.18h0M137.36 362.86h0M140.2 363.59h0M143.63 364.94h0M145.65 365.77h0M148.54 368.21h0M150.51 370.81h0M151.54 373.17h0M120.06 380.27h0M119.99 377.36h0M121.44 374.25h0M122.68 371.92h0M124.71 369.75h0M128.1 368.36h0M130.03 367.18h0M133.69 366.47h0M136.06 366.55h0M139.22 367.22h0M142.15 368h0M144.5 370.26h0M146.65 372.48h0M148.56 374.35h0M148.32 345.72h0M151.09 345.74h0M153.53 346.04h0M156.2 346.27h0M148.33 348.96h0M151.59 348.81h0M155.11 349.38h0M160.75 353.53h0M162.87 353.6h0M165.19 353.67h0M167.42 353.96h0M169.54 354.56h0M171.83 355.67h0M173.84 356.61h0M175.71 357.84h0M177.45 359.12h0M179.22 360.83h0M180.69 362.34h0M182.02 364.41h0M183.26 366.41h0M184.24 368.47h0M184.98 370.66h0M185.77 372.89h0M186.03 375.17h0M186.22 377.49h0M185.94 379.76h0M185.77 381.89h0M185.05 384.29h0M161.04 357.12h0M163.81 356.52h0M166.83 357.23h0M169.14 358.2h0M172.37 358.94h0M174.69 360.96h0M176.58 362.24h0M178.63 364.44h0M179.82 367.37h0M181.1 369.17h0M182.58 372.77h0M182.56 374.99h0M182.94 378.18h0M182.15 380.91h0M181.74 383.97h0M111.18 410.43h0M109.58 408.62h0M108.07 406.77h0M106.96 404.66h0M106.07 402.45h0M105.45 400.44h0M105.14 398h0M105.04 395.66h0M105.07 393.21h0M105.31 391.01h0M106.21 388.71h0M107.07 386.52h0M108.3 384.5h0M109.62 382.28h0M111.27 380.69h0M112.89 379.08h0M114.78 377.6h0M116.97 376.65h0M113.95 408.38h0M112.3 406.19h0M110.2 403.53h0M109.04 401.19h0M108.95 398.15h0M108.44 394.72h0M109.03 391.47h0M109.47 389.27h0M110.98 385.86h0M113.08 383.27h0M115.38 381.3h0M118.27 379.6h0M115.42 405.42h0M113.98 402.88h0M112.08 399.81h0M111.55 395.86h0M111.72 392.66h0M112.88 389.56h0M115.54 386.96h0M117.69 383.96h0M120.47 382.78h0M146.81 378.05h0M149.34 377.98h0M151.42 377.97h0M153.8 378.27h0M155.92 378.85h0M158.13 379.85h0M160.09 381.01h0M161.93 382.37h0M163.72 383.89h0M164.98 385.76h0M166.28 387.72h0M167.43 389.94h0M168.15 392.12h0M168.43 394.21h0M168.58 396.49h0M168.53 398.78h0M168.17 401.26h0M167.58 403.46h0M166.67 405.54h0M165.55 407.48h0M164.23 409.32h0M162.5 410.86h0M160.58 412.37h0M159.17 413.24h0M147.22 381.47h0M150.53 381.35h0M154.16 382.42h0M156.6 383.29h0M159.7 384.53h0M161.42 386.81h0M163.61 389.23h0M164.89 391.95h0M165.3 395.41h0M164.66 398.2h0M164.87 401.3h0M162.9 404.22h0M161.66 406.78h0M159.34 409.41h0M157.62 410.27h0M147.89 384.82h0M150.55 385.19h0M153.14 385.18h0M155.83 387.03h0M158.89 389h0M160.45 390.86h0M161.25 394.14h0M161.53 396.95h0M161.11 399.93h0M159.61 403.07h0M157.7 405.33h0M155.67 407.56h0M173.74 401.13h0M175.02 403.31h0M175.98 405.47h0M176.7 407.46h0M177.25 409.62h0M177.57 411.91h0M177.64 414.36h0M177.46 416.52h0M177.05 419.01h0M176.47 421.17h0M175.33 423.29h0M174.24 425.38h0M172.89 426.98h0M171.5 428.75h0M169.99 430.59h0M168.15 431.83h0M171.07 402.71h0M172.7 405.61h0M173.14 408.62h0M173.51 411.38h0M174.02 415.17h0M174.03 418.27h0M172.3 421.06h0M170.41 424.53h0M169.05 426.37h0M166.67 428.9h0M167.97 405.66h0M170.01 408.52h0M170.13 411.46h0M170.7 415.32h0M169.92 418.15h0M168.13 420.81h0M166.33 424.11h0M163.92 426.24h0M118.22 442.25h0M115.95 442.14h0M113.48 442.08h0M111.22 441.37h0M108.85 440.63h0M106.62 439.46h0M104.78 438.09h0M102.91 436.18h0M101.4 434.47h0M100.22 432.44h0M99.09 430.26h0M98.45 427.87h0M97.85 425.3h0M97.83 422.87h0M97.95 420.74h0M98.37 418.44h0M117.59 438.97h0M114.84 438.95h0M111.08 438.37h0M108.45 436.11h0M106.02 434.55h0M104.01 432.01h0M102.46 428.59h0M101.61 425.74h0M101.56 421.87h0M102.22 419.34h0M117.2 435.77h0M113.97 434.93h0M110.76 434.23h0M107.9 432.3h0M106.35 429.49h0M104.95 426.3h0M104.75 422.68h0M104.52 420.2h0M143.68 457.6h0M141.56 458.73h0M139.36 459.72h0M136.9 460.52h0M134.77 461.35h0M132.26 461.71h0M129.69 461.75h0M127.33 461.48h0M124.95 461.14h0M122.48 460.59h0M120.15 460.03h0M118 458.93h0M115.77 457.61h0M113.93 456.52h0M142.26 454.97h0M139.06 456.28h0M136.29 457.91h0M133.61 458.53h0M130.49 458.95h0M127.5 457.87h0M123.78 457.36h0M121.64 456.59h0M118.43 455.62h0M115.7 453.68h0M139.5 452.82h0M136.72 454.18h0M133.36 455.11h0M130.28 455.22h0M126.46 454.99h0M123.59 453.75h0M119.93 452.71h0M118.1 451.36h0M173.84 431.77h0M173.35 433.68h0M172.65 435.98h0M171.57 438.02h0M170.66 440.13h0M169.45 442.34h0M167.89 444.24h0M166.56 445.86h0M164.94 447.8h0M163.06 449.24h0M161.21 450.58h0M159.16 451.98h0M157.34 452.95h0M154.91 454.04h0M152.77 454.94h0M150.51 455.32h0M148.21 455.89h0M145.91 456.17h0M143.52 456.44h0M141.09 456.14h0M138.99 455.88h0M136.49 455.51h0M134.35 455.03h0M132.17 454.07h0M169.72 431.98h0M169.49 434.33h0M167.74 437.36h0M166.23 440.68h0M164.66 443.21h0M161.7 445.05h0M160.14 447.55h0M157.32 448.73h0M153.86 450.47h0M151.32 451.19h0M148.48 452.37h0M145.37 453.06h0M141.66 452.43h0M138.93 452.27h0M135.59 451.75h0M133.61 450.72h0M167.04 429.82h0M165.77 432.98h0M164.67 436.51h0M162.84 438.63h0M160.54 441.81h0M158.69 444.05h0M155.78 445.27h0M152.88 447.13h0M150.27 448.46h0M147.18 448.65h0M143.52 449.38h0M141.17 448.78h0M137.39 448.4h0M134.42 447.64h0M163.14 429.38h0M162.01 432.96h0M161.32 435.14h0M158.93 438.28h0M156.7 440.32h0M154.36 442.08h0M151.36 444.04h0M148.88 444.43h0M145.66 445h0M142.24 445.01h0M138.96 444.73h0M136.17 443.56h0M160.09 428.8h0M158.6 431.98h0M157.41 434.84h0M154.97 436.83h0M152.84 439.15h0M150.18 440.49h0M146.45 441.55h0M143.93 442.18h0M140.04 441.79h0M137.5 440.25h0M141.88 384.49h0M140.48 391.7h0M139.36 392.47h0M138.05 395.05h0M140.44 394.45h0M137.28 384.14h0M141.92 392.62h0M136.13 388.93h0M134.82 389.88h0M138.63 386.8h0M138.28 395.88h0M144.99 395.5h0M142.04 391.64h0M140.69 388.05h0M144.43 383.76h0M136.85 390.25h0M142.54 393.73h0M136.91 392.43h0M139.42 383.3h0M145.7 395.87h0M138.26 390.26h0M146.44 384.95h0M143.69 388.27h0M139.22 395.4h0M138.88 386.9h0M147.57 410.7h0M142.42 418.69h0M136.92 417.99h0M147.72 414.03h0M139.69 417.16h0M136.8 410.07h0M138.17 409.42h0M142.63 416.48h0M143.34 414.81h0M141.73 411.24h0M141.25 409.91h0M144.6 412.88h0M143.82 413.47h0M139.56 417.05h0M140.47 418.25h0M145.68 415.98h0M146.69 415.03h0M145.56 415.1h0M138.76 411.48h0M140.64 418.33h0" stroke="#1ab3e0" stroke-width="1.6" stroke-linecap="round" />
<path d="M134.9 381.4h0M150.4 378.8h0M162.1 377.5h0M125.9 395.6h0M132.3 401.5h0M149.7 396.9h0M155.6 413.7h0M116.8 423.3h0M143.4 425.3h0M129.7 435.7h0" stroke="#f3b6f0" stroke-width="4.4" stroke-linecap="round" />
<text x="139" y="409.1" font-size="7.3" text-anchor="start" fill="#111" stroke="#111" stroke-width="0.06" >Axonogenesis</text>
<text x="85.5" y="416.5" font-size="7.3" text-anchor="start" fill="#111" stroke="#111" stroke-width="0.06" >Distal axon</text>
<text x="198.2" y="394.8" font-size="3.4" text-anchor="start" fill="#444" stroke="#444" stroke-width="0.036" >Counts</text>
<circle cx="200.9" cy="398.6" r="1.0" fill="none" stroke="#333" stroke-width="0.6"/>
<text x="204.8" y="399.8" font-size="3.3" text-anchor="start" fill="#444" stroke="#444" stroke-width="0.036" >20</text>
<circle cx="200.9" cy="402.7" r="1.4" fill="none" stroke="#333" stroke-width="0.6"/>
<text x="204.8" y="403.9" font-size="3.3" text-anchor="start" fill="#444" stroke="#444" stroke-width="0.036" >40</text>
<circle cx="200.9" cy="407.3" r="1.8" fill="none" stroke="#333" stroke-width="0.6"/>
<text x="204.8" y="408.5" font-size="3.3" text-anchor="start" fill="#444" stroke="#444" stroke-width="0.036" >60</text>
<circle cx="200.9" cy="412.5" r="2.2" fill="none" stroke="#333" stroke-width="0.6"/>
<text x="204.8" y="413.7" font-size="3.3" text-anchor="start" fill="#444" stroke="#444" stroke-width="0.036" >80</text>
<path d="M277.3 376.3L260.11 386.69M277.3 376.3L259.04 384.71M277.3 376.3L258.3 382.51M277.3 376.3L257.53 380.04M277.3 376.3L257.21 377.6M277.3 376.3L257.33 375.14M277.3 376.3L257.5 372.94M277.3 376.3L258.16 370.47M277.3 376.3L259 368.39M277.3 376.3L259.92 366.25M277.3 376.3L261.46 364.11M277.3 376.3L262.87 362.48M277.3 376.3L264.7 360.6M277.3 376.3L266.59 359.44M277.3 376.3L268.85 358.28M277.3 376.3L271.13 357.31M277.3 376.3L273.52 356.65M277.3 376.3L275.78 356.46M277.3 376.3L278.03 356.42M277.3 376.3L263.37 384.54M277.3 376.3L261.56 382.11M277.3 376.3L260.58 379.18M277.3 376.3L260.3 376.25M277.3 376.3L261.07 373.36M277.3 376.3L261.58 370.31M277.3 376.3L262.75 368.34M277.3 376.3L264.87 365.58M277.3 376.3L266.54 363.62M277.3 376.3L269.02 361.6M277.3 376.3L272.59 360.68M277.3 376.3L275.07 360.04M277.3 376.3L278.22 359.99M277.3 376.3L265.64 383.11M277.3 376.3L264.67 380.54M277.3 376.3L264.62 378.13M277.3 376.3L264.03 374.74M277.3 376.3L264.89 371.93M277.3 376.3L266.45 368.49M277.3 376.3L268.35 366.43M277.3 376.3L270.98 364.67M277.3 376.3L274.58 363.37M277.3 376.3L277.05 363.6M277.3 376.3L268.57 381.03M277.3 376.3L267.41 378.83M277.3 376.3L267.81 375.62M277.3 376.3L267.73 372.63M277.3 376.3L270.17 370.17M277.3 376.3L272.38 368.47M277.3 376.3L274.17 367.08M277.3 376.3L277.82 366.54M300.4 369.3L289.16 351.47M300.4 369.3L290.93 350.53M300.4 369.3L293.26 349.71M300.4 369.3L295.33 348.9M300.4 369.3L297.65 348.59M300.4 369.3L300.23 348.24M300.4 369.3L302.54 348.44M300.4 369.3L304.75 348.86M300.4 369.3L307.16 349.5M300.4 369.3L309.36 350.16M300.4 369.3L311.4 351.3M300.4 369.3L291.74 354.3M300.4 369.3L293.76 352.27M300.4 369.3L297.1 352.33M300.4 369.3L299.16 351.51M300.4 369.3L302.03 351.88M300.4 369.3L305.55 351.81M300.4 369.3L307.96 353.24M300.4 369.3L309.73 354.66M300.4 369.3L292.27 357.03M300.4 369.3L295.64 355.28M300.4 369.3L298.43 355.3M300.4 369.3L302.08 354.72M300.4 369.3L305.17 355.12M300.4 369.3L307.86 356.76M300.4 369.3L294.13 359.33M300.4 369.3L296.92 358.45M300.4 369.3L300.27 358.31M300.4 369.3L304.09 357.97M300.4 369.3L306.26 359.85M322.9 374.5L320.23 353.79M322.9 374.5L322.39 353.5M322.9 374.5L324.82 353.67M322.9 374.5L326.99 353.8M322.9 374.5L329.35 354.5M322.9 374.5L331.57 355.45M322.9 374.5L333.74 356.63M322.9 374.5L335.53 357.78M322.9 374.5L337.4 359.46M322.9 374.5L338.98 361M322.9 374.5L340.45 362.97M322.9 374.5L341.59 364.97M322.9 374.5L342.73 367.21M322.9 374.5L343.4 369.5M322.9 374.5L343.59 371.97M322.9 374.5L344 374.32M322.9 374.5L343.93 376.66M322.9 374.5L343.34 378.89M322.9 374.5L320.63 356.39M322.9 374.5L323.27 357.19M322.9 374.5L326.23 357.35M322.9 374.5L329.4 357.87M322.9 374.5L332.68 359.83M322.9 374.5L334.77 361.4M322.9 374.5L336.5 363.23M322.9 374.5L339.02 366.1M322.9 374.5L339.83 369.12M322.9 374.5L340.06 371.97M322.9 374.5L340.7 375.34M322.9 374.5L340 378.53M322.9 374.5L320.81 360.1M322.9 374.5L323.75 359.65M322.9 374.5L326.27 360.78M322.9 374.5L329.3 361.6M322.9 374.5L332.27 363.12M322.9 374.5L334.42 365.44M322.9 374.5L336.43 367.75M322.9 374.5L337.28 370.7M322.9 374.5L337.39 374.22M322.9 374.5L337.06 376.96M322.9 374.5L321.47 363.1M322.9 374.5L325.51 363.79M322.9 374.5L327.54 364M322.9 374.5L330.31 366.48M322.9 374.5L332.93 368.81M322.9 374.5L333.7 370.93M322.9 374.5L334.63 374.56M322.9 374.5L334.12 377.55M284 401L272.79 414M284 401L271.18 412.29M284 401L269.94 410.24M284 401L268.53 408.17M284 401L267.79 406.01M284 401L267.26 403.84M284 401L266.92 401.45M284 401L267.04 399.04M284 401L267.67 396.81M284 401L268.18 394.44M284 401L269.3 392.19M284 401L270.8 390.43M284 401L272.25 388.72M284 401L274.17 387.12M284 401L276.03 385.78M284 401L278.3 385.15M284 401L275.41 411.61M284 401L272.54 408.81M284 401L271.11 406.8M284 401L270.69 403.68M284 401L270.63 399.83M284 401L270.55 396.57M284 401L272.37 394.42M284 401L273.92 391.6M284 401L276.13 389.86M284 401L279.64 388.51M284 401L277.2 408.32M284 401L275.07 406.16M284 401L274.1 403.7M284 401L273.79 400.55M284 401L273.89 397.45M284 401L275.3 394.79M284 401L278.36 391.98M284 401L280.69 391M284 401L279.54 406.4M284 401L277.01 404.21M284 401L276.45 401.92M284 401L277.5 398.29M284 401L278.79 395.79M284 401L281.67 394.19M290.6 412.4L286.67 431.16M290.6 412.4L284.41 430.53M290.6 412.4L282.24 429.38M290.6 412.4L280.23 428.4M290.6 412.4L278.3 426.96M290.6 412.4L276.64 425.25M290.6 412.4L275.17 423.38M290.6 412.4L273.95 421.3M290.6 412.4L273.02 419.31M290.6 412.4L272.24 417.12M290.6 412.4L271.79 414.68M290.6 412.4L271.47 412.4M290.6 412.4L271.7 409.94M290.6 412.4L272.3 407.73M290.6 412.4L272.69 405.84M290.6 412.4L287.76 427.76M290.6 412.4L284.67 427.11M290.6 412.4L282.73 426.02M290.6 412.4L280.26 424.1M290.6 412.4L277.63 421.75M290.6 412.4L275.78 418.85M290.6 412.4L275.19 416.26M290.6 412.4L274.97 413.12M290.6 412.4L274.91 409.81M290.6 412.4L275.68 407.53M290.6 412.4L287.63 424.3M290.6 412.4L285.01 423.82M290.6 412.4L282.22 422.27M290.6 412.4L280.53 419.8M290.6 412.4L278.54 416.56M290.6 412.4L277.6 413.56M290.6 412.4L278.09 411.03M290.6 412.4L278.33 408M290.6 412.4L288.45 421.81M290.6 412.4L285.71 420.18M290.6 412.4L283.42 417.78M290.6 412.4L281.95 415.68M290.6 412.4L280.81 412.11M290.6 412.4L281.44 409.64M287.2 441.3L297.11 456.16M287.2 441.3L295.32 457.41M287.2 441.3L293.13 458.38M287.2 441.3L290.91 458.97M287.2 441.3L288.57 459.38M287.2 441.3L286.11 459.33M287.2 441.3L283.75 459.06M287.2 441.3L281.48 458.48M287.2 441.3L279.36 457.46M287.2 441.3L277.18 456.22M287.2 441.3L275.42 454.95M287.2 441.3L273.71 453.25M287.2 441.3L272.2 451.22M287.2 441.3L271.02 449.24M287.2 441.3L270.12 447.15M287.2 441.3L269.45 444.79M287.2 441.3L269.3 442.62M287.2 441.3L295.38 453.61M287.2 441.3L293.28 454.46M287.2 441.3L290.35 456.15M287.2 441.3L287.44 456.29M287.2 441.3L284.64 456.07M287.2 441.3L281.21 454.39M287.2 441.3L278.48 453.62M287.2 441.3L276.66 451.77M287.2 441.3L274.38 449.08M287.2 441.3L273.22 446.13M287.2 441.3L272.22 442.72M287.2 441.3L293.22 450.75M287.2 441.3L291.25 452.14M287.2 441.3L287.77 452.83M287.2 441.3L284.71 452.83M287.2 441.3L281.73 451.66M287.2 441.3L279.73 449.65M287.2 441.3L277.78 447.5M287.2 441.3L276.23 444.72M287.2 441.3L275.51 441.92M287.2 441.3L292.16 448.14M287.2 441.3L289.73 449.72M287.2 441.3L286.33 449.26M287.2 441.3L283.27 449M287.2 441.3L281.84 447.17M287.2 441.3L279.78 445.23M287.2 441.3L278.99 442.39M328.9 406.5L332.29 389.72M328.9 406.5L334.55 390.39M328.9 406.5L336.88 391.48M328.9 406.5L338.76 392.77M328.9 406.5L340.75 394.13M328.9 406.5L342.29 396.06M328.9 406.5L343.48 398.04M328.9 406.5L344.78 399.96M328.9 406.5L345.24 402.27M328.9 406.5L345.85 404.8M328.9 406.5L345.86 407.1M328.9 406.5L345.52 409.45M328.9 406.5L345.12 411.58M328.9 406.5L344.29 414M328.9 406.5L343.06 415.84M328.9 406.5L341.72 417.92M328.9 406.5L339.83 419.46M328.9 406.5L337.92 420.89M328.9 406.5L335.82 422.11M328.9 406.5L333.74 422.71M328.9 406.5L331.99 423.28M328.9 406.5L331.98 392.94M328.9 406.5L334.82 394.39M328.9 406.5L336.91 395.73M328.9 406.5L339.34 397.42M328.9 406.5L340.93 400.09M328.9 406.5L341.9 402.95M328.9 406.5L342.99 405.09M328.9 406.5L342.94 408.21M328.9 406.5L341.79 411.44M328.9 406.5L340.38 413.5M328.9 406.5L338.99 415.96M328.9 406.5L336.05 418.42M328.9 406.5L333.52 419.82M328.9 406.5L331.5 419.87M328.9 406.5L331.19 395.65M328.9 406.5L333.1 396.67M328.9 406.5L335.7 398.35M328.9 406.5L337.63 400.27M328.9 406.5L339.16 402.48M328.9 406.5L339.2 405.97M328.9 406.5L339.07 408.8M328.9 406.5L338.23 411.52M328.9 406.5L336.44 414.12M328.9 406.5L334.02 415.89M328.9 406.5L331.22 416.54M302.6 392.6L287.74 389.88M302.6 392.6L288.28 388.24M302.6 392.6L289.03 385.92M302.6 392.6L290.31 384.07M302.6 392.6L291.93 382.21M302.6 392.6L293.46 380.54M302.6 392.6L295.38 379.32M302.6 392.6L297.51 378.31M302.6 392.6L299.86 377.79M302.6 392.6L302.3 377.62M302.6 392.6L304.54 377.61M302.6 392.6L306.87 378.18M302.6 392.6L309.05 379.03M302.6 392.6L310.95 380.13M302.6 392.6L312.69 381.45M302.6 392.6L314.5 383.29M302.6 392.6L315.76 385.19M302.6 392.6L316.52 387.37M302.6 392.6L317.16 389.46M302.6 392.6L290.8 390.95M302.6 392.6L291.52 387.88M302.6 392.6L293.61 385.38M302.6 392.6L295.41 383.06M302.6 392.6L298.25 381.55M302.6 392.6L301.56 381.37M302.6 392.6L303.99 381.03M302.6 392.6L307.18 381.92M302.6 392.6L310.12 382.86M302.6 392.6L311.53 385.39M302.6 392.6L313.03 387.46M302.6 392.6L313.8 390.05M302.6 392.6L294.22 390.9M302.6 392.6L294.85 388.57M302.6 392.6L297.22 386.01M302.6 392.6L299.78 384.97M302.6 392.6L302.81 384.13M302.6 392.6L305.63 384.93M302.6 392.6L308 386.01M302.6 392.6L310.16 388.64M302.6 392.6L311.38 390.6M303.3 412.4L299.96 423.35M290.6 412.4L299.96 423.35M287.2 441.3L302.12 424.09M290.6 412.4L302.12 424.09M305.3 407.8L293.08 419.99M303.3 412.4L293.08 419.99M303.3 412.4L302.46 421.14M287.2 441.3L302.46 421.14M305.3 407.8L298 422.12M303.3 412.4L298 422.12M290.6 412.4L300.31 415.21M287.2 441.3L300.31 415.21M303.3 412.4L293.38 419.45M305.3 407.8L293.38 419.45M287.2 441.3L302.62 419.91M305.3 407.8L302.62 419.91M303.3 412.4L293.61 420.84M287.2 441.3L293.61 420.84M287.2 441.3L300.22 421.71M303.3 412.4L300.22 421.71M287.2 441.3L292.3 420.16M303.3 412.4L292.3 420.16M303.3 412.4L300.02 420.47M290.6 412.4L300.02 420.47M305.3 407.8L302.59 424.1M303.3 412.4L302.59 424.1M305.3 407.8L301.24 416.52M287.2 441.3L301.24 416.52M287.2 441.3L292.51 419.36M303.3 412.4L292.51 419.36M303.3 412.4L296.51 420.57M287.2 441.3L296.51 420.57M287.2 441.3L300.55 422.75M305.3 407.8L300.55 422.75M290.6 412.4L303.47 421M303.3 412.4L303.47 421M287.2 441.3L300.83 424.36M305.3 407.8L300.83 424.36M305.3 407.8L299.02 426.34M290.6 412.4L299.02 426.34M302.6 392.6L316.56 396.42M305.3 407.8L316.56 396.42M305.3 407.8L314.96 396.67M302.6 392.6L314.96 396.67M302.6 392.6L315.02 392.88M305.3 407.8L315.02 392.88M302.6 392.6L308.48 396.82M305.3 407.8L308.48 396.82M305.3 407.8L311.12 403.26M302.6 392.6L311.12 403.26M302.6 392.6L315.92 396.28M305.3 407.8L315.92 396.28M305.3 407.8L311.18 392.57M302.6 392.6L311.18 392.57M305.3 407.8L308.06 399.38M302.6 392.6L308.06 399.38M302.6 392.6L308.73 398.94M305.3 407.8L308.73 398.94M305.3 407.8L309.39 396.74M302.6 392.6L309.39 396.74M305.3 407.8L310.29 401.75M302.6 392.6L310.29 401.75M302.6 392.6L317.33 397.61M305.3 407.8L317.33 397.61M277.3 376.3L300.4 369.3M300.4 369.3L322.9 374.5M277.3 376.3L302.6 392.6M300.4 369.3L302.6 392.6M322.9 374.5L302.6 392.6M302.6 392.6L284 401M302.6 392.6L305.3 407.8M284 401L290.6 412.4M305.3 407.8L303.3 412.4M290.6 412.4L303.3 412.4M305.3 407.8L328.9 406.5M290.6 412.4L287.2 441.3M303.3 412.4L287.2 441.3M277.3 376.3L284 401M322.9 374.5L328.9 406.5M322.9 374.5L278.03 356.42M287.2 441.3L343.48 398.04M300.4 369.3L284.41 430.53M300.4 369.3L293.28 454.46M303.3 412.4L335.82 422.11M322.9 374.5L258.16 370.47M322.9 374.5L293.13 458.38M303.3 412.4L268.35 366.43M305.3 407.8L267.04 399.04M290.6 412.4L295.41 383.06M300.4 369.3L302.81 384.13M328.9 406.5L286.67 431.16M305.3 407.8L285.01 423.82M303.3 412.4L298.25 381.55M277.3 376.3L341.9 402.95M300.4 369.3L290.8 390.95M284 401L321.47 363.1M300.4 369.3L336.43 367.75M300.4 369.3L269.45 444.79M300.4 369.3L310.12 382.86M322.9 374.5L287.44 456.29M284 401L300.83 424.36M277.3 376.3L268.85 358.28M277.3 376.3L278.79 395.79M305.3 407.8L272.37 394.42M290.6 412.4L274.91 409.81M302.6 392.6L307.86 356.76M290.6 412.4L331.99 423.28M322.9 374.5L337.63 400.27M322.9 374.5L335.53 357.78M287.2 441.3L274.58 363.37M287.2 441.3L282.22 422.27M302.6 392.6L302.59 424.1M287.2 441.3L338.76 392.77M302.6 392.6L305.17 355.12M284 401L291.25 452.14M284 401L293.22 450.75M277.3 376.3L298 422.12M284 401L284.71 452.83M328.9 406.5L300.22 421.71M300.4 369.3L320.23 353.79M305.3 407.8L290.35 456.15M284 401L290.31 384.07M290.6 412.4L313.8 390.05M284 401L300.55 422.75M284 401L273.22 446.13M290.6 412.4L329.4 357.87M300.4 369.3L283.27 449M290.6 412.4L325.51 363.79M305.3 407.8L339.07 408.8M284 401L336.44 414.12M284 401L314.96 396.67M290.6 412.4L262.87 362.48M277.3 376.3L272.25 388.72M277.3 376.3L337.63 400.27M303.3 412.4L310.95 380.13M302.6 392.6L271.11 406.8M305.3 407.8L310.95 380.13M302.6 392.6L326.27 360.78M284 401L291.52 387.88M322.9 374.5L292.3 420.16M300.4 369.3L301.56 381.37M277.3 376.3L301.56 381.37M303.3 412.4L273.89 397.45M287.2 441.3L275.78 356.46M322.9 374.5L280.26 424.1M284 401L270.17 370.17M290.6 412.4L281.67 394.19M302.6 392.6L338.98 361M328.9 406.5L307.96 353.24M328.9 406.5L277.63 421.75M284 401L342.29 396.06M284 401L329.35 354.5M284 401L286.33 449.26M300.4 369.3L276.64 425.25M300.4 369.3L281.73 451.66M302.6 392.6L302.08 354.72M290.6 412.4L300.22 421.71M305.3 407.8L331.5 419.87M290.6 412.4L270.17 370.17M284 401L258.16 370.47M300.4 369.3L336.91 395.73M305.3 407.8L274.38 449.08M284 401L302.62 419.91M290.6 412.4L289.03 385.92M305.3 407.8L313.03 387.46M302.6 392.6L300.23 348.24M277.3 376.3L277.78 447.5M328.9 406.5L291.52 387.88M287.2 441.3L281.67 394.19M300.4 369.3L329.3 361.6M303.3 412.4L311.53 385.39M284 401L314.96 396.67M290.6 412.4L302.81 384.13M322.9 374.5L309.36 350.16M277.3 376.3L261.07 373.36M303.3 412.4L275.07 406.16M300.4 369.3L309.36 350.16M328.9 406.5L321.47 363.1M290.6 412.4L292.27 357.03M305.3 407.8L274.38 449.08M328.9 406.5L293.38 419.45M287.2 441.3L281.48 458.48M290.6 412.4L306.26 359.85M300.4 369.3L310.16 388.64M287.2 441.3L278.99 442.39M284 401L295.32 457.41M305.3 407.8L273.52 356.65M303.3 412.4L323.75 359.65M302.6 392.6L287.44 456.29" stroke="#cdbfc6" stroke-width="0.33" fill="none" stroke-opacity="0.9"/>
<path d="M260.11 386.69h0M259.04 384.71h0M258.3 382.51h0M257.53 380.04h0M257.21 377.6h0M257.33 375.14h0M257.5 372.94h0M258.16 370.47h0M259 368.39h0M259.92 366.25h0M261.46 364.11h0M262.87 362.48h0M264.7 360.6h0M266.59 359.44h0M268.85 358.28h0M271.13 357.31h0M273.52 356.65h0M275.78 356.46h0M278.03 356.42h0M263.37 384.54h0M261.56 382.11h0M260.58 379.18h0M260.3 376.25h0M261.07 373.36h0M261.58 370.31h0M262.75 368.34h0M264.87 365.58h0M266.54 363.62h0M269.02 361.6h0M272.59 360.68h0M275.07 360.04h0M278.22 359.99h0M265.64 383.11h0M264.67 380.54h0M264.62 378.13h0M264.03 374.74h0M264.89 371.93h0M266.45 368.49h0M268.35 366.43h0M270.98 364.67h0M274.58 363.37h0M277.05 363.6h0M268.57 381.03h0M267.41 378.83h0M267.81 375.62h0M267.73 372.63h0M270.17 370.17h0M272.38 368.47h0M274.17 367.08h0M277.82 366.54h0M289.16 351.47h0M290.93 350.53h0M293.26 349.71h0M295.33 348.9h0M297.65 348.59h0M300.23 348.24h0M302.54 348.44h0M304.75 348.86h0M307.16 349.5h0M309.36 350.16h0M311.4 351.3h0M291.74 354.3h0M293.76 352.27h0M297.1 352.33h0M299.16 351.51h0M302.03 351.88h0M305.55 351.81h0M307.96 353.24h0M309.73 354.66h0M292.27 357.03h0M295.64 355.28h0M298.43 355.3h0M302.08 354.72h0M305.17 355.12h0M307.86 356.76h0M294.13 359.33h0M296.92 358.45h0M300.27 358.31h0M304.09 357.97h0M306.26 359.85h0M320.23 353.79h0M322.39 353.5h0M324.82 353.67h0M326.99 353.8h0M329.35 354.5h0M331.57 355.45h0M333.74 356.63h0M335.53 357.78h0M337.4 359.46h0M338.98 361h0M340.45 362.97h0M341.59 364.97h0M342.73 367.21h0M343.4 369.5h0M343.59 371.97h0M344 374.32h0M343.93 376.66h0M343.34 378.89h0M320.63 356.39h0M323.27 357.19h0M326.23 357.35h0M329.4 357.87h0M332.68 359.83h0M334.77 361.4h0M336.5 363.23h0M339.02 366.1h0M339.83 369.12h0M340.06 371.97h0M340.7 375.34h0M340 378.53h0M320.81 360.1h0M323.75 359.65h0M326.27 360.78h0M329.3 361.6h0M332.27 363.12h0M334.42 365.44h0M336.43 367.75h0M337.28 370.7h0M337.39 374.22h0M337.06 376.96h0M321.47 363.1h0M325.51 363.79h0M327.54 364h0M330.31 366.48h0M332.93 368.81h0M333.7 370.93h0M334.63 374.56h0M334.12 377.55h0M272.79 414h0M271.18 412.29h0M269.94 410.24h0M268.53 408.17h0M267.79 406.01h0M267.26 403.84h0M266.92 401.45h0M267.04 399.04h0M267.67 396.81h0M268.18 394.44h0M269.3 392.19h0M270.8 390.43h0M272.25 388.72h0M274.17 387.12h0M276.03 385.78h0M278.3 385.15h0M275.41 411.61h0M272.54 408.81h0M271.11 406.8h0M270.69 403.68h0M270.63 399.83h0M270.55 396.57h0M272.37 394.42h0M273.92 391.6h0M276.13 389.86h0M279.64 388.51h0M277.2 408.32h0M275.07 406.16h0M274.1 403.7h0M273.79 400.55h0M273.89 397.45h0M275.3 394.79h0M278.36 391.98h0M280.69 391h0M279.54 406.4h0M277.01 404.21h0M276.45 401.92h0M277.5 398.29h0M278.79 395.79h0M281.67 394.19h0M286.67 431.16h0M284.41 430.53h0M282.24 429.38h0M280.23 428.4h0M278.3 426.96h0M276.64 425.25h0M275.17 423.38h0M273.95 421.3h0M273.02 419.31h0M272.24 417.12h0M271.79 414.68h0M271.47 412.4h0M271.7 409.94h0M272.3 407.73h0M272.69 405.84h0M287.76 427.76h0M284.67 427.11h0M282.73 426.02h0M280.26 424.1h0M277.63 421.75h0M275.78 418.85h0M275.19 416.26h0M274.97 413.12h0M274.91 409.81h0M275.68 407.53h0M287.63 424.3h0M285.01 423.82h0M282.22 422.27h0M280.53 419.8h0M278.54 416.56h0M277.6 413.56h0M278.09 411.03h0M278.33 408h0M288.45 421.81h0M285.71 420.18h0M283.42 417.78h0M281.95 415.68h0M280.81 412.11h0M281.44 409.64h0M297.11 456.16h0M295.32 457.41h0M293.13 458.38h0M290.91 458.97h0M288.57 459.38h0M286.11 459.33h0M283.75 459.06h0M281.48 458.48h0M279.36 457.46h0M277.18 456.22h0M275.42 454.95h0M273.71 453.25h0M272.2 451.22h0M271.02 449.24h0M270.12 447.15h0M269.45 444.79h0M269.3 442.62h0M295.38 453.61h0M293.28 454.46h0M290.35 456.15h0M287.44 456.29h0M284.64 456.07h0M281.21 454.39h0M278.48 453.62h0M276.66 451.77h0M274.38 449.08h0M273.22 446.13h0M272.22 442.72h0M293.22 450.75h0M291.25 452.14h0M287.77 452.83h0M284.71 452.83h0M281.73 451.66h0M279.73 449.65h0M277.78 447.5h0M276.23 444.72h0M275.51 441.92h0M292.16 448.14h0M289.73 449.72h0M286.33 449.26h0M283.27 449h0M281.84 447.17h0M279.78 445.23h0M278.99 442.39h0M332.29 389.72h0M334.55 390.39h0M336.88 391.48h0M338.76 392.77h0M340.75 394.13h0M342.29 396.06h0M343.48 398.04h0M344.78 399.96h0M345.24 402.27h0M345.85 404.8h0M345.86 407.1h0M345.52 409.45h0M345.12 411.58h0M344.29 414h0M343.06 415.84h0M341.72 417.92h0M339.83 419.46h0M337.92 420.89h0M335.82 422.11h0M333.74 422.71h0M331.99 423.28h0M331.98 392.94h0M334.82 394.39h0M336.91 395.73h0M339.34 397.42h0M340.93 400.09h0M341.9 402.95h0M342.99 405.09h0M342.94 408.21h0M341.79 411.44h0M340.38 413.5h0M338.99 415.96h0M336.05 418.42h0M333.52 419.82h0M331.5 419.87h0M331.19 395.65h0M333.1 396.67h0M335.7 398.35h0M337.63 400.27h0M339.16 402.48h0M339.2 405.97h0M339.07 408.8h0M338.23 411.52h0M336.44 414.12h0M334.02 415.89h0M331.22 416.54h0M287.74 389.88h0M288.28 388.24h0M289.03 385.92h0M290.31 384.07h0M291.93 382.21h0M293.46 380.54h0M295.38 379.32h0M297.51 378.31h0M299.86 377.79h0M302.3 377.62h0M304.54 377.61h0M306.87 378.18h0M309.05 379.03h0M310.95 380.13h0M312.69 381.45h0M314.5 383.29h0M315.76 385.19h0M316.52 387.37h0M317.16 389.46h0M290.8 390.95h0M291.52 387.88h0M293.61 385.38h0M295.41 383.06h0M298.25 381.55h0M301.56 381.37h0M303.99 381.03h0M307.18 381.92h0M310.12 382.86h0M311.53 385.39h0M313.03 387.46h0M313.8 390.05h0M294.22 390.9h0M294.85 388.57h0M297.22 386.01h0M299.78 384.97h0M302.81 384.13h0M305.63 384.93h0M308 386.01h0M310.16 388.64h0M311.38 390.6h0M299.96 423.35h0M302.12 424.09h0M293.08 419.99h0M302.46 421.14h0M298 422.12h0M300.31 415.21h0M293.38 419.45h0M302.62 419.91h0M293.61 420.84h0M300.22 421.71h0M292.3 420.16h0M300.02 420.47h0M302.59 424.1h0M301.24 416.52h0M292.51 419.36h0M296.51 420.57h0M300.55 422.75h0M303.47 421h0M300.83 424.36h0M299.02 426.34h0M316.56 396.42h0M314.96 396.67h0M315.02 392.88h0M308.48 396.82h0M311.12 403.26h0M315.92 396.28h0M311.18 392.57h0M308.06 399.38h0M308.73 398.94h0M309.39 396.74h0M310.29 401.75h0M317.33 397.61h0" stroke="#1ab3e0" stroke-width="1.6" stroke-linecap="round" />
<path d="M277.3 376.3h0M300.4 369.3h0M322.9 374.5h0M302.6 392.6h0M284 401h0M305.3 407.8h0M290.6 412.4h0M303.3 412.4h0M328.9 406.5h0M287.2 441.3h0" stroke="#f3b6f0" stroke-width="4.4" stroke-linecap="round" />
<text x="306.6" y="394.2" font-size="7.3" text-anchor="start" fill="#111" stroke="#111" stroke-width="0.06" >Axonogenesis</text>
<text x="298.4" y="428.2" font-size="7.3" text-anchor="start" fill="#111" stroke="#111" stroke-width="0.06" >Forebrain development</text>
<text x="358.3" y="394.4" font-size="3.4" text-anchor="start" fill="#444" stroke="#444" stroke-width="0.036" >Counts</text>
<circle cx="361" cy="397.3" r="1.0" fill="none" stroke="#333" stroke-width="0.6"/>
<text x="364.9" y="398.5" font-size="3.3" text-anchor="start" fill="#444" stroke="#444" stroke-width="0.036" >20</text>
<circle cx="361" cy="401.5" r="1.3" fill="none" stroke="#333" stroke-width="0.6"/>
<text x="364.9" y="402.7" font-size="3.3" text-anchor="start" fill="#444" stroke="#444" stroke-width="0.036" >30</text>
<circle cx="361" cy="406" r="1.7" fill="none" stroke="#333" stroke-width="0.6"/>
<text x="364.9" y="407.2" font-size="3.3" text-anchor="start" fill="#444" stroke="#444" stroke-width="0.036" >40</text>
<circle cx="361" cy="410.5" r="2.0" fill="none" stroke="#333" stroke-width="0.6"/>
<text x="364.9" y="411.7" font-size="3.3" text-anchor="start" fill="#444" stroke="#444" stroke-width="0.036" >50</text>
<circle cx="361" cy="415.7" r="2.3" fill="none" stroke="#333" stroke-width="0.6"/>
<text x="364.9" y="416.9" font-size="3.3" text-anchor="start" fill="#444" stroke="#444" stroke-width="0.036" >60</text>
<path d="M463.3 375L437.37 373.58M463.3 375L437.39 372.82M463.3 375L437.56 371.69M463.3 375L437.67 370.52M463.3 375L437.87 369.5M463.3 375L438.2 368.46M463.3 375L438.48 367.38M463.3 375L438.72 366.41M463.3 375L439.23 365.29M463.3 375L439.53 364.3M463.3 375L440.08 363.36M463.3 375L440.61 362.34M463.3 375L441.16 361.36M463.3 375L441.67 360.38M463.3 375L442.46 359.62M463.3 375L443.02 358.75M463.3 375L443.77 357.77M463.3 375L444.57 357.04M463.3 375L445.37 356.28M463.3 375L446.03 355.52M463.3 375L446.99 354.86M463.3 375L447.78 354.12M463.3 375L448.75 353.42M463.3 375L449.7 352.93M463.3 375L450.51 352.34M463.3 375L451.53 351.75M463.3 375L452.57 351.41M463.3 375L453.57 350.82M463.3 375L454.59 350.55M463.3 375L455.72 350.19M463.3 375L456.62 349.94M463.3 375L457.79 349.52M463.3 375L458.79 349.31M463.3 375L459.97 349.16M463.3 375L461.09 349.03M463.3 375L462.14 349.02M463.3 375L463.16 348.91M463.3 375L464.41 349.11M463.3 375L465.37 349.13M463.3 375L466.63 349.28M463.3 375L467.7 349.33M463.3 375L468.75 349.57M463.3 375L469.86 349.86M463.3 375L440.58 373.19M463.3 375L440.95 369.9M463.3 375L441.52 367.38M463.3 375L442.91 364.35M463.3 375L444.68 361.42M463.3 375L446.69 359.39M463.3 375L448.86 356.93M463.3 375L451.36 355.04M463.3 375L454.55 353.93M463.3 375L457.61 352.89M463.3 375L460.7 352.01M463.3 375L463.38 351.83M463.3 375L466.63 352.55M463.3 375L469.09 352.76M463.3 375L443.04 373.98M463.3 375L443.69 371.45M463.3 375L444.7 368.54M463.3 375L446.04 365.42M463.3 375L447.41 362.45M463.3 375L449.9 360.09M463.3 375L451.99 358.42M463.3 375L454.9 356.82M463.3 375L457.99 355.62M463.3 375L461.06 355.02M463.3 375L464.49 354.9M463.3 375L467.57 355.56M463.3 375L446.16 373.55M463.3 375L446.68 370.95M463.3 375L447.68 368.07M463.3 375L449.05 365.47M463.3 375L451.02 362.86M463.3 375L453.68 361.06M463.3 375L456.25 359.44M463.3 375L459.11 358.43M463.3 375L461.98 358.02M463.3 375L465.26 358.24M463.3 375L467.73 358.79M463.3 375L449.46 374.11M463.3 375L449.92 370.86M463.3 375L451.34 368.25M463.3 375L453.08 365.7M463.3 375L454.93 363.34M463.3 375L458.16 362.19M463.3 375L461.16 361.44M463.3 375L463.86 361.31M463.3 375L466.99 361.62M463.3 375L452.17 374.39M463.3 375L452.95 371.09M463.3 375L454.44 368.32M463.3 375L456.72 365.87M463.3 375L459.93 364.51M463.3 375L462.86 364.18M463.3 375L466.27 364.34M476.5 379.2L457.5 368.15M476.5 379.2L457.98 367.29M476.5 379.2L458.73 366.31M476.5 379.2L459.35 365.45M476.5 379.2L460 364.5M476.5 379.2L460.94 363.77M476.5 379.2L461.65 362.87M476.5 379.2L462.65 362.19M476.5 379.2L463.52 361.54M476.5 379.2L464.38 360.81M476.5 379.2L465.48 360.15M476.5 379.2L466.37 359.72M476.5 379.2L467.51 359.15M476.5 379.2L468.45 358.76M476.5 379.2L469.56 358.36M476.5 379.2L470.66 357.92M476.5 379.2L471.85 357.68M476.5 379.2L472.93 357.48M476.5 379.2L474.08 357.33M476.5 379.2L459.94 369.58M476.5 379.2L462.28 366.78M476.5 379.2L464.78 364.25M476.5 379.2L467.76 362.36M476.5 379.2L471.37 360.96M476.5 379.2L474.5 360.57M476.5 379.2L462.39 371.1M476.5 379.2L463.98 369.14M476.5 379.2L466.6 366.61M476.5 379.2L468.98 364.94M476.5 379.2L471.88 363.89M476.5 379.2L474.35 363.39M476.5 379.2L465.48 372.96M476.5 379.2L466.71 370.57M476.5 379.2L469.06 368.38M476.5 379.2L471.33 367.06M476.5 379.2L474.25 366.58M476.5 379.2L468.16 374.07M476.5 379.2L469.84 371.46M476.5 379.2L472.74 370.13M476.5 379.2L475.53 369.15M476.5 379.2L480.05 353.47M476.5 379.2L481.25 353.65M476.5 379.2L482.29 353.87M476.5 379.2L483.34 354.12M476.5 379.2L484.54 354.45M476.5 379.2L485.47 354.88M476.5 379.2L486.54 355.16M476.5 379.2L487.66 355.76M476.5 379.2L488.59 356.21M476.5 379.2L489.64 356.7M476.5 379.2L490.64 357.32M476.5 379.2L491.59 358M476.5 379.2L492.47 358.63M476.5 379.2L493.39 359.3M476.5 379.2L494.16 360.07M476.5 379.2L494.93 360.85M476.5 379.2L495.79 361.68M476.5 379.2L496.46 362.61M476.5 379.2L497.26 363.45M476.5 379.2L497.92 364.44M476.5 379.2L498.6 365.43M476.5 379.2L499.19 366.32M476.5 379.2L499.71 367.31M476.5 379.2L500.1 368.35M476.5 379.2L500.5 369.45M476.5 379.2L500.92 370.49M476.5 379.2L501.27 371.53M476.5 379.2L501.61 372.72M476.5 379.2L501.88 373.71M476.5 379.2L502.1 374.79M476.5 379.2L502.3 375.77M476.5 379.2L479.39 356.31M476.5 379.2L482.3 356.73M476.5 379.2L484.76 357.72M476.5 379.2L487.74 358.98M476.5 379.2L489.99 360.66M476.5 379.2L492.79 362.93M476.5 379.2L494.5 364.89M476.5 379.2L496.05 367.51M476.5 379.2L497.75 369.94M476.5 379.2L498.7 372.68M476.5 379.2L499.14 375.73M476.5 379.2L479.66 359.45M476.5 379.2L482.73 360.24M476.5 379.2L485.77 361.34M476.5 379.2L488.74 363.41M476.5 379.2L490.91 365.35M476.5 379.2L493.29 367.66M476.5 379.2L494.81 370.59M476.5 379.2L495.59 373.77M476.5 379.2L496.4 376.48M476.5 379.2L478.75 362.6M476.5 379.2L481.89 362.92M476.5 379.2L484.83 364.37M476.5 379.2L487.25 366.26M476.5 379.2L489.31 368.67M476.5 379.2L491.62 370.74M476.5 379.2L492.78 373.69M476.5 379.2L493.65 376.95M476.5 379.2L478.55 365.47M476.5 379.2L481.36 366.36M476.5 379.2L484.2 367.4M476.5 379.2L486.63 369.57M476.5 379.2L488.23 371.8M476.5 379.2L489.71 374.79M476.5 379.2L490.5 377.15M476.5 379.2L478.42 368.68M476.5 379.2L481.8 369.57M476.5 379.2L484.59 371.59M476.5 379.2L486.86 374.92M476.5 379.2L487.56 377.56M493.8 396L499.61 369.6M493.8 396L500.71 369.93M493.8 396L501.8 370.25M493.8 396L502.96 370.59M493.8 396L503.98 371.05M493.8 396L505.04 371.39M493.8 396L506.03 371.94M493.8 396L506.88 372.49M493.8 396L508.01 373.07M493.8 396L508.85 373.65M493.8 396L509.86 374.24M493.8 396L510.72 374.92M493.8 396L511.63 375.66M493.8 396L512.34 376.4M493.8 396L513.2 377.19M493.8 396L513.92 378.05M493.8 396L514.65 378.88M493.8 396L515.3 379.74M493.8 396L515.97 380.68M493.8 396L516.62 381.6M493.8 396L517.15 382.67M493.8 396L517.72 383.49M493.8 396L518.28 384.5M493.8 396L518.73 385.69M493.8 396L519.05 386.65M493.8 396L519.56 387.67M493.8 396L519.76 388.72M493.8 396L520.13 389.93M493.8 396L520.32 390.96M493.8 396L520.6 392.05M493.8 396L520.71 393.27M493.8 396L520.74 394.38M493.8 396L520.76 395.53M493.8 396L520.84 396.6M493.8 396L520.81 397.74M493.8 396L520.72 398.8M493.8 396L520.49 400.02M493.8 396L520.31 401.02M493.8 396L520.15 402.12M493.8 396L519.8 403.25M493.8 396L519.41 404.38M493.8 396L519.14 405.3M493.8 396L518.63 406.39M493.8 396L518.24 407.51M493.8 396L517.81 408.5M493.8 396L499.36 372.4M493.8 396L502.26 373.72M493.8 396L504.92 374.73M493.8 396L507.57 376.45M493.8 396L510.17 378.54M493.8 396L512.22 380.88M493.8 396L514 383.59M493.8 396L515.9 386.13M493.8 396L517.03 389.23M493.8 396L517.53 392.27M493.8 396L517.76 395.1M493.8 396L517.91 398.29M493.8 396L517.37 401.48M493.8 396L516.26 404.62M493.8 396L515 407.38M493.8 396L498.82 375.53M493.8 396L502.16 376.9M493.8 396L504.69 377.88M493.8 396L507.4 379.95M493.8 396L509.62 382.29M493.8 396L511.27 384.84M493.8 396L513.17 387.66M493.8 396L513.81 390.7M493.8 396L514.94 393.92M493.8 396L514.78 396.94M493.8 396L514.21 400.17M493.8 396L513.77 403.07M493.8 396L512.5 405.71M493.8 396L497.54 378.28M493.8 396L499.96 378.94M493.8 396L503.36 380.51M493.8 396L505.91 382.59M493.8 396L508.06 384.98M493.8 396L509.54 387.53M493.8 396L510.82 391.03M493.8 396L511.82 394.35M493.8 396L511.86 397.2M493.8 396L511.25 400.71M493.8 396L509.93 403.66M493.8 396L497.31 381.18M493.8 396L500.59 382.41M493.8 396L503.01 384.39M493.8 396L504.98 386.06M493.8 396L506.81 388.57M493.8 396L508.11 391.22M493.8 396L508.91 394.79M493.8 396L508.55 397.48M493.8 396L508.03 400.65M493.8 396L507.05 403.14M493.8 396L496.94 384.23M493.8 396L500.02 385.44M493.8 396L502.36 387.46M493.8 396L504.48 390.1M493.8 396L505.64 393.12M493.8 396L505.95 396.28M493.8 396L505.51 399.42M493.8 396L504.63 401.47M493.8 396L495.59 387.4M493.8 396L498.08 388.37M493.8 396L500.53 390.06M493.8 396L502.5 393.37M493.8 396L502.96 396.41M493.8 396L502.13 399.82M492 414.4L519.83 411.88M492 414.4L519.93 412.98M492 414.4L519.95 414.12M492 414.4L520.02 415.27M492 414.4L519.89 416.4M492 414.4L519.88 417.36M492 414.4L519.65 418.49M492 414.4L519.47 419.68M492 414.4L519.35 420.83M492 414.4L518.95 421.88M492 414.4L518.67 422.86M492 414.4L518.26 424.01M492 414.4L517.89 425.1M492 414.4L517.4 426.18M492 414.4L517.02 427.07M492 414.4L516.35 428.05M492 414.4L515.82 429.07M492 414.4L515.22 430.04M492 414.4L514.63 430.86M492 414.4L513.84 431.83M492 414.4L513.18 432.76M492 414.4L512.47 433.53M492 414.4L511.67 434.32M492 414.4L510.82 435.19M492 414.4L510.01 435.79M492 414.4L509.13 436.59M492 414.4L508.26 437.17M492 414.4L516.79 412.51M492 414.4L516.91 414.71M492 414.4L516.58 417.94M492 414.4L516.23 421.02M492 414.4L514.74 424.28M492 414.4L513.26 426.86M492 414.4L511.46 429.74M492 414.4L509.28 432.55M492 414.4L507.11 434.56M492 414.4L513.83 412.5M492 414.4L513.64 415.86M492 414.4L513.36 419.34M492 414.4L512.62 422.72M492 414.4L511.24 425.48M492 414.4L509.31 428.41M492 414.4L507.21 430.62M492 414.4L504.74 432.62M492 414.4L510.99 413.39M492 414.4L511.14 416.54M492 414.4L510.09 420.2M492 414.4L508.96 423.03M492 414.4L507.13 425.49M492 414.4L505.04 428.44M492 414.4L502.86 429.74M492 414.4L507.67 413.22M492 414.4L508.02 415.83M492 414.4L507.54 418.66M492 414.4L506.09 421.83M492 414.4L504.04 424.6M492 414.4L501.75 426.99M492 414.4L505.13 413.47M492 414.4L504.93 416.19M492 414.4L504.08 419.05M492 414.4L502.58 422.23M492 414.4L499.95 424.39M492 414.4L501.86 414.4M492 414.4L501.33 417.42M492 414.4L499.92 420.73M492 414.4L497.99 422.47M462.3 400.8L443.21 416.84M462.3 400.8L442.51 416.13M462.3 400.8L441.88 415.18M462.3 400.8L441.37 414.39M462.3 400.8L440.7 413.36M462.3 400.8L440.06 412.39M462.3 400.8L439.62 411.43M462.3 400.8L439.13 410.31M462.3 400.8L438.83 409.38M462.3 400.8L438.43 408.19M462.3 400.8L438.15 407.23M462.3 400.8L437.77 405.99M462.3 400.8L437.58 404.96M462.3 400.8L437.55 403.8M462.3 400.8L437.43 402.62M462.3 400.8L437.24 401.53M462.3 400.8L437.36 400.48M462.3 400.8L437.26 399.37M462.3 400.8L437.5 398.2M462.3 400.8L437.57 397.16M462.3 400.8L437.71 395.94M462.3 400.8L438.07 394.84M462.3 400.8L438.35 393.72M462.3 400.8L438.59 392.71M462.3 400.8L439.03 391.63M462.3 400.8L439.39 390.55M462.3 400.8L440.01 389.57M462.3 400.8L440.44 388.66M462.3 400.8L441.08 387.63M462.3 400.8L441.61 386.69M462.3 400.8L442.37 385.8M462.3 400.8L442.97 384.87M462.3 400.8L445.46 414.56M462.3 400.8L443.42 412M462.3 400.8L442.1 409.45M462.3 400.8L441.22 406.76M462.3 400.8L440.67 403.77M462.3 400.8L440.31 400.21M462.3 400.8L440.74 397.12M462.3 400.8L441.02 394.5M462.3 400.8L442.47 391.71M462.3 400.8L443.69 388.99M462.3 400.8L445.42 386.37M462.3 400.8L447.6 412.64M462.3 400.8L445.61 409.75M462.3 400.8L444.5 406.78M462.3 400.8L443.36 403.89M462.3 400.8L443.23 400.49M462.3 400.8L443.67 397.12M462.3 400.8L444.65 393.93M462.3 400.8L445.79 390.97M462.3 400.8L447.77 388.3M462.3 400.8L450.33 410.98M462.3 400.8L448.41 408.9M462.3 400.8L447.23 406.49M462.3 400.8L446.67 403.18M462.3 400.8L446.47 400.11M462.3 400.8L446.94 397.08M462.3 400.8L447.8 393.85M462.3 400.8L449.69 391.28M462.3 400.8L451.78 408.88M462.3 400.8L450.63 406.26M462.3 400.8L449.6 403.2M462.3 400.8L449.22 400.14M462.3 400.8L449.48 397.06M462.3 400.8L450.66 394.83M462.3 400.8L452.36 392.7M462.3 400.8L454.74 407.37M462.3 400.8L452.65 404.34M462.3 400.8L452.05 400.61M462.3 400.8L452.74 397.67M462.3 400.8L454.76 394.2M466 423.9L466.92 450.83M466 423.9L465.91 450.88M466 423.9L464.88 450.96M466 423.9L463.65 450.84M466 423.9L462.54 450.77M466 423.9L461.55 450.55M466 423.9L460.43 450.28M466 423.9L459.22 450.08M466 423.9L458.13 449.83M466 423.9L457.24 449.46M466 423.9L456.05 448.95M466 423.9L455.11 448.66M466 423.9L454.1 448.11M466 423.9L453.03 447.62M466 423.9L452.07 446.98M466 423.9L451.14 446.46M466 423.9L450.26 445.85M466 423.9L449.3 445.14M466 423.9L448.51 444.51M466 423.9L447.67 443.69M466 423.9L446.74 442.9M466 423.9L446.05 442.11M466 423.9L445.33 441.25M466 423.9L444.6 440.39M466 423.9L443.92 439.54M466 423.9L443.3 438.63M466 423.9L442.82 437.65M466 423.9L442.12 436.69M466 423.9L441.75 435.55M466 423.9L441.26 434.66M466 423.9L440.77 433.54M466 423.9L440.33 432.6M466 423.9L440.05 431.51M466 423.9L439.73 430.43M466 423.9L439.5 429.3M466 423.9L439.3 428.16M466 423.9L439.21 427.02M466 423.9L439.04 425.94M466 423.9L439 424.82M466 423.9L438.95 423.66M466 423.9L439.08 422.61M466 423.9L439.16 421.44M466 423.9L439.32 420.3M466 423.9L439.31 419.36M466 423.9L439.58 418.17M466 423.9L439.86 417.03M466 423.9L440.26 416.09M466 423.9L440.53 414.96M466 423.9L440.9 413.94M466 423.9L466.65 447.64M466 423.9L463.71 447.87M466 423.9L460.24 447.37M466 423.9L457.37 446.02M466 423.9L454.22 444.67M466 423.9L451.86 443.07M466 423.9L449.51 441.43M466 423.9L447.21 438.73M466 423.9L445.26 436.11M466 423.9L443.99 433.25M466 423.9L442.71 430.31M466 423.9L442.05 427.32M466 423.9L442.05 423.81M466 423.9L442.29 421.03M466 423.9L442.61 417.84M466 423.9L443.86 414.78M466 423.9L466.06 444.72M466 423.9L463.01 444.58M466 423.9L460.2 443.94M466 423.9L457.04 442.68M466 423.9L454.35 441.31M466 423.9L451.69 439.32M466 423.9L449.49 436.95M466 423.9L447.51 434.36M466 423.9L446.1 431.18M466 423.9L445.41 428.01M466 423.9L444.9 425.01M466 423.9L445.21 421.79M466 423.9L445.84 418.75M466 423.9L446.68 416.04M466 423.9L466.8 442.12M466 423.9L463.43 441.47M466 423.9L460.7 441.02M466 423.9L457.5 439.72M466 423.9L454.7 437.96M466 423.9L452.5 435.79M466 423.9L450.6 433.29M466 423.9L449.13 430.34M466 423.9L448.04 426.74M466 423.9L447.73 423.77M466 423.9L448.25 420.3M466 423.9L449.52 417.51M466 423.9L466.09 438.61M466 423.9L462.75 438.76M466 423.9L459.65 437.41M466 423.9L457.13 435.86M466 423.9L454.49 433.77M466 423.9L452.65 431.15M466 423.9L451.29 427.86M466 423.9L450.97 424.41M466 423.9L450.95 421.06M466 423.9L452.06 418.4M466 423.9L466.36 435.91M466 423.9L463.38 435.58M466 423.9L460.13 434.41M466 423.9L457.25 432.54M466 423.9L455.55 429.81M466 423.9L454.35 426.62M466 423.9L454.27 423.21M466 423.9L454.67 419.91M466 423.9L466.42 433.04M466 423.9L463.21 432.68M466 423.9L460.28 430.91M466 423.9L458.24 427.93M466 423.9L456.76 424.46M466 423.9L457.47 421.18M488.3 439L512.76 444M488.3 439L512.59 444.87M488.3 439L512.33 445.94M488.3 439L511.98 447.04M488.3 439L511.68 448.03M488.3 439L511.15 449.14M488.3 439L510.7 450.04M488.3 439L510.27 451M488.3 439L509.61 452.04M488.3 439L509.1 452.89M488.3 439L508.43 453.78M488.3 439L507.66 454.76M488.3 439L506.98 455.65M488.3 439L506.22 456.48M488.3 439L505.41 457.17M488.3 439L504.68 457.99M488.3 439L503.74 458.67M488.3 439L502.86 459.27M488.3 439L501.98 459.98M488.3 439L500.96 460.48M488.3 439L500.05 461.02M488.3 439L499 461.52M488.3 439L498.1 461.97M488.3 439L497.03 462.44M488.3 439L496 462.88M488.3 439L494.9 463.18M488.3 439L493.9 463.44M488.3 439L492.67 463.62M488.3 439L491.65 463.81M488.3 439L490.55 463.88M488.3 439L489.41 464.02M488.3 439L488.32 463.98M488.3 439L487.22 463.98M488.3 439L486.15 463.97M488.3 439L484.95 463.85M488.3 439L483.83 463.54M488.3 439L482.77 463.38M488.3 439L481.78 463.09M488.3 439L480.63 462.86M488.3 439L479.58 462.37M488.3 439L478.53 461.97M488.3 439L477.63 461.59M488.3 439L476.57 461.02M488.3 439L509.51 444.14M488.3 439L508.67 447.16M488.3 439L507.44 449.81M488.3 439L505.48 452.54M488.3 439L503.88 454.79M488.3 439L501.2 457M488.3 439L498.25 458.6M488.3 439L495.54 460.01M488.3 439L492.43 460.33M488.3 439L489.7 461.12M488.3 439L486.5 460.81M488.3 439L483.44 460.59M488.3 439L479.99 459.68M488.3 439L477.77 458.16M488.3 439L506.97 443.41M488.3 439L505.57 446.69M488.3 439L504.54 449.5M488.3 439L502.63 451.7M488.3 439L500.14 453.86M488.3 439L497.43 455.82M488.3 439L494.27 457.05M488.3 439L491.48 457.84M488.3 439L487.95 457.8M488.3 439L484.74 457.93M488.3 439L481.7 456.82M488.3 439L479.52 455.83M488.3 439L503.83 442.82M488.3 439L502.95 446.09M488.3 439L501.07 448.39M488.3 439L498.69 451.1M488.3 439L495.8 452.87M488.3 439L492.95 454M488.3 439L489.72 455.16M488.3 439L486.59 455.19M488.3 439L483.35 454.44M488.3 439L480.53 453.31M488.3 439L500.76 442.16M488.3 439L500.01 445.28M488.3 439L498.19 447.8M488.3 439L495.79 449.89M488.3 439L493 451.17M488.3 439L489.97 451.56M488.3 439L486.96 451.98M488.3 439L484.42 451.57M488.3 439L482.15 450.34M488.3 439L497.95 441.8M488.3 439L496.96 444.3M488.3 439L494.54 446.98M488.3 439L491.98 448.56M488.3 439L488.61 449.17M488.3 439L485.92 448.77M488.3 439L483.31 447.69M462.3 400.8L483.48 398.82M493.8 396L483.48 398.82M493.8 396L478.45 398.1M492.5 408.2L478.45 398.1M493.8 396L480.01 398.81M492.5 408.2L480.01 398.81M476.5 379.2L479.91 407.95M492.5 408.2L479.91 407.95M493.8 396L478.97 398.7M462.3 400.8L478.97 398.7M493.8 396L479.93 398.96M476.5 379.2L479.93 398.96M493.8 396L477.72 396.41M492.5 408.2L477.72 396.41M493.8 396L474.38 403.5M462.3 400.8L474.38 403.5M493.8 396L473.63 401.94M492.5 408.2L473.63 401.94M493.8 396L468.72 400.29M492.5 408.2L468.72 400.29M493.8 396L472.35 398.24M462.3 400.8L472.35 398.24M492.5 408.2L477.39 411.19M493.8 396L477.39 411.19M493.8 396L472.49 405.22M476.5 379.2L472.49 405.22M492.5 408.2L470.4 407.45M462.3 400.8L470.4 407.45M493.8 396L475.15 394.08M462.3 400.8L475.15 394.08M476.5 379.2L483.7 397.33M462.3 400.8L483.7 397.33M493.8 396L474.03 407.6M476.5 379.2L474.03 407.6M493.8 396L481.79 408.53M476.5 379.2L481.79 408.53M492.5 408.2L478.06 406.85M462.3 400.8L478.06 406.85M476.5 379.2L468.47 402.43M493.8 396L468.47 402.43M492.5 408.2L476.1 401.95M476.5 379.2L476.1 401.95M493.8 396L471.59 398.55M492.5 408.2L471.59 398.55M462.3 400.8L482.71 399.84M476.5 379.2L482.71 399.84M492.5 408.2L486.41 405.35M493.8 396L486.41 405.35M462.3 400.8L474.11 404.3M492.5 408.2L474.11 404.3M492.5 408.2L479.71 408.93M476.5 379.2L479.71 408.93M492.5 408.2L487.81 402.66M476.5 379.2L487.81 402.66M462.3 400.8L473.91 398.15M492.5 408.2L473.91 398.15M493.8 396L478.43 406.03M462.3 400.8L478.43 406.03M462.3 400.8L486.6 401.33M476.5 379.2L486.6 401.33M493.8 396L484.73 406.12M492.5 408.2L484.73 406.12M476.5 379.2L473.08 398.51M493.8 396L473.08 398.51M493.8 396L475.08 405.5M462.3 400.8L475.08 405.5M493.8 396L472.4 402.77M476.5 379.2L472.4 402.77M493.8 396L475.3 404.19M492.5 408.2L475.3 404.19M462.3 400.8L477.9 398.45M492.5 408.2L477.9 398.45M493.8 396L470.69 399.1M492.5 408.2L470.69 399.1M462.3 400.8L472.11 395.85M493.8 396L472.11 395.85M493.8 396L484.61 405.73M492.5 408.2L484.61 405.73M462.3 400.8L481.58 399.42M492.5 408.2L481.58 399.42M466 416.7L481.08 420.2M466 423.9L481.08 420.2M492 414.4L482.83 427.53M488.3 439L482.83 427.53M492 414.4L472.36 420.54M488.3 439L472.36 420.54M488.3 439L481.46 426.14M466 423.9L481.46 426.14M466 416.7L483.34 425.96M488.3 439L483.34 425.96M492 414.4L474.16 419.86M488.3 439L474.16 419.86M492 414.4L476.63 422.79M488.3 439L476.63 422.79M466 416.7L478.34 426.87M466 423.9L478.34 426.87M492 414.4L475.44 420.36M488.3 439L475.44 420.36M492 414.4L472.77 427.91M466 416.7L472.77 427.91M492 414.4L476.47 417.65M466 416.7L476.47 417.65M488.3 439L478.83 426.64M466 416.7L478.83 426.64M466 423.9L482.6 423.44M488.3 439L482.6 423.44M466 423.9L480.79 426.63M492 414.4L480.79 426.63M488.3 439L483.65 426.28M466 423.9L483.65 426.28M466 416.7L474.56 418.31M492 414.4L474.56 418.31M488.3 439L473.04 425.75M466 416.7L473.04 425.75M466 416.7L472.88 424.1M492 414.4L472.88 424.1M463.3 375L476.5 379.2M476.5 379.2L493.8 396M463.3 375L462.3 400.8M476.5 379.2L462.3 400.8M493.8 396L492.5 408.2M462.3 400.8L466 416.7M492.5 408.2L466 416.7M466 416.7L466 423.9M466 423.9L488.3 439M492.5 408.2L492 414.4M488.3 439L492 414.4M493.8 396L492 414.4M476.5 379.2L492.5 408.2M488.3 439L511.98 447.04M492 414.4L476.63 422.79M466 423.9L447.6 412.64M466 416.7L454.9 356.82M476.5 379.2L478.55 365.47M493.8 396L502.3 375.77M466 416.7L439.08 422.61M466 416.7L513.84 431.83M466 423.9L506.98 455.65M476.5 379.2L508.11 391.22M492 414.4L488.32 463.98M492 414.4L490.64 357.32M493.8 396L516.91 414.71M466 416.7L484.73 406.12M492.5 408.2L443.21 416.84M463.3 375L505.64 393.12M492.5 408.2L481.08 420.2M492.5 408.2L465.26 358.24M488.3 439L475.08 405.5M466 423.9L504.68 457.99M463.3 375L458.16 362.19M463.3 375L448.86 356.93M462.3 400.8L469.56 358.36M476.5 379.2L504.68 457.99M463.3 375L503.88 454.79M492 414.4L477.77 458.16M493.8 396L453.08 365.7M466 416.7L439.31 419.36M493.8 396L463.16 348.91M488.3 439L503.98 371.05M488.3 439L510.82 391.03M463.3 375L454.67 419.91M492.5 408.2L504.04 424.6M492.5 408.2L478.34 426.87M466 416.7L466.63 349.28M466 416.7L454.1 448.11M476.5 379.2L507.54 418.66M493.8 396L516.58 417.94M493.8 396L488.74 363.41M492 414.4L501.86 414.4M492.5 408.2L466.63 352.55M462.3 400.8L439.04 425.94M492 414.4L439.04 425.94M462.3 400.8L497.95 441.8M462.3 400.8L456.76 424.46M463.3 375L461.06 355.02M492 414.4L513.81 390.7M488.3 439L492.78 373.69M466 423.9L520.84 396.6M463.3 375L466.6 366.61M466 423.9L442.1 409.45M466 423.9L517.03 389.23M492 414.4L504.08 419.05M492.5 408.2L442.12 436.69M466 423.9L513.26 426.86M466 423.9L488.32 463.98M492.5 408.2L488.61 449.17M493.8 396L496.46 362.61M463.3 375L440.77 433.54M488.3 439L513.77 403.07M492 414.4L454.49 433.77M492.5 408.2L474.08 357.33M466 416.7L443.67 397.12M462.3 400.8L498.82 375.53M476.5 379.2L446.94 397.08M488.3 439L497.31 381.18M492.5 408.2L506.97 443.41M466 423.9L446.47 400.11M466 416.7L457.79 349.52M466 416.7L484.61 405.73M462.3 400.8L484.76 357.72M488.3 439L514 383.59M492.5 408.2L505.95 396.28M492.5 408.2L502.96 396.41M492 414.4L466.65 447.64M488.3 439L496.94 384.23M466 423.9L514.63 430.86M476.5 379.2L438.59 392.71M463.3 375L496.05 367.51M492.5 408.2L501.2 457M466 423.9L509.13 436.59M488.3 439L469.09 352.76M476.5 379.2L507.05 403.14M493.8 396L472.93 357.48M492 414.4L516.79 412.51M476.5 379.2L506.81 388.57M466 416.7L520.71 393.27M492 414.4L464.38 360.81M488.3 439L470.66 357.92M493.8 396L499.95 424.39M466 423.9L463.43 441.47M463.3 375L519.88 417.36M492.5 408.2L462.54 450.77M476.5 379.2L520.6 392.05M462.3 400.8L442.05 427.32M466 423.9L519.47 419.68M492.5 408.2L472.74 370.13M488.3 439L457.5 368.15M493.8 396L480.05 353.47M493.8 396L486.15 463.97M493.8 396L453.08 365.7M466 416.7L479.66 359.45M476.5 379.2L504.74 432.62M462.3 400.8L451.69 439.32M476.5 379.2L460.28 430.91M493.8 396L473.08 398.51M463.3 375L517.91 398.29M492 414.4L477.72 396.41M492 414.4L461.55 450.55M476.5 379.2L444.6 440.39M466 423.9L514.63 430.86M492.5 408.2L509.62 382.29M492.5 408.2L450.6 433.29M466 423.9L442.97 384.87M476.5 379.2L485.92 448.77M492.5 408.2L484.2 367.4M466 423.9L509.54 387.53M476.5 379.2L500.02 385.44M476.5 379.2L450.66 394.83M476.5 379.2L468.47 402.43M462.3 400.8L517.03 389.23M488.3 439L483.65 426.28M492 414.4L457.98 367.29M492 414.4L511.24 425.48M466 423.9L460.13 434.41M488.3 439L460.13 434.41M463.3 375L459.94 369.58M488.3 439L501.75 426.99M463.3 375L454.22 444.67M462.3 400.8L437.5 398.2M476.5 379.2L486.59 455.19M463.3 375L442.61 417.84M492.5 408.2L482.3 356.73M466 416.7L505.04 371.39M466 423.9L462.14 349.02M492 414.4L445.42 386.37M476.5 379.2L439.62 411.43M466 416.7L444.9 425.01M466 423.9L511.27 384.84M493.8 396L507.44 449.81M488.3 439L487.74 358.98M466 423.9L496.46 362.61M466 416.7L444.6 440.39M492.5 408.2L516.23 421.02M493.8 396L472.74 370.13M463.3 375L479.93 398.96M476.5 379.2L437.67 370.52M492.5 408.2L444.5 406.78M493.8 396L460.94 363.77M488.3 439L507.11 434.56M462.3 400.8L510.82 391.03M466 423.9L483.34 425.96M493.8 396L480.63 462.86M476.5 379.2L457.98 367.29M462.3 400.8L483.48 398.82M492.5 408.2L468.16 374.07M493.8 396L472.11 395.85M493.8 396L463.38 435.58M488.3 439L504.93 416.19M492 414.4L509.51 444.14M466 416.7L518.63 406.39M463.3 375L507.66 454.76M466 423.9L515.9 386.13M463.3 375L505.04 428.44M493.8 396L483.34 354.12M462.3 400.8L488.61 449.17M462.3 400.8L472.77 427.91M488.3 439L439.08 422.61M466 416.7L454.1 448.11M463.3 375L445.79 390.97M492 414.4L520.15 402.12M466 416.7L507.11 434.56M488.3 439L437.26 399.37M488.3 439L440.58 373.19M466 423.9L492.78 373.69M488.3 439L461.55 450.55M488.3 439L454.55 353.93M492 414.4L499.19 366.32M463.3 375L488.74 363.41M476.5 379.2L447.8 393.85M463.3 375L437.58 404.96M492 414.4L519.8 403.25M466 416.7L477.9 398.45M488.3 439L487.74 358.98M488.3 439L499.14 375.73M466 416.7L454.9 356.82M493.8 396L483.44 460.59M492.5 408.2L439.08 422.61M493.8 396L451.69 439.32M492.5 408.2L457.25 432.54M476.5 379.2L440.44 388.66M466 416.7L503.74 458.67M492.5 408.2L504.74 432.62M463.3 375L478.55 365.47M476.5 379.2L506.88 372.49M466 423.9L514 383.59M466 416.7L492.95 454M476.5 379.2L492.95 454M476.5 379.2L515.97 380.68M488.3 439L500.96 460.48M492 414.4L492.67 463.62M492.5 408.2L508.96 423.03M492.5 408.2L481.58 399.42M462.3 400.8L443.02 358.75M488.3 439L510.7 450.04M476.5 379.2L484.95 463.85M463.3 375L481.46 426.14M488.3 439L505.13 413.47M492.5 408.2L494.9 463.18M493.8 396L518.63 406.39M492.5 408.2L441.22 406.76M492 414.4L489.72 455.16M476.5 379.2L452.74 397.67M466 423.9L504.08 419.05M492 414.4L475.08 405.5M466 423.9L489.41 464.02" stroke="#cdbfc6" stroke-width="0.33" fill="none" stroke-opacity="0.9"/>
<path d="M437.37 373.58h0M437.39 372.82h0M437.56 371.69h0M437.67 370.52h0M437.87 369.5h0M438.2 368.46h0M438.48 367.38h0M438.72 366.41h0M439.23 365.29h0M439.53 364.3h0M440.08 363.36h0M440.61 362.34h0M441.16 361.36h0M441.67 360.38h0M442.46 359.62h0M443.02 358.75h0M443.77 357.77h0M444.57 357.04h0M445.37 356.28h0M446.03 355.52h0M446.99 354.86h0M447.78 354.12h0M448.75 353.42h0M449.7 352.93h0M450.51 352.34h0M451.53 351.75h0M452.57 351.41h0M453.57 350.82h0M454.59 350.55h0M455.72 350.19h0M456.62 349.94h0M457.79 349.52h0M458.79 349.31h0M459.97 349.16h0M461.09 349.03h0M462.14 349.02h0M463.16 348.91h0M464.41 349.11h0M465.37 349.13h0M466.63 349.28h0M467.7 349.33h0M468.75 349.57h0M469.86 349.86h0M440.58 373.19h0M440.95 369.9h0M441.52 367.38h0M442.91 364.35h0M444.68 361.42h0M446.69 359.39h0M448.86 356.93h0M451.36 355.04h0M454.55 353.93h0M457.61 352.89h0M460.7 352.01h0M463.38 351.83h0M466.63 352.55h0M469.09 352.76h0M443.04 373.98h0M443.69 371.45h0M444.7 368.54h0M446.04 365.42h0M447.41 362.45h0M449.9 360.09h0M451.99 358.42h0M454.9 356.82h0M457.99 355.62h0M461.06 355.02h0M464.49 354.9h0M467.57 355.56h0M446.16 373.55h0M446.68 370.95h0M447.68 368.07h0M449.05 365.47h0M451.02 362.86h0M453.68 361.06h0M456.25 359.44h0M459.11 358.43h0M461.98 358.02h0M465.26 358.24h0M467.73 358.79h0M449.46 374.11h0M449.92 370.86h0M451.34 368.25h0M453.08 365.7h0M454.93 363.34h0M458.16 362.19h0M461.16 361.44h0M463.86 361.31h0M466.99 361.62h0M452.17 374.39h0M452.95 371.09h0M454.44 368.32h0M456.72 365.87h0M459.93 364.51h0M462.86 364.18h0M466.27 364.34h0M457.5 368.15h0M457.98 367.29h0M458.73 366.31h0M459.35 365.45h0M460 364.5h0M460.94 363.77h0M461.65 362.87h0M462.65 362.19h0M463.52 361.54h0M464.38 360.81h0M465.48 360.15h0M466.37 359.72h0M467.51 359.15h0M468.45 358.76h0M469.56 358.36h0M470.66 357.92h0M471.85 357.68h0M472.93 357.48h0M474.08 357.33h0M459.94 369.58h0M462.28 366.78h0M464.78 364.25h0M467.76 362.36h0M471.37 360.96h0M474.5 360.57h0M462.39 371.1h0M463.98 369.14h0M466.6 366.61h0M468.98 364.94h0M471.88 363.89h0M474.35 363.39h0M465.48 372.96h0M466.71 370.57h0M469.06 368.38h0M471.33 367.06h0M474.25 366.58h0M468.16 374.07h0M469.84 371.46h0M472.74 370.13h0M475.53 369.15h0M480.05 353.47h0M481.25 353.65h0M482.29 353.87h0M483.34 354.12h0M484.54 354.45h0M485.47 354.88h0M486.54 355.16h0M487.66 355.76h0M488.59 356.21h0M489.64 356.7h0M490.64 357.32h0M491.59 358h0M492.47 358.63h0M493.39 359.3h0M494.16 360.07h0M494.93 360.85h0M495.79 361.68h0M496.46 362.61h0M497.26 363.45h0M497.92 364.44h0M498.6 365.43h0M499.19 366.32h0M499.71 367.31h0M500.1 368.35h0M500.5 369.45h0M500.92 370.49h0M501.27 371.53h0M501.61 372.72h0M501.88 373.71h0M502.1 374.79h0M502.3 375.77h0M479.39 356.31h0M482.3 356.73h0M484.76 357.72h0M487.74 358.98h0M489.99 360.66h0M492.79 362.93h0M494.5 364.89h0M496.05 367.51h0M497.75 369.94h0M498.7 372.68h0M499.14 375.73h0M479.66 359.45h0M482.73 360.24h0M485.77 361.34h0M488.74 363.41h0M490.91 365.35h0M493.29 367.66h0M494.81 370.59h0M495.59 373.77h0M496.4 376.48h0M478.75 362.6h0M481.89 362.92h0M484.83 364.37h0M487.25 366.26h0M489.31 368.67h0M491.62 370.74h0M492.78 373.69h0M493.65 376.95h0M478.55 365.47h0M481.36 366.36h0M484.2 367.4h0M486.63 369.57h0M488.23 371.8h0M489.71 374.79h0M490.5 377.15h0M478.42 368.68h0M481.8 369.57h0M484.59 371.59h0M486.86 374.92h0M487.56 377.56h0M499.61 369.6h0M500.71 369.93h0M501.8 370.25h0M502.96 370.59h0M503.98 371.05h0M505.04 371.39h0M506.03 371.94h0M506.88 372.49h0M508.01 373.07h0M508.85 373.65h0M509.86 374.24h0M510.72 374.92h0M511.63 375.66h0M512.34 376.4h0M513.2 377.19h0M513.92 378.05h0M514.65 378.88h0M515.3 379.74h0M515.97 380.68h0M516.62 381.6h0M517.15 382.67h0M517.72 383.49h0M518.28 384.5h0M518.73 385.69h0M519.05 386.65h0M519.56 387.67h0M519.76 388.72h0M520.13 389.93h0M520.32 390.96h0M520.6 392.05h0M520.71 393.27h0M520.74 394.38h0M520.76 395.53h0M520.84 396.6h0M520.81 397.74h0M520.72 398.8h0M520.49 400.02h0M520.31 401.02h0M520.15 402.12h0M519.8 403.25h0M519.41 404.38h0M519.14 405.3h0M518.63 406.39h0M518.24 407.51h0M517.81 408.5h0M499.36 372.4h0M502.26 373.72h0M504.92 374.73h0M507.57 376.45h0M510.17 378.54h0M512.22 380.88h0M514 383.59h0M515.9 386.13h0M517.03 389.23h0M517.53 392.27h0M517.76 395.1h0M517.91 398.29h0M517.37 401.48h0M516.26 404.62h0M515 407.38h0M498.82 375.53h0M502.16 376.9h0M504.69 377.88h0M507.4 379.95h0M509.62 382.29h0M511.27 384.84h0M513.17 387.66h0M513.81 390.7h0M514.94 393.92h0M514.78 396.94h0M514.21 400.17h0M513.77 403.07h0M512.5 405.71h0M497.54 378.28h0M499.96 378.94h0M503.36 380.51h0M505.91 382.59h0M508.06 384.98h0M509.54 387.53h0M510.82 391.03h0M511.82 394.35h0M511.86 397.2h0M511.25 400.71h0M509.93 403.66h0M497.31 381.18h0M500.59 382.41h0M503.01 384.39h0M504.98 386.06h0M506.81 388.57h0M508.11 391.22h0M508.91 394.79h0M508.55 397.48h0M508.03 400.65h0M507.05 403.14h0M496.94 384.23h0M500.02 385.44h0M502.36 387.46h0M504.48 390.1h0M505.64 393.12h0M505.95 396.28h0M505.51 399.42h0M504.63 401.47h0M495.59 387.4h0M498.08 388.37h0M500.53 390.06h0M502.5 393.37h0M502.96 396.41h0M502.13 399.82h0M519.83 411.88h0M519.93 412.98h0M519.95 414.12h0M520.02 415.27h0M519.89 416.4h0M519.88 417.36h0M519.65 418.49h0M519.47 419.68h0M519.35 420.83h0M518.95 421.88h0M518.67 422.86h0M518.26 424.01h0M517.89 425.1h0M517.4 426.18h0M517.02 427.07h0M516.35 428.05h0M515.82 429.07h0M515.22 430.04h0M514.63 430.86h0M513.84 431.83h0M513.18 432.76h0M512.47 433.53h0M511.67 434.32h0M510.82 435.19h0M510.01 435.79h0M509.13 436.59h0M508.26 437.17h0M516.79 412.51h0M516.91 414.71h0M516.58 417.94h0M516.23 421.02h0M514.74 424.28h0M513.26 426.86h0M511.46 429.74h0M509.28 432.55h0M507.11 434.56h0M513.83 412.5h0M513.64 415.86h0M513.36 419.34h0M512.62 422.72h0M511.24 425.48h0M509.31 428.41h0M507.21 430.62h0M504.74 432.62h0M510.99 413.39h0M511.14 416.54h0M510.09 420.2h0M508.96 423.03h0M507.13 425.49h0M505.04 428.44h0M502.86 429.74h0M507.67 413.22h0M508.02 415.83h0M507.54 418.66h0M506.09 421.83h0M504.04 424.6h0M501.75 426.99h0M505.13 413.47h0M504.93 416.19h0M504.08 419.05h0M502.58 422.23h0M499.95 424.39h0M501.86 414.4h0M501.33 417.42h0M499.92 420.73h0M497.99 422.47h0M443.21 416.84h0M442.51 416.13h0M441.88 415.18h0M441.37 414.39h0M440.7 413.36h0M440.06 412.39h0M439.62 411.43h0M439.13 410.31h0M438.83 409.38h0M438.43 408.19h0M438.15 407.23h0M437.77 405.99h0M437.58 404.96h0M437.55 403.8h0M437.43 402.62h0M437.24 401.53h0M437.36 400.48h0M437.26 399.37h0M437.5 398.2h0M437.57 397.16h0M437.71 395.94h0M438.07 394.84h0M438.35 393.72h0M438.59 392.71h0M439.03 391.63h0M439.39 390.55h0M440.01 389.57h0M440.44 388.66h0M441.08 387.63h0M441.61 386.69h0M442.37 385.8h0M442.97 384.87h0M445.46 414.56h0M443.42 412h0M442.1 409.45h0M441.22 406.76h0M440.67 403.77h0M440.31 400.21h0M440.74 397.12h0M441.02 394.5h0M442.47 391.71h0M443.69 388.99h0M445.42 386.37h0M447.6 412.64h0M445.61 409.75h0M444.5 406.78h0M443.36 403.89h0M443.23 400.49h0M443.67 397.12h0M444.65 393.93h0M445.79 390.97h0M447.77 388.3h0M450.33 410.98h0M448.41 408.9h0M447.23 406.49h0M446.67 403.18h0M446.47 400.11h0M446.94 397.08h0M447.8 393.85h0M449.69 391.28h0M451.78 408.88h0M450.63 406.26h0M449.6 403.2h0M449.22 400.14h0M449.48 397.06h0M450.66 394.83h0M452.36 392.7h0M454.74 407.37h0M452.65 404.34h0M452.05 400.61h0M452.74 397.67h0M454.76 394.2h0M466.92 450.83h0M465.91 450.88h0M464.88 450.96h0M463.65 450.84h0M462.54 450.77h0M461.55 450.55h0M460.43 450.28h0M459.22 450.08h0M458.13 449.83h0M457.24 449.46h0M456.05 448.95h0M455.11 448.66h0M454.1 448.11h0M453.03 447.62h0M452.07 446.98h0M451.14 446.46h0M450.26 445.85h0M449.3 445.14h0M448.51 444.51h0M447.67 443.69h0M446.74 442.9h0M446.05 442.11h0M445.33 441.25h0M444.6 440.39h0M443.92 439.54h0M443.3 438.63h0M442.82 437.65h0M442.12 436.69h0M441.75 435.55h0M441.26 434.66h0M440.77 433.54h0M440.33 432.6h0M440.05 431.51h0M439.73 430.43h0M439.5 429.3h0M439.3 428.16h0M439.21 427.02h0M439.04 425.94h0M439 424.82h0M438.95 423.66h0M439.08 422.61h0M439.16 421.44h0M439.32 420.3h0M439.31 419.36h0M439.58 418.17h0M439.86 417.03h0M440.26 416.09h0M440.53 414.96h0M440.9 413.94h0M466.65 447.64h0M463.71 447.87h0M460.24 447.37h0M457.37 446.02h0M454.22 444.67h0M451.86 443.07h0M449.51 441.43h0M447.21 438.73h0M445.26 436.11h0M443.99 433.25h0M442.71 430.31h0M442.05 427.32h0M442.05 423.81h0M442.29 421.03h0M442.61 417.84h0M443.86 414.78h0M466.06 444.72h0M463.01 444.58h0M460.2 443.94h0M457.04 442.68h0M454.35 441.31h0M451.69 439.32h0M449.49 436.95h0M447.51 434.36h0M446.1 431.18h0M445.41 428.01h0M444.9 425.01h0M445.21 421.79h0M445.84 418.75h0M446.68 416.04h0M466.8 442.12h0M463.43 441.47h0M460.7 441.02h0M457.5 439.72h0M454.7 437.96h0M452.5 435.79h0M450.6 433.29h0M449.13 430.34h0M448.04 426.74h0M447.73 423.77h0M448.25 420.3h0M449.52 417.51h0M466.09 438.61h0M462.75 438.76h0M459.65 437.41h0M457.13 435.86h0M454.49 433.77h0M452.65 431.15h0M451.29 427.86h0M450.97 424.41h0M450.95 421.06h0M452.06 418.4h0M466.36 435.91h0M463.38 435.58h0M460.13 434.41h0M457.25 432.54h0M455.55 429.81h0M454.35 426.62h0M454.27 423.21h0M454.67 419.91h0M466.42 433.04h0M463.21 432.68h0M460.28 430.91h0M458.24 427.93h0M456.76 424.46h0M457.47 421.18h0M512.76 444h0M512.59 444.87h0M512.33 445.94h0M511.98 447.04h0M511.68 448.03h0M511.15 449.14h0M510.7 450.04h0M510.27 451h0M509.61 452.04h0M509.1 452.89h0M508.43 453.78h0M507.66 454.76h0M506.98 455.65h0M506.22 456.48h0M505.41 457.17h0M504.68 457.99h0M503.74 458.67h0M502.86 459.27h0M501.98 459.98h0M500.96 460.48h0M500.05 461.02h0M499 461.52h0M498.1 461.97h0M497.03 462.44h0M496 462.88h0M494.9 463.18h0M493.9 463.44h0M492.67 463.62h0M491.65 463.81h0M490.55 463.88h0M489.41 464.02h0M488.32 463.98h0M487.22 463.98h0M486.15 463.97h0M484.95 463.85h0M483.83 463.54h0M482.77 463.38h0M481.78 463.09h0M480.63 462.86h0M479.58 462.37h0M478.53 461.97h0M477.63 461.59h0M476.57 461.02h0M509.51 444.14h0M508.67 447.16h0M507.44 449.81h0M505.48 452.54h0M503.88 454.79h0M501.2 457h0M498.25 458.6h0M495.54 460.01h0M492.43 460.33h0M489.7 461.12h0M486.5 460.81h0M483.44 460.59h0M479.99 459.68h0M477.77 458.16h0M506.97 443.41h0M505.57 446.69h0M504.54 449.5h0M502.63 451.7h0M500.14 453.86h0M497.43 455.82h0M494.27 457.05h0M491.48 457.84h0M487.95 457.8h0M484.74 457.93h0M481.7 456.82h0M479.52 455.83h0M503.83 442.82h0M502.95 446.09h0M501.07 448.39h0M498.69 451.1h0M495.8 452.87h0M492.95 454h0M489.72 455.16h0M486.59 455.19h0M483.35 454.44h0M480.53 453.31h0M500.76 442.16h0M500.01 445.28h0M498.19 447.8h0M495.79 449.89h0M493 451.17h0M489.97 451.56h0M486.96 451.98h0M484.42 451.57h0M482.15 450.34h0M497.95 441.8h0M496.96 444.3h0M494.54 446.98h0M491.98 448.56h0M488.61 449.17h0M485.92 448.77h0M483.31 447.69h0M483.48 398.82h0M478.45 398.1h0M480.01 398.81h0M479.91 407.95h0M478.97 398.7h0M479.93 398.96h0M477.72 396.41h0M474.38 403.5h0M473.63 401.94h0M468.72 400.29h0M472.35 398.24h0M477.39 411.19h0M472.49 405.22h0M470.4 407.45h0M475.15 394.08h0M483.7 397.33h0M474.03 407.6h0M481.79 408.53h0M478.06 406.85h0M468.47 402.43h0M476.1 401.95h0M471.59 398.55h0M482.71 399.84h0M486.41 405.35h0M474.11 404.3h0M479.71 408.93h0M487.81 402.66h0M473.91 398.15h0M478.43 406.03h0M486.6 401.33h0M484.73 406.12h0M473.08 398.51h0M475.08 405.5h0M472.4 402.77h0M475.3 404.19h0M477.9 398.45h0M470.69 399.1h0M472.11 395.85h0M484.61 405.73h0M481.58 399.42h0M481.08 420.2h0M482.83 427.53h0M472.36 420.54h0M481.46 426.14h0M483.34 425.96h0M474.16 419.86h0M476.63 422.79h0M478.34 426.87h0M475.44 420.36h0M472.77 427.91h0M476.47 417.65h0M478.83 426.64h0M482.6 423.44h0M480.79 426.63h0M483.65 426.28h0M474.56 418.31h0M473.04 425.75h0M472.88 424.1h0" stroke="#1ab3e0" stroke-width="1.5" stroke-linecap="round" />
<path d="M463.3 375h0M476.5 379.2h0M493.8 396h0M462.3 400.8h0M492.5 408.2h0M466 416.7h0M466 423.9h0M488.3 439h0M492 414.4h0" stroke="#f3b6f0" stroke-width="4.4" stroke-linecap="round" />
<text x="489" y="386.7" font-size="7.3" text-anchor="start" fill="#111" stroke="#111" stroke-width="0.06" >Axonogenesis</text>
<text x="433.7" y="434.3" font-size="7.3" text-anchor="start" fill="#111" stroke="#111" stroke-width="0.06" >Neuron to neuron synapse</text>
<text x="536.6" y="401.2" font-size="3.4" text-anchor="start" fill="#444" stroke="#444" stroke-width="0.036" >Counts</text>
<circle cx="539.3" cy="404.5" r="1.3" fill="none" stroke="#333" stroke-width="0.6"/>
<text x="543.2" y="405.7" font-size="3.3" text-anchor="start" fill="#444" stroke="#444" stroke-width="0.036" >50</text>
<circle cx="539.3" cy="410.2" r="1.8" fill="none" stroke="#333" stroke-width="0.6"/>
<text x="543.2" y="411.4" font-size="3.3" text-anchor="start" fill="#444" stroke="#444" stroke-width="0.036" >100</text>
</svg></body></html>
